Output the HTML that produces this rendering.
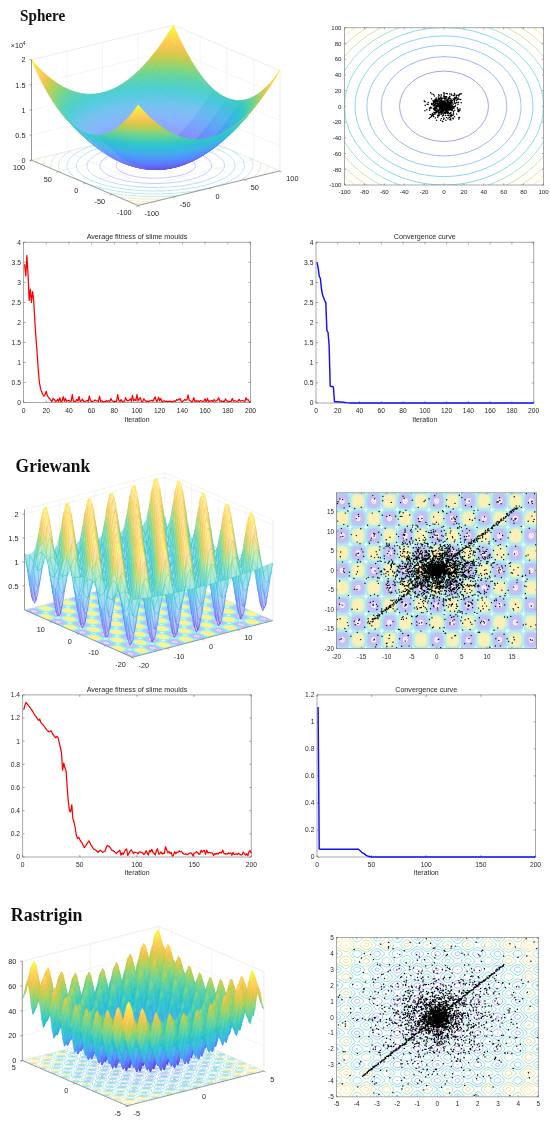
<!DOCTYPE html><html><head><meta charset="utf-8"><title>Benchmark functions</title><style>html,body{margin:0;padding:0;background:#fff}svg{display:block}</style></head><body>
<svg width="550" height="1123" viewBox="0 0 550 1123" font-family="Liberation Sans, Arial, sans-serif">
<rect width="550" height="1123" fill="#fff"/>
<text transform="translate(20 20.6) scale(1 1.14)" font-size="15.2" fill="#111" font-family="Liberation Serif, Times New Roman, serif" font-weight="bold">Sphere</text>
<text transform="translate(15.6 471.6) scale(1 1.055)" font-size="17.45" fill="#111" font-family="Liberation Serif, Times New Roman, serif" font-weight="bold">Griewank</text>
<text transform="translate(10.8 921.4) scale(1 1.035)" font-size="17.9" fill="#111" font-family="Liberation Serif, Times New Roman, serif" font-weight="bold">Rastrigin</text>
<path d="M23.5 242.3H250.5V402.5H23.5zM23.5 402.5v-2M23.5 242.3v2M46.2 402.5v-2M46.2 242.3v2M68.9 402.5v-2M68.9 242.3v2M91.6 402.5v-2M91.6 242.3v2M114.3 402.5v-2M114.3 242.3v2M137 402.5v-2M137 242.3v2M159.7 402.5v-2M159.7 242.3v2M182.4 402.5v-2M182.4 242.3v2M205.1 402.5v-2M205.1 242.3v2M227.8 402.5v-2M227.8 242.3v2M250.5 402.5v-2M250.5 242.3v2M23.5 402.5h2M250.5 402.5h-2M23.5 382.5h2M250.5 382.5h-2M23.5 362.4h2M250.5 362.4h-2M23.5 342.4h2M250.5 342.4h-2M23.5 322.4h2M250.5 322.4h-2M23.5 302.4h2M250.5 302.4h-2M23.5 282.4h2M250.5 282.4h-2M23.5 262.3h2M250.5 262.3h-2M23.5 242.3h2M250.5 242.3h-2" fill="none" stroke="#606060" stroke-width=".55"/>
<text x="23.5" y="412.8" font-size="6.7" text-anchor="middle" fill="#262626">0</text>
<text x="46.2" y="412.8" font-size="6.7" text-anchor="middle" fill="#262626">20</text>
<text x="68.9" y="412.8" font-size="6.7" text-anchor="middle" fill="#262626">40</text>
<text x="91.6" y="412.8" font-size="6.7" text-anchor="middle" fill="#262626">60</text>
<text x="114.3" y="412.8" font-size="6.7" text-anchor="middle" fill="#262626">80</text>
<text x="137" y="412.8" font-size="6.7" text-anchor="middle" fill="#262626">100</text>
<text x="159.7" y="412.8" font-size="6.7" text-anchor="middle" fill="#262626">120</text>
<text x="182.4" y="412.8" font-size="6.7" text-anchor="middle" fill="#262626">140</text>
<text x="205.1" y="412.8" font-size="6.7" text-anchor="middle" fill="#262626">160</text>
<text x="227.8" y="412.8" font-size="6.7" text-anchor="middle" fill="#262626">180</text>
<text x="250.5" y="412.8" font-size="6.7" text-anchor="middle" fill="#262626">200</text>
<text x="20.9" y="404.9" font-size="6.7" text-anchor="end" fill="#262626">0</text>
<text x="20.9" y="384.9" font-size="6.7" text-anchor="end" fill="#262626">0.5</text>
<text x="20.9" y="364.9" font-size="6.7" text-anchor="end" fill="#262626">1</text>
<text x="20.9" y="344.8" font-size="6.7" text-anchor="end" fill="#262626">1.5</text>
<text x="20.9" y="324.8" font-size="6.7" text-anchor="end" fill="#262626">2</text>
<text x="20.9" y="304.8" font-size="6.7" text-anchor="end" fill="#262626">2.5</text>
<text x="20.9" y="284.8" font-size="6.7" text-anchor="end" fill="#262626">3</text>
<text x="20.9" y="264.7" font-size="6.7" text-anchor="end" fill="#262626">3.5</text>
<text x="20.9" y="244.7" font-size="6.7" text-anchor="end" fill="#262626">4</text>
<text x="137" y="238.8" font-size="7.15" text-anchor="middle" fill="#262626">Average fitness of slime moulds</text>
<text x="137" y="422.2" font-size="6.95" text-anchor="middle" fill="#262626">Iteration</text>
<path d="M24.6 264.3l1.2 11.6 1.1-20.4 1.1 18.8 1.2 26.1 1.1-11.2 1.1 13.2 1.2-10.8 1.1 8.8 1.1 20 1.2 18 1.1 14.4 1.2 17.7 1.1 12 1.1 5.6 1.2 4 1.1 2.4 1.1 1.6 1.2-1.6 1.1-3.2 1.1 4.4 1.2 1.6 1.1 1.2 1.1 1.6 1.2 1.6 1.1-3.2 1.1 .6 1.2 2.5 1.1-.4 1.2-1.9 1.1 2.2 1.1-3.7 1.2 3.9 1.1-.6 1.1-4.5 1.2 4.8 1.1-2.9 1.1 2.8 1.2-.8 1.1-.2 1.1 1 1.2-.1 1.1-6.7 1.1 6.6 1.2 .3 1.1 .3 1.1-2.4 1.2 1.9 1.1-4.7 1.1 5 1.2-.7 1.1-1.6 1.2 2.2 1.1 .1 1.1-.5 1.2-.6 1.1 1.3 1.1-5.6 1.2 4.6 1.1 .8 1.1 0 1.2-.5 1.1-1.1 1.1 1 1.2-.1 1.1 .7 1.1-5.4 1.2 5.5 1.1-1 1.2 1.1 1.1-.1 1.1 .1 1.2-1.2 1.1 1 1.1-.8 1.2 .8 1.1-3 1.1 2.2 1.2 .8 1.1 0 1.1-.1 1.2 0 1.1-6.9 1.1 6 1.2 1.1 1.1-2 1.1 2 1.2-.3 1.1-.2 1.1-3.4 1.2 2.6 1.1 .8 1.2-.9 1.1-1.4 1.1 2.5 1.2-6 1.1 5.7 1.1-1.5 1.2 1 1.1-6 1.1 6.3 1.2-1.7 1.1-1.4 1.1 3.9 1.2 .1 1.1-2.9 1.1 1.4 1.2 1.1 1.1-.2 1.2 .5 1.1-.7 1.1 0 1.2-.5 1.1 .7 1.1-2 1.2-2.2 1.1 4.3 1.1 .1 1.2-4 1.1 3.2 1.1-2 1.2 3.2 1.1-.5 1.1-.3 1.2 .4 1.1-.2 1.1 .6 1.2-.3 1.1-.2 1.1 .3 1.2 .2 1.1-.2 1.2-.8 1.1 .8 1.1-1.8 1.2 .5 1.1-1 1.1-.6 1.2 3.1 1.1-.3 1.1-.6 1.2-1.4 1.1 .8 1.1-.2 1.2-5.1 1.1 5.4 1.1 .5 1.2 .9 1.1-.2 1.2-3.8 1.1 4 1.1-1.1 1.2 .8 1.1-.5 1.1 .7 1.2-1 1.1 .4 1.1 .5 1.2-.5 1.1-2.1 1.1 2.6 1.2-3 1.1 3.2 1.1-.9 1.2 .4 1.1-.9 1.1 1.4 1.2-2.2 1.1 1.9 1.1-.4 1.2-1.2 1.1-2.1 1.2 3.6 1.1-.6 1.1 1 1.2-.6 1.1 .5 1.1-2.7 1.2 2.1 1.1 .1 1.1 .6 1.2-.4 1.1 .1 1.1-2.9 1.2 2.7 1.1-.5 1.1 .3 1.2 .5 1.1-.3 1.2-1.9 1.1 2 1.1-.6 1.2 0 1.1 .3 1.1 .6 1.2-3.9 1.1 2.3 1.1-.3 1.2 2 1.1-.2" fill="none" stroke="#f00" stroke-width="1.25" stroke-linejoin="round"/>
<path d="M316 242.3H533.7V403H316zM316 403v-2M316 242.3v2M337.8 403v-2M337.8 242.3v2M359.5 403v-2M359.5 242.3v2M381.3 403v-2M381.3 242.3v2M403.1 403v-2M403.1 242.3v2M424.9 403v-2M424.9 242.3v2M446.6 403v-2M446.6 242.3v2M468.4 403v-2M468.4 242.3v2M490.2 403v-2M490.2 242.3v2M511.9 403v-2M511.9 242.3v2M533.7 403v-2M533.7 242.3v2M316 403h2M533.7 403h-2M316 382.9h2M533.7 382.9h-2M316 362.8h2M533.7 362.8h-2M316 342.7h2M533.7 342.7h-2M316 322.6h2M533.7 322.6h-2M316 302.6h2M533.7 302.6h-2M316 282.5h2M533.7 282.5h-2M316 262.4h2M533.7 262.4h-2M316 242.3h2M533.7 242.3h-2" fill="none" stroke="#606060" stroke-width=".55"/>
<text x="316" y="413.3" font-size="6.7" text-anchor="middle" fill="#262626">0</text>
<text x="337.8" y="413.3" font-size="6.7" text-anchor="middle" fill="#262626">20</text>
<text x="359.5" y="413.3" font-size="6.7" text-anchor="middle" fill="#262626">40</text>
<text x="381.3" y="413.3" font-size="6.7" text-anchor="middle" fill="#262626">60</text>
<text x="403.1" y="413.3" font-size="6.7" text-anchor="middle" fill="#262626">80</text>
<text x="424.9" y="413.3" font-size="6.7" text-anchor="middle" fill="#262626">100</text>
<text x="446.6" y="413.3" font-size="6.7" text-anchor="middle" fill="#262626">120</text>
<text x="468.4" y="413.3" font-size="6.7" text-anchor="middle" fill="#262626">140</text>
<text x="490.2" y="413.3" font-size="6.7" text-anchor="middle" fill="#262626">160</text>
<text x="511.9" y="413.3" font-size="6.7" text-anchor="middle" fill="#262626">180</text>
<text x="533.7" y="413.3" font-size="6.7" text-anchor="middle" fill="#262626">200</text>
<text x="313.4" y="405.4" font-size="6.7" text-anchor="end" fill="#262626">0</text>
<text x="313.4" y="385.3" font-size="6.7" text-anchor="end" fill="#262626">0.5</text>
<text x="313.4" y="365.2" font-size="6.7" text-anchor="end" fill="#262626">1</text>
<text x="313.4" y="345.1" font-size="6.7" text-anchor="end" fill="#262626">1.5</text>
<text x="313.4" y="325.1" font-size="6.7" text-anchor="end" fill="#262626">2</text>
<text x="313.4" y="305" font-size="6.7" text-anchor="end" fill="#262626">2.5</text>
<text x="313.4" y="284.9" font-size="6.7" text-anchor="end" fill="#262626">3</text>
<text x="313.4" y="264.8" font-size="6.7" text-anchor="end" fill="#262626">3.5</text>
<text x="313.4" y="244.7" font-size="6.7" text-anchor="end" fill="#262626">4</text>
<text x="424.8" y="238.8" font-size="7.15" text-anchor="middle" fill="#262626">Convergence curve</text>
<text x="424.8" y="422.2" font-size="6.95" text-anchor="middle" fill="#262626">Iteration</text>
<path d="M317.1 262.4l1.1 6 1.1 8 1.1 2.1 1 10 1.1 6 1.1 3.2 1.1 2.9 1.1 2 1.1 28.1 1.1 1.6 1.1 12.4 1.1 41.4 1 .4 1.1 0 1.1 .4 1.1 14.9 3.3 0 5.4 .4 3.3 .4 4.3 .4 182.9 0" fill="none" stroke="#11f" stroke-width="1.45" stroke-linejoin="round"/>
<path d="M22.6 694.9H251.3V857H22.6zM22.6 857v-2M22.6 694.9v2M79.8 857v-2M79.8 694.9v2M137 857v-2M137 694.9v2M194.1 857v-2M194.1 694.9v2M251.3 857v-2M251.3 694.9v2M22.6 857h2M251.3 857h-2M22.6 833.8h2M251.3 833.8h-2M22.6 810.7h2M251.3 810.7h-2M22.6 787.5h2M251.3 787.5h-2M22.6 764.3h2M251.3 764.3h-2M22.6 741.2h2M251.3 741.2h-2M22.6 718h2M251.3 718h-2M22.6 694.9h2M251.3 694.9h-2" fill="none" stroke="#606060" stroke-width=".55"/>
<text x="22.6" y="866.7" font-size="6.7" text-anchor="middle" fill="#262626">0</text>
<text x="79.8" y="866.7" font-size="6.7" text-anchor="middle" fill="#262626">50</text>
<text x="137" y="866.7" font-size="6.7" text-anchor="middle" fill="#262626">100</text>
<text x="194.1" y="866.7" font-size="6.7" text-anchor="middle" fill="#262626">150</text>
<text x="251.3" y="866.7" font-size="6.7" text-anchor="middle" fill="#262626">200</text>
<text x="20" y="859.4" font-size="6.7" text-anchor="end" fill="#262626">0</text>
<text x="20" y="836.2" font-size="6.7" text-anchor="end" fill="#262626">0.2</text>
<text x="20" y="813.1" font-size="6.7" text-anchor="end" fill="#262626">0.4</text>
<text x="20" y="789.9" font-size="6.7" text-anchor="end" fill="#262626">0.6</text>
<text x="20" y="766.8" font-size="6.7" text-anchor="end" fill="#262626">0.8</text>
<text x="20" y="743.6" font-size="6.7" text-anchor="end" fill="#262626">1</text>
<text x="20" y="720.4" font-size="6.7" text-anchor="end" fill="#262626">1.2</text>
<text x="20" y="697.3" font-size="6.7" text-anchor="end" fill="#262626">1.4</text>
<text x="137" y="691.8" font-size="7.15" text-anchor="middle" fill="#262626">Average fitness of slime moulds</text>
<text x="137" y="875.2" font-size="6.95" text-anchor="middle" fill="#262626">Iteration</text>
<path d="M23.7 709.9l1.2-4.6 1.1-2.9 1.2 1.4 1.1 1.5 1.2 1.5 1.1 1.6 1.1 1.5 1.2 1.9 1.1 2 1.2 1.9 1.1 1.5 1.2 1.6 1.1 1.5 1.2-1.1 1.1 3.4 1.1 1.2 1.2 1.2 1.1 1.5 1.2 1.6 1.1 1.5 1.2 1.2 1.1 1.1 1.1-.6 1.2-.5 1.1 2.3 1.2 2.3 1.1 1.1 1.2 1.2 1.1-1.2 1.1 1.2 1.2 4.6 1.1 4.7 1.2 5.8 1.1 17.3 1.2-6.9 1.1 4.6 1.2 3.5 1.1 16.2 1.1 13.9 1.2 9.3 1.1 1.1 1.2-6.9 1.1 13.9 1.2 3.5 1.1 5.7 1.1 7 1.2 3.5 1.1-1.2 1.2 2.3 1.1 1.8 1.2 1.7 1.1 2.3 1.1 2.3 1.2-1.7 1.1-1.7 1.2-1.8 1.1-1.7 1.2 2.3 1.1 2.3 1.2 1.8 1.1 1.7 1.1 .6 1.2 .6 1.1 1.1 1.2 1.2 1.1-1.2 1.2-1.1 1.1 1.1 1.1 1.2 1.2-.6 1.1-.6 1.2-2.9 1.1-2.9 1.2 .6 1.1 .6 1.1 1.7 1.2 1.8 1.1 .5 1.2 .6 1.1 1.2 1.2 1.1 1.1-1.1 1.2-1.2 1.1-1.1 1.1 5 1.2-2.2 1.1 1.7 1.2-2.6 1.1-2.2 1.2-.8 1.1 6.4 1.1-2 1.2-2.1 1.1-1.5 1.2 2 1.1 1.9 1.2-1.7 1.1 .5 1.2 .4 1.1 .9 1.1-1.9 1.2 .2 1.1 .6 1.2 .2 1.1 1.8 1.2-1.3 1.1-2.7 1.1 2.2 1.2 2.1 1.1-4.5 1.2 1.3 1.1-2.5 1.2 3.3 1.1 .8 1.1 1.6 1.2-4.4 1.1-1.9 1.2 5.4 1.1-.3 1.2-2 1.1 2.3 1.2-.9 1.1 .2 1.1-6.8 1.2 3.5 1.1 2.7 1.2-1.3 1.1 2 1.2-1.1 1.1 3.8 1.1-1.1 1.2-3.4 1.1 2.1 1.2-1.7 1.1 .1 1.2-1.2 1.1 .8 1.1-.3 1.2 1.7 1.1 .9 1.2 0 1.1-.3 1.2 .9 1.1-.8 1.2-.7 1.1-.5 1.1 .9 1.2 2.3 1.1-2.7 1.2-.4 1.1-1.2 1.2 .8 1.1 1.7 1.1 .1 1.2-3.8 1.1 1.8 1.2-1.5 1.1-.4 1.2 4.1 1.1-4.3 1.1 2.6 1.2-.2 1.1 .1 1.2 .4 1.1 .1 1.2 2.3 1.1-1.8 1.2 .8 1.1-1.2 1.1 .8 1.2-1.4 1.1-.3 1.2 .7 1.1-2.9 1.2 3.2 1.1 .8 1.1-.4 1.2 .4 1.1-1.1 1.2 .5 1.1-.7 1.2 2.5 1.1-2.9 1.1 2.1 1.2 0 1.1-.7 1.2 .5 1.1-1 1.2 1.1 1.1 .6 1.2-.3 1.1-2.7 1.1 1.6 1.2 1.5 1.1-1.4 1.2 1.9 1.1-4 1.2-1 1.1 2.6" fill="none" stroke="#f00" stroke-width="1.25" stroke-linejoin="round"/>
<path d="M317 694.9H535.5V857H317zM317 857v-2M317 694.9v2M371.6 857v-2M371.6 694.9v2M426.2 857v-2M426.2 694.9v2M480.9 857v-2M480.9 694.9v2M535.5 857v-2M535.5 694.9v2M317 857h2M535.5 857h-2M317 830h2M535.5 830h-2M317 803h2M535.5 803h-2M317 775.9h2M535.5 775.9h-2M317 748.9h2M535.5 748.9h-2M317 721.9h2M535.5 721.9h-2M317 694.9h2M535.5 694.9h-2" fill="none" stroke="#606060" stroke-width=".55"/>
<text x="317" y="866.7" font-size="6.7" text-anchor="middle" fill="#262626">0</text>
<text x="371.6" y="866.7" font-size="6.7" text-anchor="middle" fill="#262626">50</text>
<text x="426.2" y="866.7" font-size="6.7" text-anchor="middle" fill="#262626">100</text>
<text x="480.9" y="866.7" font-size="6.7" text-anchor="middle" fill="#262626">150</text>
<text x="535.5" y="866.7" font-size="6.7" text-anchor="middle" fill="#262626">200</text>
<text x="314.4" y="859.4" font-size="6.7" text-anchor="end" fill="#262626">0</text>
<text x="314.4" y="832.4" font-size="6.7" text-anchor="end" fill="#262626">0.2</text>
<text x="314.4" y="805.4" font-size="6.7" text-anchor="end" fill="#262626">0.4</text>
<text x="314.4" y="778.3" font-size="6.7" text-anchor="end" fill="#262626">0.6</text>
<text x="314.4" y="751.3" font-size="6.7" text-anchor="end" fill="#262626">0.8</text>
<text x="314.4" y="724.3" font-size="6.7" text-anchor="end" fill="#262626">1</text>
<text x="314.4" y="697.3" font-size="6.7" text-anchor="end" fill="#262626">1.2</text>
<text x="426.2" y="691.8" font-size="7.15" text-anchor="middle" fill="#262626">Convergence curve</text>
<text x="426.2" y="875.2" font-size="6.95" text-anchor="middle" fill="#262626">Iteration</text>
<path d="M318.1 707l1.1 141.9 1.1 .3 38.2 0 1.1 1 2.2 2.1 2.2 1.3 2.2 1.8 2.1 .9 3.3 .7 163.9 0" fill="none" stroke="#11f" stroke-width="1.45" stroke-linejoin="round"/>
<defs>
<clipPath id="kS"><rect x="344.5" y="27.7" width="199" height="157.3"/></clipPath>
<g id="cS" clip-path="url(#kS)" fill="none" stroke-width=".95"><ellipse cx="444" cy="106.3" rx="44.5" ry="35.2" stroke="#9f9df3"/><ellipse cx="444" cy="106.3" rx="62.9" ry="49.7" stroke="#9db0fe"/><ellipse cx="444" cy="106.3" rx="77.1" ry="60.9" stroke="#92c3f9"/><ellipse cx="444" cy="106.3" rx="89" ry="70.3" stroke="#89d3ee"/><ellipse cx="444" cy="106.3" rx="99.5" ry="78.7" stroke="#84dddb"/><ellipse cx="444" cy="106.3" rx="109" ry="86.2" stroke="#a0e4c0"/><ellipse cx="444" cy="106.3" rx="117.7" ry="93.1" stroke="#cde39d"/><ellipse cx="444" cy="106.3" rx="125.9" ry="99.5" stroke="#f4db94"/><ellipse cx="444" cy="106.3" rx="133.5" ry="105.5" stroke="#fde992"/></g>
<g id="tG"><rect width="31.79" height="35.00" fill="#aeeaf0"/><path d="M4.5 .9l-1.6 .3-.9 .5-.7 .9-.3 1.2-.4 2.9 0 4 .3 2.6 .2 .9 .4 .8 .6 .7 .8 .4 1.3 .4 1.6 .1 2.6 .1 2.4-.1 1.5-.3 1.1-.4 .6-.6 .5-.8 .4-1.5 .2-1.7 0-3.2-.1-2.9-.3-1.7-.5-1.2-.5-.6-.6-.4-.8-.2-.9-.2-3.5-.2zM20.2 18.2l-1.6 .4-.9 .5-.6 .9-.4 1.1-.3 2.9 0 4 .3 2.6 .2 .9 .3 .9 .6 .6 .8 .5 1.3 .3 1.6 .2 2.6 0 2.4-.1 1.6-.3 1-.4 .7-.5 .5-.9 .3-1.4 .2-1.8 .1-3.2-.2-2.8-.2-1.8-.5-1.1-.5-.6-.6-.4-.8-.3-1-.2-3.5-.2z" fill="#b0dcf4"/><path d="M5.2 1.7l-1.3 .4-1 .6-.8 1.1-.4 1.1-.3 2.3-.1 2.6 .3 2.3 .5 1.5 .6 .9 .8 .5 1 .5 1.3 .3 1.8 .1 1.8-.1 1.6-.3 1.1-.4 .8-.5 .5-.7 .6-1.2 .3-1.4 .1-2 0-2.4-.3-1.7-.5-1.4-.5-.8-.5-.5-.8-.4-1-.4-1.4-.2-1.3 0-1.5 0zM21 19l-1.3 .4-1.1 .7-.7 1-.4 1.2-.4 2.3 0 2.6 .3 2.3 .5 1.4 .6 .9 .7 .6 1 .4 1.3 .3 1.9 .1 1.8 0 1.6-.3 1-.4 .8-.6 .6-.7 .5-1.1 .3-1.5 .2-2-.1-2.3-.2-1.7-.5-1.5-.5-.7-.6-.5-.7-.5-1.1-.3-1.3-.2-1.3-.1-1.6 .1z" fill="#b8c8f6"/><path d="M6.3 2.6l-1.1 .3-1.1 .6-.7 .7-.6 1-.4 1.5-.2 1.7 .2 2 .3 1.5 .4 .8 .6 .8 .8 .6 .7 .4 1.4 .3 1.3 .1 1.3-.1 1.3-.3 1-.6 .7-.6 .6-.9 .3-.8 .3-1.5 .1-1.7-.1-1.5-.4-1.4-.3-.9-.6-.7-.6-.5-.7-.4-1.1-.4-1-.1-1.4 0zM22 19.9l-1.1 .3-1 .6-.7 .7-.6 1.1-.5 1.4-.1 1.7 .1 2.1 .3 1.4 .4 .9 .6 .7 .8 .7 .8 .3 1.3 .3 1.3 .1 1.3-.1 1.3-.3 1.1-.5 .7-.7 .6-.8 .3-.9 .3-1.4 .1-1.8-.2-1.5-.3-1.4-.4-.8-.6-.8-.5-.4-.8-.5-1-.3-1.1-.2-1.3 0z" fill="#c6bef4"/><path d="M7.1 6.1l-.5 .2-.4 .4-.6 .8-.2 .9 .1 1.1 .2 .6 .3 .4 .8 .7 .8 .2 1.1-.1 .5-.3 .4-.3 .5-.9 .2-.8-.1-1.2-.2-.6-.3-.4-.8-.6-.8-.2zM22.8 23.4l-.5 .3-.4 .3-.5 .9-.2 .8 .1 1.2 .2 .6 .3 .4 .8 .6 .8 .2 1-.1 .5-.2 .4-.4 .6-.8 .2-.9-.1-1.1-.3-.6-.2-.5-.8-.6-.8-.2z" fill="#fff"/><path d="M22.2 1.2l3 0 1.3 .1 1.1 .3 .7 .3 .6 .4 .5 .6 .5 .9 .3 1.4 .3 2.3-.1 2.6-.2 2-.3 1.4-.5 1-.5 .6-1.1 .6-1.6 .4-1.8 .1-2.1 0-1.8-.2-1.2-.4-.9-.5-.6-.6-.4-.9-.5-2-.1-2.9 .1-2.9 .5-2 .6-1.2 .9-.7 1.3-.5zM6.5 18.5l2.9 0 1.4 .2 1 .2 .8 .4 .6 .4 .5 .5 .4 .9 .4 1.5 .2 2.3 0 2.6-.2 2-.3 1.3-.5 1-.6 .6-1 .6-1.6 .4-1.8 .2-2.1-.1-1.9-.2-1.2-.3-.9-.6-.5-.6-.5-.9-.4-2-.2-2.9 .2-2.9 .4-2 .7-1.1 .8-.7 1.4-.5z" fill="#d2f0cc"/><path d="M21.8 2.3l1-.1 1.3 0 1.4 .1 1 .3 .8 .4 .7 .5 .5 .5 .4 .9 .4 1.5 .2 1.7 0 1.7-.3 1.8-.4 1.1-.6 .9-.6 .6-1.1 .5-1.3 .4-1.3 .1-1.3-.1-1.3-.2-1.1-.4-.8-.5-.6-.7-.5-.9-.4-1.4-.2-2 .1-2.1 .4-1.7 .6-1.2 .6-.7 1.1-.6zM6 19.7l1.1-.2 1.3 0 1.3 .2 1.1 .2 .7 .4 .7 .5 .5 .6 .5 .9 .4 1.4 .2 1.7-.1 1.8-.2 1.7-.4 1.2-.6 .8-.7 .7-1 .5-1.4 .3-1.3 .1-1.3 0-1.3-.2-1-.4-.8-.5-.7-.8-.4-.8-.4-1.5-.2-2 .1-2 .4-1.7 .5-1.2 .7-.7 1-.7z" fill="#eef0c0"/><path d="M22.8 3.5l1.1-.1 1 .2 .8 .2 .8 .4 .8 .7 .4 .6 .3 .9 .3 .8 .1 1.2-.1 1.4-.3 1.2-.3 .9-.4 .5-.8 .7-.8 .4-1 .3-1.1 .1-1-.1-1.1-.3-.8-.4-.7-.7-.4-.5-.4-.9-.2-.9-.1-1.1 0-1.5 .3-1.1 .4-.9 .6-.8 .8-.6 .8-.4zM7.1 20.8l1 0 1.1 .1 .8 .2 .8 .5 .7 .7 .4 .5 .4 .9 .2 .9 .1 1.1 0 1.5-.3 1.1-.4 .9-.4 .6-.7 .7-.8 .4-1.1 .3-1 .1-1.1-.1-1-.3-.8-.4-.8-.7-.4-.6-.4-.9-.2-.8-.1-1.2 .1-1.4 .2-1.2 .4-.9 .7-.8 .7-.6 .8-.3z" fill="#fbf0b8"/><path d="M7.3 7.5l-.2 .1-.3 .5-.2 .6 .2 .6 .3 .4 .2 .2 .6 .1 .5-.1 .4-.4 .2-.2 .1-.6-.1-.6-.2-.3-.4-.3-.5-.2zM23.1 24.8l-.4 .4-.2 .2-.1 .6 .1 .6 .2 .3 .4 .3 .5 .2 .5-.2 .3-.1 .3-.5 .1-.6-.1-.6-.3-.4-.3-.2-.5-.1z" fill="none" stroke="#b8a8ee" stroke-width=".5"/></g>
<clipPath id="kG"><rect x="336.5" y="492.7" width="200" height="155.8"/></clipPath>
<path id="sG" d="M2.6 0L.7 .8 0 2.9 -.7 .8 -2.6 0 -.7 -.8 0 -2.9 .7 -.8z" fill="#fff"/>
<g id="cG" clip-path="url(#kG)"><use href="#tG" x="334.39" y="492.34"/><use href="#tG" x="334.39" y="527.03"/><use href="#tG" x="334.39" y="561.73"/><use href="#tG" x="334.39" y="596.43"/><use href="#tG" x="334.39" y="631.12"/><use href="#tG" x="365.89" y="492.34"/><use href="#tG" x="365.89" y="527.03"/><use href="#tG" x="365.89" y="561.73"/><use href="#tG" x="365.89" y="596.43"/><use href="#tG" x="365.89" y="631.12"/><use href="#tG" x="397.38" y="492.34"/><use href="#tG" x="397.38" y="527.03"/><use href="#tG" x="397.38" y="561.73"/><use href="#tG" x="397.38" y="596.43"/><use href="#tG" x="397.38" y="631.12"/><use href="#tG" x="428.88" y="492.34"/><use href="#tG" x="428.88" y="527.03"/><use href="#tG" x="428.88" y="561.73"/><use href="#tG" x="428.88" y="596.43"/><use href="#tG" x="428.88" y="631.12"/><use href="#tG" x="460.37" y="492.34"/><use href="#tG" x="460.37" y="527.03"/><use href="#tG" x="460.37" y="561.73"/><use href="#tG" x="460.37" y="596.43"/><use href="#tG" x="460.37" y="631.12"/><use href="#tG" x="491.87" y="492.34"/><use href="#tG" x="491.87" y="527.03"/><use href="#tG" x="491.87" y="561.73"/><use href="#tG" x="491.87" y="596.43"/><use href="#tG" x="491.87" y="631.12"/><use href="#tG" x="523.36" y="492.34"/><use href="#tG" x="523.36" y="527.03"/><use href="#tG" x="523.36" y="561.73"/><use href="#tG" x="523.36" y="596.43"/><use href="#tG" x="523.36" y="631.12"/><use href="#sG" x="350.1" y="492.3"/><use href="#sG" x="350.1" y="509.7"/><use href="#sG" x="350.1" y="527.0"/><use href="#sG" x="350.1" y="544.4"/><use href="#sG" x="350.1" y="561.7"/><use href="#sG" x="350.1" y="579.1"/><use href="#sG" x="350.1" y="596.4"/><use href="#sG" x="350.1" y="613.8"/><use href="#sG" x="350.1" y="631.1"/><use href="#sG" x="350.1" y="648.5"/><use href="#sG" x="365.9" y="492.3"/><use href="#sG" x="365.9" y="509.7"/><use href="#sG" x="365.9" y="527.0"/><use href="#sG" x="365.9" y="544.4"/><use href="#sG" x="365.9" y="561.7"/><use href="#sG" x="365.9" y="579.1"/><use href="#sG" x="365.9" y="596.4"/><use href="#sG" x="365.9" y="613.8"/><use href="#sG" x="365.9" y="631.1"/><use href="#sG" x="365.9" y="648.5"/><use href="#sG" x="381.6" y="492.3"/><use href="#sG" x="381.6" y="509.7"/><use href="#sG" x="381.6" y="527.0"/><use href="#sG" x="381.6" y="544.4"/><use href="#sG" x="381.6" y="561.7"/><use href="#sG" x="381.6" y="579.1"/><use href="#sG" x="381.6" y="596.4"/><use href="#sG" x="381.6" y="613.8"/><use href="#sG" x="381.6" y="631.1"/><use href="#sG" x="381.6" y="648.5"/><use href="#sG" x="397.4" y="492.3"/><use href="#sG" x="397.4" y="509.7"/><use href="#sG" x="397.4" y="527.0"/><use href="#sG" x="397.4" y="544.4"/><use href="#sG" x="397.4" y="561.7"/><use href="#sG" x="397.4" y="579.1"/><use href="#sG" x="397.4" y="596.4"/><use href="#sG" x="397.4" y="613.8"/><use href="#sG" x="397.4" y="631.1"/><use href="#sG" x="397.4" y="648.5"/><use href="#sG" x="413.1" y="492.3"/><use href="#sG" x="413.1" y="509.7"/><use href="#sG" x="413.1" y="527.0"/><use href="#sG" x="413.1" y="544.4"/><use href="#sG" x="413.1" y="561.7"/><use href="#sG" x="413.1" y="579.1"/><use href="#sG" x="413.1" y="596.4"/><use href="#sG" x="413.1" y="613.8"/><use href="#sG" x="413.1" y="631.1"/><use href="#sG" x="413.1" y="648.5"/><use href="#sG" x="428.9" y="492.3"/><use href="#sG" x="428.9" y="509.7"/><use href="#sG" x="428.9" y="527.0"/><use href="#sG" x="428.9" y="544.4"/><use href="#sG" x="428.9" y="561.7"/><use href="#sG" x="428.9" y="579.1"/><use href="#sG" x="428.9" y="596.4"/><use href="#sG" x="428.9" y="613.8"/><use href="#sG" x="428.9" y="631.1"/><use href="#sG" x="428.9" y="648.5"/><use href="#sG" x="444.6" y="492.3"/><use href="#sG" x="444.6" y="509.7"/><use href="#sG" x="444.6" y="527.0"/><use href="#sG" x="444.6" y="544.4"/><use href="#sG" x="444.6" y="561.7"/><use href="#sG" x="444.6" y="579.1"/><use href="#sG" x="444.6" y="596.4"/><use href="#sG" x="444.6" y="613.8"/><use href="#sG" x="444.6" y="631.1"/><use href="#sG" x="444.6" y="648.5"/><use href="#sG" x="460.4" y="492.3"/><use href="#sG" x="460.4" y="509.7"/><use href="#sG" x="460.4" y="527.0"/><use href="#sG" x="460.4" y="544.4"/><use href="#sG" x="460.4" y="561.7"/><use href="#sG" x="460.4" y="579.1"/><use href="#sG" x="460.4" y="596.4"/><use href="#sG" x="460.4" y="613.8"/><use href="#sG" x="460.4" y="631.1"/><use href="#sG" x="460.4" y="648.5"/><use href="#sG" x="476.1" y="492.3"/><use href="#sG" x="476.1" y="509.7"/><use href="#sG" x="476.1" y="527.0"/><use href="#sG" x="476.1" y="544.4"/><use href="#sG" x="476.1" y="561.7"/><use href="#sG" x="476.1" y="579.1"/><use href="#sG" x="476.1" y="596.4"/><use href="#sG" x="476.1" y="613.8"/><use href="#sG" x="476.1" y="631.1"/><use href="#sG" x="476.1" y="648.5"/><use href="#sG" x="491.9" y="492.3"/><use href="#sG" x="491.9" y="509.7"/><use href="#sG" x="491.9" y="527.0"/><use href="#sG" x="491.9" y="544.4"/><use href="#sG" x="491.9" y="561.7"/><use href="#sG" x="491.9" y="579.1"/><use href="#sG" x="491.9" y="596.4"/><use href="#sG" x="491.9" y="613.8"/><use href="#sG" x="491.9" y="631.1"/><use href="#sG" x="491.9" y="648.5"/><use href="#sG" x="507.6" y="492.3"/><use href="#sG" x="507.6" y="509.7"/><use href="#sG" x="507.6" y="527.0"/><use href="#sG" x="507.6" y="544.4"/><use href="#sG" x="507.6" y="561.7"/><use href="#sG" x="507.6" y="579.1"/><use href="#sG" x="507.6" y="596.4"/><use href="#sG" x="507.6" y="613.8"/><use href="#sG" x="507.6" y="631.1"/><use href="#sG" x="507.6" y="648.5"/><use href="#sG" x="523.4" y="492.3"/><use href="#sG" x="523.4" y="509.7"/><use href="#sG" x="523.4" y="527.0"/><use href="#sG" x="523.4" y="544.4"/><use href="#sG" x="523.4" y="561.7"/><use href="#sG" x="523.4" y="579.1"/><use href="#sG" x="523.4" y="596.4"/><use href="#sG" x="523.4" y="613.8"/><use href="#sG" x="523.4" y="631.1"/><use href="#sG" x="523.4" y="648.5"/></g>
<g id="qR" fill="none" stroke-width=".7"><path d="M15.3 0l.5 1.3 1 1.1 1.7 1 1.7 .3 1.7-.4 1.3-.8 1.1-1.2 .5-1.3M36.4 0l.3 1 .7 .9 1.3 .7 1.3 .3 1.4-.2 1.2-.6 .9-1 .3-1.1M58.8 0l.4 .8 1 .4 1-.3 .4-.4 .1-.5M0 4l1.7-.4 1.6-.9 1.3-1.4 .4-1.3M19.2 12.5l-1.4 .5-1.3 1.1-.8 1.3 .1 1.1 .8 1.3 1.6 1 1.7 .5 1.6-.3 1.4-.7 1-1 .5-1.1-.1-1.1-.7-1.1-1.4-1.1-1.3-.5zM39.4 13.3l-1.4 .6-.9 1-.3 1 .2 .8 1 1.1 1.1 .5 1.3 .2 1.5-.4 1-.8 .5-.8 .1-.8-.3-.8-.6-.8-.9-.6-1-.3zM60.2 15.6l-.2 .3 .2 .2 .4-.2zM0 19.5l1.7-.3 1.5-.9 1-1 .5-1.4-.4-1.3-1.2-1.3-1.4-.9-1.7-.3M19.2 29.1l-1.3 .6-.8 .8-.4 1.1 .3 1.1 1 1 1.4 .5 1.5 0 1.2-.5 .9-.8 .4-.8 0-.8-.4-.8-.8-.8-1-.5-1-.2zM39.4 30.2l-.7 .3-.6 .8 .1 .8 .3 .6 .8 .5 .7 .1 1.1-.1 .6-.4 .5-.9-.3-1.1-1.2-.7zM0 34.6l1.3-.2 1.4-.8 .8-.9 .2-1.1-.4-1.1-.9-1-1.1-.6-1.3-.2M19.9 47.4l0 .3 .3 .1 .2-.3-.2-.2zM0 48.7l1.1-.4 .4-.8-.5-.8-1-.3" stroke="#8487f4"/><path d="M10.9 0l.2 .5 .9 .8 4.8 3.8 2 1.3 1.4 .3 1.7-.6 3.5-2.6 2.2-2.2 .5-.8 .1-.5M32.7 0l.1 .5 .5 .8 2.4 2.1 2.3 1.6 2 .6 1.1-.1 1-.4 2.3-1.6 1.9-1.9 .5-.8 .2-.8M54.7 0l.4 1.3 1.4 1.4 2.1 1.2 1.6 .3 1.7-.3 1.7-1 1.5-1.6 .4-1.3M77.3 0l.2 .8 .7 .8 .9 .5 1.3 .3 1-.2 1-.6 .7-.8 .2-.8M0 7.4l1.3-.6 3.7-2.8 3.6-2.9 .8-1.1M19.2 9.5l-2 1.2-3.6 2.8-1.4 1.4-.4 1 .2 .6 .9 1 3.6 2.9 2.3 1.3 1.7 .2 2-.8 3.1-2.2 1.8-1.9 .3-.8 .1-.5-.3-.8-.9-1.1-3.7-3.2-2-1.2-.7-.1zM39.4 10.5l-2 1-2.5 1.8-1.4 1.6-.4 1 .3 .8 .6 .8 2.6 2.1 2.1 1.2 1 .2 1 0 2-.7 2.3-1.7 1.3-1.6 .3-1.3-.2-.8-.7-1.1-2.3-2-2.3-1.2zM59.6 11.9l-1.7 .6-1.8 1.3-.9 1.3-.2 1.1 .8 1.3 1.7 1.5 2.1 .7 1.6 0 1.7-.7 1.4-1.2 .8-1.3 0-1.1-.6-1.3-1.6-1.4-1.7-.8zM80.4 13.8l-1 .2-.8 .3-.5 .6-.4 .8 .1 .8 .6 .7 .7 .4 1 .3 1-.1 1-.5 .5-.6 .3-.8-.2-.8-.6-.7-.7-.4zM0 22.3l1.7-.5 2.7-1.8 3.3-2.7 .6-.8 .2-.6-.4-1-1.7-1.6-4.7-3.8-1-.7-.7-.2M19.2 26.3l-2 1-2.4 1.9-1.2 1.3-.4 1.4 .3 .8 .6 .8 2.4 1.9 2 1.1 2 .3 2-.7 2.4-1.6 1.5-1.8 .2-1.4-.3-.8-.8-1-2.6-2.3-2-1zM40 27.1l-1.6 .4-2.3 1.4-1.4 1.6-.4 1.4 .6 1.3 1.8 1.6 2 1 1.7 .3 1.7-.4 2-1.3 1.3-1.5 .3-1.3-.4-1.3-1.6-1.7-2-1.2zM58.9 28.7l-1.4 .8-1.2 1.3-.2 1.1 .4 1.1 1.4 1.2 1.7 .6 1.6-.1 1.7-.8 .8-.7 .5-1.1 0-.8-.5-1-.8-.9-1.3-.7-1.4-.3zM80.1 31.4l-.2 .2 .2 .4 .7-.1 0-.3-.4-.2zM0 37.1l2-.5 2.5-1.6 1.9-1.8 .5-.8 .2-.8-.3-.8-.5-.8-1.9-1.9-2.7-1.8-1.7-.5M19.2 43.5l-1.7 .8-1.7 1.4-.7 1.3-.1 1.1 .8 1.3 1.8 1.3 1.9 .7 1.7-.1 1.7-.8 1.4-1.1 .7-1.3 0-1.1-.8-1.4-1.7-1.4-1.6-.7zM39.4 44.3l-1.4 .6-1.3 1.1-.7 1.3 .2 1 1.1 1.3 1.4 .8 1.7 .3 1.3-.3 1.3-.8 .8-.7 .4-1.1-.2-1.1-.7-1-1.2-1-1.4-.4zM59.9 45.9l-.9 .3-.6 .5-.2 .6 0 .8 .4 .5 1 .5 1 .1 .6-.2 .7-.4 .4-.5-.1-1.1-1-.9zM0 51.6l1.7-.3 2-1.1 1.2-1.3 .5-1.4-.5-1.3-1.5-1.6-1.7-1.1-1.7-.4M19.9 61.3l-1.1 .3-.7 .5-.5 .8-.1 .8 .5 .8 .8 .6 1.1 .3 1-.1 1-.5 .5-.5 .2-.6 0-.8-.4-.6-.7-.6-.6-.3zM40 63.1l-.3 .4 .3 .2 .4 0 .2-.2-.1-.3zM0 65.7l1-.1 1.1-.6 .7-.7 .2-.8-.3-1.1-.7-.7-1-.6-1-.1" stroke="#77a5fe"/><path d="M73.3 0l.1 .5 .5 .8 2.2 1.9 2.3 1.4 2 .4 1.7-.4 2.2-1.4 1.5-1.6 .4-.8 .2-.8M96.9 0l.3 1.1 1.1 .9 1.3 .6 1.3 0M49.8 2.4l1.7-.1 2 .9 4.3 3.2 1 1 .2 .6-.6 1-2.8 2.4-2.8 1.9-1.7 .6-1.6-.2-2.4-1.5-2.5-2.4-.6-.8-.2-.8 .3-1.3 1.3-1.6 2.4-1.9zM29.8 3.5l1.8 .1 2 .9 2 1.6 .6 .8 .3 .8-.3 1.3-1.2 1.5-2 1.4-2 .8-1.7-.2-2-1-1.9-1.7-.5-.8-.2-.8 .3-1.3 1-1.3 1.9-1.5zM9.3 4l1.8 0 1.8 .8 1.6 1.3 .6 .8 .3 .8-.1 1.1-.9 1.3-1.6 1.2-1.7 .7-1.7 .1-1.7-.6-1.7-1.4-.7-.8-.3-.8 .1-1.3 1-1.4 1.6-1.2zM79.4 11.1l-2 .9-2.1 1.5-1.2 1.4-.3 .8 0 .5 .4 .8 .7 .8 2.5 1.8 2 .8 1.7 .1 2-.9 1.7-1.3 1.1-1.6 .1-1.3-.9-1.7-2-1.7-2-.9zM100.9 13.5l-1.3 .1-1.1 .5-.9 .8-.3 1 .5 1.1 .8 .7 1 .4 1.3 .1M29.3 19.1l1-.1 1 0 2.3 1.1 2.8 2.2 .6 .8 .3 .8-.5 1.3-1.5 1.6-2.3 1.7-2 .9-1.7-.2-2-1.1-2.3-2.1-.9-1.6 .1-1.3 1-1.3 2.1-1.7zM8.9 19.6l1.9-.1 2 .7 2.3 1.8 .6 .8 .3 .8-.1 1.4-1 1.3-2.1 1.6-1.7 .8-1.7 0-2-.9-2.2-1.8-.9-1.6 .2-1.3 1-1.3 1.6-1.3zM59.6 25.4l-2.1 1.2-4.1 3.1-1.8 1.6-.1 .6 1.6 1.6 3.8 2.6 2 1 1.7 .2 2-.6 2.3-1.7 1.8-1.8 .5-.8 .1-.8-.2-.8-.7-1.1-2.8-2.6-2.4-1.6-1-.2zM80.4 27.6l-1.7 .3-1.7 1-1.4 1.4-.6 1.3 .4 1.3 1.4 1.3 1.9 1.1 1.7 .3 1.7-.3 1.7-1.1 1.1-1.3 .3-1.3-.4-1.3-1.2-1.4-1.5-.9zM100.9 30.5l-.6 0-.7 .2-.5 .4-.2 .5 .1 .5 .5 .6 .8 .2 .6-.1M8.7 34.8l1.1-.3 1 .1 2.3 .9 3.3 2.5 .9 1 .3 .8 0 .6-.4 .8-1.5 1.5-3.2 2.7-2.1 1.1-1.3-.3-2.7-1.9-2.6-2.4-.9-1.5 0-.6 .3-.8 1.1-1.3 2.4-1.9zM39.7 40.7l-2 1.4-4 3.3-1.3 1.3-.4 .8 .2 .6 .6 .8 3.2 2.5 2.4 1.3 2 .4 2-.6 2.4-1.5 1.9-1.9 .5-.8 .1-.8-.2-.8-.4-.8-2.3-2.3-3.3-2.7-.7-.3zM59.2 43l-1.7 .8-2 1.6-1 1.3-.2 .8 0 .6 .5 .8 .7 .7 2 1.5 2.1 .7 1.6 0 2-.8 1.6-1.4 .8-1.3 .1-1.3-.3-.8-.8-1-2-1.6-1.7-.7zM79.8 44.9l-1.4 .5-1 .8-.5 1.1 .1 1 .7 .9 1.4 .8 1.3 .2 1.4-.3 .9-.5 .7-.8 .3-.8-.2-1.1-.7-.9-1-.7-1-.3zM0 54.3l1-.2 1.4-.6 6-4.3 1.7-.6 1.3 .4 5.4 3.6 2.4 1.2 1 .1 1-.1 2.7-1.5 3.9-3.2 .8-.8 .2-.8-.1-.5-.6-.8-5-4.8-.6-1 .1-.8 .6-1.1 1.7-1.6 2.4-1.7 1.6-.9 1.7-.4 1.7 .5 2.4 1.4 4.3 3.2 1 .5 1.4-.6 4-3.1 3.9-3.1 .5-.6 .2-.5-.6-.8-4-3.5-1.8-1.8-.6-1.3 .4-1.4 1.2-1.3 2.2-1.8 2-1.4 1.3-.5 1 0 1.4 .4 6.1 4 1.6 .6 1-.3 1.1-.5 3.9-3.1 1.9-2.2 .3-.8-.2-.8-1.5-1.8-4.6-4.3-.6-1 .2-.6 .7-.8 5.4-4.7 .8-1.1 .2-.8M19.2 58.4l-2 1-2 1.7-1 1.3-.2 1.3 .3 .8 .6 .8 2 1.6 1.9 .8 2.1 .1 1.9-.6 1.8-1.4 1.2-1.5 .2-1.4-.4-.8-.8-1-2.3-2-1.6-.8zM39.7 59.2l-1.7 .6-1.7 1.3-1.1 1.3-.2 1.3 .7 1.3 1.6 1.4 1.7 .7 1.7 .1 1.7-.5 1.6-1.1 .8-1.1 .3-1.3-.5-1.3-1.5-1.6-1.7-.9zM59.2 60.8l-1.3 .7-.8 .9-.3 1.1 .4 1 1 .9 1.4 .6 1.6-.1 1.3-.6 .8-.8 .3-.8-.1-.8-.3-.8-.9-.8-1.1-.5-1-.2zM0 68.1l2-.4 2-1.2 1.9-1.7 .5-1.3-.2-.8-.4-.8-1.8-1.9-2.3-1.7-1.7-.5M3.4 79.6l-.1-1-.8-1.1-1.2-.8-1.3-.3M23 79.6l0-1-.6-.8-.9-.7-1.3-.3-1.4 .2-1 .7-.6 .9-.1 1M41.6 79.6l.1-.5-.3-.6-.7-.4-.7-.1-.6 .2-.5 .4-.3 .5 .1 .5" stroke="#6bc1ed"/><path d="M92.2 0l.2 .5 .9 .8 3.9 2.9 2.1 .9 1.6 .2M70.3 3.5l1.7 0 2 .9 2.3 1.7 .7 .8 .3 .8 .1 .5-.4 .8-1.2 1.4-2.1 1.5-2 .8-1.7-.1-2-1-1.9-1.8-.7-1.6 .3-1.3 .9-1.3 1.7-1.4zM49.8 5l1-.1 1.4 .3 1.3 .7 .9 1 .3 .8-.1 1.1-.8 1-1 .7-1.7 .6-1.3-.1-1.7-.8-1-1.2-.2-1.3 .5-1.1 1.1-1zM29.4 6.4l1.6-.2 1.3 .7 .5 1.1-.4 1-.8 .6-1 .2-1-.1-.8-.4-.6-.8 0-.8 .4-.8zM9.4 7.4l.7-.2 .7 .2 .3 .3 0 .5-.6 .6-.7 0-.6-.6 0-.5zM100.9 10.7l-1.6 .2-2.4 1.2-2.9 2.2-.7 .8-.3 .8 .4 .8 .8 .8 2.7 2 2.4 1.1 1.6 .2M69.9 19.1l1.8-.1 2.3 .9 3.3 2.4 .7 .8 .3 .8-.3 1.1-1.6 1.5-2.7 2-2 .9-1.7-.1-2-1.1-2.1-1.9-.8-1.1-.3-.8 .2-1.3 1-1.4 2-1.7zM50.8 20.4l1.4 .3 1.6 .9 1.3 1.2 .4 1.1-.3 1.1-1.1 1.3-1.6 1-1.7 .4-1.7-.3-1.3-.8-1.1-1.1-.5-1.3 .4-1.4 .9-1 1.6-1zM29.1 21.8l1.2-.3 1 .1 1 .4 .7 .6 .4 .5 .3 .8-.2 .8-.5 .8-1.4 .8-1.3 .3-1.4-.4-1-.7-.6-1.1 .1-1 .5-.8zM9.4 22.3l1.5 0 1.2 .8 .4 1.1-.2 .5-.5 .6-1 .5-1 0-1-.3-.6-.5-.4-.8 .2-.8 .4-.6zM100.9 27.4l-1.6 .1-2.1 1-2 1.8-.6 1.3 0 .5 .4 .8 1.9 1.7 2 1 2 .2M50.1 35.6l1.7 .1 2.2 .9 2 1.6 .6 .8 .3 .8-.3 1.4-1.5 1.5-2.3 1.6-1.7 .6-1.6-.2-2-1.2-1.7-1.6-.8-1.5 .3-1.4 1.1-1.5 1.7-1.2zM29.3 36.6l1.7-.1 1.4 .4 1.6 1.1 1 1.3 .1 1.1-.5 1-1.3 1.3-1.3 .8-1.7 .3-1.4-.3-1.6-1.1-1.2-1.5-.1-1.3 .5-1.1 1.1-1.1zM8.9 37.2l1.2-.2 1.3 .2 1.4 .7 .8 .9 .4 .8 0 1-.5 1-1 .9-1.4 .6-1.7 0-1.5-.6-1.2-1.1-.5-1.3 .3-1.1 .9-1zM79.4 41.9l-2 1.1-3.1 2.4-1.3 1.3-.3 .6 0 .5 .5 .8 .8 .8 3.1 2.1 2 .9 2 .1 2-.7 2.1-1.6 1.2-1.6 .2-1.3-.2-.8-.7-1.1-2.6-2.4-2-1.1-.7-.1zM101 44.5l-1.4 .1-1.7 .8-1.1 1.1-.3 1 .3 1.1 1.1 1.1 1.4 .6 1.6 .1M29.4 51.2l1.9 0 2.3 1 2.7 2 .6 .8 .4 .8 0 .5-.3 .8-1.4 1.6-3 2.3-1 .5-1 .3-.7 0-1-.4-2.3-1.7-1.8-1.8-.8-1.6 .3-1.3 1.1-1.4 2.1-1.6zM8.8 51.8l2-.2 2 .7 1.3 .9 1.1 1 .6 .8 .3 .8-.3 1.3-1 1.3-2 1.7-2 .9-1.7-.1-1.7-.9-2.1-1.9-1-1.5 .1-1.4 1-1.3 1.7-1.3zM59.2 57.6l-2 1.3-2.9 2.4-1.2 1.4-.1 1 .4 .8 .8 .8 2.7 2 2 .9 2 .1 2-.7 2.2-1.5 1.3-1.6 .2-1.3-.2-.8-.6-1.1-2.9-2.7-2-1.2-.7 0zM80.4 59.7l-1.3 .3-1.6 .8-1.4 1.3-.4 1.1 .3 1.3 1.1 1.1 1.3 .8 1.7 .4 1.7-.2 1.4-.8 1-1 .5-1.3-.3-1.1-1-1.3-1.3-.9zM0 71.4l1.3-.6 6.1-4.2 1.3-.7 1.4-.3 1 .2 1.4 .5 5.7 3.7 1.7 .7 .6 0 1-.4 6.8-4.6 1-.5 1-.3 1 .2 1 .4 6.1 3.7 1.6 .4 1.4-.2 2-1 2.5-1.8 1.8-1.6 .8-1.3 0-.8-.5-.8-4.1-4.2-.9-1.6 .1-.8 .6-1.1 2.7-2.4 2.7-1.6 1.4-.3 1 .1 2.3 1 5.1 3.2 1.3 .4 1-.3 1.1-.5 3.3-2.5 3.1-2.6 .6-.8 .1-.6-.5-1-4.1-4-1.2-1.9-.1-.8 .4-1 2-2.2 3.1-2.1 1.3-.5 1-.1 2.1 .7 5.3 3.3 1.1 .4 1 0 1.6-.7 2.1-1.4 2.2-2 1.3-1.5 .3-1.1-.6-1.3-4.7-4.8-.5-.8-.2-.8 .3-.8 .7-.8 5.8-5.3 .5-.8 0-.5-.8-1.4-4.7-4.5-.7-1-.2-.8 .4-1.1 .8-1.1 5.3-4.7 .8-1.1M6.7 79.6l-.2-1.3-1.2-1.6-3.6-3.1-1-.7-.7-.2M26.3 79.6l-.1-1.3-1.4-1.8-2.6-2.2-1-.6-1-.3-1 .2-1 .6-2.9 2.3-1.5 1.8-.2 1.3M45.4 79.6l0-.7-.3-.8-1.2-1.6-2.2-1.5-1.7-.4-1.6 .5-2.3 1.6-1.3 1.6-.1 1.3M63.9 79.6l-.2-1.3-.7-1-1.4-.9-1.4-.3-1.3 .3-1.4 .9-1 1.2-.1 1.1" stroke="#5ed3d1"/><path d="M90.4 4l1.8 0 2 .8 2 1.6 .8 1.3-.2 1.1-1 1.3-1.9 1.3-1.7 .7-1.7 0-1.7-.7-1.6-1.3-.9-1.6 .1-1.3 .9-1.4 1.5-1.2zM69.9 6.4l1.4-.2 .8 .2 .8 .5 .5 1.1-.4 1-.7 .6-1 .3-1-.1-1-.6-.5-.7-.1-.8 .5-.8zM90 19.6l1.9-.1 2 .6 2.7 1.9 .8 .8 .4 .8-.1 1.1-1.1 1.3-2.4 1.8-2 .9-1.7 0-1.7-.7-2-1.7-1-1.6 0-1.3 .7-1.4 1.7-1.4zM70.9 21.5l1.4 .3 1 .5 .8 .8 .2 .8-.3 1.1-.6 .7-1.1 .6-1 .3-1.3-.2-1-.5-.7-.7-.4-1 .2-1.1 .7-.8 .9-.5zM69.8 36.6l1.5-.1 1.7 .4 1.7 1.1 1 1.3 .1 1.1-.5 1-1 1.1-1.6 .9-1.7 .4-1.7-.4-1.7-1.2-.9-1.3-.1-1.3 .5-1.1 1.2-1.1zM50.2 38.2l.9 0 .9 .3 .7 .5 .3 .6 .1 .5-.3 .8-1 .8-1 .2-1-.2-.7-.3-.6-.8-.1-.8 .4-.8 .7-.5zM100.9 41.3l-1 0-1 .5-6 4.2-1 .5-.7 .1-1.7-.8-3-2.5-1.5-1.9-.5-1.3 .2-.8 .4-.8 1.4-1.6 2.3-1.7 2.1-.7 1 0 1.3 .4 6.1 3.6 1 .3 .6-.1M69.9 51.2l1.1-.1 1 .1 2 .8 3.1 2.2 .8 .8 .4 .8-.2 1-1.5 1.6-3.2 2.5-2.1 .9-.6 0-1-.3-2.1-1.4-2.1-2.2-.7-1.6 .2-1.3 1-1.4 2-1.5zM50 52.6l1.8 0 1.7 .8 1.3 1 .7 1.4-.2 1-.9 1.3-1.6 1.2-1.3 .5-1.4 0-1.6-.7-1.5-1.2-.7-1.3 .1-1.4 .7-1 1.4-1.1zM29.7 53.6l1.3 0 1 .3 .8 .5 .7 .8 .2 .8-.2 .8-.6 .8-.9 .7-1.4 .3-1.3-.2-1-.5-.9-1.1-.1-1 .3-.8 .8-.8zM9 54.4l1.4-.2 1.4 .5 .7 1.1 0 .6-.4 .7-.7 .5-1 .3-1-.1-1-.5-.5-.7-.1-.8 .5-.8zM100.9 59.5l-1.6 .1-1.8 .9-1.7 1.6-.5 1.4 .6 1.3 1.6 1.3 1.8 .8 1.6 .1M29.6 67.7l2 .1 2 .9 2.2 1.7 .5 .8 .2 .8-.4 1.3-1.4 1.6-2.4 1.8-1.7 .5-1.7-.4-2-1.3-1.6-1.7-.7-1.6 .4-1.3 1.1-1.3 1.8-1.3zM9 68.2l1.8-.1 1.7 .5 1.7 1.2 .7 .8 .4 .8 0 1.3-.8 1.4-1.7 1.5-1.7 .8-1.7 0-1.7-.7-1.9-1.6-.8-1.6 0-1.1 .8-1.3 1.6-1.2zM100.9 78.8l-.6-.1-.4 .2-.2 .5 .2 .2M49.1 79.6l.1-.5-.4-.8-4.5-4.8-.5-1 0-.8 .9-1.6 2.1-1.8 2-1.2 2-.4 1.7 .3 2.3 1.3 3.2 2.3 .8 .8 .3 .6-.2 .5-.6 .8-5.4 4.8-.5 .8 0 .7M66.9 79.6l0-1-.8-1.3-4.4-4.6-.2-.7 .2-.6 1.6-1.6 4-3.1 2-1.3 1.4-.5 .6 0 1 .3 5.1 3 2.4 .9 1 0 1.3-.4 1.4-.7 1.6-1.1 2-2.1 .5-1.1-.1-.8-.3-.8-.8-1-3.5-3.8-.5-.7-.1-.6 .2-.8 .7-.8 3.6-3.1 3-2.3 1.1-.4 .6-.1 1.4 .6 5 3.1 1.7 .6 1.3 0M84.9 79.6l-.1-1.3-1-1.4-1.7-1.2-1.7-.5-1.7 .4-2 1.3-1.1 1.4-.2 1.3" stroke="#8fdda6"/><path d="M91 7.2l.5-.1 .7 .4 .3 .5-.3 .6-1 .3-.8-.4-.1-.8zM90.4 22.3l1.5-.1 1.3 .7 .6 1-.2 .8-.4 .5-1 .6-1 .1-1-.2-.7-.5-.5-.8 0-.8 .5-.8zM90 37.2l1.2-.2 1 .1 1.3 .5 1.1 .7 .7 1 .2 .8-.3 .8-.5 .8-1.5 1-1.7 .5-1.7-.3-1.4-1-.8-1.3 0-1.3 .9-1.2zM89.9 51.8l2-.2 2.2 .7 2.7 1.9 .7 .8 .4 .8-.2 1-1.1 1.3-2.4 1.9-2 1-1.7 0-1.7-.8-2-1.8-.7-1.1-.3-.7 0-1.4 .9-1.3 1.5-1.3zM70.2 53.6l1.1-.1 1 .3 1.2 .6 .6 .8 .2 .8-.1 .8-.6 .8-.9 .6-1.4 .4-1 0-1.3-.6-.8-.9-.3-1.1 .3-1 .8-.8zM70.2 67.7l1.8 0 2.4 1 2.1 1.7 .7 .8 .2 .8-.4 1.3-1.6 1.6-2.4 1.7-1.7 .6-1.6-.3-2.1-1.3-1.6-1.8-.6-1.6 .3-1.3 1-1.3 1.6-1.2zM50.4 69l1.4 .2 1.5 .6 1.1 1.1 .4 1.1-.3 1-.8 1.1-1.2 .8-1.4 .4-1.3-.1-1.3-.6-1.1-1.1-.5-1.3 .2-1 .8-1.1 1.2-.8zM29.5 70.4l1.5-.2 1.3 .7 .4 .5 .1 .8-.6 1.1-.9 .5-1 .2-1-.3-.7-.5-.5-.7 0-.8 .5-.8zM9.4 71.4l.7-.2 .7 .1 .5 .7-.2 .5-.7 .4-1-.2-.4-.5 .1-.4zM100.9 74.9l-1 0-1 .3-2 1.3-1.6 1.6-.3 .8 0 .7M87.9 79.6l0-.7-.5-1.1-3.4-4-.6-.8-.2-.8 .1-.8 .4-.8 2.5-2.4 3-2 1.3-.5 1-.1 2 .6 5.1 2.8 1.3 .4 1 0" stroke="#d7d671"/><path d="M90.1 54.4l1.4-.2 1.5 .5 .5 .5 .3 .6-.3 1-.6 .7-1 .4-1 0-1.1-.4-.6-.7-.3-.8 .3-.8zM90.1 68.2l1.8-.1 2 .6 2 1.4 .7 .8 .4 .8-.1 1-1 1.4-2 1.6-1.7 .7-1.3 .1-1.7-.6-1.9-1.6-.9-1.6-.1-1.3 .8-1.3 1.4-1.2zM70 70.4l1.7-.1 1.2 .6 .6 1.1-.1 .5-.4 .6-1 .7-1 .2-1-.2-.8-.5-.5-.8 0-.8 .5-.8z" stroke="#feda78"/><path d="M90.9 71.2l.6-.1 .7 .3 .3 .6-.3 .7-1 .3-1-.5 0-.8z" stroke="#fafa64"/></g>
<g id="cR"><use href="#qR" transform="translate(437.45 1017.15)"/><use href="#qR" transform="translate(437.45 1017.15) scale(-1 1)"/><use href="#qR" transform="translate(437.45 1017.15) scale(1 -1)"/><use href="#qR" transform="translate(437.45 1017.15) scale(-1 -1)"/></g>
</defs>
<use href="#cS"/>
<path d="M430.7 92.7h0m1.3 1.3h0m1.7 .5h0m5 .3h0m.4 .6h0m1.9-.3h0m.4-.2h0m2.1-1.9h0m.6 1.8h0m.3-1.7h0m1.8 .5h0m1.1 .2h0m2.4 .3h0m1.5 0h0m.5 .8h0m1.5 .5h0m.9 .1h0m.4-2h0m.1 1h0m1.7 .8h0m0 .6h0m1.6-.6h0m1.3-.6h0m.4-.5h0m.5-.3h0m1.2-.1h0m-29.8 5h0m2.9-2.8h0m.6 3.5h0m.9-.3h0m.2-1.2h0m.1 .9h0m.4 .7h0m1.6 0h0m0 0h0m.1-2.5h0m.1 1.5h0m.8 0h0m.4 .8h0m.5-.8h0m.1-1.4h0m.8 1.7h0m.2 .2h0m0-2.2h0m.1 1.7h0m.3 1h0m.1-.7h0m.1-.2h0m.8-.4h0m1-2.3h0m.1 2h0m.5-1.4h0m.4 2h0m.2 .9h0m0-3h0m.2 .9h0m.7-.7h0m.1 2.1h0m.8-2.1h0m.2 2.3h0m0-1.7h0m.5 1.9h0m.4 .7h0m.2-.7h0m.4-.3h0m.5-1.5h0m.4 .8h0m.4 .3h0m.2-1.7h0m.1-.6h0m.7 2.6h0m2.6 0h0m.5 .7h0m.8 0h0m.2-1.1h0m0-1h0m.2 .7h0m.1 1.6h0m.5-1.4h0m.7-1.1h0m.6 .7h0m.2 1.4h0m.8 0h0m.3-1.1h0m.7-2.2h0m.3 3.2h0m1.5 .3h0m-36.4 1.6h0m.8 .6h0m3.2 .8h0m3.3 1h0m1.1 .4h0m.4-3.4h0m.4 1.1h0m0 .2h0m0 1.1h0m.1-1.1h0m.1 1.5h0m.4-1.8h0m.2 1.2h0m.3-2.3h0m.4 2.7h0m.3-1.1h0m.1 1.6h0m.1-.9h0m.2-.6h0m0 .2h0m0-1.8h0m.1 .9h0m.3 2h0m.4-1.8h0m.4 .4h0m.3 1.5h0m0-2.9h0m.1-.2h0m.1 1.3h0m.2 .2h0m.8 1.8h0m0-.5h0m.2-2.1h0m.1 2.3h0m.1 .3h0m0-.3h0m.3-1.6h0m.2-.4h0m.2 2h0m.3-1.7h0m.2-.9h0m0 2.1h0m.3 .1h0m.2-.7h0m.1-1.6h0m.3 3.2h0m.2-2.3h0m.2 .8h0m0 .4h0m.1-2.6h0m0 1.3h0m.2 1.3h0m0 .4h0m.1-2.9h0m.1 1.4h0m.1 .3h0m0 1.8h0m.2-3h0m.3 1h0m.1 1.3h0m.1-1.9h0m.2 2.4h0m0 .1h0m.1-1.8h0m.2 1.1h0m.1 .2h0m0-.1h0m.1 .4h0m0-1.1h0m.1-.4h0m.3-.2h0m.1 1.9h0m0-1.3h0m.1-1.3h0m.1 .4h0m.1 1.6h0m.1 .7h0m.2-2.9h0m0 1.3h0m.3 1.3h0m.1-1.4h0m.2-.1h0m.4 .2h0m0 1.3h0m.4-.5h0m.1-1.4h0m.2-1h0m.2 3.2h0m.1 .1h0m.3-.5h0m.3-.6h0m.1-2.2h0m.4 2.7h0m.1-.3h0m.1 .4h0m.1-1.7h0m.1 1.7h0m.3-3.3h0m.1 1.1h0m.1 1h0m.1-.2h0m.1 1.8h0m0-.6h0m.2 .4h0m1 .3h0m0-1.4h0m.1-2.3h0m.2 1h0m.3 0h0m.1-.2h0m.1 1.1h0m.1-.8h0m.1 1.9h0m0-.5h0m0-1.1h0m.1-1.2h0m.2 2.8h0m.2-1.1h0m0-1.8h0m.1 3h0m0-2.4h0m.4 1.1h0m.1-2h0m.6 3.1h0m.2-2.4h0m1.5 2.3h0m.3-1.4h0m.1-1.2h0m.2 2.6h0m.8 .3h0m1.1-.9h0m.1-1.8h0m1.4 2.2h0m.4-.6h0m2.7 .6h0m-36 2.5h0m2-1.1h0m.9 .2h0m2.5 2.6h0m0-.1h0m.3 .8h0m.7-3.2h0m.1 3.4h0m1.5-2.1h0m.3-.9h0m.7 .2h0m.1 2.2h0m.3-1.7h0m.2 .5h0m.1-1.5h0m.3 3.1h0m.1-2h0m0-1.5h0m.5 2.5h0m.4 .2h0m.2-1.1h0m.2 1.1h0m.1-1.6h0m.1 .7h0m.1 .2h0m.7-2h0m.1 2.5h0m.1-1.8h0m.2-.3h0m0 .7h0m.3 .4h0m.2-.1h0m0-1.6h0m0 1.4h0m.5 .7h0m0 .4h0m.1-2.2h0m.1 .3h0m.1 2.9h0m.2-2.7h0m.1 1.2h0m.1 .3h0m0-.3h0m.1 .8h0m.1-2.2h0m.3 .7h0m0 1.3h0m0-.3h0m.1 1.4h0m0-.4h0m.1-1.2h0m0 1.3h0m.1-1.1h0m.2 .7h0m0-.7h0m.1 1.2h0m.1-1.5h0m.1-.7h0m0 1h0m0-.6h0m0 .8h0m.1-.5h0m0 .9h0m0-1.8h0m.1-.7h0m.1 1.1h0m0-.3h0m.1 0h0m0 .5h0m.1 .1h0m.3-1.3h0m.2 .2h0m0 2.3h0m0-3h0m0 3.7h0m.1-1.2h0m0 .3h0m0-1.3h0m0 .5h0m.1 1.8h0m0-.6h0m.1-2.8h0m0 2.7h0m.1-2.6h0m.1 3h0m0-.1h0m0-2.5h0m.1 .6h0m0 1.5h0m.1 .5h0m0 0h0m.1-1.4h0m.2-1.5h0m.1 1.5h0m.1 1.2h0m.1-1.1h0m.1 0h0m0 .6h0m.1-1.8h0m0 .1h0m0 .2h0m0 .2h0m.1-.5h0m.1 .5h0m0 1.2h0m.1 .9h0m.1-1.9h0m0 1.6h0m0 .5h0m0-3.3h0m.1 .5h0m.1-.8h0m0 2.4h0m.1-1h0m.1 .4h0m0-.7h0m0 1h0m0 1.5h0m.1-1.2h0m.2-2.2h0m0-.1h0m0-.1h0m0 1.7h0m0 .2h0m.2-1.4h0m0 .7h0m0 .8h0m.1 1.3h0m0-.1h0m0 .3h0m0-.5h0m0 .4h0m.1-.4h0m.1-1.6h0m.2-1.3h0m0 .9h0m.1 1.5h0m0 .6h0m.1-2.8h0m.1 2.7h0m0-.3h0m0-2.7h0m.1 2.8h0m.1-1.6h0m0 2.1h0m0-.5h0m0 .8h0m0-.6h0m.2-.4h0m0-1.5h0m0 .7h0m0 .2h0m.2 .8h0m.1-2.3h0m.1 .4h0m0-.9h0m0 .7h0m0 .2h0m.1-1.1h0m.1 .4h0m.1 1h0m0 .6h0m0-2h0m.1 .1h0m0 1h0m0 2.6h0m.1-.9h0m.1-2.3h0m.1 .8h0m.2 .6h0m.3-1.3h0m0 2.3h0m.1-1.9h0m.1 2.8h0m.1-2.5h0m0-1.3h0m.1 2h0m.1-1.2h0m0 3h0m.1-.1h0m0-1.5h0m0 .4h0m0-2.1h0m.3 .6h0m.3 .4h0m.1 2.3h0m0-.6h0m0-.4h0m.2-2.1h0m.1 1.7h0m.3-.4h0m.1 1.1h0m0 .7h0m0-3.8h0m0 .4h0m.1 2.6h0m.1-1.4h0m.1 .1h0m0-.3h0m.4 .2h0m.4 .9h0m.1 1.1h0m.3-2.9h0m0 2.1h0m0-1.6h0m.1 .1h0m0-.1h0m.3 0h0m.1 1.8h0m.1-1.5h0m.3 1.9h0m.2-1h0m.3-.1h0m.5-1.7h0m0 2.5h0m.3 .2h0m.5-.9h0m.3 .5h0m1-.4h0m.4-1.3h0m1.8 2.6h0m.6-3.2h0m-33 6.1h0m1.8-.9h0m2.7-1.8h0m.2 2.2h0m.3-1.4h0m3.6 0h0m.4 .8h0m.1-.5h0m.5 0h0m.2-1.1h0m.1 2.2h0m.1-.2h0m.2-.9h0m.5 0h0m.1 .5h0m.2 1.5h0m0-3.1h0m.3 2.2h0m.1-2.1h0m.4 .5h0m.4 3.1h0m0 .1h0m.1-.9h0m.6-1.7h0m.4 1.6h0m0-.4h0m.1 1.4h0m.2-.5h0m.4-.6h0m0 1.1h0m.3-2.6h0m.3 .3h0m.1 .9h0m.1-1.2h0m0 .8h0m.1-1.6h0m0 1.9h0m.1-.8h0m0-.6h0m.1-.9h0m.1 .7h0m0 0h0m.5 2.5h0m.3-3.2h0m0 2.7h0m0-2.2h0m.2 .5h0m0 .4h0m.1-.9h0m0-.3h0m0 .8h0m.1 2.4h0m.1 .2h0m0-1.8h0m.1-1.2h0m.3 .6h0m0-1.1h0m.1 1h0m.1-.3h0m0-.1h0m.2 2.1h0m.2-1.4h0m.1 2.5h0m0-2.4h0m.2 1.2h0m0-2.1h0m.1-.5h0m0 .1h0m.5 .5h0m.1 3.2h0m0-2.2h0m0-.1h0m.1 2.2h0m0-2.3h0m.1 .8h0m0 1.6h0m0-.8h0m.1-.4h0m.2 .4h0m.2-3.1h0m.2 1.2h0m.1 1.5h0m.2-.4h0m.1-.1h0m0-.7h0m.2 0h0m0 1h0m0-1h0m.1 .2h0m.1-.9h0m0-.1h0m.1 .8h0m.1 .9h0m0-.6h0m.3-1.4h0m0-.1h0m.1 2.4h0m0-.5h0m0 .9h0m.1-.8h0m0 .2h0m0-1.2h0m.1-.6h0m0-.3h0m0 2.6h0m0-1.2h0m.1 1.5h0m.1-.9h0m.2 .2h0m0-2.1h0m.2 1.5h0m.2 1.6h0m.4-.4h0m0-3.2h0m0 0h0m0 1.3h0m.4 1.9h0m.1 .4h0m.3-3.1h0m.1 1.1h0m0-.3h0m.1-.5h0m.1 1.5h0m0-1h0m.3-.5h0m.6 1.3h0m.1-1.8h0m.2 1.7h0m.3-1h0m.2 0h0m.1-.9h0m.2 .6h0m.3 1h0m.7 .1h0m.1-1.1h0m.1 .3h0m.5 1.6h0m.4-.5h0m.2 .1h0m0-1.8h0m.9-.4h0m.1 3.5h0m0 .3h0m.4-3.5h0m.8 2h0m3-1.4h0m.1 2h0m.3 .3h0m.2-1.7h0m.2 .9h0m.3 1.4h0m.1-.3h0m.6-1.2h0m.5-1.5h0m0 1.3h0m-29.8 4.3h0m1.5 1.2h0m.1-.5h0m.6-1.7h0m.5 1.3h0m0 .9h0m.4-1.2h0m.5-2.1h0m.2 1.9h0m.6-1.5h0m.5 1.2h0m.4-1.6h0m.6 .8h0m.2-.7h0m1.3 2.9h0m.8-3h0m0 .5h0m.5 1.6h0m0-.5h0m.4-1h0m.1 2.4h0m.2-2.8h0m.7-.3h0m.5 1.7h0m.6-1.5h0m0 1.8h0m.5-1.4h0m.3 .7h0m.4-1.5h0m.3 3.5h0m.7-.2h0m.2-1.6h0m.8-.9h0m.8 .4h0m.1-.9h0m.1 1.1h0m.1 2.2h0m.5-3.6h0m.1 .3h0m.1 .2h0m.7 .4h0m.2 .4h0m.2-1.3h0m0 1.2h0m.3 2.1h0m.4-2.6h0m0-.3h0m.2-.2h0m.3 3h0m.3-1.8h0m.3 .4h0m.6-.6h0m.3 .3h0m.2 1.9h0m.2 .5h0m.3-3.3h0m.4 1.8h0m.1-.1h0m.3 1.3h0m1-.4h0m.8-.5h0m0-1.5h0m3.2 .9h0m-27.5 4.5h0m1-1.4h0m.3 0h0m1.2-.8h0m2 .1h0m1.6 1.6h0m2.4-.9h0m.7-1.2h0m3 2.4h0m1.1-2.3h0m1.1 3.1h0m.3-.4h0m0-.8h0m2.7-.5h0m1.4 1.3h0m1-1.6h0m.7 0h0m.1 2.4h0m.9-.9h0m.4-1.9h0m1.7 1.7h0m.3-.5h0m.2 .7h0m1.3-1.9h0m4.2 .8h0m.1 1.3h0m.6-1.3h0m-23 2.6h0m4.1 0h0m1.8 1h0m.4 .3h0m3.1-1.3h0m5-.1h0" fill="none" stroke="#000" stroke-width="1.5" stroke-linecap="round"/>
<path d="M344.5 27.7H543.5V185H344.5zM344.5 185v-1.6M344.5 27.7v1.6M364.4 185v-1.6M364.4 27.7v1.6M384.3 185v-1.6M384.3 27.7v1.6M404.2 185v-1.6M404.2 27.7v1.6M424.1 185v-1.6M424.1 27.7v1.6M444 185v-1.6M444 27.7v1.6M463.9 185v-1.6M463.9 27.7v1.6M483.8 185v-1.6M483.8 27.7v1.6M503.7 185v-1.6M503.7 27.7v1.6M523.6 185v-1.6M523.6 27.7v1.6M543.5 185v-1.6M543.5 27.7v1.6M344.5 185h1.6M543.5 185h-1.6M344.5 169.3h1.6M543.5 169.3h-1.6M344.5 153.5h1.6M543.5 153.5h-1.6M344.5 137.8h1.6M543.5 137.8h-1.6M344.5 122.1h1.6M543.5 122.1h-1.6M344.5 106.3h1.6M543.5 106.3h-1.6M344.5 90.6h1.6M543.5 90.6h-1.6M344.5 74.9h1.6M543.5 74.9h-1.6M344.5 59.2h1.6M543.5 59.2h-1.6M344.5 43.4h1.6M543.5 43.4h-1.6M344.5 27.7h1.6M543.5 27.7h-1.6" fill="none" stroke="#606060" stroke-width=".55"/>
<text x="344.5" y="194.4" font-size="6.1" text-anchor="middle" fill="#262626">-100</text>
<text x="364.4" y="194.4" font-size="6.1" text-anchor="middle" fill="#262626">-80</text>
<text x="384.3" y="194.4" font-size="6.1" text-anchor="middle" fill="#262626">-60</text>
<text x="404.2" y="194.4" font-size="6.1" text-anchor="middle" fill="#262626">-40</text>
<text x="424.1" y="194.4" font-size="6.1" text-anchor="middle" fill="#262626">-20</text>
<text x="444" y="194.4" font-size="6.1" text-anchor="middle" fill="#262626">0</text>
<text x="463.9" y="194.4" font-size="6.1" text-anchor="middle" fill="#262626">20</text>
<text x="483.8" y="194.4" font-size="6.1" text-anchor="middle" fill="#262626">40</text>
<text x="503.7" y="194.4" font-size="6.1" text-anchor="middle" fill="#262626">60</text>
<text x="523.6" y="194.4" font-size="6.1" text-anchor="middle" fill="#262626">80</text>
<text x="543.5" y="194.4" font-size="6.1" text-anchor="middle" fill="#262626">100</text>
<text x="341.5" y="187.2" font-size="6.1" text-anchor="end" fill="#262626">-100</text>
<text x="341.5" y="171.5" font-size="6.1" text-anchor="end" fill="#262626">-80</text>
<text x="341.5" y="155.7" font-size="6.1" text-anchor="end" fill="#262626">-60</text>
<text x="341.5" y="140" font-size="6.1" text-anchor="end" fill="#262626">-40</text>
<text x="341.5" y="124.3" font-size="6.1" text-anchor="end" fill="#262626">-20</text>
<text x="341.5" y="108.5" font-size="6.1" text-anchor="end" fill="#262626">0</text>
<text x="341.5" y="92.8" font-size="6.1" text-anchor="end" fill="#262626">20</text>
<text x="341.5" y="77.1" font-size="6.1" text-anchor="end" fill="#262626">40</text>
<text x="341.5" y="61.4" font-size="6.1" text-anchor="end" fill="#262626">60</text>
<text x="341.5" y="45.6" font-size="6.1" text-anchor="end" fill="#262626">80</text>
<text x="341.5" y="29.9" font-size="6.1" text-anchor="end" fill="#262626">100</text>
<use href="#cG"/>
<path d="M372.8 495.6h0m61.9 .1h0m24.7-.4h0m66.9-1.7h0m8.2 .2h0m-194.6 5.1h0m2.8 .6h0m31.9-.8h0m8.3-2.3h0m20.1-.1h0m1.2 1.9h0m24.9 .6h0m17.6 1h0m15.1-2.3h0m3.3 2.3h0m34.5-2h0m14.7-1.1h0m-176.9 6.9h0m.6-1.9h0m11 2.1h0m33.7-3.1h0m8.6 1.7h0m9.3 .2h0m11.7-2.4h0m11.8 1.3h0m1.1-1.2h0m29.8 3.1h0m14.2-2.3h0m27.8 1h0m.4-.3h0m.9 .2h0m1.5-1.6h0m1.3 3.3h0m27.4-1h0m3.1-.9h0m.4-.5h0m.3 2.1h0m-188.2 4.5h0m5.4-1.7h0m11.7 1h0m57 .2h0m15.6-2.2h0m12.4 .8h0m2.6 .8h0m16.7-1.3h0m5.9 1.3h0m17.9-2.3h0m25.5 3.4h0m1.4-1.9h0m.6 1.9h0m2.6-1.8h0m1.9 1.3h0m-173.4 3.6h0m6.8-2.5h0m24.4 3h0m20.9 .2h0m5.9-1.5h0m36.7 .5h0m.7 1h0m7.2 .2h0m2.7-2.9h0m21 1.6h0m3.6-.5h0m32.5 1.4h0m.7-.1h0m.4 .2h0m.7-1.4h0m1-.2h0m.2-.8h0m.1 2.3h0m1.3-1.7h0m1.2-1h0m.6-.2h0m.2 .4h0m1.2-.9h0m16.7 3.8h0m-189.3 1.2h0m13.1 1.3h0m13.8-1.3h0m10.1 2.2h0m7.5 .2h0m9.7-2.6h0m3.7-.2h0m6.5 2.3h0m28.7-2.8h0m8.4 1.2h0m26.8 0h0m33.1 .2h0m.2 1h0m.2 .2h0m.2 .1h0m.2-1.3h0m.7 2.1h0m1.1-1h0m.7-2.2h0m.1 .4h0m1.7-.2h0m-155.5 5.9h0m2.4-2.2h0m28.1 0h0m8.9-.2h0m2.5 2.9h0m2.1-2.7h0m1.6 0h0m16.5 2.3h0m3.7-.3h0m11.5-1.5h0m10.3 1.7h0m7.9 .3h0m2-1.6h0m.6 1.5h0m1 .5h0m1.2-2.5h0m13 2.7h0m5.4-1.3h0m9.5-1.5h0m16.7 3.2h0m.1-1h0m2.2-1.1h0m.1 .1h0m.1 .6h0m.2-.1h0m1.3-.5h0m.3-1.2h0m.8-.2h0m5.2 2.4h0m3.4 .1h0m.2 .5h0m.9-1.1h0m16-2.3h0m2.1 3.3h0m-196.4 1.7h0m81.2 .5h0m1.1 0h0m5.9 .8h0m7.2 1.5h0m3.3-1.7h0m18.8-.8h0m1.5 1.9h0m2.3 .6h0m13.3-3.7h0m7.2-.2h0m3.7 1.5h0m12.9 1.8h0m.2 .3h0m.7-1.6h0m1.1-.5h0m.3 1.8h0m.7-.7h0m.2-.1h0m.4-.8h0m.9-1.6h0m.5 .8h0m.2-.6h0m1.6-.2h0m.4 0h0m2.3 1.3h0m8.1-.8h0m.3 2.6h0m14.2-1.9h0m5.1 .2h0m-189.5 2.9h0m4 1.7h0m19.8-.8h0m11.5 .2h0m19.8-.5h0m8.5 1.3h0m5.1 .8h0m.4-1.8h0m3.1-.2h0m1.3 .9h0m.6 1h0m9.1-2.6h0m2.8 1.3h0m5.1-1.5h0m3.6-.1h0m3.5 3.1h0m1.7-.7h0m10.3-2.4h0m3.7 3.5h0m1.3 .3h0m.8-1.5h0m1.6 1.1h0m3.9-2.3h0m11.7 2.3h0m14.7-.4h0m.6 .4h0m.5-1.5h0m.8-.7h0m.2 .2h0m.1 .4h0m.3-.1h0m.8-.6h0m1.8-.6h0m.3 .5h0m.4 0h0m.5-.2h0m23.3 1.6h0m-179.8 2.1h0m19.3 .1h0m24.4-.5h0m19.8 .9h0m.1 1.7h0m5.5-.1h0m.8-1.3h0m4.4-.5h0m1.9 2.5h0m2.5-2.1h0m5.9 2.2h0m4.9-.9h0m2.2-1h0m.4 1.9h0m1.9-.5h0m5.9 .2h0m2.9-.8h0m5.8-2.3h0m.7 2.9h0m6.8-2.8h0m4.8 2.9h0m4.4-2.3h0m2.9 1.8h0m15.7-.1h0m2.1-.4h0m.1-.4h0m.5 .8h0m.1-1.7h0m.3 .1h0m.7 1.8h0m1.9-2.3h0m.7-.2h0m.9 .5h0m36.6-.5h0m-187.9 4.9h0m9.9 1.5h0m5.1 1h0m17.3-2.1h0m1 .7h0m.2-.2h0m3.9-1.7h0m2.6 2.6h0m15.2-.7h0m6.5 .9h0m.5-.9h0m.9 1.2h0m.2-.8h0m0 .5h0m.3-2.9h0m6.9-.2h0m11.4 3.4h0m5.2-3h0m1.5 .3h0m1.7 .1h0m2-.7h0m.5 2h0m.9 1.1h0m1.8 .2h0m.5-.3h0m4.4 .5h0m4.1-.5h0m.1-1.7h0m4.3-.5h0m8.4 .6h0m1.5 1.8h0m6.9-2.1h0m1.8 2.7h0m9.9-.2h0m2.2-.4h0m1.1-1.5h0m0 1.2h0m.7-1.3h0m.8-.2h0m.2 1.1h0m1.3-2.3h0m.2 .9h0m.1 .7h0m.6-1.6h0m1.4-.2h0m3.6 .3h0m8.5 1.2h0m3.1 1.9h0m7.6-3.2h0m11.4-.3h0m-180.8 4.9h0m2-.5h0m28.7 1.7h0m2.6-2.1h0m12.1 3.7h0m3.8-2.5h0m8.6-.6h0m4.7 1.5h0m3.3 1.7h0m4.6-.8h0m.1-1.3h0m4.6 1.7h0m3.1-1.3h0m5.7-.7h0m1 1.9h0m4.6-1.9h0m2.4-.7h0m.1 .7h0m4.4 .5h0m.3 1.5h0m5.7-3.1h0m3.6 3.2h0m.6-1h0m4.9-1.9h0m.4 1.2h0m7.8 .9h0m3.9-1.9h0m1.4 2.7h0m.8-3h0m4.8 3.4h0m3.2-.5h0m1.6-1.2h0m.2 1.7h0m.9-.9h0m.2-2.1h0m.5 2h0m.2-2.8h0m.5 2.3h0m1.1-2.3h0m.3 2.1h0m2.5-.4h0m0-1.5h0m3.2 2.7h0m7.6 0h0m7.3 .3h0m7.5-1.4h0m-151 4.2h0m2.8 1.6h0m9.1-1.6h0m.4 1.5h0m1.4-3.5h0m7.2 2.1h0m8.6 1h0m2.4 .7h0m7.7-1.4h0m5.8-.1h0m.5 1.1h0m.5 .2h0m.3-2.8h0m1.4 2.1h0m2.1 .9h0m2.2-2.4h0m.1 1.1h0m3.1 .4h0m.1-2.1h0m3.4-.6h0m1.6 2.8h0m1.7-2.5h0m1.4 3.1h0m2.3-3.7h0m1.1 2.7h0m.5-2h0m1 2.7h0m1.4 0h0m.1 .1h0m4.8-1h0m3.4 .5h0m3.4-3h0m.2 1.3h0m1.9-.8h0m2.2 1.7h0m1.6-.8h0m9.4 .3h0m.7-1.7h0m5.7 2.3h0m3.7-.2h0m.3-2.1h0m4.3 2.5h0m.1 .7h0m1.3-.3h0m0 .7h0m.8 .2h0m.1-2.1h0m.5 1.7h0m0-.3h0m1.4-2.7h0m.1 1.4h0m.4 0h0m.7-1.1h0m.7 1.6h0m1.7-1.9h0m.6 1.2h0m4.6-.2h0m7 2.3h0m.1-2h0m6.2-.8h0m.6 0h0m-116.1 6h0m6.2-.3h0m.9-2h0m.3 1.2h0m1.2 .4h0m1-.9h0m.5 2.6h0m4.8-1.9h0m2.6-.5h0m2.3 1.5h0m2.6-2.4h0m1.8 1.9h0m3-1.9h0m1.2 2.2h0m2.3-2.8h0m2.9 3.9h0m.1-.3h0m1.8-3.2h0m.8 3.1h0m1.2-2.9h0m1.3 2.8h0m3-2.7h0m.6 1.4h0m.4-1.6h0m2.3 1.4h0m2.9-1.1h0m.2 1.7h0m.2-2.5h0m1.2 3.9h0m1.4-1.1h0m.5 .9h0m.7-.1h0m2.3-2.6h0m1.4-1h0m3.5 3.7h0m0 .1h0m1-3.4h0m.1 1.3h0m.5 .7h0m1.5 .6h0m1.3-1.5h0m.4 .1h0m.3 0h0m.6-.9h0m.3 1.8h0m1.6 1.2h0m.6-3.1h0m.6 2.2h0m.5-1.1h0m1.4-.9h0m.4 2.1h0m.3-.7h0m2 1.3h0m.3 0h0m4.8-2.6h0m.1-.3h0m3.9 0h0m1.1 3h0m2.5-2h0m.1 1.7h0m.6 0h0m.4-.1h0m.2-1h0m1.1 1h0m.8-3.2h0m.3 3.2h0m.3 .4h0m.1-1.9h0m.7 .1h0m3.1 .3h0m1-1.5h0m5.5 1.8h0m3.3 1.2h0m15.4-2.1h0m2.1-1.1h0m6.3 1.8h0m9 0h0m20.2-1.5h0m-174.3 4.4h0m1.4 2.8h0m13.3-.1h0m3.3-1.9h0m4.5-1.8h0m4.9 3.2h0m4-2.9h0m1.6 1.9h0m.3 .7h0m5.3-2.5h0m.3 3.3h0m2.8-.3h0m0-1.7h0m1.1-1.1h0m.4 3.1h0m2.9-.1h0m7.6 0h0m2.1-2.8h0m.1 1.7h0m.2-1.3h0m.2 2.4h0m.3-2.5h0m.4 2h0m0-1.4h0m.2-.7h0m1.4-1.1h0m.4 3.2h0m1.1-.5h0m2.4-2.3h0m1 2.2h0m.4 1h0m1.1-.3h0m.1-.3h0m2.1-.2h0m.6 .2h0m.2 .3h0m1.4-3.3h0m.7 2.7h0m.3 .5h0m.6-3.2h0m.4 3.5h0m.1-.4h0m.7 .4h0m1.4-.6h0m.6-.4h0m.4-.2h0m2.3 .8h0m.3-2.6h0m1.1 1.3h0m1.3 .4h0m.2-2.1h0m.8 .7h0m.1 1.5h0m.7 .1h0m2.1 .6h0m0-2.6h0m.1 .2h0m1.3-.3h0m.5 3.3h0m.5-.8h0m.2-.4h0m.2-1.3h0m.4-.7h0m.7 .3h0m0 2.4h0m.5 .2h0m.1-3.3h0m.5 1.5h0m.3 1.5h0m1.9 .6h0m1.4-2.2h0m0-.5h0m3.2 1.4h0m2-.2h0m.1-1.5h0m.5 2.5h0m.5 .8h0m.6-1.2h0m.6-.4h0m.1 .2h0m1.1 .1h0m0-.9h0m.2 .1h0m.7-.9h0m.5 2.7h0m.5-3.1h0m1-.5h0m4.6 3.2h0m.6-2.5h0m.4-.5h0m.7 2.4h0m1.9 .5h0m.6 0h0m3.1-2.4h0m1.1 0h0m.4 .7h0m1.1 .7h0m.1 1.6h0m3.3-.5h0m2.1 .1h0m1.3 .1h0m.5-2h0m6.5 1.1h0m7.2-1.8h0m-160 3.3h0m15.4 3h0m.9-1.6h0m1.6-.1h0m18.5 1.2h0m10.6-1h0m2.4 1.6h0m4.3-1.6h0m3.1 .6h0m3.1 1.1h0m1.9-2h0m4.7-.1h0m.8-1.1h0m.5 3.4h0m1.5-2.5h0m2.7 2.5h0m.2-2.5h0m.2 .8h0m.2-.4h0m1.2 2.3h0m0-.4h0m1.7-3.2h0m.5 1.8h0m1.4-1.7h0m.7 3h0m.6-1.8h0m.5 1.2h0m.1-.8h0m.4-.7h0m1.1 .8h0m.4 .7h0m.1 .4h0m.1 1h0m.3-3.1h0m.2-.7h0m2.2 3.4h0m.3-2.7h0m0 2.5h0m1.2 .6h0m.3-3.4h0m.2 2.1h0m.3 1.1h0m.8-2.5h0m.4 2.5h0m.2-1.9h0m.1 .9h0m.6 .3h0m.1-1h0m3-1.8h0m.3 1.8h0m0 0h0m.4-.2h0m.8 1.4h0m.6 .4h0m1.5 .2h0m.2-.6h0m.6 .7h0m.3-2.4h0m1.9 .2h0m.6 .8h0m0 0h0m.4-1.2h0m.1 2.6h0m.9-1.9h0m.2 1.1h0m.1 .4h0m1-.5h0m.1-1.5h0m.2 2.3h0m.1-.3h0m0-1.3h0m.2-1h0m1.2 .5h0m.3-.7h0m.1 1.6h0m.2-2.4h0m0 3.1h0m.1-3h0m.6 3.6h0m0-3.2h0m.1 1.7h0m.8-1.7h0m.5 1.5h0m.4 1.5h0m0-2.7h0m.5 1.3h0m.9-1.8h0m1 2.7h0m.7-2.1h0m.7 2.6h0m.1 .1h0m.4-1.5h0m.3-.7h0m.3 1.3h0m.2-.8h0m1.6 1.2h0m.8-1.3h0m.8 1.6h0m.5-.9h0m.1-1.1h0m.1 1.5h0m.5-.3h0m.3 .2h0m.3-1.8h0m.1 1.8h0m.5-1.2h0m.1-1.2h0m.1 1.5h0m.7-1.8h0m0 1.4h0m.1-.1h0m.3-1.4h0m0 1.5h0m.2-1.4h0m.4 1.7h0m.1 .9h0m2.4-2.4h0m2.8 .2h0m3.6 2.6h0m1.6-1.7h0m.3 .2h0m2.4 1.1h0m.4-1.8h0m.7-.8h0m.5 3.3h0m.8-3.3h0m5.8 2.3h0m1.6-1.2h0m.5-.1h0m1.4-1h0m.2 .9h0m4.3 1.9h0m.7 .8h0m.2-1.7h0m7.2 .5h0m6.5 .1h0m4.6-.6h0m6.3-.2h0m13.5 .9h0m-187.8 1.8h0m18 3h0m5.4-3.3h0m7.6-.2h0m3.3 1.4h0m3.7-.4h0m2.1 .6h0m3.8-1.8h0m.1 2.6h0m7.2 1.3h0m7.9-2.5h0m2.7-.9h0m1.9-.5h0m1 1.2h0m1.6 2.4h0m.1-1.2h0m.1 .9h0m.4-2.6h0m.1 1h0m.3 .8h0m.8 1h0m.1-1.3h0m.3-1.2h0m.6 .3h0m0 2h0m.3-2.3h0m.1 2.8h0m1.5-1.3h0m.5-.3h0m1.9 1.3h0m.1-3.3h0m.7 3.2h0m.4-.4h0m.7-1.1h0m.3-1.8h0m.4 3.3h0m.2-2.3h0m.1 .4h0m0 1.1h0m.1 .5h0m.3-1.9h0m.2 .3h0m.2 .5h0m.3 1.1h0m.2-3h0m.3 .9h0m.5 .5h0m.5 .7h0m.3 .2h0m2.3-.9h0m.2 1h0m.1 .3h0m.5 1h0m.4-2.5h0m.4 1.9h0m0-.3h0m.6 .1h0m.4-.1h0m.3-.3h0m0-2h0m.1 2.2h0m.7-.5h0m.3 .7h0m.5-3h0m.1 3h0m.8-.5h0m.3 .7h0m0-.9h0m1.1-.1h0m.2-.7h0m0 1.2h0m.3-1h0m0-.5h0m.1-.2h0m.3 .6h0m.6-1.6h0m.2 .2h0m.1 3h0m1.9-.7h0m.1 .5h0m.7 .5h0m.1-1.2h0m.1-1h0m.3 .3h0m.2-1.6h0m0 .4h0m.1 3.5h0m.9-3.7h0m.3 2.7h0m.1-2.1h0m0 1.7h0m.8-1h0m.8-.9h0m.4 1.9h0m.5 1.1h0m0-1.5h0m.1 .5h0m.2 .3h0m.6-2.3h0m.4 2.1h0m.1 .3h0m.4-.4h0m.1 1.1h0m.1-3.1h0m.4 1.4h0m.1-2h0m.3 2.2h0m.1-2.1h0m.7 1h0m.1-.1h0m.1 2.7h0m.5-2.4h0m.2-.3h0m0 1.9h0m.6-1.6h0m0 2.6h0m.2-1.4h0m.3-.7h0m1-.8h0m.4-.8h0m.5 2.4h0m1.5 0h0m0-2h0m.3 2.4h0m.4-.6h0m.3 1.4h0m.1-3.7h0m.8 3.8h0m.1-1h0m.1-.4h0m0-2.5h0m.1 .4h0m1 .9h0m.4 2.5h0m.3-.3h0m.9-.3h0m.1-3.2h0m.2 3.5h0m.1 .4h0m.2-2h0m.4 .8h0m.1-.2h0m.3-.9h0m.1-.9h0m.4-.5h0m1-.2h0m.2 .6h0m.2-.5h0m.4 2.4h0m.3-1.9h0m1.3 .8h0m.6 1.4h0m.3-.9h0m.1 .7h0m.2-.1h0m2.2-1.9h0m.4 .4h0m.6 .9h0m1.1 .4h0m.1-1.5h0m0 1.2h0m.4 1h0m.3-2.1h0m1.4-.6h0m4.2 1.4h0m1.3-.7h0m3.6 2.9h0m3.3-.7h0m1.7-1.8h0m.5 1.5h0m3.3-1.6h0m1 1.3h0m1.3-1.6h0m.2 2.2h0m.2-.4h0m.7-1.2h0m2 .7h0m.2-2.1h0m1.6 1.6h0m2-.4h0m3.7 2.4h0m6.3-2.6h0m2 2.4h0m22.5-3.6h0m-183.6 5.9h0m14.9 .3h0m2.9-.4h0m15.3 1.7h0m2.3-2.1h0m2.1-.5h0m1.3 .6h0m3.7 .7h0m3.1 1.3h0m.8-1.3h0m.4-1h0m3 2h0m.4-2.1h0m0 1.1h0m2.1 1.7h0m7.1-2.6h0m.6 2.1h0m.5-1.2h0m2.2 1.6h0m1.8-2.9h0m.8 2.3h0m.6-1.2h0m1.3-1.4h0m.2 .5h0m.3-.5h0m.3 .8h0m.1 2.3h0m.2-.7h0m.2 .5h0m.1-.3h0m1.5-.1h0m.6-2.9h0m.2 1.3h0m1.3 .7h0m.2 .6h0m2-1.8h0m.3 2.6h0m.4-1h0m.1 .6h0m.3 .4h0m.3-.3h0m1.3-1.7h0m.4-.7h0m.3 1.5h0m0-.2h0m.2-.7h0m0 0h0m0 .1h0m.5 0h0m.2-1.1h0m.2 1.4h0m.1 1h0m1-.3h0m0-2.1h0m.6 2.3h0m0-1.7h0m.8-1.1h0m.6 3.7h0m.6-3h0m.4-.7h0m.4 1.5h0m.3-1h0m.1 .9h0m.6 2.1h0m.5 0h0m.1-.9h0m1.1-.5h0m.3 .9h0m.1 .4h0m.2-.7h0m.8-1.3h0m.1 0h0m.3 2.2h0m.1-2.7h0m.5 1.2h0m0 1.6h0m.1-2.4h0m0 2h0m.5 .5h0m.2-1.7h0m.1 .2h0m0-2.2h0m.2 3.1h0m0-2.5h0m.1 3.1h0m.5-2.7h0m.1 1.3h0m.2-1.4h0m.2-.4h0m.4 0h0m.4 2.4h0m.3-2.7h0m.4 3.6h0m.3-2.8h0m.1 2.4h0m.1 0h0m.1-.2h0m.2-1.1h0m.2 .9h0m.1 .3h0m1-2.1h0m.2 .2h0m0-.2h0m.1 .2h0m.1 .5h0m0 .2h0m0 .4h0m.9-.1h0m0 1.3h0m.1-1.1h0m.6 1.2h0m0-2.4h0m.1 1.5h0m0-1.8h0m.1-.9h0m.3 2.5h0m.3 .1h0m.2-.3h0m1-1.6h0m.1 .4h0m0 .3h0m0 1.8h0m.2-3.2h0m.4 2.5h0m.3-1.1h0m.1 1.2h0m0 .5h0m.3-2h0m.5 .3h0m.3 1.3h0m.2 .9h0m.2-2.1h0m.1 .7h0m.3 .9h0m.2-.4h0m.4 .9h0m1.4-3.4h0m0 .1h0m.1-.3h0m0 2.8h0m.3-1.8h0m.1-.8h0m.1 2.5h0m.1-.3h0m.3-.4h0m0 .9h0m.3-.4h0m.2-1.8h0m.1 .6h0m.1 1.8h0m.1-2.9h0m.5 .9h0m.3-.5h0m.2 .8h0m0 .9h0m.2-.5h0m0-1.7h0m.6 2.2h0m.1-2.6h0m.9 2.5h0m.4-2.2h0m1 3h0m1.2-2.8h0m.1 .9h0m.2-.9h0m.4 3.1h0m.4-.4h0m.1-1.2h0m0 1.9h0m.6-.5h0m.2-1.9h0m.2 2.3h0m.1-1.8h0m.3-1.1h0m.5 2.1h0m0 0h0m.7-2.4h0m1 1h0m.3 2.2h0m.6-2.7h0m.5 .7h0m.6 .5h0m0 .2h0m.4 1.1h0m.2-.8h0m.8-2.8h0m0 2.3h0m1-.2h0m1.4-2.1h0m.7 3.7h0m.3-3.7h0m.5 3.7h0m0-3.3h0m.1 1h0m.7 2h0m.3-1h0m.8 .9h0m.4-.9h0m.4 0h0m.1-1.2h0m.1 2.1h0m.3 .4h0m1-1.3h0m1.5-.9h0m.4 1.9h0m.3-2h0m1 1.3h0m.2-1.3h0m0 2.4h0m.9-2.6h0m.4 1.5h0m.4 0h0m1.6-1.3h0m2.5 1.5h0m1.7 .6h0m.7-2.7h0m5.6 2.7h0m.3-1.7h0m.4 1.8h0m.1-1.8h0m.8-.1h0m4.7 1.5h0m.6-.4h0m1.1-.2h0m14.7 .8h0m1.4-.6h0m18.9-2.7h0m-171.6 6.3h0m13.3 1.5h0m19.5-2.6h0m.6 0h0m.1 1.2h0m0 1.1h0m.1-3.4h0m2.1 0h0m3.6 2.3h0m1.4 1.2h0m.1-1.1h0m.5-1.5h0m.4 .4h0m.9 .7h0m0-.1h0m1.8 .5h0m2-.3h0m.7-2.1h0m.2 3.7h0m.2-1.1h0m.1 .7h0m.6 .3h0m.2-1.3h0m.3-1.3h0m.8-.9h0m1.7-.3h0m.3 2.3h0m1.3-.9h0m.3 1.1h0m1.5-2.1h0m1.1 3.1h0m.6-.5h0m.2-1.3h0m.6 1h0m.6-1.3h0m.6-.8h0m.3 .7h0m1.4 .2h0m.3 0h0m.1-.5h0m0-.9h0m0 .5h0m.6 3.1h0m.8-1.3h0m.3 1.4h0m.3-.7h0m1.2-.1h0m.4-1.1h0m.1-1.4h0m.1 1.3h0m.1 1.9h0m.7-1.8h0m0-1.5h0m.4 2.3h0m.2-.3h0m.1-1h0m.2-.3h0m.1 .1h0m.4 2.1h0m.2-2.8h0m.1 3.4h0m.2 0h0m.3-1.9h0m.3-.7h0m.4-.7h0m.5 1.9h0m.1-.8h0m0-1.3h0m.2 .9h0m.3 2.2h0m.2-.7h0m.1-1h0m.1 .6h0m0 1.3h0m.5-.2h0m.3-1.7h0m.5-.3h0m.1-1.5h0m.1 0h0m.1 2.7h0m.3 .5h0m.1 .4h0m.1-2.4h0m.1-.9h0m0-.2h0m.1 3.1h0m.2-2.4h0m.1 3h0m.1-3.2h0m.1 1.9h0m0-.6h0m.3 1.7h0m0 .3h0m.1-1.1h0m.1 .3h0m.1-2.2h0m.1 .2h0m.1 .5h0m0-.4h0m.2 .7h0m.1-1.6h0m.1 2.9h0m.3-.6h0m.2-1.2h0m0-1.1h0m.2 .1h0m.1 2.6h0m0 .6h0m.1-.2h0m.1-.1h0m0 .5h0m0-3.3h0m.1 2.6h0m.1-2.3h0m.1 1.4h0m.1 .8h0m0 .7h0m.1-1.2h0m0-.9h0m0 .9h0m.1 1.1h0m.1-2.4h0m0 1.1h0m.1-1.4h0m.2 1.8h0m.1 .6h0m0-.8h0m0 1.3h0m.2-1.1h0m.1-1.6h0m.1-1h0m0 1.6h0m0 1.5h0m0-.6h0m.6-.6h0m0 1h0m.1 .2h0m0 .2h0m.2-1.6h0m0 1.2h0m0-2.8h0m0 .9h0m.1 2.3h0m0-1.6h0m0 2.1h0m0-3.4h0m.2-.1h0m.1 .3h0m0 2.6h0m0-2h0m.1 1.2h0m0-.4h0m0-2h0m.1-.1h0m.1 3.1h0m.1 .2h0m0-1h0m0-2.3h0m.1 3.9h0m0-3.2h0m.1 1h0m0-.1h0m.1 1.2h0m.3-.2h0m.1-2.2h0m0 3.5h0m.1-1.5h0m0-.9h0m.1 1.8h0m0-.1h0m.1-1.2h0m0 .7h0m0-.7h0m.2-.1h0m0 1.4h0m.2-2.5h0m0 2.8h0m0-2.8h0m.1 2.5h0m.1-2.6h0m.1 .7h0m0 1.1h0m.2-.3h0m0 .3h0m.3-1.6h0m0 2.2h0m0-2.5h0m.1 .9h0m.1 1.5h0m0 .7h0m.1-.2h0m0-1h0m0-.1h0m.1 1h0m.1-3.1h0m.3 2.6h0m.2 1h0m0-.4h0m0-.1h0m0-3.1h0m.1 2h0m.1 .3h0m0-1h0m0 .5h0m0 1.2h0m.1-.5h0m0 .9h0m0-2.7h0m0 .3h0m0-.5h0m.1 1.6h0m0 1.5h0m0-3.7h0m0 .7h0m.1 2.2h0m.3-.2h0m0 .3h0m0-2.8h0m.1 .4h0m.1 1.7h0m.1-1.1h0m0 1.3h0m.1 .2h0m.1-.4h0m.1 .4h0m0 .7h0m0-.7h0m.3 .5h0m0 .3h0m0-.8h0m0 .7h0m.4-3.1h0m.1 .3h0m.2 2.8h0m0-2h0m.2-.1h0m.2 2.3h0m0-1.8h0m0-.6h0m.2 1.7h0m.1-.2h0m.1 .1h0m.1-1.9h0m0 1.2h0m.1 1.3h0m0-2.1h0m0 .5h0m.1-.3h0m0 .1h0m0 .2h0m.1-1.3h0m0 2.4h0m.1-2.8h0m.3 .4h0m.1 .3h0m0 .1h0m.1 1.9h0m0 .9h0m.1-1.8h0m0 .7h0m.1-2.1h0m0 1.2h0m.2 .9h0m.3 .8h0m.1-2.8h0m.1 1.7h0m.1 .4h0m.2-.7h0m.3-.9h0m0 .6h0m.2 1.3h0m.1-1.5h0m.3-.8h0m0-.3h0m0-.2h0m.2 1.8h0m.2 .1h0m0 .2h0m.1-1.8h0m.1 .4h0m0-.3h0m.2 2.5h0m0-.7h0m0-1.9h0m.1 1.5h0m.2-.1h0m.1-2h0m.1 2.5h0m0 .6h0m.4 .1h0m.1-2.3h0m.1 1.3h0m0-.1h0m.2-.4h0m.1 1h0m0-1.1h0m.1-.6h0m0 1.7h0m0-1.2h0m.5 .6h0m.9 .4h0m.3-.4h0m.4-.2h0m.1-1.8h0m.1 1.8h0m.2-1.9h0m.4 .8h0m.2 1.6h0m.5-.5h0m.4 1.2h0m.4-1.8h0m.3-.4h0m.2 2.5h0m.4 .2h0m.1-3.6h0m0 3.4h0m.4-1h0m.1 1.1h0m.4-2.3h0m.3 2.3h0m0-2.6h0m.8 1.5h0m.2 .3h0m0-1.8h0m.2 .7h0m.6-.5h0m.3 .5h0m.3-.6h0m.4-.1h0m.5 1.4h0m.1 1.1h0m.4-2.2h0m.1 1.5h0m1.1-1.5h0m.6-.6h0m.3 1.9h0m.1-2.3h0m.7 0h0m1.5 3.4h0m0-2.7h0m.4 0h0m.6 1.2h0m.2 1.4h0m.7-2.1h0m0 1.1h0m0-.8h0m1 1.2h0m.2-2.1h0m0-.6h0m.1 .1h0m.2 3h0m1.4-1.7h0m2.3 1.4h0m1.3-1.9h0m.4 2.2h0m.1-2h0m2 .3h0m.3-1.1h0m.1 .2h0m.6-.5h0m.6 1.2h0m.3 .1h0m1.9-.1h0m2.3 .3h0m.7-.9h0m1.9 .9h0m9.5-.3h0m.1-1.4h0m1.6 3.2h0m4.2-2.7h0m4.6 1.4h0m3.7-.3h0m4.9 .5h0m7.8 1.4h0m-174.5 3.4h0m.3-2.2h0m13.5 3h0m17.7-.9h0m3.3-2.6h0m1.8 3.6h0m1-1.2h0m.4 1h0m2.4-2.7h0m.9 .7h0m2.1 1.9h0m1.2 .2h0m2.3-2.5h0m2.2 2.6h0m.1-.6h0m4.2 .1h0m.2-1.5h0m.5 .6h0m1.1 1.1h0m.4-3.5h0m.8 3.8h0m1.1-2.9h0m.2 0h0m1.4-.4h0m1.1 0h0m1.7 2.3h0m1.4 .4h0m.2-1.8h0m.1 1h0m.6-1.4h0m.3 2.7h0m.7-2.2h0m.4-1.4h0m.4 3.4h0m.3-3.4h0m.8 3.2h0m.4 0h0m.7-.6h0m.5-2.2h0m.4 2.2h0m1.2 .5h0m.2-.4h0m.6-1h0m.3-1.4h0m.1 2.9h0m1-2.8h0m.2 .3h0m.1 1.9h0m.4-.4h0m.7-1.5h0m0 2.1h0m0-2.1h0m.2 2.3h0m.2-.7h0m.3 1.1h0m.2-1.7h0m.3-1.5h0m0 .6h0m.4 1.1h0m0 1h0m2.2 .4h0m.4-3.2h0m.2 .5h0m.1 3.1h0m.6-2.1h0m.4 .1h0m.4-1.4h0m.2 2.1h0m.1 .2h0m.3-.7h0m0-1.4h0m.5 3h0m.4-3.3h0m.1 1.6h0m0-1.6h0m.3 .7h0m0 0h0m.1-.6h0m0 2.6h0m.4 .6h0m0-2.7h0m.2 2.7h0m.2-1.2h0m.2 .5h0m0 .7h0m.2-.9h0m.1 .5h0m.6-1.9h0m.1 2.4h0m.1-3.3h0m.1 2.2h0m.5-.5h0m0-.9h0m.3 1h0m.2-.2h0m0 .2h0m.1 .2h0m.1-1.7h0m.1-.8h0m.2 .1h0m.1 3.4h0m.1-2.8h0m0 2.5h0m0 .1h0m.1-2h0m0 1.2h0m.1 1.2h0m.2-1.1h0m.1 .1h0m.1 .8h0m0-3.4h0m0 2.3h0m0-2.1h0m.2 .4h0m0 1.2h0m.2-.1h0m.1-.5h0m0 2.4h0m0-3.5h0m.1 .7h0m0 1h0m.1-.5h0m0-1h0m0 .3h0m.1 1.5h0m.1-1.2h0m.1 2.8h0m0-3.2h0m0 1.2h0m0 1.3h0m0-.1h0m0-1.5h0m.1 .5h0m0-1.7h0m.6 1.3h0m.1 .2h0m0 .2h0m.2 1.7h0m0-.7h0m0-.2h0m.1 .1h0m0 0h0m0 0h0m.1-.5h0m0 .7h0m.1 .4h0m0 0h0m0-3.4h0m.1 2.2h0m0-1.1h0m0-.2h0m0 1.1h0m.1 1.5h0m0-2.3h0m0 2.5h0m.1-1.7h0m0-.7h0m0 1.9h0m.1-1.8h0m0-.3h0m.1-.1h0m.1 1.2h0m0 .6h0m0-2.4h0m0-.3h0m.1 .7h0m0-.8h0m0 2.8h0m0 .1h0m0-1.2h0m0 1.2h0m0 .2h0m.1-1.7h0m0 .4h0m.1 0h0m0 1.1h0m.1 .8h0m0-1.5h0m.1-.6h0m0-1.4h0m.1 .8h0m0 2h0m.1-2.5h0m0 2.8h0m0-.1h0m.1-2.4h0m.1-.7h0m0-.2h0m0 3.1h0m0-1.5h0m0-1.1h0m.1 3.2h0m.1 .1h0m0-3.8h0m0 .1h0m.1 .7h0m0-.1h0m0 1.1h0m0 2.1h0m0-2.6h0m.1 1.1h0m.1-1.9h0m0 1.3h0m0 .1h0m0-.5h0m.1 .9h0m0-.7h0m0-.7h0m.1 .6h0m0-1.4h0m0 2.8h0m.1-.4h0m0-.3h0m.1-.8h0m0 .9h0m0-1.5h0m0 1.8h0m0-2.6h0m.1 3.5h0m0-1.1h0m0 1.3h0m0-.2h0m0-1.4h0m.1-1h0m0 2h0m0 .2h0m.1-.2h0m0 .2h0m0-.3h0m0-.1h0m0-1.4h0m0 2.2h0m.3 .2h0m.1-2.4h0m0 1h0m0 1h0m.1 .1h0m0-3.1h0m.1 2.9h0m0-1.9h0m.1 2.1h0m0-3.2h0m0 1h0m0 2.5h0m.1-.9h0m0-1.2h0m0 1.3h0m0 .7h0m.1-1.2h0m.1-2h0m0 1.3h0m.1 1.4h0m0 .2h0m0-3.1h0m0-.3h0m.1 1h0m0 2.1h0m.1-.2h0m0-1.1h0m0-.7h0m0-.8h0m.1 1.2h0m0 .5h0m0 0h0m0-.5h0m0-1.1h0m0 2h0m.1-2.1h0m0 2.3h0m0 .9h0m.1-.8h0m0-2.7h0m0 3h0m.1-2.2h0m0-.8h0m.1 .3h0m0-.4h0m0 3.8h0m.1-1.8h0m0 1.8h0m0-1h0m0-2.2h0m0 1.6h0m0-.3h0m0 .2h0m.1-1.6h0m0 .2h0m0 .9h0m0 1.1h0m0 .6h0m0-2.3h0m0 2.3h0m.1 .3h0m.1-2.7h0m0 .4h0m0 .9h0m0-1.9h0m.1 3.1h0m0-2.1h0m0 .9h0m.1-.5h0m0 .1h0m0 .5h0m0-2.1h0m0 0h0m0 .4h0m0 2.4h0m0-.9h0m.1 1.3h0m0 .3h0m.1 0h0m0-1.8h0m0 1.3h0m0-1.1h0m.1-.3h0m0-.3h0m0-.6h0m0 2.6h0m.1 .1h0m0-.5h0m0-1.7h0m0 .5h0m0 1.8h0m0-.8h0m.1 .7h0m0-2.6h0m0 .5h0m0-.5h0m.1-.8h0m0 1.4h0m0 .2h0m0 .7h0m0-.7h0m0 0h0m.1 2h0m0-1.4h0m.1 1h0m0-.1h0m0-1.7h0m.1 1.8h0m0-2.5h0m.1-.3h0m0 2.7h0m.1-.1h0m0-3.1h0m0 2.3h0m0-.4h0m.2-.1h0m0 1.5h0m0-1.3h0m0-.5h0m.1-1.5h0m.1 .2h0m0-.1h0m0 1.7h0m0 1.9h0m0-.2h0m.1-1h0m0-.3h0m0 .7h0m0-1.8h0m0-.4h0m.1 1h0m0-1.3h0m0 1.6h0m0 .2h0m.1-.3h0m0-1.5h0m0 2.2h0m.1-2.6h0m0 1.4h0m0 .2h0m.1 .1h0m0-1.1h0m.1 2.9h0m0 .1h0m0-1.3h0m.1-.5h0m0 1.9h0m0-2.8h0m.1 1.7h0m0-.6h0m0 .6h0m0-1h0m0 1.5h0m0-2.6h0m0 1.3h0m.1 .8h0m.1 0h0m0 .7h0m0-.1h0m0-2.6h0m0-.4h0m.1 1.6h0m0 .3h0m.1-1.8h0m0 2.1h0m0-.1h0m0-.1h0m0 .8h0m0-2h0m0 .2h0m.1 1.1h0m0-1.5h0m0 1.5h0m0-1.2h0m0-1.2h0m0 3.3h0m.1-3h0m0 2.9h0m0-3h0m0 3.5h0m.1-2.2h0m0 1h0m.1 .3h0m0 1h0m0-1.8h0m0-.8h0m0 2.4h0m0-3.5h0m.1 1.3h0m0 1.9h0m0-1.4h0m0-.6h0m0 1.3h0m0 .6h0m.1-1.5h0m0-1.2h0m0 2.3h0m0 0h0m0-1.2h0m0 1.6h0m.1-.6h0m0-1.8h0m0 2.1h0m0-1.6h0m0 .2h0m.1-.2h0m0 1.8h0m0-1.9h0m0 1.4h0m.1-1.9h0m0-.4h0m0 .9h0m0-1.1h0m.1 .9h0m0 2.5h0m0-2.5h0m0-.4h0m0-.6h0m0 .6h0m.1 2.8h0m.1-3.4h0m0 1h0m.1-.4h0m0 1.1h0m0 1.9h0m.1-3h0m0 1.9h0m0-.2h0m0-1.2h0m0 .8h0m.1 .5h0m.1 .8h0m0 .5h0m0-3.6h0m.1 1.5h0m0 .7h0m.2 1.4h0m.1-.5h0m0-2.1h0m.1 .5h0m.1 .4h0m.1-.9h0m0 .5h0m0-.2h0m0 2.3h0m.1-1.1h0m.1 .7h0m.1-.8h0m0-.4h0m0 1.4h0m.1-2.8h0m0 .4h0m.2 .3h0m0-.6h0m0 3.1h0m.1-2.1h0m.2 .7h0m0 .7h0m.1-.6h0m0-1.8h0m.1 1.6h0m.1-1.1h0m0 .5h0m.2 .9h0m.3-2.4h0m.1 3.1h0m0-2.9h0m0-.4h0m0 1.2h0m.2 .6h0m0-.8h0m.1-.5h0m0 2.9h0m.1 0h0m0-2.9h0m.1 3.3h0m0-.6h0m.1-.1h0m0-.6h0m.2 1.3h0m0-2.2h0m.2 1.5h0m.1-1.1h0m.3 .1h0m.5-1.9h0m.1 .6h0m0 .4h0m0 2.5h0m.2-1.2h0m0 1.3h0m.6-.6h0m.1-1.2h0m0 .8h0m0 .7h0m.1-1.1h0m.3-.6h0m.2 .7h0m0-1.4h0m.1 1.7h0m.1-.2h0m0-2h0m.1 2.4h0m0-1.3h0m.1 1.1h0m0-.9h0m.1 1h0m.7-2.6h0m0 .7h0m.7 2.3h0m.2-2.9h0m.2 2.7h0m0-2.3h0m.5 1.3h0m2.1-1.7h0m.7 3.2h0m.7-.9h0m.1-.6h0m.6-.5h0m.1-1.4h0m.2 2.6h0m.1 .8h0m.1-3.3h0m.2 1.7h0m.2-1.4h0m.4-.5h0m.1 2h0m.4-.5h0m.2 1.9h0m.5-2.1h0m0-.9h0m.6 .6h0m.3 1h0m.9-1.2h0m.9-.2h0m1.1 2.9h0m.5-3h0m.3 .9h0m.2 .3h0m.6-.6h0m2-.2h0m.1 1.8h0m0 .9h0m1.1-1h0m1.2-1.7h0m0 1.6h0m1.4-1h0m.1 2.1h0m0-1.7h0m.7 1.2h0m.2-2.8h0m0 3h0m.1-3.3h0m1.5 2.2h0m1-2.4h0m3.4 2.4h0m.8-2h0m.5 2.3h0m7.9-.5h0m1.5-.4h0m12.5 1.1h0m.3-.8h0m.4-2.1h0m1 1.7h0m2.3-1.7h0m1.5 3.7h0m9.8-1.8h0m15.7 1h0m-185.2 1.5h0m5 3.5h0m.2-3.6h0m6.9 1.8h0m20.4-.5h0m4.5 1h0m2.6-.7h0m2-.5h0m2.6 1.5h0m4.8 .8h0m1-2.5h0m.7-1.1h0m1.9 2.2h0m.5 1h0m1.6-2.7h0m3.7 1.4h0m.2-1.6h0m1.1 .8h0m2.1 .3h0m.9 2h0m1.2-1.9h0m0-.7h0m.5-.6h0m.9 2.4h0m1-2.5h0m.9 2.3h0m.4 .6h0m0-.6h0m.4-.6h0m.7-1.3h0m.5 3.2h0m.4-1.7h0m.5 .2h0m.6-1.3h0m.9 1.4h0m.3-1.9h0m.1 3.1h0m.3-2.8h0m.8 1h0m.4-1.3h0m.1 0h0m.4 1.3h0m.1-1.1h0m.8 2.7h0m.1-3.3h0m.3 0h0m.3 2.9h0m.2-2.9h0m1.2 .6h0m.1 1.8h0m1-.7h0m.1 1.5h0m0-2.2h0m.1 .2h0m.2 1.9h0m.7-1.7h0m.6-.9h0m0 2.8h0m.4-1.9h0m.1-1.3h0m.1 .9h0m.3 2.6h0m.1-2.8h0m.8 .5h0m.1-.6h0m.1-.2h0m.2 .1h0m.1 2.2h0m.2-2.2h0m.6 3.2h0m.5-3.5h0m0 1.2h0m0-.1h0m.1-.7h0m.1-.8h0m.1 .2h0m.2 2.3h0m.1-.8h0m0 .6h0m.2 .2h0m0-.7h0m.3-.7h0m.2 1.9h0m0-1.7h0m.4-1.3h0m.2 1.4h0m.1-.8h0m.4 1.6h0m.1 .2h0m.1-1.5h0m.1 2.6h0m.2-.7h0m.1-2h0m0 2.1h0m.1-.3h0m.1-2.1h0m0 2.7h0m0-.9h0m.1-.5h0m.3-.7h0m0 .3h0m0-.8h0m.1 .6h0m0-.6h0m.2 .6h0m0-.8h0m0 1.8h0m.1-1h0m.1 1h0m.1-1.9h0m.2 3.6h0m.1-.9h0m.1 .2h0m0-3.2h0m0 2.2h0m.1 .1h0m.1 .7h0m0-2.1h0m.1 .1h0m.1 .1h0m.1-.6h0m.1-.3h0m.1 2h0m0-2h0m0 2.5h0m0-.8h0m0 .7h0m.1-.1h0m.1-2h0m0-.4h0m0 .4h0m0 3.1h0m.1-2.3h0m0 1.8h0m0-.5h0m0-2.6h0m.2 .7h0m0-.3h0m0 1.6h0m0-1.3h0m.1-.7h0m.1 0h0m0 3.2h0m0-2.7h0m0 1.8h0m0 .1h0m0-1.6h0m.1 0h0m.2 .2h0m0 2.3h0m0-.7h0m.1-1.9h0m.1-.1h0m.1 .2h0m.1-.2h0m0 .9h0m0 1.1h0m.1-2.6h0m0 1.2h0m.1 0h0m0-.9h0m.1 .2h0m0 .7h0m0-.6h0m0 1.8h0m.1-1.2h0m0-.9h0m0 .2h0m.1-.4h0m0 3.1h0m.1-2.2h0m0-.2h0m0 .7h0m.1-.3h0m0 .4h0m0-.6h0m0 1.1h0m.1 0h0m0 1h0m0-1.2h0m.1-1.7h0m0 0h0m0 .7h0m0 0h0m0 2.7h0m.1-1.2h0m0-2h0m.2 1.5h0m0-1.8h0m.1 2.5h0m0 .7h0m0-2.9h0m.1 .2h0m0 .2h0m0 1.2h0m.1-1.8h0m.1 2.4h0m0 0h0m.1-1.9h0m0 2.8h0m.1-1.5h0m0 .3h0m0-.6h0m.1-1.6h0m0 .2h0m0 3.5h0m0-3.1h0m.1 .8h0m0 2h0m.1-2h0m.1-.7h0m0-.4h0m.1 1.3h0m.1-1.5h0m0 1.2h0m.1-.6h0m.1-.7h0m0 .2h0m0 .2h0m.1 2.7h0m0-3h0m.1-.1h0m.1 3.7h0m0-3.1h0m.1 3h0m0-2.8h0m0 .1h0m.1 .8h0m0-1.8h0m.1 .7h0m0-.5h0m0 .4h0m0 1.3h0m.1-.7h0m0 2h0m0-1.5h0m0 .1h0m.1-1.1h0m0-.1h0m.1 1h0m0-.6h0m.1 .5h0m0 1h0m.1-1.6h0m.1-.7h0m0 .4h0m.1 .8h0m.2 1.2h0m.1 .5h0m0 0h0m.1-1.3h0m0 .7h0m0-1.3h0m.1-.2h0m0-.6h0m0 3.3h0m.1-1.1h0m0-1.8h0m.1 .3h0m0-.3h0m0 1.6h0m0 .8h0m.1-1.7h0m0 2.1h0m.1-2.6h0m0-1h0m0 .2h0m0 1.5h0m.1 0h0m0-1.5h0m0 1.2h0m.1-1.1h0m0 1.4h0m.1-.7h0m.2-1h0m0 3.1h0m.1-.4h0m0-1h0m.1 .4h0m0-1.4h0m.1 .3h0m0 2.4h0m.1-3.2h0m0 .7h0m0 1.9h0m.2-2.5h0m.1 2.8h0m0 .8h0m.1-2.2h0m0-.5h0m0-1.1h0m.1 .5h0m0 .1h0m0 2.6h0m0-1.4h0m0 1.6h0m.1-2.4h0m.1-1h0m.1 0h0m0 .8h0m.1 1.5h0m0-.6h0m.1 .5h0m.2-.9h0m.2-.9h0m0 .5h0m.1 1h0m.1-1.6h0m0 .3h0m0-.5h0m.1 .6h0m0-.5h0m.2 .2h0m.1 .2h0m.1-.2h0m0-.1h0m.2-.4h0m.1 .1h0m0 0h0m.1 .8h0m.2 0h0m.1-.9h0m.1 .9h0m.2-.3h0m.1 .2h0m0-.8h0m.1 2.2h0m.1-1.1h0m.1 .1h0m0 1.8h0m0-1.7h0m.2-1.1h0m.1 2.2h0m0 .9h0m.1-2.3h0m.1 .5h0m.1-.3h0m.3 1.8h0m.1-.6h0m0-2h0m.1 2.6h0m.2-1h0m.1 1.2h0m.3-2.7h0m.3 1.5h0m.1-.6h0m.2-1.2h0m.2 1.7h0m.2-.7h0m.2-1.2h0m.7 1.8h0m.3-.2h0m.1 0h0m.4-1.1h0m.2 2.2h0m.1 .2h0m.1-2.3h0m0 1.6h0m.1-1h0m.5 2.3h0m0-1.1h0m.1-1.1h0m.1-1.3h0m0 .3h0m0 .9h0m.7-.1h0m.1 1.4h0m.3-1.9h0m.4 1.4h0m.1 0h0m.1 1.1h0m.1-2.5h0m.2 .6h0m.3 .3h0m0 2.2h0m0-1.1h0m.2 .7h0m.1-2.9h0m0-.4h0m.3 1.6h0m0-1.3h0m.4 .5h0m1.1-.7h0m0 .6h0m.1 2.7h0m.1-2.9h0m.2 .4h0m.6-.9h0m.1 1.3h0m.1-1.1h0m.3 1.8h0m.2-2h0m0 .8h0m.7-.8h0m.1 .1h0m0 1.4h0m.4 2.2h0m0-1.4h0m.3-.9h0m.4-1.2h0m.8 .4h0m.2 2.1h0m.1-2.4h0m1.1 .2h0m.6 2.3h0m.5-2.8h0m.1 .3h0m1.2 .2h0m0 2.8h0m.2-.2h0m.3-2.9h0m.2 2.9h0m.3-.9h0m.1-2.1h0m.3 1h0m.1-.7h0m.2 2h0m.3 1.5h0m.1-.7h0m.1-3.1h0m.4 2.5h0m.7 .9h0m.9 .3h0m2.2-3.3h0m.4-.2h0m.3 .8h0m1.4 2h0m1.9 .6h0m1-2.4h0m2.6-.8h0m0 1.8h0m.8-2.3h0m2.4 3.1h0m1.8-1.6h0m.8 2h0m3-1.2h0m1.7-.8h0m1.1 .4h0m3.1-1.9h0m8.6 .7h0m12.1 .1h0m1.3 .4h0m5.6 2h0m7.5 0h0m4.2-2.2h0m-175.8 5.5h0m12.3 .2h0m1.9-1.3h0m4.8-.5h0m4.6 .9h0m.2-.4h0m1.3 .8h0m6.7-2h0m2.4 2.5h0m7.1 .5h0m.3-2.9h0m.1 .7h0m.4-1h0m3.2 2.7h0m2.2-.8h0m.3 1.8h0m.1-.9h0m.2 .3h0m1.1-.7h0m.3 .7h0m1.4-.8h0m.7-.9h0m.4-1.2h0m1.7-.1h0m.2 .3h0m1.4 .3h0m.4 2.4h0m0-2.4h0m.7 2.5h0m.4-.5h0m.4 1h0m.8-3h0m.2 .1h0m1.6-.3h0m.1 .3h0m.6 2.8h0m.1-.9h0m1.3 .5h0m0-.4h0m.1-.1h0m.2 .5h0m.1-2.7h0m.2 .1h0m0 2h0m.1-.8h0m.1-1.2h0m0 2h0m.2-1.2h0m.3 .4h0m.3-1.3h0m.5 3.3h0m0-1.3h0m.4-1.8h0m.1 .3h0m.1 .5h0m.4 .7h0m.5-1h0m.2 .6h0m1.3-1.2h0m.1 2h0m1.7-1.5h0m.1 2.5h0m.4-2.5h0m0 .9h0m.6-1.5h0m.1-.2h0m0 1h0m.6-1.3h0m.4 3.6h0m.2-2.5h0m0 1.6h0m.3-.7h0m.1 1.7h0m.3-3.6h0m.1 2.1h0m.2-.4h0m.1-.3h0m.1 .3h0m.1 1.7h0m0-1.3h0m0-.2h0m.1 0h0m.1-1.4h0m.4 2.7h0m.2 .6h0m0-3.1h0m.3 .3h0m0 .3h0m.6 2h0m.1-1.4h0m.4-1.9h0m.2 1.1h0m.2 1.1h0m.1-1.9h0m0-.2h0m.2-.1h0m.1 3.5h0m.1-2.5h0m.1 .9h0m.2-1.2h0m.1 .4h0m.1-.4h0m0-.5h0m1.4 .7h0m.2 .9h0m.2-.8h0m.3 1h0m0 1.4h0m.1-.7h0m0-2h0m.1 1h0m.2 2h0m.1-2.2h0m.1 .4h0m0-1.1h0m.3-.1h0m.1-.3h0m.1 1.3h0m.6 1h0m.6-.4h0m.4-.5h0m.8-1.8h0m0 1.1h0m.1-1h0m.2 .9h0m.1 .7h0m.1 .1h0m.1 1.2h0m.2 .7h0m0-1.1h0m.3-2.4h0m.1 2.4h0m0-2.1h0m.2 1.2h0m.2 .8h0m0-2.1h0m.6 2.5h0m0 0h0m.2-.4h0m.1 .3h0m.3-1.2h0m.1-1h0m.6-.5h0m.1 1.3h0m.2-.8h0m.1-.1h0m.4 .9h0m.1 .4h0m.5-1.2h0m0-.3h0m.1-.4h0m.5 .2h0m0 2.4h0m.1-1.7h0m.6 2.6h0m.6-2h0m0-.5h0m.1 2.8h0m.4-3.6h0m0 2.1h0m.1-1.4h0m.2 2.2h0m.1-.9h0m.1-.5h0m.4 1h0m.1-.8h0m.2 .7h0m.1 .2h0m.1-.6h0m.1 1.5h0m.2-2h0m.1-.3h0m.2-.8h0m.3-.1h0m1.6 3.4h0m.2-.5h0m1-3.4h0m.3 3.7h0m.2-2.3h0m.3-1.2h0m.1 .2h0m.3 .7h0m.2 1.3h0m0 1.3h0m.8-2.6h0m0 1h0m.9 0h0m.2-2.1h0m.6 3.5h0m.5 0h0m.2-3.1h0m.3-.2h0m.1 3.1h0m.3 .6h0m.2-3.4h0m.6 2.1h0m.1-2.2h0m.3 2.1h0m0-.2h0m.4 .3h0m.4-1.5h0m1.2-.5h0m.1 .4h0m.8-.1h0m.2 1.2h0m.3-1.3h0m0 .4h0m.3-.7h0m1.3 2.9h0m.5-.8h0m.7 1h0m.3-3.3h0m1.7 .6h0m0 2.4h0m.2-.1h0m1.5-2h0m.6 .2h0m.4-.7h0m0 2.5h0m.4-1.7h0m.8-.8h0m1.1 .4h0m.8 1.6h0m.6-2.5h0m.4 1.4h0m1-.4h0m1.4 .6h0m.9 .5h0m1-2.2h0m.2 2.4h0m.4-2.5h0m4.2 1.4h0m1.9 2.5h0m1.1-1.3h0m3.7-.6h0m2.2 .7h0m1.8-2.4h0m.6 1.4h0m5.1-1.7h0m6.3 1.5h0m20.9-1h0m.4-.5h0m4.4 3.2h0m-187.5 1.8h0m25.4 2.2h0m12.2-2.1h0m1.2 2.3h0m8.9-.1h0m.6-2.3h0m.6 .7h0m5.3-.4h0m1.1 1.7h0m0-.5h0m2.2-.4h0m2 .5h0m1.6-.5h0m.1-.9h0m1.4 2.2h0m0-2.3h0m1.2 .6h0m1.2-.2h0m3.2 1.1h0m.4-1.9h0m.5 .4h0m.4 2.8h0m.8-.5h0m.1-3.1h0m.7-.2h0m.2 1.7h0m.1 .6h0m.3-.8h0m.2 .4h0m.3 1.2h0m.5-1.2h0m.2-.5h0m.5-.9h0m2.1 2.4h0m.3-2.3h0m.8 1.9h0m.3-.3h0m.1-.5h0m.5-.1h0m0-.6h0m.6 2.1h0m.1 .2h0m1.5 .4h0m.1-1.7h0m.2 1.2h0m0-.7h0m.1 1.2h0m.1-1.7h0m.4 1.6h0m.1-.7h0m.2-3h0m.2 2.8h0m.4-1.3h0m.5 1.9h0m1 .1h0m0-1h0m.1 1h0m0-3.1h0m.1 1.7h0m.5-1.8h0m.1 1.5h0m0-1.7h0m.1 .2h0m.3 0h0m.1-.1h0m.8 1.6h0m.3 1.4h0m.3-.2h0m.2-2.7h0m.1 2h0m.2-2.3h0m.4 .1h0m.1 .8h0m.9 .9h0m.4-1.5h0m.2 2.4h0m.1-1.3h0m.3-.6h0m0 1.1h0m1.1-.7h0m1.1 1h0m.2 .3h0m.4 .5h0m.6-.4h0m1.3 .8h0m.1-2.1h0m.7-1.2h0m.1 3.3h0m0-.9h0m.2-2.5h0m.3 .1h0m.6 1.8h0m0 1.7h0m.2-2.2h0m.1-.6h0m.5 3.1h0m0-.4h0m.1-1.4h0m0-1.8h0m.4 .7h0m.8 1.5h0m.5-.8h0m.1 2.1h0m.1-.8h0m.1-.2h0m.2-2.3h0m.4-.3h0m.1 .8h0m.1-1h0m.4 1h0m.1 2.2h0m.1-.8h0m.8-.1h0m0-.8h0m0 1.9h0m.4-2.5h0m.1 .4h0m.4 .4h0m.1 1.1h0m.2-1.9h0m.3 .6h0m.4 .7h0m.2-1.6h0m.7-.2h0m.1 2.1h0m.1-.3h0m.2-1.1h0m.1 .8h0m.2-.3h0m1.5 1.5h0m.4-.9h0m.4-1.1h0m.7-1.1h0m.5 2.1h0m0-.9h0m.3 1.8h0m.6-.1h0m.1-2h0m.3 2h0m.2-2.3h0m.2-.4h0m1.1 1.9h0m.2 .6h0m.2-1.6h0m.6 .1h0m0 2.1h0m.1-1.1h0m.8-1.3h0m0 2.5h0m.9-2.1h0m1 .9h0m.2 .2h0m.9-.8h0m.3-1.3h0m.2 1.6h0m.3-1.7h0m.2 1.5h0m.2-.9h0m.6 1.3h0m.2-1.7h0m0 .7h0m.8 1h0m1.1 1.8h0m1.1-3.9h0m0 3.3h0m.7-2.7h0m1.3 2.3h0m.2 .1h0m.4-1.4h0m.2-.2h0m.1 .6h0m0 .4h0m.3-1.2h0m7.6 0h0m.4-.6h0m2.1 .9h0m2.3-.5h0m.6 2.4h0m1.9-3.3h0m3.2 0h0m.3 .2h0m4.7 .8h0m4.7 .5h0m1.5-.3h0m2.4 2.2h0m.3 .3h0m2.6-.6h0m6.9-.1h0m12.6-.5h0m.2-2.6h0m8.7 1.4h0m-139.6 3.2h0m1.1 1h0m.1 2h0m.7-2h0m1.2-.5h0m.7 2.7h0m.5-.5h0m2.4-2.7h0m1.7 .9h0m.6-.5h0m5.2-.7h0m1.9 .4h0m1.1-.2h0m.1 .2h0m.9 1.7h0m.4-.8h0m1.4-.1h0m1 .5h0m1-.7h0m.3 1.7h0m.3-2h0m.2-.4h0m3.5 1.2h0m.2-1.3h0m0 3.4h0m.2-2.3h0m.7-.6h0m.6 1.9h0m0-1.2h0m.1-.4h0m.7 1.8h0m.1-1.2h0m.2-1.5h0m.1 1.8h0m.2 1.4h0m.8-.5h0m.3-1.7h0m.5-1.3h0m.1 2.2h0m.2-.7h0m0-.3h0m.1 1.6h0m.4-1.2h0m.1-.1h0m.7-.7h0m1.8 1h0m.2-1.2h0m.2 0h0m.1 2.6h0m.1-1.7h0m0-1.1h0m0 .7h0m.7 1.6h0m.7-2.7h0m.2 1.4h0m.4 .6h0m.3-.9h0m1-.2h0m.8 1.3h0m1 1h0m1.2-2.3h0m.1 1.7h0m.4-2.7h0m0 2.3h0m.3-1.5h0m.3 .5h0m.1 .1h0m.4 .4h0m.1-.6h0m0 1.4h0m0-.7h0m1.1-.6h0m.7 1.6h0m.5 .3h0m.3-.6h0m.3-2.2h0m0 1.1h0m.6 1h0m1.8-.8h0m1.4 1.4h0m.1 .8h0m0-1.9h0m.7 1.6h0m.2-3.5h0m.2 .8h0m.1 1.8h0m.3-.1h0m.1-2.5h0m.1 .4h0m.3 1.7h0m.6-2.2h0m.5 .1h0m0 3.8h0m.2-1.3h0m.2-1.6h0m.2 2.1h0m.1-2.4h0m.1 3.2h0m.1-2.5h0m0 2.3h0m0-2.5h0m.4 1.3h0m0-.2h0m.7 1h0m0-1.3h0m.1 0h0m.8 .6h0m.9-1.3h0m0 1.5h0m.4-2h0m.2 1.8h0m.5-.3h0m.6 .6h0m1.1 .6h0m.2-1.9h0m0-1.4h0m.1 2.9h0m.5-.2h0m.3-2.6h0m.2 2.2h0m0 .6h0m.5-.4h0m.2-.5h0m.1-.5h0m1.1-.8h0m.2-.7h0m.5 3.7h0m.4-2.7h0m0 .4h0m.2 1.6h0m.1-2h0m.3-.9h0m.3 2.7h0m.3-2.8h0m.7 .2h0m0-.1h0m1.7 .8h0m.5 2.3h0m2-3.1h0m0 .6h0m.1 2.5h0m.3-1.5h0m.7 .2h0m.4 .3h0m.1-1.8h0m.8 .8h0m.2 2.3h0m1-.2h0m.9-3.2h0m.6 1.1h0m.3-.8h0m.5 .7h0m.3 .6h0m.2 1.2h0m.7-.1h0m.4 .5h0m.5-3.1h0m1.9 1.1h0m1.5-1h0m.2 1h0m.3 .5h0m1 .5h0m.5-1.4h0m1.3 .1h0m1.1 .7h0m1.5-.7h0m.9 .3h0m.6 1.2h0m.6-2h0m1.9 1.3h0m.6 .7h0m.4-1.4h0m.5 .6h0m7.5-.8h0m2 .7h0m.7 1h0m5.9-1.5h0m18.5 1.8h0m11.1-1.1h0m1.5 .6h0m-171.7 2.6h0m2.5 .3h0m29.9-1.4h0m1.6 1.9h0m.6-1.9h0m.3 .3h0m6.2 2.5h0m3.3-1.2h0m4.2 1.3h0m.9 .6h0m1.2-2.9h0m.1 2.7h0m1.1-1.2h0m.2-.5h0m.9 0h0m.7 1.9h0m.5-1.3h0m.3 .3h0m.4 .3h0m.5-2.6h0m0 3.4h0m.1-.4h0m.7-2.3h0m.7-.7h0m0 .8h0m1.4 .2h0m.1 1.8h0m1.1-3.1h0m1.2 3.7h0m4.6-.1h0m.7-3.1h0m1.2 0h0m.1 1h0m.1-1.5h0m.4 1.6h0m1.3 .9h0m.9 .1h0m0 .6h0m.5-.6h0m2.3-1.4h0m.3 2.4h0m0-2.9h0m.7 .2h0m.4-.1h0m.3 .9h0m.1 .1h0m.2-.2h0m.2 .1h0m.9-.5h0m.7 .3h0m.1-.3h0m.2 2.5h0m.4-1.1h0m.3-2.5h0m.1 2.3h0m.8 .5h0m1.5 .8h0m0-.5h0m.8-3h0m.2 3h0m.2-2.7h0m1.3-.5h0m1.2 0h0m.3 3.7h0m.2-.1h0m.1 .2h0m.2-2.9h0m.5 .5h0m.8 1.6h0m.5-2.8h0m1.1 2.8h0m.6-2.7h0m.8-.2h0m1.4 2.4h0m1.3-1.9h0m0 2.2h0m.3 .7h0m2.4-.9h0m.2-2.1h0m.2 .1h0m.7 2.9h0m.5-2.2h0m.2-.2h0m.3 1.1h0m.9 1.1h0m.3-1.5h0m.7-1h0m.2 .9h0m.7-1.4h0m0 0h0m.2 3.5h0m.2-2.2h0m.2-.9h0m0 .5h0m.4 .1h0m1.4-1h0m.6 2.6h0m1-1.5h0m1-1h0m.5 0h0m1.8 3.2h0m1.6-2.3h0m2.2 2.1h0m.4-2h0m0 2.1h0m4.6-2.1h0m2.2 1.3h0m6.1 1.1h0m6.2-1.9h0m.4 1.9h0m3.1-2.4h0m6.4-.8h0m7.8 1.7h0m6.3 0h0m-159.7 5.3h0m22 0h0m4-1.4h0m3.3 1.5h0m11.4-3.6h0m1.5 1h0m.7-.8h0m.4 0h0m5.1 .8h0m2.8-1.1h0m.1 3.6h0m1.9-3.4h0m2 2.7h0m0 1h0m.4-1.5h0m0 .8h0m2.1-.3h0m.1 .1h0m.8-1.6h0m.4 .6h0m.2-2h0m.1 1.9h0m.2-1.5h0m.1 .8h0m.6-.1h0m1 1h0m1.2 1.3h0m3.4-2.8h0m1 1.1h0m.3-.6h0m2.3 2.1h0m.4-1h0m1.1 .9h0m2.2-1.3h0m.7 2h0m.1 .1h0m.6-3.2h0m.1-.3h0m.6 2h0m.8-1h0m1.6-1.4h0m1 .5h0m1.5 .5h0m1.8 2.9h0m.4-1.1h0m1.9 .2h0m1.3 .2h0m1.8-2.9h0m.2 1.3h0m2.2-1.1h0m1.3 .8h0m.1-.1h0m.1 .5h0m1.7 .4h0m2.8 .5h0m1.3-1.5h0m.2 1.2h0m2.1 1.5h0m1.8-.8h0m1.6-1.9h0m.9 1.7h0m2.5-1.5h0m1-.6h0m.2-.2h0m1.5 1.2h0m.9 1.4h0m2.2-2.2h0m1.2 1.8h0m1.1 .1h0m.2 .2h0m.6 .8h0m3.5-2.6h0m3.2-.7h0m2 3.1h0m.1 0h0m.9-.5h0m1.8-.4h0m3.1 1h0m1.3-3.4h0m1.3 1.1h0m3.8 .4h0m1.8-1.4h0m18.6 3.3h0m.5-2.3h0m20 .1h0m-186 4.4h0m59.1 0h0m.1 1.9h0m.7-.1h0m1.2-1.2h0m.1 1.2h0m0-.9h0m.5-.3h0m.5 .7h0m.2-3h0m0 .6h0m.1 2.4h0m1-2.6h0m.4-.4h0m1 .6h0m6.5 1.2h0m4-1.5h0m1.8 .3h0m1.1 .5h0m3 2.1h0m3.3-1.5h0m1.4 1.1h0m.3-2.7h0m.3 1.5h0m.1-.2h0m.2 .8h0m.7-2.3h0m2.2 2.3h0m.9-2h0m2.7 1.5h0m.6-.7h0m.1 .1h0m.6 1.4h0m.7-2.6h0m2.3 1.1h0m.4-.6h0m2 1.2h0m3.9 1.3h0m.3-.5h0m1.3 1.3h0m1-3.3h0m0 3.1h0m2.5-.7h0m.9 .2h0m1-.4h0m2.3-1.9h0m.5 1h0m2-.6h0m1.8-.1h0m2.3-.4h0m2 2.6h0m2.1-2.5h0m.7 2.8h0m0-1h0m1.8-1h0m2.4-.8h0m.3-.5h0m.3 .5h0m12.9 1.1h0m.4-.3h0m4.1-.8h0m9.8 2.3h0m4-2.7h0m3.5 2.4h0m22.4-.4h0m.1-.6h0m-155.8 4.5h0m2.9-1h0m17.7-1.1h0m1.4 .5h0m1.2 2.2h0m.4-3h0m0 3h0m1.3-1h0m.1-.4h0m.8-1h0m.1 2.6h0m.4-3.2h0m.1 2.6h0m.6-.8h0m.2 0h0m.9-1.2h0m.8 0h0m2.3 1.7h0m.9-.3h0m11.4-1.4h0m5.1 2.7h0m3.6-1.5h0m1 1.7h0m.2-3.1h0m1.6 .8h0m2.3 1.7h0m.6-1.8h0m.3 0h0m2.9 2.5h0m.1-.7h0m2.6-1.8h0m4 2.8h0m.3-.6h0m.7-3.1h0m4 1.3h0m.5-1.4h0m.1 2.8h0m2.6-2.1h0m3.8-.3h0m2.2 3.3h0m5.4-3.3h0m7.4 2.6h0m3.6-1.2h0m2.1 .4h0m.8 .8h0m.9-2.8h0m5.4-.3h0m4.6 .1h0m2.2 3h0m6.8-.5h0m3-1.9h0m1.8-.1h0m2.9 3.2h0m-159.6 .5h0m2.6 .8h0m30.9-.9h0m.1 1h0m3.2-.8h0m1.2 1.9h0m8.8 1.5h0m1.8-.7h0m.9 .2h0m.4-1h0m.3 .8h0m0-1.5h0m.9 .8h0m.1-1.2h0m0 2.2h0m1.4-2.9h0m.9 1.5h0m.9-1.5h0m10.7 1.6h0m.9-1.8h0m.1 1h0m.6-.6h0m3.9-.7h0m4.5 3.9h0m2-.9h0m3.3 .8h0m1.3-.3h0m2.3-1.3h0m1.6 1.5h0m8.3-2h0m.5 1h0m9-1.9h0m.8 1h0m2.7-.4h0m1.9 1.6h0m.8-2.4h0m2 1.4h0m.1-1.2h0m1.1-.4h0m4.1-.1h0m.1 1.8h0m1 .3h0m8.1-2.4h0m2.5 2.4h0m.1-1.4h0m.3 1.3h0m.7-.9h0m3.1-1.4h0m.2 3.6h0m9.9-1.5h0m4.1 0h0m8.9 .3h0m4.4 .3h0m4.6-1.8h0m11-.7h0m2.7 3.3h0m13.1-1.5h0m-179.3 3.3h0m5.2 0h0m11.5 2.2h0m8.2-2h0m4.3 2.3h0m.4-.8h0m.1-2h0m1.3 2.4h0m1.1-.5h0m.9-1.3h0m.6 .8h0m.4-1.4h0m.4 2.9h0m.1-3.5h0m.5 1.2h0m1-.9h0m.6-.2h0m4.5 .3h0m1.9 2.2h0m2.2-1.7h0m8.3 1.6h0m11.7-1.7h0m.2-.6h0m9.2 .7h0m.5 2.1h0m3.4-2.7h0m6.9-.7h0m.4 2.1h0m6.9 .2h0m5.6 .8h0m4.3 .1h0m1.6-2.8h0m2.8 2.1h0m1.3 1.2h0m1.6 0h0m6-2.4h0m10.7-1.2h0m2 2.6h0m0 .3h0m2.6-2.2h0m5.8 .9h0m24.1-.9h0m.6 1.3h0m-140 5.1h0m3.2 .4h0m1.1 0h0m.2-1.5h0m1.1 1h0m.6-.5h0m1.9-1.2h0m.2 .3h0m.2-1h0m.3 1h0m17.1-1.1h0m7.8 1.4h0m10.1 1.6h0m3.9-3h0m1.6 0h0m8 1.2h0m13.2 .8h0m6.1 .7h0m5.6-.5h0m1.8-2.6h0m2.4 .1h0m2.2 1h0m3.8 .3h0m8.5-1.2h0m2.4 1h0m-139.6 6h0m2.7-.7h0m19.2 .6h0m8.8-.5h0m4.1 .7h0m.6-.8h0m.8 .3h0m.9-.2h0m.6-.2h0m0-1.5h0m.4 1.5h0m1.3-.5h0m1-1.4h0m.2 2.1h0m0-1.4h0m1.5-1.4h0m22 3.4h0m.5-1.8h0m1.1-.8h0m.3 2.5h0m3.1-1h0m5.1-2h0m.5 .3h0m4 .2h0m1-.8h0m12.3 3.5h0m2.6-1.8h0m12.9 1.8h0m6.6-2.1h0m.4-.3h0m2-.4h0m.3 3.1h0m3.4-3.7h0m4 1h0m3.5 2.7h0m3.2-1h0m11.1-1h0m25.1-.8h0m2.9 .3h0m3.3-.9h0m-163.3 6.2h0m6.8-1.4h0m3.7 2.3h0m.9-3h0m9 2.2h0m.6-1.4h0m.9 1.9h0m.6 .6h0m.9-2.2h0m1.5 .3h0m1-.8h0m19.8 .5h0m18.5 2.2h0m5.2-1.9h0m2.5 1.2h0m2.5-.4h0m4.6 .9h0m23.7-.8h0m2.7-1.9h0m8.1-.1h0m1.8 2.5h0m7.8-1.1h0m4.6-1.4h0m5.4 1.9h0m1.2-1.5h0m2 .2h0m.7 1.5h0m4.3-2.9h0m28.4 2.2h0m-168.9 3.4h0m7-.8h0m9.5 2.5h0m7.1-1.6h0m14.9-.1h0m3.7-.5h0m26.5 .2h0m12.8-.4h0m2.7 2.8h0m1-.7h0m10.7 .8h0m5.8-3.7h0m3.9 0h0m18.1 .2h0m25.9 3.6h0m25.4-2.9h0m2.6-.8h0m5 2.4h0m5-1.7h0m-190.9 3.6h0m1.1 2.9h0m29.1-2.4h0m23.3 .4h0m1.4 .2h0m1.1 1.5h0m20 0h0m18.9-3.1h0m3.7 3.4h0m19.1-1.3h0m7.5-.6h0m23.9 .8h0m-136.7 2.1h0m11.6 .7h0m9 2.1h0m11.7 .1h0m13.1-1.8h0m5.3 1.9h0m.4 .1h0m36.6-2.2h0m.5-.1h0m9.3 2.5h0m.8-.2h0m15.5 .1h0m7.1-3.3h0m1.4-.1h0m12.6 1.8h0m11.9 .2h0m-164.2 5.4h0m1.3-.8h0m9.7-2.5h0m9.8 3.3h0m13.3 .3h0m.4-.8h0m7.6-2.7h0m7 2h0m10.6 .4h0m38.7 .8h0m.4-.4h0m13.2-1.3h0m17.1 .6h0m26.8 .3h0m11.4-.1h0m6.6-1.4h0m.5 2.4h0m16.1 0h0m-144 3.8h0m.6-.2h0m6-1h0m12.2-1.2h0m59.4 2.5h0m6.5 0h0m27.7-3.1h0m9.8 1h0m3.6 1.5h0m20-2.7h0m-156.6 6.6h0m.8-2.3h0m10.5 1.7h0m5.2-.2h0m4.6 1.5h0m5-1.3h0m7.4-.2h0m23.7-1.2h0m7.8 2.9h0m49.2-.5h0m5.5-1.3h0m5.1-.1h0" fill="none" stroke="#000" stroke-width="1.4" stroke-linecap="round"/>
<path d="M336.5 492.7H536.5V648.5H336.5zM336.5 648.5v-1.6M336.5 492.7v1.6M361.6 648.5v-1.6M361.6 492.7v1.6M386.6 648.5v-1.6M386.6 492.7v1.6M411.7 648.5v-1.6M411.7 492.7v1.6M436.8 648.5v-1.6M436.8 492.7v1.6M461.8 648.5v-1.6M461.8 492.7v1.6M486.9 648.5v-1.6M486.9 492.7v1.6M511.9 648.5v-1.6M511.9 492.7v1.6M336.5 648.5h1.6M536.5 648.5h-1.6M336.5 629h1.6M536.5 629h-1.6M336.5 609.5h1.6M536.5 609.5h-1.6M336.5 589.9h1.6M536.5 589.9h-1.6M336.5 570.4h1.6M536.5 570.4h-1.6M336.5 550.9h1.6M536.5 550.9h-1.6M336.5 531.4h1.6M536.5 531.4h-1.6M336.5 511.8h1.6M536.5 511.8h-1.6" fill="none" stroke="#606060" stroke-width=".55"/>
<text x="336.5" y="658.7" font-size="6.3" text-anchor="middle" fill="#262626">-20</text>
<text x="361.6" y="658.7" font-size="6.3" text-anchor="middle" fill="#262626">-15</text>
<text x="386.6" y="658.7" font-size="6.3" text-anchor="middle" fill="#262626">-10</text>
<text x="411.7" y="658.7" font-size="6.3" text-anchor="middle" fill="#262626">-5</text>
<text x="436.8" y="658.7" font-size="6.3" text-anchor="middle" fill="#262626">0</text>
<text x="461.8" y="658.7" font-size="6.3" text-anchor="middle" fill="#262626">5</text>
<text x="486.9" y="658.7" font-size="6.3" text-anchor="middle" fill="#262626">10</text>
<text x="511.9" y="658.7" font-size="6.3" text-anchor="middle" fill="#262626">15</text>
<text x="333.9" y="650.8" font-size="6.3" text-anchor="end" fill="#262626">-20</text>
<text x="333.9" y="631.2" font-size="6.3" text-anchor="end" fill="#262626">-15</text>
<text x="333.9" y="611.7" font-size="6.3" text-anchor="end" fill="#262626">-10</text>
<text x="333.9" y="592.2" font-size="6.3" text-anchor="end" fill="#262626">-5</text>
<text x="333.9" y="572.7" font-size="6.3" text-anchor="end" fill="#262626">0</text>
<text x="333.9" y="553.1" font-size="6.3" text-anchor="end" fill="#262626">5</text>
<text x="333.9" y="533.6" font-size="6.3" text-anchor="end" fill="#262626">10</text>
<text x="333.9" y="514.1" font-size="6.3" text-anchor="end" fill="#262626">15</text>
<use href="#cR"/>
<path d="M426.3 938.7h0m40.4-.6h0m59.5 .6h0m-137.5 3.7h0m21.5 .1h0m9.3 .4h0m11 .4h0m45.6-1h0m33.8 1.4h0m24.2-1.7h0m-153.3 2.2h0m7.7 2.5h0m46.3 1.2h0m16.6-1.6h0m3.8-.2h0m60.2 .8h0m-161.2 2.5h0m34.3-1.3h0m4.6 .7h0m11.2 2h0m29.1-2.5h0m10.8 2.2h0m.7 .8h0m6.2-3.2h0m30.6 3h0m1-.9h0m54-1.6h0m-172.4 4.8h0m6.2 1.2h0m29.3 0h0m16.8 0h0m11.5-1h0m7.6 1.5h0m10.6 .1h0m1.1-.7h0m14.5-1.3h0m2.6 1.6h0m3.7-.7h0m10.4 .6h0m25.1 1.2h0m23.2 0h0m-165.5 2.1h0m12.1 1.6h0m20.7-2h0m25.2-.7h0m5.1 2.8h0m10.3-1.9h0m45.1-1.8h0m38.1 1.3h0m-158.4 4.8h0m46.6 .6h0m11.2-2.4h0m17 2.5h0m47.2-1.4h0m49.3-.1h0m-153.4 2.9h0m2.4 1.1h0m9.5-.5h0m10.3 .5h0m9.8 1.5h0m16.2-.8h0m6.5-.7h0m13.3 .3h0m1.8 1.7h0m17.3-2.3h0m4.2-.3h0m30.3 2.6h0m.7 .5h0m.8-.8h0m1.3-.3h0m.8-.1h0m0-.5h0m.7-.3h0m0-.4h0m.4-.8h0m-115.6 7h0m1.9-1.3h0m6.7-.4h0m2.3-1.1h0m10.8 .6h0m3.7-1.3h0m5.2 3.1h0m3.4-.1h0m11.8 0h0m2.1-2.8h0m6.2 1.2h0m3.7 1h0m3.2-2h0m0-.1h0m.8 1h0m17.1 1.9h0m4.5-2.6h0m2.9 1.4h0m5 .3h0m4.9-1.7h0m11.2 2.4h0m.5-1h0m.1 1.1h0m.8-1.8h0m.7 .7h0m.4-1h0m1.3-.8h0m.1 .6h0m-136 3.7h0m18.2 1.9h0m1.4-.4h0m21.3-.7h0m6.4 2.1h0m7.3-1.5h0m3.2-.8h0m12.3-.9h0m3.6 .9h0m14.9-.3h0m12.6 2.1h0m7.4-2.8h0m17.1 3.5h0m1.4-.4h0m.8-.3h0m.1-.5h0m.4-.7h0m.4 .3h0m.7-.1h0m.9-1.1h0m.3 .4h0m0-.7h0m.5 0h0m1.6 2.8h0m-145.5 2.7h0m22 .9h0m2.4 .4h0m2.9-1.7h0m6.3 .9h0m16.3-1.1h0m.7-.9h0m5.2 .5h0m8.4 2.7h0m2.5-2.4h0m3.9 1h0m1.2-1.1h0m.4-.2h0m.1 2.8h0m5-3h0m5.2 2.1h0m1.6-.3h0m3.9 .6h0m4.4-.8h0m.2 .4h0m1.1-1.7h0m4.9 .6h0m.8-.6h0m10.9 2.2h0m8.9 .3h0m.8-3.3h0m1-.3h0m1.3 0h0m5.3 .6h0m.6 1h0m6 1.9h0m.8-.2h0m.1-.5h0m1.2-1.7h0m0 .6h0m.2 .3h0m1.1 .1h0m.9-1.2h0m.4-.4h0m.1-.6h0m3.1 1.1h0m1.9 1.6h0m26.7 1.2h0m-156.2 2.1h0m8.4 .3h0m23.8 1.3h0m6.6-2.2h0m2.1 .7h0m.2-1.9h0m11.9 .1h0m4.7 1.4h0m8.2 1.7h0m2.2-.2h0m.5 .7h0m1.2-2.4h0m1.4-.8h0m4.2 3.2h0m.1 0h0m11.8-1.2h0m6.2-1.9h0m.6 1.9h0m.7 .1h0m2.8-2.8h0m.6 .9h0m.4 2.7h0m2.2-.2h0m3.9-1.2h0m2.9 .5h0m1.7-1.1h0m4.4 .7h0m.6 .8h0m1.1-.5h0m.4-.2h0m.1-.3h0m1 .1h0m.7-.8h0m.6-1h0m.8 .6h0m.7-.4h0m10.8 .1h0m2.8 1.7h0m3.9 .8h0m.4-.7h0m20.1 .9h0m5.2-1.6h0m-175.4 2.8h0m28.8 2.1h0m1.9-2.5h0m.6 2.7h0m6.6-1h0m1.5 .8h0m6.1 .3h0m4.9-2.1h0m2.4-.5h0m.1 1.2h0m3.1 1.2h0m2.9 0h0m.1-.9h0m.3 1.4h0m.2 0h0m3.9-.4h0m3.6-.8h0m0 1.5h0m3.4-2.3h0m1.1-1.1h0m1.4 .5h0m.7-.1h0m2.2-.2h0m4.1 3.1h0m3.4 .2h0m1.2-1.2h0m5.6-1.8h0m.4 1.3h0m2.5-.4h0m.5 1.4h0m2.6-1.7h0m1.9 1.7h0m.6-.4h0m3.3-2.4h0m8.6-.2h0m2 .7h0m4.1 0h0m3.6 .1h0m1.1 2.7h0m.8-.5h0m.4-2.6h0m.4 3.2h0m.5-2.4h0m.1 1.1h0m.5 .1h0m.7-.8h0m.4 .5h0m.6-1h0m.3-1h0m1.2 .1h0m8.6 .1h0m.6 3.3h0m16.1-.1h0m4.1-3.5h0m7.1 2.7h0m2.5 .2h0m-155.1 2.6h0m.1-1.1h0m11 3.3h0m6.5-2.4h0m7 1.5h0m3.1 .1h0m13.9 .7h0m.3 .3h0m2-1.1h0m1-.5h0m1.9 1h0m2.1-.9h0m6.2-1.8h0m.2 1.4h0m1.7 1.7h0m2.1-.1h0m.2-1.9h0m3.4 1.8h0m4.7-2.6h0m3.2 2.6h0m1.5-3.3h0m1.1 .2h0m.2 0h0m.2 1.3h0m.9-.2h0m1.9-1h0m.6 1.9h0m1.9 .4h0m.2-.7h0m.5 .6h0m2.5-1.1h0m2.2 1.2h0m1.7 .6h0m1.1-.8h0m.7-.6h0m7.7 .9h0m3.7-.6h0m1 .7h0m3.3-.6h0m.4 0h0m1 1.4h0m.8 0h0m0-.9h0m1.2-.3h0m.5-.4h0m.1 .3h0m1.2-.7h0m.6-.1h0m.6-1.2h0m.1 0h0m6.4 3h0m.4-3h0m3.9 .4h0m.7-.4h0m1.4 2.3h0m.1-1.8h0m2.9-.8h0m5.2 3.5h0m2.1-2.9h0m-157.6 6.5h0m23.6-3.2h0m15.3 .6h0m7.6 1.3h0m11.3 1.7h0m6 0h0m1.3-.6h0m3.5-2h0m1.3 .2h0m2.2 2h0m1.5-2.5h0m1.8 3.1h0m4.6-1.8h0m.1-.9h0m1.4 2.7h0m.1-3.5h0m1.6 2.5h0m4.4-1.2h0m.3 .5h0m.5-.9h0m.6-.7h0m3-.2h0m.9 3.3h0m.1-2h0m.3-1.2h0m.2 1.1h0m3.2 1.3h0m2.2 .7h0m1.1-3.6h0m.8 1.2h0m1.1-.8h0m1.5 1.2h0m.7 .7h0m1.8 1.3h0m.2-3.2h0m1.4 1.2h0m.4 1.8h0m1.6-1.6h0m.9-.8h0m1.2 2.9h0m.2-1.9h0m3.4-.2h0m1.1 1.7h0m.6 .4h0m.3-.1h0m.3 0h0m2.2-3.8h0m.1 0h0m2.3 1.7h0m.5-1.3h0m1.3 .8h0m.5 2.6h0m.1-.2h0m1 .1h0m.2-.8h0m.3-2.3h0m.1 2.6h0m1.1-2.7h0m.1 1.4h0m.1 .1h0m.3 .2h0m.5-.8h0m.2-.9h0m1 .1h0m3.7 1.3h0m.8-1.7h0m2.3 3.1h0m1.4-.9h0m2.2 .7h0m4.9-.9h0m2.6-1.4h0m1.4 1.4h0m5.5-1.1h0m.2 .8h0m5.4-.1h0m12.9 1.2h0m1.6-2.5h0m13.6-.3h0m-189 5.1h0m3.6 2.5h0m8.3-2.3h0m19.1 1.7h0m1.4-2.8h0m2.4 1.9h0m1.7 .4h0m9.8-.4h0m9.2 1.3h0m4.3 .3h0m1.7-1.1h0m.2 .3h0m3 .8h0m.8-1.5h0m1.9 0h0m.2 1.5h0m.8-1.2h0m1.5-2.3h0m1.5 2.8h0m.1-1h0m.2-1h0m.7-1.1h0m7.5 1.7h0m.9 1.7h0m.9-.5h0m1-1.3h0m.1 1.5h0m.9-1.7h0m.4 .3h0m.3-1.4h0m1 3.4h0m1.4-1.1h0m.8 .4h0m.5-.5h0m.5 .6h0m.7 .2h0m2.6-2.9h0m0 3.1h0m.3-2.8h0m1.9-.4h0m.3 3.4h0m0-3.6h0m1.5 1.1h0m.1-.1h0m.3 .1h0m.3-1.3h0m.1 3.4h0m0-3.1h0m.1-.1h0m1.6 1.9h0m.8-.4h0m.9 1.6h0m.5 .3h0m.3-1.6h0m.6-.3h0m.3 1.2h0m.7-.3h0m.2 .9h0m.2-.5h0m0 .8h0m.7-3.2h0m.6 1.2h0m1.3-1.8h0m.4 2.7h0m.3-1.4h0m3.3 .8h0m.7 .1h0m.4-1.7h0m.3 2.6h0m1-.6h0m.1 .1h0m.5-1.8h0m.1 1.6h0m.9-.6h0m1.3 .2h0m0-1.6h0m.1 2.4h0m1.5 1h0m1.2-.6h0m1.2 .7h0m1.2-2.8h0m0 2.3h0m.3-.1h0m.1 0h0m.8-.6h0m.6 .9h0m.4-.5h0m.1-.2h0m.2-.4h0m.4 1.3h0m.3-1.1h0m.5-.5h0m.3-1.1h0m.6-.6h0m2.1 1.3h0m1.2 1.1h0m6.6 .1h0m.6-1.8h0m4.8 2.7h0m1.5-2.8h0m.2-.1h0m.6-.2h0m15.7 2h0m18.6-1.3h0m.9 2.2h0m7-.9h0m-149.1 4.8h0m23.7-3.4h0m.9-.2h0m4.1 3.7h0m.5-.1h0m.6-3.2h0m1.3 3h0m3-1.6h0m1.1-.8h0m4.3 .9h0m.9-1.7h0m.8 2h0m.4-.3h0m0-.8h0m2.2 2.7h0m.8-1.8h0m0-.5h0m.1-.3h0m0 1.3h0m.1 1h0m.2-2.8h0m1.3 2.6h0m.2-2.2h0m.6 1.3h0m.3 0h0m.5-.3h0m.1 .1h0m.5 0h0m1.2 1.1h0m1-2.4h0m.3 1.3h0m.3-.3h0m.1 0h0m1-1.6h0m.5-.2h0m0 3.6h0m.2-.4h0m2.5-.7h0m0 .1h0m1.1 .6h0m0-1.6h0m1.3 1.1h0m.5-1.7h0m.1 .2h0m.5-.5h0m.1 .2h0m.3 .6h0m.7 .3h0m.1-1.7h0m.4 1.8h0m.8 .8h0m.3-1.7h0m.5-1h0m1.1 1.3h0m1.5 1.2h0m.1 .1h0m.8 .2h0m.5-.7h0m0 .3h0m1.8 0h0m1.3-.8h0m.6 1.9h0m.5-1.6h0m.1-.6h0m1 2.3h0m.2-.4h0m.1-2.8h0m.4 2.2h0m0-.2h0m.1-.8h0m.1-.5h0m.4 1.3h0m.2-1.1h0m.1-.3h0m0 2h0m1.5-1.4h0m.9-1.7h0m.9 .3h0m2.3-.3h0m.8 2.6h0m.5-2.2h0m.1 3.5h0m.2-.5h0m.2 .1h0m.8-.4h0m.1 .3h0m.9-1h0m.4 .3h0m.2-.9h0m.3 .2h0m.4-.5h0m.8 1.3h0m.2-2.3h0m.3 0h0m0 .5h0m.6 .5h0m.2 1.7h0m.5-2.8h0m2.1 2.4h0m.5 .6h0m.8-.2h0m.7-2.7h0m.2 2h0m1.7-1.4h0m4.2 1.6h0m.9-1.5h0m.1-1h0m7.8 2.2h0m.3-1h0m5.8-.4h0m.1 2.8h0m9.9-2.8h0m2.4 2.3h0m22.2-1.9h0m-142.2 4h0m4.4 .1h0m2.9 1.7h0m6-1.1h0m4.1-1.9h0m2.3 .7h0m7.5 2.5h0m.4-1h0m1.3 .2h0m.8-1.6h0m1.3 1.8h0m.3-.6h0m.2 1.2h0m1.1-.9h0m.2 1.1h0m.6-2.2h0m.5-.1h0m1.3 1.6h0m2 0h0m.1 0h0m1.4-2.9h0m.1 2.9h0m.1 .9h0m.6-1.7h0m.7-1.1h0m1 1.7h0m1.5 .6h0m.7-.5h0m.1 .5h0m0-.1h0m.7-.5h0m1.5-2.5h0m1.1 1.2h0m.2-.2h0m.3 .8h0m.3-.1h0m.3-1.4h0m.3 3h0m.4-1.2h0m.6-1.3h0m.3 2.9h0m.5-3.1h0m.2 2.9h0m.5-3.3h0m.2 1.4h0m.8-.5h0m.1-.5h0m.4 1.9h0m0-2.4h0m1 .9h0m0 .6h0m.1 .7h0m.2 .8h0m.8-3.2h0m.3 2.9h0m.2-2.3h0m1-.3h0m1.2 2.5h0m.5 1h0m.1-.3h0m.1-3h0m.1 1h0m.3 .6h0m.3 1.2h0m.8-.8h0m.5 .7h0m.1-.5h0m.3 1.1h0m.1-.6h0m.3-2.5h0m0 0h0m.1 3h0m.2-3.5h0m.3 1.4h0m.1-.6h0m.3 .1h0m.4 1.8h0m0-3h0m.7 2.1h0m0-.9h0m.2-.8h0m.1 1.3h0m.1-.6h0m0-.4h0m.1 .6h0m.1 1.6h0m0-.4h0m.4-1.5h0m.5 1.8h0m.4-2.4h0m.7 .2h0m.3 1.4h0m0-1.5h0m.4 2.8h0m.4-.5h0m.5-.4h0m.1-.1h0m0 1.3h0m0-1.5h0m1.4 1.2h0m0-1.7h0m.6 .2h0m.2-1.6h0m.5 1.2h0m.3 1.3h0m.1-1.9h0m.8-.1h0m.1 3h0m0-.3h0m.5-2.5h0m.9 2.8h0m.3-1.5h0m1.1-1h0m.1 1.6h0m.1-.3h0m.4-.1h0m.1-.7h0m.4 .5h0m.2-1.9h0m.1-.1h0m.2 .9h0m.1-.2h0m.1 1.4h0m1.9-2.2h0m.6 .4h0m.3 .5h0m.1 2h0m0-1.8h0m.5 .4h0m.4 2.2h0m2-.3h0m1.2-2.5h0m.3-.2h0m1.9 .2h0m1.6 1.2h0m.2-1.5h0m.8-.7h0m.5 2.5h0m.9-2.2h0m.8 .2h0m3.6 .1h0m.9 .7h0m.3 .6h0m1.3 1.8h0m1.3-3.7h0m.8 3h0m1.6-2.4h0m.1 3.2h0m2.3-3.4h0m3.2 2.5h0m2.9-.1h0m3.7-1h0m2.6 .2h0m7.3-1.7h0m31.3 2.3h0m-179.6 1.9h0m9.8-.1h0m21.8 .3h0m2.9 2.8h0m4.1-3.3h0m3.6 .5h0m2.1 1.3h0m3 .6h0m.4 .9h0m5.9-2.2h0m.4 1h0m3.1-.8h0m1 2h0m2.7 0h0m.2-.6h0m1.5-2.5h0m.5 2h0m.9-2h0m0 1.9h0m.5-.9h0m.2 .8h0m.2-.4h0m.8 .7h0m.9 1.2h0m1.6-.6h0m.5-.5h0m1.9-.9h0m.7-1.2h0m.1 1.5h0m.9-1h0m1-.2h0m1 2.7h0m.8-2.3h0m1.1 1.9h0m0 0h0m0-2.4h0m.2 2.5h0m.8 .2h0m1.3 0h0m.4 .1h0m.4-2.8h0m.2 .9h0m.3 1.4h0m0-.9h0m.9 0h0m.1-.2h0m0-.9h0m0 2.2h0m.2 .5h0m.5-.8h0m0-1.2h0m.2-1.5h0m.1 2.2h0m.1 1h0m.1 .2h0m.1-1.9h0m0-.4h0m.1 1.3h0m0-.6h0m.3 1.3h0m0 .3h0m.1-.5h0m.3 .6h0m0-2.1h0m.1 .1h0m.3 1.3h0m.1-2.8h0m0 2.9h0m.5 .8h0m0-.2h0m.2-.7h0m0 .3h0m.1-.9h0m.1 0h0m0 .2h0m.1 1h0m.3-2h0m.1 2.3h0m.1-2.5h0m0-.5h0m.1 2.9h0m0-2.5h0m.1-.9h0m0 1.5h0m.1 .6h0m.2 .7h0m.2-.1h0m.1 0h0m.1 .1h0m.1 .4h0m.1 .3h0m.2-.6h0m.2-.7h0m.1 .5h0m0 .2h0m.1-1.1h0m.3-.3h0m.2-.8h0m.1-.4h0m.2 2.8h0m.1-.6h0m0 1h0m.3-1.5h0m0-1.5h0m.1 2.2h0m.1-.2h0m0-.7h0m.4 .8h0m0 .1h0m.1-.4h0m.1 .4h0m.1-.5h0m.1 .6h0m.1-2.9h0m.2 3h0m.1-1.6h0m.1-.7h0m.2 1.9h0m.3 0h0m.3-1.7h0m.4 .8h0m.1-.3h0m.2-.7h0m.2 1.3h0m.2 1.6h0m.5-.5h0m.1-.2h0m.3-2.2h0m.1-.9h0m.1 1.2h0m.5 .6h0m.3-1.1h0m.1 .9h0m.2 2.1h0m.1-1.7h0m0 1.5h0m.3-2.3h0m.1 2.5h0m0-1.1h0m.4-1.3h0m.1 .8h0m.1 .8h0m.2-.1h0m.2-2.6h0m.1 2h0m0-.2h0m.1-.4h0m0 2.1h0m.2-2.6h0m.2 2.3h0m.2 .4h0m.1-1.4h0m.3-.6h0m0 1.8h0m0-.9h0m0-.9h0m.8-.4h0m.1 .5h0m.4-.7h0m.5-.2h0m0-.6h0m1.2 1h0m0-1.4h0m.2 3.6h0m.1-3.7h0m.2 1.9h0m.3-1.7h0m.3 3.1h0m.2-2.7h0m.6 0h0m1 1.3h0m.1 .5h0m.4-1.9h0m2 3.1h0m.1-.8h0m2-.5h0m1 .2h0m.5 0h0m11-.6h0m1.2 1.2h0m2.6-1.1h0m.3 .8h0m2.6-.4h0m.2-.3h0m31.7-.1h0m1.2 .9h0m.5-2.2h0m5.5 2.7h0m2.1-2.1h0m-166.7 3.5h0m29.6 1.1h0m2.9 .2h0m10.4-1.3h0m1.2 2.8h0m0 .2h0m.7-2.8h0m1.3-.8h0m.2 1.3h0m1.7 .7h0m3.2-1.9h0m1.1 1.7h0m.3 .8h0m.6 0h0m1.3-.3h0m.2-1.7h0m.4 .5h0m1.7-.4h0m.1 2.8h0m.3-1.4h0m1.1-.8h0m.3 1.9h0m.1 0h0m1.2-1.3h0m2.1-.2h0m.5-1.8h0m.8 1h0m.4 0h0m.1 .7h0m2.9-1.8h0m2.1 3.6h0m1 .1h0m.4-2.1h0m.8 .3h0m.2-1.1h0m1.2 1.7h0m.8 1.2h0m.9 .1h0m.3-1h0m.3-1.4h0m.3-1.2h0m.3 2.4h0m0-.9h0m.3-.7h0m.1 1.7h0m.6 .9h0m.7-1.9h0m.1-.2h0m0 .4h0m.4-.5h0m.4 .5h0m.1-1.2h0m.2 1.2h0m0 1.5h0m0-2.5h0m.4 .8h0m0-.5h0m.1 2.6h0m0-2.1h0m.1 .5h0m.4-.5h0m.4 0h0m.4-.9h0m.3 1.6h0m.1-1.9h0m.6 1.2h0m.1-1.2h0m0 .8h0m.4-1.3h0m0 1.3h0m.2 2.3h0m.2 .1h0m.1-3h0m.1 1.9h0m0-.3h0m0-2.3h0m.1 3.9h0m.2-.4h0m0-3.1h0m.1 3.5h0m0-2.5h0m.2 2.3h0m0-2.5h0m.1 1.6h0m0-2h0m0 2.1h0m.5-1.9h0m.1 2.6h0m0-.4h0m.1-.9h0m0-1.9h0m.1 .6h0m.2 2.5h0m.1 .4h0m.1-1h0m0 1h0m0-3.5h0m0 1.3h0m.1 .4h0m0-.3h0m.1-1.4h0m0 1.8h0m.2 1.6h0m0-1.7h0m.1 .8h0m.1-.6h0m.1 .8h0m.1-3h0m.1 1.8h0m0 1h0m.1 1h0m.1-1.5h0m.1 .6h0m0 .6h0m.1-3.1h0m0 1.7h0m.1-.2h0m.1-1h0m.1 1h0m.2 .2h0m0 .3h0m.1 .3h0m.1-.7h0m0 1.7h0m.1-3h0m.1 3.1h0m0-1.9h0m.1 1.9h0m.1-3.1h0m.1 1.4h0m0 1.7h0m.1-1.9h0m.1-.9h0m.1 1.3h0m0 1h0m0-3.1h0m.1 .9h0m.1 1.3h0m.1-1.3h0m0 1.7h0m0-1h0m.3 1.9h0m0-.4h0m0-3.4h0m0 1.9h0m.1 1.2h0m.1 .5h0m.1 .1h0m0-3.6h0m.1 3.3h0m0-3h0m.1 .2h0m.1 1h0m.1 1.5h0m0-.8h0m.1 .7h0m.1-.4h0m0-1.3h0m0-.7h0m.1 .7h0m0 1.1h0m0 1.1h0m0-.8h0m.1 .9h0m0-1.1h0m0-1.2h0m0 .6h0m.1-1.7h0m0 1.9h0m.2 .4h0m0 .1h0m.1 .5h0m.1-.2h0m0 .3h0m0 0h0m0 .4h0m0-2.3h0m.1-.9h0m.2 3.3h0m.2-.6h0m.1-1.4h0m0 1.3h0m.1 .2h0m.1-2.2h0m.1 2h0m.1-1.6h0m0 .7h0m.1 1.2h0m.1 0h0m0-.1h0m.3-1.4h0m.1-1.8h0m0 3.9h0m0-.3h0m.1-.7h0m0-.8h0m.1-.2h0m0-1.4h0m.1 2.8h0m.1-1.1h0m.1 .9h0m.1 .4h0m.1-3.3h0m0 1.5h0m.2 .8h0m.1 1h0m0-2.7h0m.3 1.1h0m0-1.2h0m.1 2.5h0m0 .1h0m.2-.3h0m0-1.8h0m.6-.9h0m.1 1.1h0m0-.3h0m.3 .6h0m0 1.6h0m.1-3h0m.4 0h0m0 1.4h0m.1 .1h0m0 .6h0m.1-1.8h0m0 1.7h0m.3-1.4h0m.1 .3h0m0-.7h0m0-.2h0m.3 2.9h0m.1 .2h0m.2-1.9h0m.1 .9h0m.1-1.8h0m.1 2.8h0m0-3.4h0m.1 3.7h0m.2-.4h0m0-2.1h0m.1 2.5h0m.4-1.7h0m.1 1h0m.1 .9h0m.2-.6h0m.2-2.8h0m.4 3h0m.4-2.8h0m.1 .2h0m0-.2h0m.1 3.2h0m.3-.1h0m.1-1.2h0m.5-1.3h0m.4 2.4h0m0-2.5h0m.5 2h0m.2-2h0m1.5 1.9h0m1.3 .6h0m.3-2h0m.6 1.9h0m.1-.9h0m.2-1.5h0m.2-.2h0m0 1.7h0m.1 .1h0m.1-.6h0m.7 1.5h0m.5 0h0m.6-3.7h0m.4 2.4h0m.1-.4h0m1.3 1.9h0m0-2.6h0m.5-.4h0m.6 1.3h0m.9-1.6h0m.1 2.3h0m1.4 .9h0m0-2h0m.1 .4h0m.7 1.1h0m.3-1.3h0m.7-.9h0m.7 .3h0m.8 2.3h0m.2-2.4h0m2.2 1.9h0m.1-2.2h0m.6 1.7h0m.2 1.2h0m2.7-1.5h0m5.5-1.6h0m1 2.5h0m1.1-2.5h0m2.3 .6h0m1.2 .7h0m2.9 1.3h0m.2-2.8h0m3.6-.3h0m.8 2.6h0m3.8-1h0m10.8 .5h0m4.7-1.9h0m-155.9 5.9h0m4.7 1h0m4.6-1.2h0m2.7 1.4h0m4.8-.7h0m2.2 .3h0m2.1-1.7h0m.7 1h0m.2-1h0m5.2 2.3h0m6.3-.4h0m3-.8h0m.2 1.3h0m9.8-2.7h0m.7-.3h0m2.2 1.6h0m1.1-.6h0m1 .1h0m1.1-.6h0m1-1.3h0m.8-.1h0m0 .3h0m1.5 1.5h0m.6-1.2h0m1.1 2.2h0m.7-1.3h0m0 2h0m.7-3.1h0m1.2 3.2h0m.1-2.4h0m1.6-1.1h0m1.1 2.1h0m2.8-1.8h0m.8 2.3h0m.2 0h0m.7 .6h0m1.3-1.8h0m.5-1.2h0m.1 3.1h0m.3-.1h0m.1-2.2h0m.3 .7h0m.2-1h0m.2 .9h0m.2-.6h0m.2 1.7h0m.4-1.6h0m.2-.8h0m.1 1h0m.1 2.4h0m0-1.4h0m.5-1h0m.1 1.8h0m0-1h0m.3-1.9h0m.1 1.8h0m.1-1.3h0m0-.7h0m.3 0h0m.3 .5h0m.1 .6h0m.1 2.4h0m.2-2.2h0m.1-1.1h0m.4-.3h0m.6 2.9h0m.2-.5h0m0 .3h0m.3-.4h0m.1-1.6h0m0 3.1h0m.1-.7h0m0-1.9h0m.1-1h0m0 2.6h0m.3-.4h0m.1 .8h0m.1-1.6h0m.3 2.2h0m0-3.8h0m0 3.4h0m.1-.2h0m.4-.8h0m.1-1h0m0-1.2h0m.1 1.1h0m0 1.7h0m.1-1.6h0m0 .7h0m0-2h0m.5 3.4h0m0-1.9h0m0 .8h0m.1 1.1h0m0 .1h0m0-1.3h0m.2 .9h0m.1-.4h0m.1 .8h0m.1-.4h0m.1-1.9h0m.1 2.5h0m.3-2.8h0m0 .2h0m.1-.6h0m.2 1.2h0m0-.6h0m.4-.4h0m0-.5h0m.1-.2h0m0 1.9h0m.2-.8h0m0 2.5h0m.1-.6h0m.2-2.2h0m.1 1.3h0m0 .1h0m.1-.6h0m.1 .3h0m0 1.4h0m.1 .3h0m0-.7h0m.2-2.3h0m0 2.7h0m.1-1.7h0m.1-1.4h0m.1 .4h0m.1 .9h0m0 1.1h0m.1-2.7h0m0 3.4h0m.1-2.9h0m.1 3.4h0m0-1.8h0m0 1.2h0m.1-.6h0m0-1.6h0m.1 1.2h0m0 1h0m.1-2.5h0m0 0h0m0 2.4h0m0 .4h0m.1-.9h0m0-.3h0m0 .1h0m.1-1.5h0m.1-.6h0m0 2.6h0m.1-1h0m0 1.4h0m.1-1.1h0m.2-2h0m0 2.1h0m.1-.3h0m0 1.2h0m0-2.4h0m0 1.4h0m0 .9h0m.1-.7h0m0-1.6h0m0 2.8h0m.1-2.2h0m0 .2h0m.1 .5h0m0-.7h0m0-1h0m.1 .9h0m0 2.3h0m0-2.3h0m.1 0h0m0 .6h0m.1 .4h0m0 .6h0m.1-1.9h0m0 2.5h0m0-2.5h0m0-.3h0m.1 1.7h0m.1-.1h0m0-1.9h0m0 3.3h0m.1-3h0m0 1.5h0m0-1.9h0m0 3.5h0m.1-1.4h0m0-.4h0m.1-.1h0m0 1.9h0m0-2h0m0 1.2h0m.1-1.2h0m0-.5h0m0 .3h0m.1-.8h0m.1 .7h0m.1 .4h0m0-1.1h0m0 2.4h0m0-2.2h0m.1 1h0m0 1.2h0m.1-2.9h0m0 2.4h0m.1 1h0m0-1.6h0m0 1h0m0-2.4h0m.1-.1h0m.1-.2h0m.1 3.1h0m0-3.1h0m.1 2.2h0m0-.9h0m0-.2h0m0-1.1h0m.2 3h0m.1-.6h0m0-1.3h0m0-.6h0m.1 .8h0m0-.1h0m0 .5h0m.2 .3h0m0-2.5h0m0 2.2h0m.1-.7h0m0-.3h0m0 2.6h0m0-3h0m.1 2.2h0m0-1.3h0m0 .4h0m0-1.6h0m0-.5h0m.1 3.4h0m.1-1.8h0m.2 .6h0m0-1.6h0m.1 2.7h0m0-1.8h0m0 1.9h0m.1 0h0m.1-3.1h0m0 1.8h0m.1-.8h0m0 1h0m0-1.2h0m.1 1h0m0-2h0m0 3.5h0m.1-.1h0m.3-.8h0m0-2.4h0m.1 3.4h0m.2-2.9h0m.3 .9h0m0 2.1h0m0-3.4h0m.1-.4h0m.1 1.5h0m0-.3h0m0-.8h0m.1 2.2h0m0-2.2h0m0 2.1h0m0-2h0m0 2.5h0m0-1h0m0 1.5h0m.1-.5h0m0-1.1h0m.1-1.8h0m.1 .1h0m0 1.6h0m.3 1.1h0m0-.5h0m0-.2h0m.1 1.1h0m0-.7h0m0-1.8h0m0-.4h0m0-.4h0m.1 2.5h0m.1 1.4h0m.1-.8h0m0-.2h0m.1-2.1h0m0 1.6h0m0 .7h0m0 .1h0m.2-.7h0m0-.8h0m.1 1h0m0-.5h0m0 1.4h0m0-.2h0m.1-2.2h0m.1-.2h0m0 .5h0m.4 .8h0m0-1.2h0m0-.1h0m0-.3h0m.1 3.1h0m0-2.6h0m.2-.4h0m.2 .8h0m0 1.6h0m.1 .5h0m.1-.9h0m0-2.5h0m.2 1.7h0m.1-1.7h0m.2 3.1h0m.1-2.8h0m0 1.1h0m.3-1.5h0m.1 1.4h0m.1 2.1h0m.1-1.7h0m0 .5h0m0-1.4h0m.1-.3h0m.2 1.6h0m.1-.1h0m.1-1.8h0m.3 3.2h0m0-3.5h0m.4 2.9h0m0-2.5h0m.2 2.5h0m0-2.3h0m.2-.8h0m0 1.8h0m.1-1.5h0m.3 .4h0m.2 2.4h0m.1 .4h0m0-3.1h0m.4 1.2h0m.1-1.2h0m.2 1.3h0m.1 1.2h0m0-1.6h0m.1-.1h0m.2-1.2h0m.3 1.1h0m1.5 2.8h0m.1-2.8h0m.6 1.4h0m.4-2.5h0m.4 2.2h0m.1-.7h0m.7 1.6h0m0-1.7h0m.7 .3h0m.1-.4h0m0-1.3h0m.3 .7h0m0 .4h0m2.1 2.7h0m0-2.1h0m.7-1.2h0m.7 1.9h0m.5 .2h0m.1-2.5h0m.6 .8h0m.8-.1h0m1 1.8h0m.9 .7h0m.9-2.9h0m.2 2.3h0m.8-1.7h0m.3 .8h0m3.2 .2h0m2.1-1.3h0m.1-.1h0m.3 2.3h0m5.7-.9h0m2.3 1.2h0m2.1-1h0m2.4 .2h0m.2-.7h0m.9-1.2h0m0 .1h0m.7-.4h0m4 .2h0m3.5 1.2h0m.5-.1h0m.3-1.3h0m4.4 2.8h0m5.6-1.1h0m3.3-.4h0m6.6 1.9h0m-168.6 3.5h0m2.6 1h0m.1-2.3h0m11.4-1.2h0m11.9-.4h0m4 .7h0m4.9 1.6h0m2.6-1h0m6 1.3h0m4.9-2.3h0m1.1 2h0m.8 1.3h0m1.7-.7h0m.1-.5h0m.3 .4h0m1 .6h0m.7 .4h0m3.3-3.4h0m2.1 1.9h0m3.5-2h0m1.2 3.4h0m.9-3.5h0m.5 1.9h0m.9 .8h0m.6-2.7h0m1.2 2.6h0m2-2.3h0m1.4 1.8h0m.9 1.4h0m.2-2.1h0m1.9 .5h0m.8-.5h0m.1-.8h0m.1 2.1h0m1-.3h0m.4-1.5h0m.1 .2h0m.3-.5h0m.7 1.1h0m.1-1.6h0m.6 1.2h0m.4-1.4h0m.1 1.1h0m.8 .7h0m.2 1.8h0m.5 .1h0m.1-1.4h0m.1-.3h0m0-2h0m.5 1.4h0m.1 1.5h0m.5 .8h0m0-.4h0m.2-2.4h0m.8 0h0m.3 1.5h0m.7-1.4h0m0 2.8h0m.4-1.2h0m0-.8h0m.2 1.9h0m0-.2h0m.1-.6h0m0-1.7h0m.3 2.2h0m.3-2.6h0m.3 2.8h0m0-.7h0m.3-2.8h0m.1 1.9h0m.1 1.1h0m.2 .7h0m0-.9h0m.5 .3h0m.2-3.3h0m.1 1.8h0m.1-1h0m.1 1.6h0m.1 1.1h0m.2-3.3h0m.1 0h0m0 3.2h0m.1 .4h0m.2-3.3h0m0 2.2h0m.5-.8h0m.2 .7h0m.1-2.2h0m.1 1.5h0m.2-1.5h0m0 0h0m0 .7h0m.1-.5h0m.3 1.5h0m0 1.8h0m.1-2.8h0m0-.7h0m0 3.4h0m0-2h0m.1-.7h0m0 .4h0m.2-1.5h0m.2 .5h0m.2 1.4h0m.1-1.6h0m0 2.8h0m.5-.7h0m0-2.4h0m0 2.7h0m.1-2.5h0m0 2.6h0m0-2.6h0m.1 .1h0m0 0h0m.1 .9h0m0 2.3h0m.3-.4h0m.1-2.9h0m0 1.1h0m0-1.1h0m.2 1h0m0 1.4h0m0-1.8h0m.1 1.3h0m0-1.9h0m.1 .1h0m0 1.6h0m.1 0h0m.1-1.6h0m.1 2.7h0m.1-3h0m.1 1.2h0m0-1.2h0m0 1.4h0m0-.1h0m.1-.2h0m.2 .7h0m0-1.8h0m0 3.4h0m0 0h0m0-2.8h0m.1 .1h0m0 0h0m0 2.8h0m.3-1.6h0m.1 .7h0m.1-.8h0m0 .8h0m0 .2h0m.1-2h0m0 1.8h0m.1-2.6h0m0 1.8h0m.1-.8h0m0 .2h0m.1 .4h0m0 .1h0m.2 .9h0m0-1.2h0m0 .5h0m.3-.9h0m0 .8h0m.1-1.5h0m.2-.1h0m0 .4h0m.2 2.8h0m0-2.7h0m.1 2.1h0m.1-.5h0m.1-1.9h0m0 .8h0m.1 2.7h0m.1-2.3h0m0 .6h0m.1-.8h0m0-1.1h0m0 2.2h0m.1-2.1h0m0 .1h0m.1 3.1h0m.1-3.2h0m0-.4h0m0 1h0m0 2.3h0m0 .4h0m.2-3.1h0m.1 3.1h0m.1-1.7h0m.1-.9h0m0 2.7h0m0-1.9h0m0-.6h0m0-.7h0m.2 .9h0m0 .7h0m0 1.4h0m0-.8h0m.1-2.8h0m0 1.6h0m0-.2h0m.1 1.7h0m0-1.4h0m0 1.6h0m0-3.2h0m.1 2h0m.1-.4h0m0-.1h0m.2-.6h0m0 0h0m.4-.2h0m0 .8h0m.1 .4h0m.1-.7h0m.1 1.6h0m0 .2h0m.1 .1h0m.1-.4h0m.1-.4h0m.2-.2h0m.1-.1h0m.2 1.7h0m0-3.4h0m.1 .8h0m.1 1h0m.5-1.6h0m.3 .9h0m.1 1.2h0m.1-2.4h0m0 2.7h0m.1-1.4h0m0-.2h0m.1-1.2h0m.1 .7h0m.1-.5h0m0-.3h0m0 2.3h0m.1-1.2h0m0 1.8h0m0-2.9h0m0-.1h0m.2 .5h0m.2-.4h0m.4 .5h0m.1 3.3h0m.1-2.8h0m.2-.1h0m0 0h0m.4-.3h0m0-.7h0m.2 1.1h0m0 2.3h0m.1-3.2h0m0 3.5h0m.3-.3h0m0-2.9h0m.2 1.3h0m.2-1.8h0m.4 1.3h0m.2 2.2h0m0-3.4h0m.3 2.3h0m.2-1.9h0m.3 .8h0m.2-1.3h0m0 3.1h0m.5-1.4h0m.4 1.2h0m.1-2.4h0m.1 .6h0m0 1.1h0m.1 1.3h0m.8-.5h0m.1 .3h0m.1-.1h0m.5-1.3h0m1-1.9h0m0 .4h0m0 3.3h0m.2-1.4h0m1.2-.4h0m1-1.9h0m1.4 3h0m.2 .2h0m.1-.4h0m.5-1.5h0m0 .3h0m.2 1h0m.6 .9h0m.3 .3h0m1.4-.5h0m.3-2h0m1.1 1.3h0m2.2-2.5h0m.1 1.6h0m.2-1.2h0m.1 1.7h0m6.6 .2h0m1.6-1.8h0m3.2 2.9h0m5.4-.7h0m0 1.1h0m7.4-1.9h0m.2 .9h0m5.5-1.7h0m1.2-.6h0m5.3-.1h0m3.6 2.6h0m9-.6h0m5.7 1.2h0m-178.4 1.2h0m6.9 1.4h0m25.6 1.5h0m4.8-2.5h0m7.6 2.6h0m4-2.2h0m1.8-1.4h0m9.5 1.5h0m0-.2h0m1.7 .1h0m.7-.8h0m.7 .7h0m3.2-1.1h0m.7-.1h0m.3 3.1h0m1.7-3.1h0m1.2 1.3h0m2.3 .9h0m.2-.8h0m.6 1.7h0m1.4-.3h0m1.6-1.7h0m.5-1.3h0m.8 1.9h0m1.3-1.9h0m.3 2.4h0m.3-.3h0m.1-2.3h0m.7 1.7h0m.1-.9h0m.1-.1h0m.4-.7h0m.3 .6h0m.6 2.3h0m1.4-.6h0m0-.2h0m.4-1.6h0m.7 3.4h0m.6-.5h0m0-.3h0m.5 0h0m1.3-1.9h0m.2 1.8h0m.1-.6h0m.3-1.5h0m.1 1.2h0m.5-.8h0m.1-.5h0m.1-.4h0m.4 .8h0m.2 1.3h0m0 0h0m0-1h0m.1 .1h0m.2-1.2h0m1 2.3h0m0-2h0m1.6-.6h0m.1 .4h0m.1 2.3h0m.4-.5h0m.1-1.9h0m.6 2.2h0m0-1.7h0m.5-.9h0m.1 2.3h0m.4-.2h0m.3-1.3h0m.1 1.2h0m.2-1.1h0m0 2.3h0m.5-.1h0m.1-2.2h0m.1 1h0m.1-1h0m.2 .7h0m0 1.7h0m.1-1.7h0m0 1.7h0m.4-.5h0m.8-.5h0m0-1.2h0m.3 .3h0m.4 2.3h0m.2-1.9h0m.1-1.8h0m0 1.7h0m.2-1.3h0m.1 .9h0m0 2.4h0m.2-2.8h0m0 2.2h0m.1-.7h0m0-2.4h0m.3 1.1h0m.2 2.3h0m0-3.4h0m.5 2.8h0m0 .6h0m.1 .3h0m0-2.1h0m.4 .9h0m.2-1.1h0m.2-.1h0m.1 1.2h0m.2-1.8h0m.1 2.8h0m0-2.5h0m.2 1.6h0m.4-.7h0m0-1.5h0m.1 1.2h0m.3 .2h0m.1-.6h0m.2 1.1h0m.2-.3h0m.4 .6h0m.1-2.5h0m.1 2.6h0m.1-1.6h0m.2-.7h0m0 .7h0m.4 .2h0m0 2.1h0m0-3.1h0m.2 3.4h0m.1-1.7h0m.1 .5h0m.5-1h0m0-.7h0m.6 1.5h0m.1 .7h0m.5-.5h0m0-1.6h0m0 2.4h0m.1-1.1h0m.6 1.6h0m.3-1.2h0m.1-.4h0m.1 1h0m.4-2.5h0m.5-.2h0m.1 3.2h0m0-1h0m.5 .4h0m.2-.4h0m.2 1h0m.2-1.1h0m1.3-.5h0m.3 1.3h0m1.6-.7h0m.7-1.9h0m.6 .7h0m.2 .3h0m0-.4h0m.6 .6h0m.3 1.4h0m.1-1.6h0m.2 .6h0m.5-2h0m.1-.1h0m.2 .2h0m1.5-.4h0m.1 .2h0m.3 2.4h0m.9-1.4h0m.2 1h0m.2 1.2h0m1.4-3h0m.9 .4h0m.2 2.7h0m.5-.3h0m3.2-2.6h0m0-.6h0m3.3 1h0m.7 .7h0m.4-.5h0m1.1-1.1h0m1.8 3.2h0m.3-2.7h0m.5 2.6h0m1.2-.8h0m.6 1h0m.1-1.3h0m.7-.2h0m1.4-1.6h0m.4 1h0m2.9 1.6h0m2.7-1.4h0m2.1-.8h0m.8 3h0m7.2-1.4h0m8.2 .5h0m13.1-2.6h0m4.1 3.3h0m-144.4 2.1h0m0 .7h0m4-1.9h0m1.7 .9h0m13.2 1.1h0m2.4 1.3h0m5.5-.3h0m3.6-.4h0m3.1-2h0m.5 .4h0m1.9 .5h0m1.6 .1h0m.9-1.8h0m.7 2.3h0m.1 .6h0m1-2.3h0m.1 .5h0m1.9 .2h0m.2 .6h0m.6-1.3h0m.3 2.2h0m.8-2.9h0m2.5 3.1h0m.1-2h0m.2 2h0m.3-2.9h0m0 1.9h0m.3-.9h0m.9 .2h0m.1 .4h0m.4-2h0m.3 3.5h0m.4-2.5h0m.2-.6h0m.3 2.6h0m.7-3h0m.9 .9h0m.1-.7h0m0 .3h0m.6 2.1h0m.3 0h0m.3-2.5h0m.3 1.2h0m.7 1.1h0m.2-.7h0m.9-1.5h0m.1 2.6h0m.2-2.7h0m.2 1.4h0m.7-1.1h0m.2 2.2h0m.1-2.2h0m.5 3.2h0m.6-.2h0m.3-1.2h0m.4-1.4h0m.8 1.5h0m.6 .7h0m.8-1.5h0m.1-.7h0m.3-.7h0m.3 1.4h0m.5 2.3h0m1.6-2.1h0m.1 1.6h0m1.2-.9h0m.3-1.5h0m0 2.3h0m.3 .7h0m.8-2h0m1.3 1.5h0m.8 .5h0m.3-1.9h0m.6 1.8h0m.1 .1h0m1.5-1.6h0m.2-2.2h0m.5 .2h0m.4 1.4h0m.8 .2h0m.1-1.8h0m.1 .2h0m1.3 1.2h0m1.5-.1h0m0 .9h0m.7 .6h0m.1 .8h0m.4-3.1h0m.4-.4h0m.1 .9h0m1.2-.1h0m.5 2.3h0m.4-.6h0m2-2.3h0m1 3.3h0m1.8-1.2h0m.4-1h0m.5-1h0m.1 .2h0m0 .6h0m.9 1.6h0m2-1.2h0m.6-1.4h0m1.7 3h0m.8-.3h0m2.9-.3h0m.8-.8h0m.6-1.9h0m2.9 0h0m9.2 3.9h0m6.8-2.7h0m4 2.2h0m17.2-1.6h0m-135.2 2.7h0m5.6 1.7h0m12.1 1.6h0m9-3.8h0m2.5 2.1h0m1 1.8h0m1.8-1.4h0m1.7 0h0m.2 0h0m.1 .2h0m1.3-2.1h0m3.1 2.1h0m.2-1.5h0m.4 .9h0m1.1 .5h0m.5-.7h0m.1 2h0m.3-.2h0m.1-.9h0m0 .9h0m.7-1.1h0m.7-.3h0m.2-.8h0m.4 .1h0m.2-.2h0m1.6-.2h0m0-.4h0m.2-.8h0m1.1 .3h0m.4 .3h0m1.8 .5h0m1.9 1.1h0m2.7-1.9h0m.6 1.2h0m1.8-1.4h0m.2 1.9h0m0-1.3h0m1 .4h0m.6-1.1h0m2.2 0h0m.6 1.7h0m0 1.8h0m.7-.1h0m.9-1.5h0m0 .9h0m.1-.3h0m.7 .3h0m.4-.1h0m.3-.1h0m.2-.9h0m.7-1.4h0m.2 2h0m.6 1.2h0m.4-2h0m.1 .8h0m.1 .4h0m.2-.3h0m.5 1h0m.8-1h0m0-2.2h0m.2 .8h0m.3 1.5h0m.2-1.4h0m.8 .7h0m.7 2.1h0m.3-2.1h0m.2-1h0m.8-.2h0m2 3.2h0m1.7-1.8h0m.2 .9h0m0 .8h0m.3-2.3h0m.4 2.2h0m3.1-1.4h0m.4 .3h0m.2 .5h0m.2-2.8h0m2.7 .4h0m8.1 3h0m6.9-2.2h0m.7 1.7h0m.2-2.8h0m1.9 .4h0m.2-.6h0m5 2.8h0m7 1h0m7.2-.5h0m9.6 0h0m1.6-.2h0m-143.7 1.4h0m9.4 0h0m14-.2h0m3.7 2.1h0m3.8 1.1h0m13.3-1.8h0m1.8 .5h0m0 1.5h0m.3-.4h0m.5 .1h0m1.8-.4h0m1.3-.6h0m0 .8h0m1.1-1.3h0m.4 .7h0m.5-1.2h0m.5 .3h0m.1-1.4h0m.7 .6h0m.4 2.9h0m.8-1.8h0m.4 1.6h0m.3-1.8h0m2.5-1.6h0m3.1 2.4h0m0-1.1h0m1.7 .9h0m3.5-1.7h0m1.3 .3h0m.3 .2h0m.4 .4h0m.4 .6h0m2.1 .2h0m1.4 1.3h0m.6-1.2h0m1.9 .9h0m.7-1.2h0m1.4-2.1h0m.6 1.4h0m1.6 1.9h0m.1-1.2h0m.1-2h0m0 .2h0m.1 1.3h0m2.5 .8h0m0 .4h0m.3-2.5h0m0 1.4h0m.1 .9h0m.5-1.5h0m1 1.7h0m1.4-1h0m.3-.8h0m.5 1h0m1.5-2.1h0m.8 1.8h0m.2-.9h0m.9 .2h0m.4 1.8h0m2.5-.9h0m1.8-1.2h0m.9-.8h0m.4 .6h0m.4 3h0m.9-2.2h0m0-1.2h0m.5 .4h0m1.4 2.7h0m.2-2.7h0m2.7 .6h0m.9 2.3h0m3.5-2.3h0m2-1.2h0m2.6 3.1h0m4.4-3.1h0m.5 1.8h0m1-1.3h0m11.3-.3h0m23.1 1h0m5.5 .8h0m1.3-.6h0m20.9-.1h0m-151.6 4.9h0m7.8 .4h0m11.1 .9h0m.6 0h0m.4-.9h0m.7-.3h0m0-1.4h0m.1 1h0m1.4-1.5h0m.5 0h0m.5-.2h0m2.1-.2h0m1.4 2.3h0m.5 .6h0m1.3-3h0m1.8 3.6h0m.9-2.3h0m.3 1.7h0m1.4 .2h0m.4 .4h0m0-1h0m.2 1.3h0m4.6-2.7h0m.2-1h0m1.9 3.7h0m.2-.7h0m.4-3.1h0m.6 1.4h0m7.2 .9h0m.1-1.1h0m.1-1.2h0m1.1 2.2h0m1.3-1.3h0m.3 2.6h0m.7-.5h0m.9-.8h0m.9-.5h0m0 1.8h0m1-2.5h0m1.1 1h0m.1 .1h0m.9 1.4h0m1.5-2.6h0m.4 1.7h0m1.4-1.4h0m2.3 .9h0m.1 0h0m1 1.5h0m5.8-.7h0m2.7-2.7h0m5.5 .5h0m1.4 2.1h0m1-2.6h0m3.4 2.4h0m.3-1.2h0m1.8-1.2h0m2.4 .8h0m.4 .6h0m4.5 1.7h0m3.4-.1h0m7.6-1.8h0m3.7 2.2h0m4.7-3.2h0m.8 .3h0m7.2 2.6h0m-134.1 1.5h0m3.5 2.2h0m8.1-2.2h0m0 .8h0m4.3-.5h0m.2 1.5h0m.6-.5h0m2 .1h0m.8-.1h0m2.1 .4h0m1.6-2.4h0m3.6 3h0m.6 .5h0m.1-1.6h0m.6-.3h0m.4 1.1h0m1.2-1.5h0m.8-1.4h0m.1 1.6h0m.3-1.3h0m.9 .3h0m.4 .1h0m1.6-.3h0m7.5 3.3h0m1.2-1.2h0m.1-2.3h0m4.2 1.9h0m6-.8h0m1.4 .9h0m3.7 1.6h0m1.2-1.3h0m1.8-1.1h0m3.7-.5h0m.9-.2h0m.6 .7h0m1.8-.4h0m1.6-.7h0m1.5-.2h0m.2 3.1h0m1.7-.5h0m9.8-1.7h0m3.3-.9h0m.8 1.6h0m.3-.5h0m0 .7h0m3.2-.6h0m8.7-.5h0m1.3 2h0m1.8-2.5h0m3.2 .7h0m1.9 1.3h0m3.4-.6h0m9.9-1.6h0m3.8 3h0m.4-.6h0m1.5-1.9h0m2 1.5h0m16.5 .1h0m3.5-2h0m-177.2 7.5h0m1.9 .1h0m24.6-.1h0m3.6-2.4h0m2.2-.1h0m4.9 1.2h0m6.9-2.1h0m5.7 3.6h0m.6-.9h0m.7 .1h0m1-1h0m.6 .7h0m.6-1.7h0m.1-.1h0m.3 .7h0m1.2-1h0m.4-.2h0m5.9-.1h0m14 2.6h0m4.2-.7h0m2.4-.9h0m1.1-.2h0m2.8-.8h0m1.2 1.8h0m.9-2.2h0m1.2 .1h0m1.1 3.2h0m3.7-.4h0m.5-1.7h0m6.5-.5h0m.2 2h0m7-1.4h0m1.2 2.3h0m.8-.3h0m.5-1.7h0m8.1-.8h0m2.4 1.5h0m4.6 1.4h0m1.2-2.6h0m.5-.5h0m.3 1.1h0m4 1.1h0m5-1.1h0m7.8 1.6h0m7.4-.4h0m2.3-1.8h0m23.1 1.7h0m-162.9 2.8h0m21.5-1h0m.9-.2h0m.4 2.6h0m8.5 .6h0m1.1-.7h0m.4-.6h0m.6 1.3h0m.1-2.1h0m.2 .3h0m.1-1.8h0m.3 1.6h0m.8-.6h0m.3-.6h0m11 1.6h0m5.7-1.2h0m1.3 .7h0m7.4-1.5h0m1 2.4h0m6-.4h0m2.4-1h0m2.5-.6h0m3.9 .2h0m.3 .4h0m.5-.4h0m4.8-.3h0m8-.3h0m1.2 1.2h0m1.8 1.3h0m8-.3h0m.1-.7h0m2.3-.5h0m2.9-.7h0m1.5 .8h0m4.2 .3h0m14.4 1.5h0m.8-2.7h0m20.3 .5h0m.1 .6h0m2.7-.3h0m4.2 .5h0m-127.8 6.3h0m.6-.4h0m.2-1.5h0m.5-.3h0m.3 .8h0m.9-1.8h0m1.1-.4h0m.6-.2h0m.2 .5h0m5.3 1.5h0m22-1.5h0m2.5 .7h0m.7-1.1h0m1.6 .9h0m2.9-.7h0m14.5-.3h0m16.6 1.2h0m2.9 1.6h0m.4 .2h0m6.2-1.3h0m12.8 2.1h0m1.3-1.4h0m6.8-1.4h0m9.7 2.2h0m.7-1h0m.3-.9h0m-156.7 6.2h0m5.1-3.5h0m15.4 3.9h0m1.2-2.2h0m17.5 1.9h0m0-.7h0m.1 .9h0m2.1-1.4h0m0-.5h0m.1 .9h0m.8-1.3h0m.6-1.1h0m.1 .6h0m1.2-1h0m.7 0h0m.1 1.9h0m16.9 2h0m.2-3.8h0m1.1 3.7h0m4.9-2.3h0m.7 2.3h0m3.7-3.7h0m1.4 3.4h0m1.9-1.9h0m3.3 2h0m3.6-2h0m10.6-1h0m11.2 3.2h0m8.3-2.6h0m4.5-.1h0m.7 .3h0m3.2-1.4h0m.1 1.4h0m8.3 1.3h0m9.4-.4h0m21.3-2.1h0m1.8 1.9h0m-128.1 4.5h0m.3 1h0m.3-.7h0m.1 .5h0m1.1-.7h0m0-.6h0m1.1-.4h0m.4-.2h0m.9-.7h0m1-.4h0m23.7 2.8h0m17.1-.3h0m7.7-1.8h0m24.6 1.4h0m10.3 1.1h0m-93.5 3.9h0m.4-.1h0m.2-.9h0m1.3 0h0m0-.7h0m1.1-.8h0m.7 .7h0m0-1h0m.1 0h0m.9-.7h0m7.8 2.2h0m6.2 .8h0m29.4-2.7h0m2.9 3.5h0m4-2.5h0m3.7 .8h0m.6-.6h0m6.5 2h0m1.4-2.2h0m1.1 .3h0m27.4 .6h0m6.2 0h0m43.2-1.7h0m-163.1 7.1h0m13.3-.3h0m.6-.1h0m.7-.1h0m.4-1.1h0m.5 .1h0m.3-.3h0m1-1.4h0m.4-.1h0m.1 .8h0m46.7 1.7h0m7.2-2.4h0m7.1 2.4h0m3.8-.6h0m5.2-.2h0m7.4 1.3h0m7.7-1.5h0m25.1 1.2h0m11.4 .6h0m39.5-2.9h0m-165.8 3.5h0m11.5 .6h0m15.6 .9h0m14.4 .1h0m21.6-1h0m26.5 .6h0m11.6-.6h0m12.7 1.9h0m6.8-2.3h0m7.1 1.6h0m38.9-.3h0m-187.2 6.1h0m30.3-2.3h0m3.7 1.6h0m25.2-2.5h0m6.7 3.3h0m9.7-.4h0m2-3.3h0m1.7 1.5h0m25.4-.6h0m-89.1 5.8h0m16.9-2.9h0m28.2 2.1h0m23.7-.6h0m15 1.8h0m3.7-3.3h0m19.3 1.4h0m28.5 1.7h0m-91.1 1.9h0m21.8 .9h0m-50 3h0m5 1.7h0m14.1-2h0m56.7 .4h0m24.6 2.4h0m1.7-.6h0m34 1h0" fill="none" stroke="#000" stroke-width="1.45" stroke-linecap="round"/>
<path d="M336.5 937.5H538.4V1096.8H336.5zM336.5 1096.8v-1.6M336.5 937.5v1.6M356.7 1096.8v-1.6M356.7 937.5v1.6M376.9 1096.8v-1.6M376.9 937.5v1.6M397.1 1096.8v-1.6M397.1 937.5v1.6M417.3 1096.8v-1.6M417.3 937.5v1.6M437.4 1096.8v-1.6M437.4 937.5v1.6M457.6 1096.8v-1.6M457.6 937.5v1.6M477.8 1096.8v-1.6M477.8 937.5v1.6M498 1096.8v-1.6M498 937.5v1.6M518.2 1096.8v-1.6M518.2 937.5v1.6M538.4 1096.8v-1.6M538.4 937.5v1.6M336.5 1096.8h1.6M538.4 1096.8h-1.6M336.5 1080.9h1.6M538.4 1080.9h-1.6M336.5 1064.9h1.6M538.4 1064.9h-1.6M336.5 1049h1.6M538.4 1049h-1.6M336.5 1033.1h1.6M538.4 1033.1h-1.6M336.5 1017.1h1.6M538.4 1017.1h-1.6M336.5 1001.2h1.6M538.4 1001.2h-1.6M336.5 985.3h1.6M538.4 985.3h-1.6M336.5 969.4h1.6M538.4 969.4h-1.6M336.5 953.4h1.6M538.4 953.4h-1.6M336.5 937.5h1.6M538.4 937.5h-1.6" fill="none" stroke="#606060" stroke-width=".55"/>
<text x="336.5" y="1106.4" font-size="6.4" text-anchor="middle" fill="#262626">-5</text>
<text x="356.7" y="1106.4" font-size="6.4" text-anchor="middle" fill="#262626">-4</text>
<text x="376.9" y="1106.4" font-size="6.4" text-anchor="middle" fill="#262626">-3</text>
<text x="397.1" y="1106.4" font-size="6.4" text-anchor="middle" fill="#262626">-2</text>
<text x="417.3" y="1106.4" font-size="6.4" text-anchor="middle" fill="#262626">-1</text>
<text x="437.4" y="1106.4" font-size="6.4" text-anchor="middle" fill="#262626">0</text>
<text x="457.6" y="1106.4" font-size="6.4" text-anchor="middle" fill="#262626">1</text>
<text x="477.8" y="1106.4" font-size="6.4" text-anchor="middle" fill="#262626">2</text>
<text x="498" y="1106.4" font-size="6.4" text-anchor="middle" fill="#262626">3</text>
<text x="518.2" y="1106.4" font-size="6.4" text-anchor="middle" fill="#262626">4</text>
<text x="538.4" y="1106.4" font-size="6.4" text-anchor="middle" fill="#262626">5</text>
<text x="333.7" y="1099.1" font-size="6.4" text-anchor="end" fill="#262626">-5</text>
<text x="333.7" y="1083.2" font-size="6.4" text-anchor="end" fill="#262626">-4</text>
<text x="333.7" y="1067.2" font-size="6.4" text-anchor="end" fill="#262626">-3</text>
<text x="333.7" y="1051.3" font-size="6.4" text-anchor="end" fill="#262626">-2</text>
<text x="333.7" y="1035.4" font-size="6.4" text-anchor="end" fill="#262626">-1</text>
<text x="333.7" y="1019.5" font-size="6.4" text-anchor="end" fill="#262626">0</text>
<text x="333.7" y="1003.5" font-size="6.4" text-anchor="end" fill="#262626">1</text>
<text x="333.7" y="987.6" font-size="6.4" text-anchor="end" fill="#262626">2</text>
<text x="333.7" y="971.7" font-size="6.4" text-anchor="end" fill="#262626">3</text>
<text x="333.7" y="955.7" font-size="6.4" text-anchor="end" fill="#262626">4</text>
<text x="333.7" y="939.8" font-size="6.4" text-anchor="end" fill="#262626">5</text>
<defs>
<linearGradient id="gS0" gradientUnits="userSpaceOnUse" x1="138.10" y1="205.50" x2="114.99" y2="110.73"><stop offset="0%" stop-color="#5945b5"/><stop offset="6.2%" stop-color="#5f53db"/><stop offset="12.5%" stop-color="#6165f2"/><stop offset="18.8%" stop-color="#5f78fd"/><stop offset="25%" stop-color="#508dfd"/><stop offset="31.2%" stop-color="#499ff2"/><stop offset="37.5%" stop-color="#40b0e7"/><stop offset="43.8%" stop-color="#2ebed9"/><stop offset="50%" stop-color="#33c7c3"/><stop offset="56.2%" stop-color="#50cfaa"/><stop offset="62.5%" stop-color="#73d389"/><stop offset="68.8%" stop-color="#a3d164"/><stop offset="75%" stop-color="#d0ca47"/><stop offset="81.2%" stop-color="#f3c453"/><stop offset="87.5%" stop-color="#fed150"/><stop offset="93.8%" stop-color="#f6e745"/><stop offset="100%" stop-color="#fafb35"/></linearGradient>
<linearGradient id="gS1" gradientUnits="userSpaceOnUse" x1="138.10" y1="205.50" x2="114.99" y2="110.73"><stop offset="0%" stop-color="#6a58bc"/><stop offset="6.2%" stop-color="#7065de"/><stop offset="12.5%" stop-color="#7275f3"/><stop offset="18.8%" stop-color="#7086fd"/><stop offset="25%" stop-color="#6299fd"/><stop offset="31.2%" stop-color="#5ba9f3"/><stop offset="37.5%" stop-color="#50b7e9"/><stop offset="43.8%" stop-color="#3cc2db"/><stop offset="50%" stop-color="#3ccac5"/><stop offset="56.2%" stop-color="#54d0ac"/><stop offset="62.5%" stop-color="#74d48a"/><stop offset="68.8%" stop-color="#a3d164"/><stop offset="75%" stop-color="#d0ca47"/><stop offset="81.2%" stop-color="#f3c453"/><stop offset="87.5%" stop-color="#fed150"/><stop offset="93.8%" stop-color="#f6e745"/><stop offset="100%" stop-color="#fafb35"/></linearGradient>
<linearGradient id="gS2" gradientUnits="userSpaceOnUse" x1="138.10" y1="205.50" x2="114.99" y2="110.73"><stop offset="0%" stop-color="#7c6cc4"/><stop offset="6.2%" stop-color="#8077e2"/><stop offset="12.5%" stop-color="#8285f4"/><stop offset="18.8%" stop-color="#8194fd"/><stop offset="25%" stop-color="#75a5fd"/><stop offset="31.2%" stop-color="#6db2f5"/><stop offset="37.5%" stop-color="#61bdeb"/><stop offset="43.8%" stop-color="#49c6de"/><stop offset="50%" stop-color="#45ccc8"/><stop offset="56.2%" stop-color="#58d1ae"/><stop offset="62.5%" stop-color="#75d48b"/><stop offset="68.8%" stop-color="#a3d164"/><stop offset="75%" stop-color="#d0ca47"/><stop offset="81.2%" stop-color="#f3c453"/><stop offset="87.5%" stop-color="#fed150"/><stop offset="93.8%" stop-color="#f6e745"/><stop offset="100%" stop-color="#fafb35"/></linearGradient>
<linearGradient id="gS3" gradientUnits="userSpaceOnUse" x1="138.10" y1="205.50" x2="114.99" y2="110.73"><stop offset="0%" stop-color="#8d7fcc"/><stop offset="6.2%" stop-color="#9189e6"/><stop offset="12.5%" stop-color="#9395f6"/><stop offset="18.8%" stop-color="#91a2fd"/><stop offset="25%" stop-color="#87b1fe"/><stop offset="31.2%" stop-color="#7fbcf6"/><stop offset="37.5%" stop-color="#71c4ed"/><stop offset="43.8%" stop-color="#57cbe0"/><stop offset="50%" stop-color="#4ecfcb"/><stop offset="56.2%" stop-color="#5dd2b0"/><stop offset="62.5%" stop-color="#76d58c"/><stop offset="68.8%" stop-color="#a3d164"/><stop offset="75%" stop-color="#d0ca47"/><stop offset="81.2%" stop-color="#f3c453"/><stop offset="87.5%" stop-color="#fed150"/><stop offset="93.8%" stop-color="#f6e745"/><stop offset="100%" stop-color="#fafb35"/></linearGradient>
</defs>
<path d="M31.5 160.2L31.5 59.8M138.1 205.5L31.5 160.2M67 151.5L67 51.1M173.6 196.8L67 151.5M102.5 142.9L102.5 42.5M209.1 188.2L102.5 142.9M137.9 134.2L137.9 33.8M244.5 179.6L137.9 134.2M173.4 125.6L173.4 25.2M280 170.9L173.4 125.6M280 170.9L280 70.5M138.1 205.5L280 170.9M253.3 159.6L253.3 59.2M111.4 194.2L253.3 159.6M226.7 148.2L226.7 47.8M84.8 182.8L226.7 148.2M200.1 136.9L200.1 36.5M58.2 171.5L200.1 136.9M173.4 125.6L173.4 25.2M31.5 160.2L173.4 125.6M31.5 160.2L173.4 125.6M173.4 125.6L280 170.9M31.5 135.1L173.4 100.5M173.4 100.5L280 145.8M31.5 110L173.4 75.4M173.4 75.4L280 120.7M31.5 84.9L173.4 50.3M173.4 50.3L280 95.6M31.5 59.8L173.4 25.2M173.4 25.2L280 70.5M31.5 59.8L173.4 25.2M173.4 25.2L280 70.5M173.4 125.6L173.4 25.2M280 170.9L280 70.5M31.5 160.2L173.4 125.6M173.4 125.6L280 170.9" fill="none" stroke="#ececec" stroke-width=".6"/>
<use href="#cS" transform="matrix(0.7131 -0.1739 0.6777 0.2880 -232.92 212.12)" opacity=".75"/>
<g fill="url(#gS0)" stroke="url(#gS0)" stroke-width="0.9" stroke-linejoin="round">
<path transform="translate(-105.3 -44.7)" fill="url(#gS3)" stroke="url(#gS3)" d="M139.4 110.6l3.6 4 3.5 3.8 3.6 3.5 3.5 3.3 3.6 3 3.5 2.8 3.6 2.5 3.5 2.3 3.6 2 3.5 1.8 3.6 1.5 3.5 1.2 3.6 1.1 3.5 .7 3.5 .5 3.6 .3 3.5 0 3.6-.2 3.5-.5 3.6-.7 3.5-1 3.6-1.3 3.5-1.5 3.6-1.7 3.5-2 3.6-2.2 3.5-2.5 3.6-2.8 3.5-3 3.6-3.2 3.5-3.5 3.6-3.8 3.5-4 3.5-4.2 3.6-4.6 3.5-4.7 3.6-5 3.5-5.3 3.6-5.5 3.5-5.7-2.6-6.1-3.6 5.8-3.5 5.5-3.6 5.3-3.5 5-3.6 4.7-3.5 4.5-3.6 4.3-3.5 4-3.6 3.7-3.5 3.5-3.6 3.3-3.5 3-3.5 2.7-3.6 2.5-3.5 2.3-3.6 2-3.5 1.7-3.6 1.5-3.5 1.2-3.6 1-3.5 .8-3.6 .5-3.5 .2-3.6 0-3.5-.3-3.6-.5-3.5-.8-3.6-1-3.5-1.2-3.6-1.6-3.5-1.7-3.6-2.1-3.5-2.2-3.5-2.6-3.6-2.7-3.5-3.1-3.6-3.2-3.5-3.6-3.6-3.7-3.5-4.1z"/>
<path transform="translate(-102.6 -43.6)" fill="url(#gS3)" stroke="url(#gS3)" d="M139.4 115.2l3.6 4 3.5 3.8 3.6 3.5 3.5 3.3 3.6 3 3.5 2.8 3.6 2.5 3.5 2.3 3.6 2 3.5 1.8 3.6 1.5 3.5 1.3 3.6 1 3.5 .8 3.5 .5 3.6 .3 3.5 0 3.6-.3 3.5-.5 3.6-.7 3.5-1 3.6-1.2 3.5-1.5 3.6-1.8 3.5-2 3.6-2.2 3.5-2.5 3.6-2.7 3.5-3 3.6-3.3 3.5-3.5 3.6-3.7 3.5-4.1 3.5-4.2 3.6-4.5 3.5-4.8 3.6-5 3.5-5.2 3.6-5.5 3.5-5.8-2.6-5.8-3.6 5.8-3.5 5.5-3.6 5.3-3.5 5-3.6 4.7-3.5 4.5-3.6 4.3-3.5 4-3.6 3.7-3.5 3.5-3.6 3.3-3.5 3-3.5 2.7-3.6 2.5-3.5 2.3-3.6 2-3.5 1.7-3.6 1.5-3.5 1.2-3.6 1-3.5 .8-3.6 .5-3.5 .2-3.6 0-3.5-.3-3.6-.5-3.5-.8-3.6-1-3.5-1.3-3.6-1.5-3.5-1.7-3.6-2.1-3.5-2.2-3.5-2.6-3.6-2.7-3.5-3.1-3.6-3.2-3.5-3.6-3.6-3.7-3.5-4.1z"/>
<path transform="translate(-99.9 -42.5)" fill="url(#gS3)" stroke="url(#gS3)" d="M139.4 119.6l3.6 4 3.5 3.8 3.6 3.5 3.5 3.3 3.6 3 3.5 2.8 3.6 2.5 3.5 2.3 3.6 2 3.5 1.8 3.6 1.5 3.5 1.3 3.6 1 3.5 .8 3.5 .5 3.6 .2 3.5 .1 3.6-.3 3.5-.5 3.6-.7 3.5-1 3.6-1.2 3.5-1.5 3.6-1.8 3.5-2 3.6-2.2 3.5-2.5 3.6-2.8 3.5-3 3.6-3.2 3.5-3.5 3.6-3.8 3.5-4 3.5-4.2 3.6-4.5 3.5-4.8 3.6-5 3.5-5.2 3.6-5.5 3.5-5.8-2.6-5.5-3.6 5.7-3.5 5.5-3.6 5.3-3.5 5-3.6 4.8-3.5 4.5-3.6 4.2-3.5 4-3.6 3.8-3.5 3.5-3.6 3.2-3.5 3-3.5 2.8-3.6 2.5-3.5 2.2-3.6 2-3.5 1.7-3.6 1.5-3.5 1.3-3.6 1-3.5 .7-3.6 .5-3.5 .2-3.6 0-3.5-.2-3.6-.6-3.5-.7-3.6-1-3.5-1.3-3.6-1.5-3.5-1.8-3.6-2-3.5-2.3-3.5-2.5-3.6-2.8-3.5-3-3.6-3.3-3.5-3.5-3.6-3.8-3.5-4z"/>
<path transform="translate(-97.3 -41.3)" fill="url(#gS3)" stroke="url(#gS3)" d="M139.4 123.7l3.6 4.1 3.5 3.7 3.6 3.6 3.5 3.3 3.6 3 3.5 2.8 3.6 2.5 3.5 2.2 3.6 2.1 3.5 1.7 3.6 1.6 3.5 1.2 3.6 1 3.5 .8 3.5 .5 3.6 .3 3.5 0 3.6-.2 3.5-.5 3.6-.8 3.5-1 3.6-1.2 3.5-1.5 3.6-1.7 3.5-2 3.6-2.3 3.5-2.5 3.6-2.7 3.5-3 3.6-3.3 3.5-3.5 3.6-3.7 3.5-4 3.5-4.3 3.6-4.5 3.5-4.7 3.6-5 3.5-5.3 3.6-5.5 3.5-5.8-2.6-5.2-3.6 5.7-3.5 5.5-3.6 5.3-3.5 5-3.6 4.8-3.5 4.5-3.6 4.2-3.5 4-3.6 3.8-3.5 3.5-3.6 3.2-3.5 3-3.6 2.8-3.5 2.5-3.5 2.2-3.6 2-3.5 1.7-3.6 1.5-3.5 1.3-3.6 1-3.5 .7-3.6 .5-3.5 .2-3.6 0-3.5-.2-3.6-.6-3.5-.7-3.6-1-3.5-1.3-3.6-1.5-3.5-1.8-3.6-2-3.5-2.3-3.5-2.5-3.6-2.8-3.5-3-3.6-3.3-3.5-3.5-3.6-3.8-3.5-4z"/>
<path transform="translate(-94.6 -40.2)" fill="url(#gS3)" stroke="url(#gS3)" d="M139.4 127.6l3.6 4.1 3.5 3.7 3.6 3.6 3.5 3.2 3.6 3.1 3.5 2.7 3.6 2.6 3.5 2.2 3.6 2.1 3.5 1.7 3.6 1.5 3.5 1.3 3.6 1 3.5 .8 3.5 .5 3.6 .3 3.5 0 3.6-.2 3.5-.5 3.6-.8 3.5-1 3.6-1.2 3.5-1.5 3.6-1.7 3.5-2 3.6-2.3 3.5-2.5 3.6-2.7 3.5-3 3.6-3.3 3.5-3.5 3.6-3.7 3.5-4 3.5-4.3 3.6-4.5 3.5-4.7 3.6-5 3.5-5.3 3.6-5.5 3.5-5.8-2.6-5-3.6 5.8-3.5 5.5-3.6 5.2-3.5 5-3.6 4.8-3.5 4.5-3.6 4.3-3.5 4-3.6 3.7-3.5 3.5-3.6 3.3-3.5 3-3.5 2.7-3.6 2.5-3.5 2.2-3.6 2-3.5 1.8-3.6 1.5-3.5 1.2-3.6 1-3.5 .7-3.6 .5-3.5 .3-3.6 0-3.5-.3-3.6-.5-3.5-.8-3.6-1-3.5-1.3-3.6-1.5-3.5-1.8-3.6-2-3.5-2.3-3.5-2.5-3.6-2.8-3.5-3-3.6-3.3-3.5-3.5-3.6-3.8-3.5-4z"/>
<path transform="translate(-91.9 -39.1)" fill="url(#gS3)" stroke="url(#gS3)" d="M139.4 131.3l3.6 4 3.5 3.8 3.6 3.5 3.5 3.3 3.6 3 3.5 2.8 3.6 2.5 3.5 2.3 3.6 2 3.5 1.8 3.6 1.5 3.5 1.3 3.6 1 3.5 .7 3.5 .6 3.6 .2 3.5 0 3.6-.2 3.5-.5 3.6-.7 3.5-1 3.6-1.3 3.5-1.5 3.6-1.7 3.5-2 3.6-2.2 3.5-2.5 3.6-2.8 3.5-3 3.6-3.2 3.5-3.5 3.6-3.8 3.5-4 3.5-4.2 3.6-4.5 3.5-4.8 3.6-5 3.5-5.3 3.6-5.5 3.5-5.7-2.6-4.8-3.6 5.8-3.5 5.5-3.6 5.2-3.5 5-3.6 4.8-3.5 4.5-3.6 4.2-3.5 4-3.6 3.8-3.5 3.5-3.6 3.2-3.5 3-3.5 2.8-3.6 2.5-3.5 2.2-3.6 2-3.5 1.8-3.6 1.5-3.5 1.2-3.6 1-3.5 .7-3.6 .5-3.5 .3-3.6-.1-3.5-.2-3.6-.5-3.5-.8-3.6-1-3.5-1.3-3.6-1.5-3.5-1.8-3.6-2-3.5-2.3-3.5-2.5-3.6-2.8-3.5-3-3.6-3.3-3.5-3.5-3.6-3.8-3.5-4z"/>
<path transform="translate(-89.3 -37.9)" fill="url(#gS3)" stroke="url(#gS3)" d="M139.4 134.7l3.6 4 3.5 3.8 3.6 3.5 3.5 3.3 3.6 3 3.5 2.8 3.6 2.5 3.5 2.3 3.6 2 3.5 1.8 3.6 1.5 3.5 1.2 3.6 1.1 3.5 .7 3.5 .5 3.6 .3 3.5 0 3.6-.2 3.5-.5 3.6-.7 3.5-1 3.6-1.3 3.5-1.5 3.6-1.7 3.5-2 3.6-2.3 3.5-2.4 3.6-2.8 3.5-3 3.6-3.2 3.5-3.5 3.6-3.8 3.5-4 3.5-4.3 3.6-4.5 3.5-4.7 3.6-5 3.5-5.3 3.6-5.5 3.5-5.7-2.6-4.6-3.6 5.8-3.5 5.5-3.6 5.3-3.5 5-3.6 4.7-3.5 4.5-3.6 4.3-3.5 4-3.6 3.7-3.5 3.5-3.6 3.3-3.5 3-3.5 2.7-3.6 2.5-3.5 2.3-3.6 2-3.5 1.7-3.6 1.5-3.5 1.2-3.6 1-3.5 .8-3.6 .5-3.5 .2-3.6 0-3.5-.3-3.6-.5-3.5-.8-3.6-1-3.5-1.2-3.6-1.6-3.5-1.7-3.6-2.1-3.5-2.2-3.5-2.6-3.6-2.7-3.5-3.1-3.6-3.2-3.5-3.6-3.6-3.7-3.5-4.1z"/>
<path transform="translate(-86.6 -36.8)" fill="url(#gS3)" stroke="url(#gS3)" d="M139.4 137.8l3.6 4 3.5 3.8 3.6 3.5 3.5 3.3 3.6 3 3.5 2.8 3.6 2.5 3.5 2.3 3.6 2 3.5 1.8 3.6 1.5 3.5 1.3 3.6 1 3.5 .8 3.5 .5 3.6 .2 3.5 .1 3.6-.3 3.5-.5 3.6-.7 3.5-1 3.6-1.2 3.5-1.5 3.6-1.8 3.5-2 3.6-2.2 3.5-2.5 3.6-2.8 3.5-3 3.6-3.2 3.5-3.5 3.6-3.8 3.5-4 3.5-4.2 3.6-4.5 3.5-4.8 3.6-5 3.5-5.2 3.6-5.5 3.5-5.8-2.6-4.3-3.6 5.8-3.5 5.5-3.6 5.2-3.5 5.1-3.6 4.7-3.5 4.5-3.6 4.3-3.5 4-3.6 3.7-3.5 3.5-3.6 3.3-3.5 3-3.5 2.7-3.6 2.5-3.5 2.3-3.6 2-3.5 1.7-3.6 1.5-3.5 1.2-3.6 1-3.5 .8-3.6 .5-3.5 .2-3.6 0-3.5-.3-3.6-.5-3.5-.8-3.6-1-3.5-1.3-3.6-1.5-3.5-1.7-3.6-2.1-3.5-2.2-3.5-2.6-3.6-2.7-3.5-3.1-3.6-3.2-3.5-3.6-3.6-3.7-3.5-4.1z"/>
<path transform="translate(-83.9 -35.7)" fill="url(#gS3)" stroke="url(#gS3)" d="M139.4 140.7l3.6 4 3.5 3.8 3.6 3.5 3.5 3.3 3.6 3 3.5 2.8 3.6 2.5 3.5 2.3 3.6 2 3.5 1.8 3.6 1.5 3.5 1.3 3.6 1 3.5 .8 3.5 .5 3.6 .2 3.5 0 3.6-.2 3.5-.5 3.6-.7 3.5-1 3.6-1.3 3.5-1.4 3.6-1.8 3.5-2 3.6-2.2 3.5-2.5 3.6-2.8 3.5-3 3.6-3.2 3.5-3.5 3.6-3.8 3.5-4 3.5-4.2 3.6-4.5 3.5-4.8 3.6-5 3.5-5.3 3.6-5.5 3.5-5.7-2.6-4-3.6 5.7-3.5 5.5-3.6 5.3-3.5 5-3.6 4.7-3.5 4.6-3.6 4.2-3.5 4-3.6 3.8-3.5 3.5-3.6 3.2-3.5 3-3.5 2.8-3.6 2.5-3.5 2.2-3.6 2-3.5 1.7-3.6 1.5-3.5 1.3-3.6 1-3.5 .7-3.6 .5-3.5 .2-3.6 0-3.5-.3-3.6-.5-3.5-.7-3.6-1.1-3.5-1.2-3.6-1.5-3.5-1.8-3.6-2-3.5-2.3-3.5-2.5-3.6-2.8-3.5-3-3.6-3.3-3.5-3.5-3.6-3.8-3.5-4z"/>
<path transform="translate(-81.3 -34.5)" fill="url(#gS3)" stroke="url(#gS3)" d="M139.4 143.3l3.6 4 3.5 3.8 3.6 3.6 3.5 3.2 3.6 3.1 3.5 2.7 3.6 2.6 3.5 2.2 3.6 2 3.5 1.8 3.6 1.5 3.5 1.3 3.6 1 3.5 .8 3.5 .5 3.6 .3 3.5 0 3.6-.3 3.5-.4 3.6-.8 3.5-1 3.6-1.2 3.5-1.5 3.6-1.8 3.5-1.9 3.6-2.3 3.5-2.5 3.6-2.7 3.5-3 3.6-3.3 3.5-3.5 3.6-3.7 3.5-4 3.5-4.3 3.6-4.5 3.5-4.8 3.6-5 3.5-5.2 3.6-5.5 3.5-5.8-2.6-3.8-3.6 5.8-3.5 5.5-3.6 5.3-3.5 5-3.6 4.7-3.5 4.5-3.6 4.3-3.5 4-3.6 3.7-3.5 3.5-3.6 3.3-3.5 3-3.6 2.7-3.5 2.5-3.5 2.3-3.6 2-3.5 1.7-3.6 1.5-3.5 1.3-3.6 .9-3.5 .8-3.6 .5-3.5 .2-3.6 0-3.5-.3-3.6-.5-3.5-.7-3.6-1.1-3.5-1.2-3.6-1.6-3.5-1.7-3.6-2-3.5-2.3-3.5-2.5-3.6-2.8-3.5-3-3.6-3.3-3.5-3.5-3.6-3.8-3.5-4.1z"/>
<path transform="translate(-78.6 -33.4)" fill="url(#gS3)" stroke="url(#gS3)" d="M139.4 145.7l3.6 4 3.5 3.8 3.6 3.5 3.5 3.3 3.6 3 3.5 2.8 3.6 2.5 3.5 2.3 3.6 2 3.5 1.8 3.6 1.5 3.5 1.3 3.6 1 3.5 .8 3.5 .5 3.6 .3 3.5 0 3.6-.3 3.5-.5 3.6-.7 3.5-1 3.6-1.2 3.5-1.5 3.6-1.8 3.5-2 3.6-2.2 3.5-2.5 3.6-2.8 3.5-2.9 3.6-3.3 3.5-3.5 3.6-3.8 3.5-4 3.5-4.2 3.6-4.5 3.5-4.8 3.6-5 3.5-5.2 3.6-5.5 3.5-5.8-2.6-3.5-3.6 5.7-3.5 5.6-3.6 5.2-3.5 5-3.6 4.8-3.5 4.5-3.6 4.2-3.5 4-3.6 3.8-3.5 3.5-3.6 3.2-3.5 3-3.5 2.8-3.6 2.5-3.5 2.2-3.6 2-3.5 1.8-3.6 1.5-3.5 1.2-3.6 1-3.5 .7-3.6 .5-3.5 .2-3.6 0-3.5-.2-3.6-.5-3.5-.8-3.6-1-3.5-1.3-3.6-1.5-3.5-1.8-3.6-2-3.5-2.3-3.5-2.5-3.6-2.8-3.5-3-3.6-3.3-3.5-3.5-3.6-3.8-3.5-4z"/>
<path transform="translate(-76 -32.3)" fill="url(#gS3)" stroke="url(#gS3)" d="M139.4 147.8l3.6 4.1 3.5 3.7 3.6 3.6 3.5 3.2 3.6 3.1 3.5 2.7 3.6 2.6 3.5 2.2 3.6 2.1 3.5 1.7 3.6 1.6 3.5 1.2 3.6 1 3.5 .8 3.5 .5 3.6 .3 3.5 0 3.6-.2 3.5-.5 3.6-.8 3.5-1 3.6-1.2 3.5-1.5 3.6-1.7 3.5-2 3.6-2.3 3.5-2.5 3.6-2.7 3.5-3 3.6-3.3 3.5-3.5 3.6-3.7 3.5-4 3.5-4.3 3.6-4.5 3.5-4.7 3.6-5 3.5-5.3 3.6-5.5 3.5-5.8-2.6-3.2-3.6 5.7-3.5 5.5-3.6 5.3-3.5 5-3.6 4.8-3.5 4.5-3.6 4.2-3.5 4-3.6 3.8-3.5 3.5-3.6 3.2-3.5 3-3.5 2.8-3.6 2.5-3.5 2.2-3.6 2-3.5 1.7-3.6 1.5-3.5 1.3-3.6 1-3.5 .7-3.6 .5-3.5 .2-3.6 0-3.5-.2-3.6-.6-3.5-.7-3.6-1-3.5-1.3-3.6-1.5-3.5-1.8-3.6-2-3.5-2.3-3.5-2.5-3.6-2.8-3.5-3-3.6-3.3-3.5-3.5-3.6-3.8-3.5-4z"/>
<path transform="translate(-73.3 -31.1)" fill="url(#gS3)" stroke="url(#gS3)" d="M139.4 149.7l3.6 4 3.5 3.8 3.6 3.6 3.5 3.2 3.6 3.1 3.5 2.7 3.6 2.6 3.5 2.2 3.6 2 3.5 1.8 3.6 1.5 3.5 1.3 3.6 1 3.5 .8 3.5 .5 3.6 .3 3.5 0 3.6-.3 3.5-.4 3.6-.8 3.5-1 3.6-1.2 3.5-1.5 3.6-1.8 3.5-1.9 3.6-2.3 3.5-2.5 3.6-2.7 3.5-3 3.6-3.3 3.5-3.5 3.6-3.7 3.5-4 3.5-4.3 3.6-4.5 3.5-4.8 3.6-5 3.5-5.2 3.6-5.5 3.5-5.8-2.6-3-3.6 5.8-3.5 5.5-3.6 5.2-3.5 5-3.6 4.8-3.5 4.5-3.6 4.2-3.5 4-3.6 3.8-3.5 3.5-3.6 3.3-3.5 2.9-3.5 2.8-3.6 2.5-3.5 2.2-3.6 2-3.5 1.8-3.6 1.5-3.5 1.2-3.6 1-3.5 .7-3.6 .5-3.5 .3-3.6 0-3.5-.3-3.6-.5-3.5-.8-3.6-1-3.5-1.3-3.6-1.5-3.5-1.8-3.6-2-3.5-2.3-3.5-2.5-3.6-2.8-3.5-3-3.6-3.3-3.5-3.5-3.6-3.8-3.5-4z"/>
<path transform="translate(-70.6 -30)" fill="url(#gS3)" stroke="url(#gS3)" d="M139.4 151.3l3.6 4.1 3.5 3.8 3.6 3.5 3.5 3.3 3.6 3 3.5 2.8 3.6 2.5 3.5 2.3 3.6 2 3.5 1.7 3.6 1.6 3.5 1.2 3.6 1.1 3.5 .7 3.5 .5 3.6 .3 3.5 0 3.6-.2 3.5-.5 3.6-.8 3.5-.9 3.6-1.3 3.5-1.5 3.6-1.7 3.5-2 3.6-2.3 3.5-2.5 3.6-2.7 3.5-3 3.6-3.3 3.5-3.5 3.6-3.7 3.5-4 3.5-4.3 3.6-4.5 3.5-4.7 3.6-5 3.5-5.3 3.6-5.5 3.5-5.8-2.6-2.7-3.6 5.7-3.5 5.6-3.6 5.2-3.5 5-3.6 4.8-3.5 4.5-3.6 4.2-3.5 4-3.6 3.8-3.5 3.5-3.6 3.2-3.5 3-3.5 2.8-3.6 2.5-3.5 2.2-3.6 2-3.5 1.8-3.6 1.5-3.5 1.2-3.6 1-3.5 .7-3.6 .5-3.5 .2-3.6 0-3.5-.2-3.6-.5-3.5-.8-3.6-1-3.5-1.3-3.6-1.5-3.5-1.8-3.6-2-3.5-2.3-3.5-2.5-3.6-2.8-3.5-3-3.6-3.3-3.5-3.5-3.6-3.8-3.5-4z"/>
<path transform="translate(-68 -28.9)" fill="url(#gS3)" stroke="url(#gS3)" d="M139.4 152.7l3.6 4.1 3.5 3.7 3.6 3.6 3.5 3.2 3.6 3.1 3.5 2.7 3.6 2.6 3.5 2.2 3.6 2.1 3.5 1.7 3.6 1.5 3.5 1.3 3.6 1 3.5 .8 3.5 .5 3.6 .3 3.5 0 3.6-.2 3.5-.5 3.6-.8 3.5-1 3.6-1.2 3.5-1.5 3.6-1.7 3.5-2 3.6-2.3 3.5-2.5 3.6-2.7 3.5-3 3.6-3.3 3.5-3.5 3.6-3.7 3.5-4 3.5-4.3 3.6-4.5 3.5-4.7 3.6-5 3.5-5.3 3.6-5.5 3.5-5.8-2.6-2.5-3.6 5.8-3.5 5.5-3.6 5.2-3.5 5-3.6 4.8-3.5 4.5-3.6 4.3-3.5 4-3.6 3.7-3.5 3.5-3.6 3.3-3.5 3-3.5 2.7-3.6 2.5-3.5 2.3-3.6 1.9-3.5 1.8-3.6 1.5-3.5 1.2-3.6 1-3.5 .8-3.6 .4-3.5 .3-3.6 0-3.5-.3-3.6-.5-3.5-.8-3.6-1-3.5-1.3-3.6-1.5-3.5-1.8-3.6-2-3.5-2.2-3.5-2.6-3.6-2.7-3.5-3.1-3.6-3.2-3.5-3.6-3.6-3.8-3.5-4z"/>
<path transform="translate(-65.3 -27.7)" fill="url(#gS2)" stroke="url(#gS2)" d="M139.4 153.9l3.6 4 3.5 3.8 3.6 3.5 3.5 3.3 3.6 3 3.5 2.8 3.6 2.5 3.5 2.3 3.6 2 3.5 1.8 3.6 1.5 3.5 1.2 3.6 1.1 3.5 .7 3.5 .5 3.6 .3 3.5 0 3.6-.2 3.5-.5 3.6-.7 3.5-1 3.6-1.3 3.5-1.5 3.6-1.7 3.5-2 3.6-2.2 3.5-2.5 3.6-2.8 3.5-3 3.6-3.2 3.5-3.5 3.6-3.8 3.5-4 3.5-4.2 3.6-4.6 3.5-4.7 3.6-5 3.5-5.3 3.6-5.5 3.5-5.7-2.6-2.3-3.6 5.8-3.5 5.5-3.6 5.2-3.5 5-3.6 4.8-3.5 4.5-3.6 4.2-3.5 4-3.6 3.8-3.5 3.5-3.6 3.2-3.5 3-3.5 2.8-3.6 2.5-3.5 2.2-3.6 2-3.5 1.8-3.6 1.5-3.5 1.2-3.6 1-3.5 .7-3.6 .5-3.5 .3-3.6-.1-3.5-.2-3.6-.5-3.5-.8-3.6-1-3.5-1.3-3.6-1.5-3.5-1.8-3.6-2-3.5-2.3-3.5-2.5-3.6-2.8-3.5-3-3.6-3.3-3.5-3.5-3.6-3.8-3.5-4z"/>
<path transform="translate(-62.6 -26.6)" fill="url(#gS2)" stroke="url(#gS2)" d="M139.4 154.7l3.6 4.1 3.5 3.7 3.6 3.6 3.5 3.2 3.6 3.1 3.5 2.7 3.6 2.6 3.5 2.2 3.6 2.1 3.5 1.7 3.6 1.6 3.5 1.2 3.6 1 3.5 .8 3.5 .5 3.6 .3 3.5 0 3.6-.2 3.5-.5 3.6-.8 3.5-1 3.6-1.2 3.5-1.5 3.6-1.7 3.5-2 3.6-2.3 3.5-2.5 3.6-2.7 3.5-3 3.6-3.3 3.5-3.5 3.6-3.7 3.5-4 3.5-4.3 3.6-4.5 3.5-4.7 3.6-5 3.5-5.3 3.6-5.5 3.5-5.8-2.6-2-3.6 5.8-3.5 5.5-3.6 5.3-3.5 5-3.6 4.7-3.5 4.5-3.6 4.3-3.5 4-3.6 3.7-3.5 3.5-3.6 3.3-3.5 3-3.5 2.7-3.6 2.5-3.5 2.3-3.6 2-3.5 1.7-3.6 1.5-3.5 1.2-3.6 1-3.5 .8-3.6 .5-3.5 .2-3.6 0-3.5-.3-3.6-.5-3.5-.8-3.6-1-3.5-1.3-3.6-1.5-3.5-1.7-3.6-2.1-3.5-2.2-3.5-2.6-3.6-2.7-3.5-3.1-3.6-3.2-3.5-3.6-3.6-3.7-3.5-4.1z"/>
<path transform="translate(-60 -25.5)" fill="url(#gS2)" stroke="url(#gS2)" d="M139.4 155.4l3.6 4 3.5 3.8 3.6 3.5 3.5 3.3 3.6 3 3.5 2.8 3.6 2.5 3.5 2.3 3.6 2 3.5 1.8 3.6 1.5 3.5 1.3 3.6 1 3.5 .7 3.5 .6 3.6 .2 3.5 0 3.6-.2 3.5-.5 3.6-.7 3.5-1 3.6-1.3 3.5-1.5 3.6-1.7 3.5-2 3.6-2.2 3.5-2.5 3.6-2.8 3.5-3 3.6-3.2 3.5-3.5 3.6-3.8 3.5-4 3.5-4.2 3.6-4.5 3.5-4.8 3.6-5 3.5-5.3 3.6-5.5 3.5-5.7-2.6-1.8-3.6 5.8-3.5 5.5-3.6 5.2-3.5 5-3.6 4.8-3.5 4.5-3.6 4.2-3.5 4.1-3.6 3.7-3.5 3.5-3.6 3.3-3.5 3-3.5 2.7-3.6 2.5-3.5 2.2-3.6 2-3.5 1.8-3.6 1.5-3.5 1.2-3.6 1-3.5 .7-3.6 .5-3.5 .3-3.6 0-3.5-.3-3.6-.5-3.5-.8-3.6-1-3.5-1.3-3.6-1.5-3.5-1.8-3.6-2-3.5-2.3-3.5-2.5-3.6-2.8-3.5-3-3.6-3.3-3.5-3.5-3.6-3.8-3.5-4z"/>
<path transform="translate(-57.3 -24.3)" fill="url(#gS2)" stroke="url(#gS2)" d="M139.4 155.7l3.6 4.1 3.5 3.7 3.6 3.6 3.5 3.3 3.6 3 3.5 2.8 3.6 2.5 3.5 2.2 3.6 2.1 3.5 1.7 3.6 1.6 3.5 1.2 3.5 1 3.6 .8 3.5 .5 3.6 .3 3.5 0 3.6-.2 3.5-.5 3.6-.8 3.5-.9 3.6-1.3 3.5-1.5 3.6-1.7 3.5-2 3.6-2.3 3.5-2.5 3.6-2.7 3.5-3 3.6-3.3 3.5-3.5 3.6-3.7 3.5-4 3.5-4.3 3.6-4.5 3.5-4.7 3.6-5 3.5-5.3 3.6-5.5 3.5-5.8-2.6-1.5-3.6 5.8-3.5 5.5-3.6 5.3-3.5 5-3.6 4.7-3.5 4.5-3.6 4.3-3.5 4-3.6 3.7-3.5 3.5-3.6 3.3-3.5 3-3.5 2.7-3.6 2.5-3.5 2.3-3.6 2-3.5 1.7-3.6 1.5-3.5 1.2-3.6 1-3.5 .8-3.6 .5-3.5 .2-3.6 0-3.5-.3-3.6-.5-3.5-.8-3.6-1-3.5-1.2-3.6-1.6-3.5-1.7-3.6-2.1-3.5-2.2-3.5-2.6-3.6-2.7-3.5-3.1-3.6-3.2-3.5-3.6-3.6-3.7-3.5-4.1z"/>
<path transform="translate(-54.6 -23.2)" fill="url(#gS2)" stroke="url(#gS2)" d="M139.4 155.9l3.6 4 3.5 3.8 3.6 3.5 3.5 3.3 3.6 3 3.5 2.8 3.6 2.5 3.5 2.3 3.6 2 3.5 1.8 3.6 1.5 3.5 1.3 3.6 1 3.5 .7 3.5 .6 3.6 .2 3.5 0 3.6-.2 3.5-.5 3.6-.7 3.5-1 3.6-1.3 3.5-1.5 3.6-1.7 3.5-2 3.6-2.2 3.5-2.5 3.6-2.8 3.5-3 3.6-3.2 3.5-3.5 3.6-3.8 3.5-4 3.5-4.2 3.6-4.5 3.5-4.8 3.6-5 3.5-5.3 3.6-5.5 3.5-5.7-2.6-1.3-3.6 5.8-3.5 5.5-3.6 5.2-3.5 5-3.6 4.8-3.5 4.5-3.6 4.3-3.5 4-3.6 3.7-3.5 3.5-3.6 3.3-3.5 3-3.5 2.7-3.6 2.5-3.5 2.2-3.6 2-3.5 1.8-3.6 1.5-3.5 1.2-3.6 1-3.5 .7-3.6 .5-3.5 .3-3.6 0-3.5-.3-3.6-.5-3.5-.8-3.6-1-3.5-1.3-3.6-1.5-3.5-1.8-3.6-2-3.5-2.3-3.5-2.5-3.6-2.8-3.5-3-3.6-3.3-3.5-3.5-3.6-3.8-3.5-4z"/>
<path transform="translate(-52 -22.1)" fill="url(#gS1)" stroke="url(#gS1)" d="M139.4 155.7l3.6 4.1 3.5 3.7 3.6 3.6 3.5 3.3 3.6 3 3.5 2.8 3.6 2.5 3.5 2.2 3.6 2.1 3.5 1.7 3.6 1.6 3.5 1.2 3.6 1 3.5 .8 3.5 .5 3.6 .3 3.5 0 3.6-.2 3.5-.5 3.6-.8 3.5-.9 3.6-1.3 3.5-1.5 3.6-1.7 3.5-2 3.6-2.3 3.5-2.5 3.6-2.7 3.5-3 3.6-3.3 3.5-3.5 3.6-3.7 3.5-4 3.5-4.3 3.6-4.5 3.5-4.7 3.6-5 3.5-5.3 3.6-5.5 3.5-5.8-2.6-1-3.6 5.8-3.5 5.5-3.6 5.3-3.5 5-3.6 4.7-3.5 4.5-3.6 4.3-3.5 4-3.6 3.7-3.5 3.5-3.6 3.3-3.5 3-3.5 2.7-3.6 2.5-3.5 2.3-3.6 2-3.5 1.7-3.6 1.5-3.5 1.2-3.6 1-3.5 .8-3.6 .5-3.5 .2-3.6 0-3.5-.3-3.6-.5-3.5-.8-3.6-1-3.5-1.2-3.6-1.6-3.5-1.7-3.6-2.1-3.5-2.2-3.5-2.6-3.6-2.7-3.5-3.1-3.6-3.2-3.5-3.6-3.6-3.7-3.5-4.1z"/>
<path transform="translate(-49.3 -21)" fill="url(#gS1)" stroke="url(#gS1)" d="M139.4 155.4l3.6 4 3.5 3.8 3.6 3.5 3.5 3.3 3.6 3 3.5 2.8 3.6 2.5 3.5 2.3 3.6 2 3.5 1.8 3.6 1.5 3.5 1.3 3.6 1 3.5 .7 3.5 .6 3.6 .2 3.5 0 3.6-.2 3.5-.5 3.6-.7 3.5-1 3.6-1.3 3.5-1.5 3.6-1.7 3.5-2 3.6-2.2 3.5-2.5 3.6-2.8 3.5-3 3.6-3.2 3.5-3.5 3.6-3.8 3.5-4 3.5-4.2 3.6-4.5 3.5-4.8 3.6-5 3.5-5.3 3.6-5.5 3.5-5.7-2.6-.8-3.6 5.8-3.5 5.5-3.6 5.2-3.5 5-3.6 4.8-3.5 4.5-3.6 4.3-3.5 4-3.6 3.7-3.5 3.5-3.6 3.3-3.5 3-3.5 2.7-3.6 2.5-3.5 2.2-3.6 2-3.5 1.8-3.6 1.5-3.5 1.2-3.6 1-3.5 .7-3.6 .5-3.5 .3-3.6 0-3.5-.3-3.6-.5-3.5-.8-3.6-1-3.5-1.3-3.6-1.5-3.5-1.8-3.6-2-3.5-2.3-3.5-2.5-3.6-2.8-3.5-3-3.6-3.3-3.5-3.5-3.6-3.8-3.5-4z"/>
<path transform="translate(-46.6 -19.8)" fill="url(#gS1)" stroke="url(#gS1)" d="M139.4 154.7l3.6 4.1 3.5 3.7 3.6 3.6 3.5 3.2 3.6 3.1 3.5 2.7 3.6 2.6 3.5 2.2 3.6 2.1 3.5 1.7 3.6 1.6 3.5 1.2 3.5 1 3.6 .8 3.5 .5 3.6 .3 3.5 0 3.6-.2 3.5-.5 3.6-.8 3.5-1 3.6-1.2 3.5-1.5 3.6-1.7 3.5-2 3.6-2.3 3.5-2.5 3.6-2.7 3.5-3 3.6-3.3 3.5-3.5 3.6-3.7 3.5-4 3.5-4.3 3.6-4.5 3.5-4.7 3.6-5 3.5-5.3 3.6-5.5 3.5-5.8-2.6-.5-3.6 5.8-3.5 5.5-3.6 5.3-3.5 5-3.6 4.7-3.5 4.5-3.6 4.3-3.5 4-3.6 3.7-3.5 3.5-3.6 3.3-3.5 3-3.5 2.7-3.6 2.5-3.5 2.3-3.6 2-3.5 1.7-3.6 1.5-3.5 1.2-3.6 1-3.5 .8-3.6 .5-3.5 .2-3.6 0-3.5-.3-3.6-.5-3.5-.8-3.6-1-3.5-1.2-3.6-1.6-3.5-1.7-3.6-2.1-3.5-2.2-3.5-2.6-3.6-2.7-3.5-3.1-3.6-3.2-3.5-3.6-3.6-3.7-3.5-4.1z"/>
<path transform="translate(-44 -18.7)" fill="url(#gS1)" stroke="url(#gS1)" d="M139.4 153.9l3.6 4 3.5 3.8 3.6 3.5 3.5 3.3 3.6 3 3.5 2.8 3.6 2.5 3.5 2.3 3.6 2 3.5 1.8 3.6 1.5 3.5 1.2 3.5 1.1 3.6 .7 3.5 .5 3.6 .3 3.5 0 3.6-.2 3.5-.5 3.6-.7 3.5-1 3.6-1.3 3.5-1.5 3.6-1.7 3.5-2 3.6-2.2 3.5-2.5 3.6-2.8 3.5-3 3.6-3.2 3.5-3.5 3.6-3.8 3.5-4 3.5-4.2 3.6-4.6 3.5-4.7 3.6-5 3.5-5.3 3.6-5.5 3.5-5.7-2.6-.3-3.6 5.8-3.5 5.5-3.6 5.2-3.5 5-3.6 4.8-3.5 4.5-3.6 4.2-3.5 4.1-3.6 3.7-3.5 3.5-3.6 3.3-3.5 3-3.5 2.7-3.6 2.5-3.5 2.2-3.6 2-3.5 1.8-3.6 1.5-3.5 1.2-3.6 1-3.5 .7-3.6 .5-3.5 .3-3.6 0-3.5-.3-3.6-.5-3.5-.8-3.6-1-3.5-1.3-3.6-1.5-3.5-1.8-3.6-2-3.5-2.3-3.5-2.5-3.6-2.8-3.5-3-3.6-3.3-3.5-3.5-3.6-3.8-3.5-4z"/>
<path transform="translate(-41.3 -17.6)" fill="url(#gS1)" stroke="url(#gS1)" d="M139.4 152.7l3.6 4.1 3.5 3.7 3.6 3.6 3.5 3.2 3.6 3.1 3.5 2.7 3.6 2.6 3.5 2.2 3.6 2.1 3.5 1.7 3.6 1.5 3.5 1.3 3.6 1 3.5 .8 3.5 .5 3.6 .3 3.5 0 3.6-.2 3.5-.5 3.6-.8 3.5-1 3.6-1.2 3.5-1.5 3.6-1.7 3.5-2 3.6-2.3 3.5-2.5 3.6-2.7 3.5-3 3.6-3.3 3.5-3.5 3.6-3.7 3.5-4 3.5-4.3 3.6-4.5 3.5-4.7 3.6-5 3.5-5.3 3.6-5.5 3.5-5.8-2.6 0-3.6 5.8-3.5 5.5-3.6 5.3-3.5 5-3.6 4.7-3.5 4.5-3.6 4.3-3.5 4-3.6 3.7-3.5 3.5-3.6 3.3-3.5 3-3.5 2.7-3.6 2.5-3.5 2.3-3.6 2-3.5 1.7-3.6 1.5-3.5 1.2-3.6 1-3.5 .8-3.6 .5-3.5 .2-3.6 0-3.5-.3-3.6-.5-3.5-.8-3.6-1-3.5-1.3-3.6-1.5-3.5-1.7-3.6-2.1-3.5-2.2-3.5-2.6-3.6-2.7-3.5-3.1-3.6-3.2-3.5-3.6-3.6-3.7-3.5-4.1z"/>
<path transform="translate(-38.6 -16.4)" fill="url(#gS0)" stroke="url(#gS0)" d="M139.4 151.3l3.6 4.1 3.5 3.8 3.6 3.5 3.5 3.3 3.6 3 3.5 2.8 3.6 2.5 3.5 2.3 3.6 2 3.5 1.7 3.6 1.6 3.5 1.2 3.6 1.1 3.5 .7 3.5 .5 3.6 .3 3.5 0 3.6-.2 3.5-.5 3.6-.8 3.5-.9 3.6-1.3 3.5-1.5 3.6-1.7 3.5-2 3.6-2.3 3.5-2.5 3.6-2.7 3.5-3 3.6-3.3 3.5-3.5 3.6-3.7 3.5-4 3.5-4.3 3.6-4.5 3.5-4.7 3.6-5 3.5-5.3 3.6-5.5 3.5-5.8-2.6 .3-3.6 5.8-3.5 5.5-3.6 5.2-3.5 5-3.6 4.8-3.5 4.5-3.6 4.2-3.5 4-3.6 3.8-3.5 3.5-3.6 3.2-3.5 3-3.5 2.8-3.6 2.5-3.5 2.2-3.6 2-3.5 1.8-3.6 1.5-3.5 1.2-3.6 1-3.5 .7-3.6 .5-3.5 .3-3.6-.1-3.5-.2-3.6-.5-3.5-.8-3.6-1-3.5-1.3-3.6-1.5-3.5-1.8-3.6-2-3.5-2.3-3.5-2.5-3.6-2.8-3.5-3-3.6-3.3-3.5-3.5-3.6-3.8-3.5-4z"/>
<path transform="translate(-36 -15.3)" fill="url(#gS0)" stroke="url(#gS0)" d="M139.4 149.7l3.6 4 3.5 3.8 3.6 3.6 3.5 3.2 3.6 3.1 3.5 2.7 3.6 2.6 3.5 2.2 3.6 2 3.5 1.8 3.6 1.5 3.5 1.3 3.5 1 3.6 .8 3.5 .5 3.6 .3 3.5 0 3.6-.3 3.5-.4 3.6-.8 3.5-1 3.6-1.2 3.5-1.5 3.6-1.8 3.5-1.9 3.6-2.3 3.5-2.5 3.6-2.7 3.5-3 3.6-3.3 3.5-3.5 3.6-3.7 3.5-4 3.5-4.3 3.6-4.5 3.5-4.8 3.6-5 3.5-5.2 3.6-5.5 3.5-5.8-2.6 .5-3.6 5.8-3.5 5.5-3.6 5.2-3.5 5-3.6 4.8-3.5 4.5-3.6 4.3-3.5 4-3.6 3.7-3.5 3.5-3.6 3.3-3.5 3-3.5 2.7-3.6 2.5-3.5 2.3-3.6 1.9-3.5 1.8-3.6 1.5-3.5 1.2-3.6 1-3.5 .8-3.6 .4-3.5 .3-3.6 0-3.5-.3-3.6-.5-3.5-.8-3.6-1-3.5-1.3-3.6-1.5-3.5-1.8-3.6-2-3.5-2.2-3.5-2.6-3.6-2.7-3.5-3.1-3.6-3.2-3.5-3.6-3.6-3.8-3.5-4z"/>
<path transform="translate(-33.3 -14.2)" fill="url(#gS0)" stroke="url(#gS0)" d="M139.4 147.8l3.6 4.1 3.5 3.7 3.6 3.6 3.5 3.2 3.6 3.1 3.5 2.7 3.6 2.6 3.5 2.2 3.6 2.1 3.5 1.7 3.6 1.6 3.5 1.2 3.6 1 3.5 .8 3.5 .5 3.6 .3 3.5 0 3.6-.2 3.5-.5 3.6-.8 3.5-1 3.6-1.2 3.5-1.5 3.6-1.7 3.5-2 3.6-2.3 3.5-2.5 3.6-2.7 3.5-3 3.6-3.3 3.5-3.5 3.6-3.7 3.5-4 3.5-4.3 3.6-4.5 3.5-4.7 3.6-5 3.5-5.3 3.6-5.5 3.5-5.8-2.6 .8-3.6 5.7-3.5 5.6-3.6 5.2-3.5 5-3.6 4.8-3.5 4.5-3.6 4.2-3.5 4-3.6 3.8-3.5 3.5-3.6 3.2-3.5 3-3.5 2.8-3.6 2.5-3.5 2.2-3.6 2-3.5 1.8-3.6 1.5-3.5 1.2-3.6 1-3.5 .7-3.6 .5-3.5 .2-3.6 0-3.5-.2-3.6-.5-3.5-.8-3.6-1-3.5-1.3-3.6-1.5-3.5-1.8-3.6-2-3.5-2.3-3.5-2.5-3.6-2.8-3.5-3-3.6-3.3-3.5-3.5-3.6-3.8-3.5-4z"/>
<path transform="translate(-30.6 -13)" fill="url(#gS0)" stroke="url(#gS0)" d="M139.4 145.7l3.6 4 3.5 3.8 3.6 3.5 3.5 3.3 3.6 3 3.5 2.8 3.6 2.5 3.5 2.3 3.6 2 3.5 1.8 3.6 1.5 3.5 1.3 3.6 1 3.5 .8 3.5 .5 3.6 .3 3.5 0 3.6-.3 3.5-.5 3.6-.7 3.5-1 3.6-1.2 3.5-1.5 3.6-1.8 3.5-2 3.6-2.2 3.5-2.5 3.6-2.8 3.5-2.9 3.6-3.3 3.5-3.5 3.6-3.8 3.5-4 3.5-4.2 3.6-4.5 3.5-4.8 3.6-5 3.5-5.2 3.6-5.5 3.5-5.8-2.6 1-3.6 5.8-3.5 5.5-3.6 5.2-3.5 5-3.6 4.8-3.5 4.5-3.6 4.2-3.5 4-3.6 3.8-3.5 3.5-3.6 3.3-3.5 2.9-3.5 2.8-3.6 2.5-3.5 2.2-3.6 2-3.5 1.8-3.6 1.5-3.5 1.2-3.6 1-3.5 .7-3.6 .5-3.5 .3-3.6 0-3.5-.3-3.6-.5-3.5-.8-3.6-1-3.5-1.3-3.6-1.5-3.5-1.8-3.6-2-3.5-2.3-3.5-2.5-3.6-2.8-3.5-3-3.6-3.3-3.5-3.5-3.6-3.8-3.5-4z"/>
<path transform="translate(-28 -11.9)" fill="url(#gS0)" stroke="url(#gS0)" d="M139.4 143.3l3.6 4 3.5 3.8 3.6 3.6 3.5 3.2 3.6 3.1 3.5 2.7 3.6 2.6 3.5 2.2 3.6 2 3.5 1.8 3.6 1.5 3.5 1.3 3.5 1 3.6 .8 3.5 .5 3.6 .3 3.5 0 3.6-.3 3.5-.4 3.6-.8 3.5-1 3.6-1.2 3.5-1.5 3.6-1.8 3.5-1.9 3.6-2.3 3.5-2.5 3.6-2.7 3.5-3 3.6-3.3 3.5-3.5 3.6-3.7 3.5-4 3.5-4.3 3.6-4.5 3.5-4.8 3.6-5 3.5-5.2 3.6-5.5 3.5-5.8-2.6 1.3-3.6 5.7-3.5 5.5-3.6 5.3-3.5 5-3.6 4.8-3.5 4.5-3.6 4.2-3.5 4-3.6 3.8-3.5 3.5-3.6 3.2-3.5 3-3.5 2.8-3.6 2.5-3.5 2.2-3.6 2-3.5 1.7-3.6 1.5-3.5 1.3-3.6 1-3.5 .7-3.6 .5-3.5 .2-3.6 0-3.5-.2-3.6-.6-3.5-.7-3.6-1-3.5-1.3-3.6-1.5-3.5-1.8-3.6-2-3.5-2.3-3.5-2.5-3.6-2.8-3.5-3-3.6-3.3-3.5-3.5-3.6-3.8-3.5-4z"/>
<path transform="translate(-25.3 -10.8)" fill="url(#gS0)" stroke="url(#gS0)" d="M139.4 140.7l3.6 4 3.5 3.8 3.6 3.5 3.5 3.3 3.6 3 3.5 2.8 3.6 2.5 3.5 2.3 3.6 2 3.5 1.8 3.6 1.5 3.5 1.3 3.6 1 3.5 .8 3.5 .5 3.6 .2 3.5 0 3.6-.2 3.5-.5 3.6-.7 3.5-1 3.6-1.3 3.5-1.4 3.6-1.8 3.5-2 3.6-2.2 3.5-2.5 3.6-2.8 3.5-3 3.6-3.2 3.5-3.5 3.6-3.8 3.5-4 3.5-4.2 3.6-4.5 3.5-4.8 3.6-5 3.5-5.3 3.6-5.5 3.5-5.7-2.6 1.5-3.6 5.7-3.5 5.6-3.6 5.2-3.5 5-3.6 4.8-3.5 4.5-3.6 4.2-3.5 4-3.6 3.8-3.5 3.5-3.6 3.2-3.5 3-3.5 2.8-3.6 2.5-3.5 2.2-3.6 2-3.5 1.8-3.6 1.5-3.5 1.2-3.6 1-3.5 .7-3.6 .5-3.5 .2-3.6 0-3.5-.2-3.6-.5-3.5-.8-3.6-1-3.5-1.3-3.6-1.5-3.5-1.8-3.6-2-3.5-2.3-3.5-2.5-3.6-2.8-3.5-3-3.6-3.3-3.5-3.5-3.6-3.8-3.5-4z"/>
<path transform="translate(-22.7 -9.6)" fill="url(#gS0)" stroke="url(#gS0)" d="M139.4 137.8l3.6 4 3.5 3.8 3.6 3.5 3.5 3.3 3.6 3 3.5 2.8 3.6 2.5 3.5 2.3 3.6 2 3.5 1.8 3.6 1.5 3.5 1.3 3.6 1 3.5 .8 3.5 .5 3.6 .2 3.5 .1 3.6-.3 3.5-.5 3.6-.7 3.5-1 3.6-1.2 3.5-1.5 3.6-1.8 3.5-2 3.6-2.2 3.5-2.5 3.6-2.8 3.5-3 3.6-3.2 3.5-3.5 3.6-3.8 3.5-4 3.5-4.2 3.6-4.5 3.5-4.8 3.6-5 3.5-5.2 3.6-5.5 3.5-5.8-2.6 1.7-3.6 5.8-3.5 5.5-3.6 5.3-3.5 5-3.6 4.7-3.5 4.5-3.6 4.3-3.5 4-3.6 3.7-3.5 3.5-3.6 3.3-3.5 3-3.5 2.7-3.6 2.5-3.5 2.3-3.6 2-3.5 1.7-3.6 1.5-3.5 1.3-3.6 .9-3.5 .8-3.6 .5-3.5 .2-3.6 0-3.5-.3-3.6-.5-3.5-.7-3.6-1.1-3.5-1.2-3.6-1.6-3.5-1.7-3.6-2-3.5-2.3-3.5-2.5-3.6-2.8-3.5-3-3.6-3.3-3.5-3.5-3.6-3.8-3.5-4.1z"/>
<path transform="translate(-20 -8.5)" fill="url(#gS0)" stroke="url(#gS0)" d="M139.4 134.7l3.6 4 3.5 3.8 3.6 3.5 3.5 3.3 3.6 3 3.5 2.8 3.6 2.5 3.5 2.3 3.6 2 3.5 1.8 3.6 1.5 3.5 1.2 3.6 1.1 3.5 .7 3.5 .5 3.6 .3 3.5 0 3.6-.2 3.5-.5 3.6-.7 3.5-1 3.6-1.3 3.5-1.5 3.6-1.7 3.5-2 3.6-2.3 3.5-2.4 3.6-2.8 3.5-3 3.6-3.2 3.5-3.5 3.6-3.8 3.5-4 3.5-4.3 3.6-4.5 3.5-4.7 3.6-5 3.5-5.3 3.6-5.5 3.5-5.7-2.6 2-3.6 5.7-3.5 5.5-3.6 5.3-3.5 5-3.6 4.7-3.5 4.6-3.6 4.2-3.5 4-3.6 3.8-3.5 3.5-3.6 3.2-3.5 3-3.5 2.8-3.6 2.5-3.5 2.2-3.6 2-3.5 1.7-3.6 1.5-3.5 1.3-3.6 1-3.5 .7-3.6 .5-3.5 .2-3.6 0-3.5-.3-3.6-.5-3.5-.7-3.6-1.1-3.5-1.2-3.6-1.5-3.5-1.8-3.6-2-3.5-2.3-3.5-2.5-3.6-2.8-3.5-3-3.6-3.3-3.5-3.5-3.6-3.8-3.5-4z"/>
<path transform="translate(-17.3 -7.4)" fill="url(#gS0)" stroke="url(#gS0)" d="M139.4 131.3l3.6 4 3.5 3.8 3.6 3.5 3.5 3.3 3.6 3 3.5 2.8 3.6 2.5 3.5 2.3 3.6 2 3.5 1.8 3.6 1.5 3.5 1.3 3.5 1 3.6 .7 3.5 .6 3.6 .2 3.5 0 3.6-.2 3.5-.5 3.6-.7 3.5-1 3.6-1.3 3.5-1.5 3.6-1.7 3.5-2 3.6-2.2 3.5-2.5 3.6-2.8 3.5-3 3.6-3.2 3.5-3.5 3.6-3.8 3.5-4 3.5-4.2 3.6-4.5 3.5-4.8 3.6-5 3.5-5.3 3.6-5.5 3.5-5.7-2.6 2.2-3.6 5.8-3.5 5.5-3.6 5.2-3.5 5.1-3.6 4.7-3.5 4.5-3.6 4.3-3.5 4-3.6 3.7-3.5 3.5-3.6 3.3-3.5 3-3.5 2.7-3.6 2.5-3.5 2.3-3.6 2-3.5 1.7-3.6 1.5-3.5 1.2-3.6 1-3.5 .8-3.6 .5-3.5 .2-3.6 0-3.5-.3-3.6-.5-3.5-.8-3.6-1-3.5-1.3-3.6-1.5-3.5-1.7-3.6-2.1-3.5-2.2-3.5-2.6-3.6-2.7-3.5-3.1-3.6-3.2-3.5-3.6-3.6-3.7-3.5-4.1z"/>
<path transform="translate(-14.7 -6.2)" fill="url(#gS0)" stroke="url(#gS0)" d="M139.4 127.6l3.6 4.1 3.5 3.7 3.6 3.6 3.5 3.2 3.6 3.1 3.5 2.7 3.6 2.6 3.5 2.2 3.6 2.1 3.5 1.7 3.6 1.5 3.5 1.3 3.6 1 3.5 .8 3.5 .5 3.6 .3 3.5 0 3.6-.2 3.5-.5 3.6-.8 3.5-1 3.6-1.2 3.5-1.5 3.6-1.7 3.5-2 3.6-2.3 3.5-2.5 3.6-2.7 3.5-3 3.6-3.3 3.5-3.5 3.6-3.7 3.5-4 3.5-4.3 3.6-4.5 3.5-4.7 3.6-5 3.5-5.3 3.6-5.5 3.5-5.8-2.6 2.5-3.6 5.8-3.5 5.5-3.6 5.3-3.5 5-3.6 4.7-3.5 4.5-3.6 4.3-3.5 4-3.6 3.7-3.5 3.5-3.6 3.3-3.5 3-3.5 2.7-3.6 2.5-3.5 2.3-3.6 2-3.5 1.7-3.6 1.5-3.5 1.2-3.6 1-3.5 .8-3.6 .5-3.5 .2-3.6 0-3.5-.3-3.6-.5-3.5-.8-3.6-1-3.5-1.2-3.6-1.6-3.5-1.7-3.6-2.1-3.5-2.2-3.5-2.6-3.6-2.7-3.5-3.1-3.6-3.2-3.5-3.6-3.6-3.7-3.5-4.1z"/>
<path transform="translate(-12 -5.1)" fill="url(#gS0)" stroke="url(#gS0)" d="M139.4 123.7l3.6 4.1 3.5 3.7 3.6 3.6 3.5 3.3 3.6 3 3.5 2.8 3.6 2.5 3.5 2.2 3.6 2.1 3.5 1.7 3.6 1.6 3.5 1.2 3.6 1 3.5 .8 3.5 .5 3.6 .3 3.5 0 3.6-.2 3.5-.5 3.6-.8 3.5-1 3.6-1.2 3.5-1.5 3.6-1.7 3.5-2 3.6-2.3 3.5-2.5 3.6-2.7 3.5-3 3.6-3.3 3.5-3.5 3.6-3.7 3.5-4 3.5-4.3 3.6-4.5 3.5-4.7 3.6-5 3.5-5.3 3.6-5.5 3.5-5.8-2.6 2.8-3.6 5.8-3.5 5.5-3.6 5.2-3.5 5-3.6 4.8-3.5 4.5-3.6 4.2-3.5 4-3.6 3.8-3.5 3.5-3.6 3.2-3.5 3-3.5 2.8-3.6 2.5-3.5 2.2-3.6 2-3.5 1.8-3.6 1.5-3.5 1.2-3.6 1-3.5 .7-3.6 .5-3.5 .3-3.6-.1-3.5-.2-3.6-.5-3.5-.8-3.6-1-3.5-1.3-3.6-1.5-3.5-1.8-3.6-2-3.5-2.3-3.5-2.5-3.6-2.8-3.5-3-3.6-3.3-3.5-3.5-3.6-3.8-3.5-4z"/>
<path transform="translate(-9.3 -4)" fill="url(#gS0)" stroke="url(#gS0)" d="M139.4 119.6l3.6 4 3.5 3.8 3.6 3.5 3.5 3.3 3.6 3 3.5 2.8 3.6 2.5 3.5 2.3 3.6 2 3.5 1.8 3.6 1.5 3.5 1.3 3.5 1 3.6 .8 3.5 .5 3.6 .2 3.5 .1 3.6-.3 3.5-.5 3.6-.7 3.5-1 3.6-1.2 3.5-1.5 3.6-1.8 3.5-2 3.6-2.2 3.5-2.5 3.6-2.8 3.5-3 3.6-3.2 3.5-3.5 3.6-3.8 3.5-4 3.5-4.2 3.6-4.5 3.5-4.8 3.6-5 3.5-5.2 3.6-5.5 3.5-5.8-2.6 3-3.6 5.8-3.5 5.5-3.6 5.2-3.5 5-3.6 4.8-3.5 4.5-3.6 4.3-3.5 4-3.6 3.7-3.5 3.5-3.6 3.3-3.5 3-3.5 2.7-3.6 2.5-3.5 2.2-3.6 2-3.5 1.8-3.6 1.5-3.5 1.2-3.6 1-3.5 .7-3.6 .5-3.5 .3-3.6 0-3.5-.3-3.6-.5-3.5-.8-3.6-1-3.5-1.3-3.6-1.5-3.5-1.8-3.6-2-3.5-2.3-3.5-2.5-3.6-2.8-3.5-3-3.6-3.3-3.5-3.5-3.6-3.8-3.5-4z"/>
<path transform="translate(-6.7 -2.8)" fill="url(#gS0)" stroke="url(#gS0)" d="M139.4 115.2l3.6 4 3.5 3.8 3.6 3.5 3.5 3.3 3.6 3 3.5 2.8 3.6 2.5 3.5 2.3 3.6 2 3.5 1.8 3.6 1.5 3.5 1.3 3.5 1 3.6 .8 3.5 .5 3.6 .3 3.5 0 3.6-.3 3.5-.5 3.6-.7 3.5-1 3.6-1.2 3.5-1.5 3.6-1.8 3.5-2 3.6-2.2 3.5-2.5 3.6-2.7 3.5-3 3.6-3.3 3.5-3.5 3.6-3.7 3.5-4.1 3.5-4.2 3.6-4.5 3.5-4.8 3.6-5 3.5-5.2 3.6-5.5 3.5-5.8-2.6 3.3-3.6 5.7-3.5 5.5-3.6 5.3-3.5 5-3.6 4.8-3.5 4.5-3.6 4.2-3.5 4-3.6 3.8-3.5 3.5-3.6 3.2-3.5 3-3.5 2.8-3.6 2.5-3.5 2.2-3.6 2-3.5 1.7-3.6 1.5-3.5 1.3-3.6 1-3.5 .7-3.6 .5-3.5 .2-3.6 0-3.5-.2-3.6-.6-3.5-.7-3.6-1-3.5-1.3-3.6-1.5-3.5-1.8-3.6-2-3.5-2.3-3.5-2.5-3.6-2.8-3.5-3-3.6-3.3-3.5-3.5-3.6-3.8-3.5-4z"/>
<path transform="translate(-4 -1.7)" fill="url(#gS0)" stroke="url(#gS0)" d="M139.4 110.6l3.6 4 3.5 3.8 3.6 3.5 3.5 3.3 3.6 3 3.5 2.8 3.6 2.5 3.5 2.3 3.6 2 3.5 1.8 3.6 1.5 3.5 1.2 3.6 1.1 3.5 .7 3.5 .5 3.6 .3 3.5 0 3.6-.2 3.5-.5 3.6-.7 3.5-1 3.6-1.3 3.5-1.5 3.6-1.7 3.5-2 3.6-2.2 3.5-2.5 3.6-2.8 3.5-3 3.6-3.2 3.5-3.5 3.6-3.8 3.5-4 3.5-4.2 3.6-4.6 3.5-4.7 3.6-5 3.5-5.3 3.6-5.5 3.5-5.7-2.6 3.5-3.6 5.7-3.5 5.5-3.6 5.3-3.5 5-3.6 4.8-3.5 4.5-3.6 4.2-3.5 4-3.6 3.8-3.5 3.5-3.6 3.2-3.5 3-3.5 2.8-3.6 2.5-3.5 2.2-3.6 2-3.5 1.7-3.6 1.5-3.5 1.3-3.6 1-3.5 .7-3.6 .5-3.5 .2-3.6 0-3.5-.2-3.6-.6-3.5-.7-3.6-1-3.5-1.3-3.6-1.5-3.5-1.8-3.6-2-3.5-2.3-3.5-2.5-3.6-2.8-3.5-3-3.6-3.3-3.5-3.5-3.6-3.8-3.5-4z"/>
<path transform="translate(-1.3 -.6)" fill="url(#gS0)" stroke="url(#gS0)" d="M139.4 105.7l3.6 4 3.5 3.8 3.6 3.5 3.5 3.3 3.6 3 3.5 2.8 3.6 2.5 3.5 2.3 3.6 2 3.5 1.8 3.6 1.5 3.5 1.3 3.6 1 3.5 .7 3.5 .6 3.6 .2 3.5 0 3.6-.2 3.5-.5 3.6-.7 3.5-1 3.6-1.3 3.5-1.5 3.6-1.7 3.5-2 3.6-2.2 3.5-2.5 3.6-2.8 3.5-3 3.6-3.2 3.5-3.5 3.6-3.8 3.5-4 3.5-4.2 3.6-4.5 3.5-4.8 3.6-5 3.5-5.3 3.6-5.5 3.5-5.7-2.6 3.7-3.6 5.8-3.5 5.5-3.6 5.3-3.5 5-3.6 4.7-3.5 4.5-3.6 4.3-3.5 4-3.6 3.7-3.5 3.5-3.6 3.3-3.5 3-3.5 2.7-3.6 2.5-3.5 2.3-3.6 2-3.5 1.7-3.6 1.5-3.5 1.2-3.6 1-3.5 .8-3.6 .5-3.5 .2-3.6 0-3.5-.3-3.6-.5-3.5-.8-3.6-1-3.5-1.3-3.6-1.5-3.5-1.7-3.6-2.1-3.5-2.2-3.5-2.6-3.6-2.7-3.5-3.1-3.6-3.2-3.5-3.6-3.6-3.7-3.5-4.1z"/>
</g>
<path d="M31.5 160.2L31.5 59.8M31.5 160.2L138.1 205.5M138.1 205.5L280 170.9M31.5 160.2h-2M31.5 135.1h-2M31.5 110h-2M31.5 84.9h-2M31.5 59.8h-2M138.1 205.5l-1.6 1.2M111.4 194.2l-1.6 1.2M84.8 182.8l-1.6 1.2M58.2 171.5l-1.6 1.2M31.5 160.2l-1.6 1.2M138.1 205.5l1.4 1.4M173.6 196.8l1.4 1.4M209.1 188.2l1.4 1.4M244.5 179.6l1.4 1.4M280 170.9l1.4 1.4" fill="none" stroke="#606060" stroke-width=".6"/>
<text x="25.5" y="162.8" font-size="7.3" text-anchor="end" fill="#262626">0</text>
<text x="25.5" y="137.7" font-size="7.3" text-anchor="end" fill="#262626">0.5</text>
<text x="25.5" y="112.6" font-size="7.3" text-anchor="end" fill="#262626">1</text>
<text x="25.5" y="87.5" font-size="7.3" text-anchor="end" fill="#262626">1.5</text>
<text x="25.5" y="62.4" font-size="7.3" text-anchor="end" fill="#262626">2</text>
<text x="131.7" y="215.4" font-size="7.3" text-anchor="end" fill="#262626">-100</text>
<text x="105" y="204.1" font-size="7.3" text-anchor="end" fill="#262626">-50</text>
<text x="78.4" y="192.8" font-size="7.3" text-anchor="end" fill="#262626">0</text>
<text x="51.8" y="181.5" font-size="7.3" text-anchor="end" fill="#262626">50</text>
<text x="25.1" y="170.1" font-size="7.3" text-anchor="end" fill="#262626">100</text>
<text x="144.4" y="216" font-size="7.3" text-anchor="start" fill="#262626">-100</text>
<text x="179.9" y="207.4" font-size="7.3" text-anchor="start" fill="#262626">-50</text>
<text x="215.4" y="198.7" font-size="7.3" text-anchor="start" fill="#262626">0</text>
<text x="250.8" y="190.1" font-size="7.3" text-anchor="start" fill="#262626">50</text>
<text x="286.3" y="181.4" font-size="7.3" text-anchor="start" fill="#262626">100</text>
<text x="10.8" y="47.9" font-size="7.1" fill="#262626">×10<tspan dy="-3" font-size="5.2">4</tspan></text>
<defs>
<linearGradient id="gG" gradientUnits="userSpaceOnUse" x1="132.30" y1="657.30" x2="107.70" y2="563.13"><stop offset="0%" stop-color="#b6adde"/><stop offset="6.2%" stop-color="#b8b3ee"/><stop offset="12.5%" stop-color="#b9baf8"/><stop offset="18.8%" stop-color="#b9c2fe"/><stop offset="25%" stop-color="#b3cbff"/><stop offset="31.2%" stop-color="#afd3fb"/><stop offset="37.5%" stop-color="#acdaf6"/><stop offset="43.8%" stop-color="#a7e0f1"/><stop offset="50%" stop-color="#9fe5e8"/><stop offset="56.2%" stop-color="#aee8de"/><stop offset="62.5%" stop-color="#b9ebd2"/><stop offset="68.8%" stop-color="#cbecc3"/><stop offset="75%" stop-color="#e0eab3"/><stop offset="81.2%" stop-color="#f1e6ad"/><stop offset="87.5%" stop-color="#fee6b5"/><stop offset="93.8%" stop-color="#feeeb0"/><stop offset="100%" stop-color="#fbf7ac"/></linearGradient>
<linearGradient id="gGs" gradientUnits="userSpaceOnUse" x1="132.30" y1="657.30" x2="107.70" y2="563.13"><stop offset="0%" stop-color="#513cb1"/><stop offset="6.2%" stop-color="#574ad7"/><stop offset="12.5%" stop-color="#5a5cef"/><stop offset="18.8%" stop-color="#586ffc"/><stop offset="25%" stop-color="#4c83fe"/><stop offset="31.2%" stop-color="#4297f5"/><stop offset="37.5%" stop-color="#3aa8e9"/><stop offset="43.8%" stop-color="#2db7dd"/><stop offset="50%" stop-color="#1cc1c9"/><stop offset="56.2%" stop-color="#40c9b1"/><stop offset="62.5%" stop-color="#58d094"/><stop offset="68.8%" stop-color="#84d170"/><stop offset="75%" stop-color="#b5cc4c"/><stop offset="81.2%" stop-color="#dec43e"/><stop offset="87.5%" stop-color="#fcc350"/><stop offset="93.8%" stop-color="#fcd644"/><stop offset="100%" stop-color="#f6ec3a"/></linearGradient>
</defs>
<path d="M24.5 609.9L24.5 509.3M132.3 657.3L24.5 609.9M59.7 600.7L59.7 500.1M167.5 648.1L59.7 600.7M94.9 591.5L94.9 490.9M202.7 638.9L94.9 591.5M130.1 582.3L130.1 481.7M237.9 629.7L130.1 582.3M272.8 620.6L272.8 520M132.3 657.3L272.8 620.6M245.8 608.7L245.8 508.1M105.3 645.4L245.8 608.7M218.8 596.8L218.8 496.2M78.3 633.5L218.8 596.8M191.7 585L191.7 484.4M51.2 621.7L191.7 585M24.5 609.9L165 573.2M165 573.2L272.8 620.6M24.5 585.9L165 549.2M165 549.2L272.8 596.6M24.5 562L165 525.3M165 525.3L272.8 572.7M24.5 538L165 501.3M165 501.3L272.8 548.7M24.5 514.1L165 477.4M165 477.4L272.8 524.8M24.5 509.3L165 472.6M165 472.6L272.8 520M165 573.2L165 472.6M272.8 620.6L272.8 520M24.5 609.9L165 573.2M165 573.2L272.8 620.6" fill="none" stroke="#ececec" stroke-width=".6"/>
<filter id="fs" x="0" y="0" width="1" height="1"><feColorMatrix type="saturate" values="1.55"/></filter>
<g filter="url(#fs)"><use href="#cG" transform="matrix(0.7025 -0.1835 0.6919 0.3042 -552.80 521.75)"/></g>
<g fill="url(#gG)" stroke="url(#gGs)" stroke-width="0.4" stroke-linejoin="round">
<g transform="translate(-107 -47.1)"><path d="M133.1 609.3l1.3 6.4 1.3 4.3 1.3 1.6 1.3-1.3 1.3-4.1 1.3-6.3 3.9-23.3 1.3-5.8 1.3-3.4 1.3-.5 1.3 2.3 1.3 4.9 3.9 21.9 1.3 6.3 1.3 4.3 1.3 1.6 1.3-1.4 1.3-4.1 1.3-6.3 3.9-23.5 1.3-5.9 1.3-3.4 1.3-.7 1.3 2.3 1.3 4.8 3.9 21.8 1.3 6.3 1.3 4.2 1.3 1.5 1.3-1.3 1.3-4.2 1.3-6.4 3.9-23.7 1.3-5.9 1.3-3.5 1.3-.7 1.3 2.2 1.3 4.7 3.9 21.6 1.3 6.2 1.3 4.2 1.3 1.5 1.3-1.4 1.3-4.2 1.3-6.4 3.9-23.8 1.3-6 1.3-3.7 1.3-.7 1.3 2.1 1.3 4.7 3.9 21.4 1.3 6.2 1.3 4.1 1.3 1.5 1.3-1.5 1.3-4.2 1.3-6.5 3.9-24 1.3-6 1.3-3.7 1.3-.9 1.3 2.1 1.3 4.6 3.9 21.2 1.3 6.1 1.4 4.2 1.3 1.4 1.3-1.5 1.3-4.2 1.3-6.6 3.9-24.1 1.3-6.2 1.3-3.7 1.3-1 1.3 2 1.3 4.5 3.9 21.1 1.3 6.1 1.3 4.1 1.3 1.4 1.3-1.6 1.3-4.3 1.3-6.5-1.6-10.2-1.3 1.4-1.3 1.1-1.3 .6-1.3 .3-1.3-.2-1.3-.5-3.9-1.8-1.3-.2-1.3 .1-1.3 .6-1.3 .9-1.3 1.3-5.2 6.1-1.3 1-1.3 .6-1.3 .2-1.3-.3-5.2-2.5-1.3-.3-1.3 .1-1.3 .5-1.3 .9-1.3 1.2-5.2 5.9-1.3 .9-1.3 .6-1.3 .1-1.3-.3-5.2-2.7-1.3-.4-1.3 .1-1.3 .4-1.3 .8-1.3 1.2-5.2 5.6-1.3 .9-1.3 .5-1.3 .1-1.3-.3-5.2-3-1.3-.4-1.3 0-1.3 .3-1.3 .8-1.3 1.1-5.2 5.4-1.3 .9-1.3 .4-1.3 0-1.3-.4-5.2-3.1-1.3-.5-1.3-.1-1.3 .3-1.3 .7-1.3 1.1-5.2 5.2-1.4 .8-1.3 .4-1.3-.1-1.3-.4-5.2-3.4-1.3-.5-1.3-.2-1.3 .3-1.3 .6-1.3 1-3.9 3.9-1.3 1.1-1.3 .7-1.3 .4-1.3-.1-1.3-.5-1.3-.8z"/><path fill="none" d="M131.5 600.8l4.2 19.2 1-18.2 4.2 8.1 1-12.5 4.2-16.6 1 13.4 4.2-10.1 1 12.6 4.2 15.6 1-13.5 4.2 13.9 1.1-17.6 4.1-12.2 1.1 7.7 4.1-15.4 1.1 16.4 4.1 10.2 1.1-7.4 4.1 18.1 1.1-20.6 4.1-6.1 1.1 .8 4.1-18.5 1.1 17.8 4.1 3.3 1.1-.3 4.1 19.6 1.1-20.8 4.1 .9 1.1-6.5 4.1-19.1 1.1 16.6 4.1-4 1.1 6.5 4.1 18.7 1.1-18.5 4.1 7.8 1.1-13.1 4.1-16.9 1.1 12.8 4.1-10.7 1.1 12.2 4.1 15.1 1.1-13.8 4.2 13.7 1-18.2 4.2-12.5 1 7.1 4.2-16 1 16.1 4.2 9.5 1-7.6 4.2 17.6 1-21"/></g>
<g transform="translate(-105.5 -46.4)"><path d="M133.1 615.7l1.3 10.9 1.3 7.4 1.3 2.9 1.3-2.1 1.3-6.8 1.3-10.6 3.9-39.1 1.3-9.7 1.3-5.6 1.3-.8 1.3 4.1 1.3 8.5 3.9 37.6 1.3 10.8 1.3 7.4 1.3 2.9 1.3-2.2 1.3-6.8 1.3-10.6 3.9-39.3 1.3-9.7 1.3-5.7 1.3-.9 1.3 4 1.3 8.4 3.9 37.4 1.3 10.8 1.3 7.4 1.3 2.8 1.3-2.1 1.3-6.9 1.3-10.6 3.9-39.5 1.3-9.8 1.3-5.8 1.3-1 1.3 4 1.3 8.2 3.9 37.3 1.3 10.8 1.3 7.3 1.3 2.8 1.3-2.2 1.3-6.8 1.3-10.7 3.9-39.6 1.3-9.9 1.3-5.9 1.3-1.1 1.3 3.9 1.3 8.2 3.9 37 1.3 10.8 1.3 7.3 1.3 2.7 1.3-2.1 1.3-6.9 1.3-10.7 3.9-39.8 1.3-10 1.3-6 1.3-1.1 1.3 3.7 1.3 8.1 3.9 36.9 1.3 10.7 1.4 7.3 1.3 2.8 1.3-2.2 1.3-6.9 1.3-10.8 3.9-39.9 1.3-10.1 1.3-6.1 1.3-1.2 1.3 3.6 1.3 8.1 3.9 36.6 1.3 10.7 1.3 7.3 1.3 2.7 1.3-2.2 1.3-6.9 1.3-10.8-1.6-8.4-1.3 6.6-1.3 4.3-1.3 1.5-1.3-1.4-1.3-4.1-1.3-6.1-3.9-21.1-1.3-4.5-1.3-2-1.3 1-1.3 3.7-1.3 6.2-3.9 24.1-1.3 6.6-1.3 4.2-1.3 1.5-1.3-1.4-1.3-4.1-1.3-6.2-3.9-21.2-1.3-4.6-1.3-2.1-1.3 .9-1.3 3.7-1.3 6.1-3.9 24-1.3 6.4-1.3 4.3-1.3 1.4-1.3-1.5-1.3-4.1-1.3-6.2-3.9-21.4-1.3-4.7-1.3-2.1-1.3 .8-1.3 3.6-1.3 6-3.9 23.8-1.3 6.5-1.3 4.1-1.3 1.4-1.3-1.5-1.3-4.1-1.3-6.3-3.9-21.6-1.3-4.7-1.3-2.2-1.3 .7-1.3 3.5-1.3 6-3.9 23.6-1.3 6.4-1.3 4.2-1.3 1.3-1.3-1.5-1.3-4.2-1.3-6.3-3.9-21.8-1.3-4.8-1.3-2.2-1.3 .6-1.3 3.4-1.3 5.9-3.9 23.5-1.3 6.4-1.4 4.1-1.3 1.3-1.3-1.6-1.3-4.2-1.3-6.4-3.9-21.9-1.3-4.9-1.3-2.3-1.3 .5-1.3 3.4-1.3 5.8-3.9 23.3-1.3 6.3-1.3 4.1-1.3 1.3-1.3-1.6-1.3-4.3-1.3-6.4z"/><path fill="none" d="M133.1 615.7l1 3.6 4.2 15.5 1-25.6 4.2-18.4 1-10.7 4.2-17.9 1 21.2 4.2 16.1 1 12.2 4.2 21.8 1.1-21.4 4.1-11.2 1.1-18.7 4.1-23 1.1 15.3 4.1 7.7 1.1 18.9 4.1 25.2 1.1-14.5 4.1-2.3 1.1-24.3 4.1-25 1.1 7.2 4.1-1.8 1.1 22.9 4.1 25.2 1.1-5.9 4.1 7 1.1-26.9 4.1-23.4 1.1-2.1 4.1-10.9 1.1 23.4 4.1 21.8 1.1 3.4 4.1 15.3 1.1-25.9 4.1-18.7 1.1-11.4 4.1-18.5 1.1 20.6 4.1 15.4 1.1 12 4.2 21.5 1-21.7 4.2-11.4 1-19.3 4.2-23.6 1 14.7 4.2 7 1 18.6 4.2 24.8 1-14.7 4.2-2.5"/></g>
<g transform="translate(-104 -45.7)"><path d="M133.1 619.7l1.3 13.7 1.3 9.2 1.3 3.7 1.3-2.6 1.3-8.4 1.3-13.2 3.9-48.7 1.3-12.1 1.3-6.9 1.3-1 1.3 5.2 1.3 10.6 3.9 47.1 1.3 13.7 1.3 9.2 1.3 3.6 1.3-2.5 1.3-8.5 1.3-13.2 3.9-48.9 1.3-12.1 1.3-7.1 1.3-1 1.3 5.1 1.3 10.5 3.9 46.9 1.3 13.7 1.3 9.2 1.3 3.6 1.3-2.6 1.3-8.5 1.3-13.2 3.9-49.1 1.3-12.2 1.3-7.1 1.3-1.2 1.3 5 1.3 10.4 3.9 46.8 1.3 13.6 1.3 9.2 1.3 3.6 1.3-2.6 1.3-8.5 1.3-13.2 3.9-49.3 1.3-12.3 1.3-7.3 1.3-1.2 1.3 4.9 1.3 10.3 3.9 46.6 1.3 13.6 1.3 9.2 1.3 3.5 1.3-2.6 1.3-8.5 1.3-13.2 3.9-49.5 1.3-12.4 1.3-7.3 1.3-1.3 1.3 4.8 1.3 10.2 3.9 46.4 1.3 13.5 1.4 9.2 1.3 3.5 1.3-2.6 1.3-8.5 1.3-13.3 3.9-49.6 1.3-12.5 1.3-7.4 1.3-1.4 1.3 4.7 1.3 10.1 3.9 46.2 1.3 13.5 1.3 9.2 1.3 3.5 1.3-2.6 1.3-8.6 1.3-13.3-1.6-5.5-1.3 10.8-1.3 6.9-1.3 2.2-1.3-2.7-1.3-7.2-1.3-10.7-3.9-36.7-1.3-8-1.3-3.7-1.3 1.2-1.3 6.1-1.3 10.1-3.9 39.9-1.3 10.8-1.3 6.9-1.3 2.2-1.3-2.8-1.3-7.2-1.3-10.8-3.9-36.8-1.3-8.1-1.3-3.8-1.3 1.2-1.3 5.9-1.3 10-3.9 39.8-1.3 10.7-1.3 6.9-1.3 2.2-1.3-2.8-1.3-7.3-1.3-10.8-3.9-37-1.3-8.2-1.3-3.8-1.3 1-1.3 5.9-1.3 9.9-3.9 39.6-1.3 10.7-1.3 6.9-1.3 2.1-1.3-2.8-1.3-7.3-1.3-10.8-3.9-37.2-1.3-8.3-1.3-3.9-1.3 .9-1.3 5.8-1.3 9.9-3.9 39.4-1.3 10.7-1.3 6.8-1.3 2.1-1.3-2.8-1.3-7.3-1.3-10.9-3.9-37.4-1.3-8.3-1.3-4.1-1.3 .9-1.3 5.7-1.3 9.8-3.9 39.3-1.3 10.6-1.4 6.8-1.3 2.1-1.3-2.9-1.3-7.3-1.3-10.9-3.9-37.6-1.3-8.4-1.3-4.1-1.3 .7-1.3 5.6-1.3 9.7-3.9 39.1-1.3 10.6-1.3 6.8-1.3 2.1-1.3-2.9-1.3-7.4-1.3-10.9z"/><path fill="none" d="M131.5 615l4.2 27.6 1-8.5 4.2-12 1-32 4.2-28.8 1 .3 4.2 7.6 1 29.6 4.2 31.2 1 2.8 4.2-1 1.1-31.6 4.1-30.5 1.1-11.2 4.1-3.9 1.1 26.9 4.1 30.5 1.1 13.6 4.1 10.3 1.1-27.1 4.1-27.9 1.1-21.4 4.1-14.9 1.1 20.4 4.1 25.7 1.1 22.3 4.1 20.2 1.1-19.1 4.1-21.5 1.1-28.8 4.1-23.8 1.1 10.8 4.1 17.5 1.1 27.7 4.1 27.4 1.1-8.7 4.1-12.1 1.1-32.5 4.1-29.4 1.1-.5 4.1 6.9 1.1 29.1 4.1 30.8 1.1 2.7 4.2-1.1 1-31.9 4.2-31 1-12 4.2-4.6 1 26.3 4.2 30 1 13.4 4.2 10.2 1-27.4"/></g>
<g transform="translate(-102.4 -45)"><path d="M133.1 620.7l1.3 14.2 1.3 9.6 1.3 3.8 1.3-2.7 1.3-8.7 1.3-13.7 3.9-50.6 1.3-12.5 1.3-7.3 1.3-.9 1.3 5.4 1.3 11 3.9 49 1.3 14.2 1.3 9.6 1.3 3.8 1.3-2.7 1.3-8.7 1.3-13.7 3.9-50.9 1.3-12.6 1.3-7.3 1.3-1 1.3 5.3 1.3 10.9 3.9 48.8 1.3 14.2 1.3 9.6 1.3 3.7 1.3-2.6 1.3-8.8 1.3-13.8 3.9-50.9 1.3-12.7 1.3-7.5 1.3-1.1 1.3 5.2 1.3 10.8 3.9 48.7 1.3 14.1 1.3 9.6 1.3 3.7 1.3-2.7 1.3-8.8 1.3-13.7 3.9-51.2 1.3-12.8 1.3-7.5 1.3-1.2 1.3 5.1 1.3 10.7 3.9 48.5 1.3 14.1 1.3 9.6 1.3 3.7 1.3-2.7 1.3-8.8 1.3-13.8 3.9-51.3 1.3-12.9 1.3-7.6 1.3-1.4 1.3 5 1.3 10.7 3.9 48.2 1.3 14.1 1.4 9.6 1.3 3.7 1.3-2.7 1.3-8.8 1.3-13.9 3.9-51.4 1.3-13 1.3-7.7 1.3-1.5 1.3 4.9 1.3 10.6 3.9 48.1 1.3 14 1.3 9.6 1.3 3.7 1.3-2.8 1.3-8.8 1.3-13.8-1.6-1.9-1.3 13.4-1.3 8.5-1.3 2.6-1.3-3.5-1.3-9.2-1.3-13.5-3.9-46.2-1.3-10.1-1.3-4.7-1.3 1.4-1.3 7.4-1.3 12.5-3.9 49.6-1.3 13.3-1.3 8.5-1.3 2.7-1.3-3.6-1.3-9.2-1.3-13.5-3.9-46.4-1.3-10.2-1.3-4.8-1.3 1.3-1.3 7.3-1.3 12.5-3.9 49.4-1.3 13.3-1.3 8.4-1.3 2.7-1.3-3.6-1.3-9.2-1.3-13.6-3.9-46.6-1.3-10.3-1.3-4.9-1.3 1.3-1.3 7.2-1.3 12.3-3.9 49.3-1.3 13.2-1.3 8.5-1.3 2.6-1.3-3.6-1.3-9.2-1.3-13.6-3.9-46.8-1.3-10.4-1.3-4.9-1.3 1.1-1.3 7.1-1.3 12.3-3.9 49-1.3 13.3-1.3 8.4-1.3 2.6-1.3-3.6-1.3-9.2-1.3-13.6-3.9-47-1.3-10.5-1.3-5.1-1.3 1.1-1.3 7-1.3 12.1-3.9 49-1.3 13.1-1.4 8.5-1.3 2.6-1.3-3.6-1.3-9.3-1.3-13.6-3.9-47.2-1.3-10.6-1.3-5.2-1.3 1-1.3 6.9-1.3 12.1-3.9 48.7-1.3 13.2-1.3 8.4-1.3 2.6-1.3-3.6-1.3-9.3-1.3-13.7z"/><path fill="none" d="M133.1 620.7l1 21.3 4.2 3.6 1-24.2 4.2-32.6 1-28.2 4.2-8.7 1 16.6 4.2 32 1 28.8 4.2 15.6 1.1-13.8 4.1-28.2 1.1-33.9 4.1-20 1.1 4.9 4.1 25.3 1.1 32.2 4.1 25.4 1.1-1.6 4.1-19.9 1.1-35.1 4.1-28.5 1.1-7.7 4.1 15.1 1.1 30.9 4.1 31.9 1.1 10.6 4.1-8.8 1.1-31.8 4.1-33.1 1.1-19.4 4.1 3 1.1 25.2 4.1 34 1.1 21.1 4.1 3.6 1.1-24.4 4.1-33.1 1.1-28.8 4.1-9.5 1.1 15.9 4.1 31.4 1.1 28.5 4.2 15.5 1-13.9 4.2-28.5 1-34.4 4.2-20.7 1 4.1 4.2 24.6 1 31.7 4.2 25.3 1-1.7 4.2-20"/></g>
<g transform="translate(-100.9 -44.4)"><path d="M133.1 618.5l1.3 12.5 1.3 8.4 1.3 3.3 1.3-2.3 1.3-7.7 1.3-12.1 3.9-44.5 1.3-11 1.3-6.3 1.3-.9 1.3 4.7 1.3 9.6 3.9 43 1.3 12.4 1.3 8.4 1.3 3.3 1.3-2.4 1.3-7.7 1.3-12 3.9-44.7 1.3-11.1 1.3-6.5 1.3-.9 1.3 4.6 1.3 9.5 3.9 42.8 1.3 12.4 1.3 8.4 1.3 3.3 1.3-2.4 1.3-7.8 1.3-12.1 3.9-44.8 1.3-11.2 1.3-6.5 1.3-1.1 1.3 4.5 1.3 9.5 3.9 42.6 1.3 12.3 1.3 8.4 1.3 3.3 1.3-2.4 1.3-7.8 1.3-12.1 3.9-45.1 1.3-11.2 1.3-6.7 1.3-1.1 1.3 4.4 1.3 9.4 3.9 42.4 1.3 12.3 1.3 8.4 1.3 3.2 1.3-2.4 1.3-7.8 1.3-12.1 3.9-45.2 1.3-11.4 1.3-6.7 1.3-1.3 1.3 4.4 1.3 9.3 3.9 42.2 1.3 12.3 1.4 8.3 1.3 3.2 1.3-2.4 1.3-7.8 1.3-12.2 3.9-45.4 1.3-11.4 1.3-6.8 1.3-1.4 1.3 4.3 1.3 9.2 3.9 42 1.3 12.3 1.3 8.3 1.3 3.2 1.3-2.5 1.3-7.8 1.3-12.2-1.6 2-1.3 13.8-1.3 8.9-1.3 2.7-1.3-3.7-1.3-9.6-1.3-14-3.9-48.1-1.3-10.6-1.3-4.9-1.3 1.5-1.3 7.7-1.3 13-3.9 51.5-1.3 13.8-1.3 8.8-1.3 2.7-1.3-3.7-1.3-9.6-1.3-14-3.9-48.3-1.3-10.7-1.3-5-1.3 1.4-1.3 7.6-1.3 12.9-3.9 51.3-1.3 13.8-1.3 8.8-1.3 2.7-1.3-3.7-1.3-9.6-1.3-14.1-3.9-48.5-1.3-10.7-1.3-5.1-1.3 1.3-1.3 7.5-1.3 12.8-3.9 51.1-1.3 13.8-1.3 8.8-1.3 2.7-1.3-3.8-1.3-9.6-1.3-14.1-3.9-48.7-1.3-10.8-1.3-5.2-1.3 1.2-1.3 7.4-1.3 12.7-3.9 51-1.3 13.7-1.3 8.8-1.3 2.7-1.3-3.8-1.3-9.6-1.3-14.2-3.9-48.8-1.3-10.9-1.3-5.3-1.3 1-1.3 7.4-1.3 12.6-3.9 50.8-1.3 13.7-1.4 8.7-1.3 2.7-1.3-3.7-1.3-9.7-1.3-14.2-3.9-49-1.3-11-1.3-5.4-1.3 1-1.3 7.2-1.3 12.5-3.9 50.6-1.3 13.7-1.3 8.8-1.3 2.6-1.3-3.7-1.3-9.7-1.3-14.2z"/><path fill="none" d="M131.5 620l4.2 19.4 1 5.6 4.2-24.4 1-32.5 4.2-23 1-13.9 4.2 21 1 27.6 4.2 27.8 1 16.6 4.2-15 1.1-27 4.1-29.7 1.1-24.2 4.1 10.3 1.1 19.9 4.1 32.4 1.1 25.2 4.1-3.5 1.1-17.9 4.1-32.5 1.1-31.2 4.1-1.9 1.1 9.3 4.1 32.6 1.1 30.2 4.1 8.5 1.1-6.6 4.1-30.6 1.1-34.3 4.1-13.8 1.1-2.7 4.1 28.4 1.1 30.8 4.1 19.3 1.1 5.4 4.1-24.5 1.1-32.9 4.1-23.7 1.1-14.7 4.1 20.4 1.1 26.9 4.1 27.6 1.1 16.4 4.2-15.1 1-27.2 4.2-30.4 1-24.8 4.2 9.5 1 19.2 4.2 32 1 25 4.2-3.7 1-18"/></g>
<g transform="translate(-99.3 -43.7)"><path d="M133.1 613.6l1.3 8.7 1.3 5.9 1.3 2.2 1.3-1.7 1.3-5.4 1.3-8.5 3.9-31.3 1.3-7.8 1.3-4.5 1.3-.7 1.3 3.3 1.3 6.6 3.9 29.9 1.3 8.7 1.3 5.8 1.3 2.2 1.3-1.7 1.3-5.5 1.3-8.5 3.9-31.5 1.3-7.9 1.3-4.6 1.3-.7 1.3 3.2 1.3 6.6 3.9 29.7 1.3 8.6 1.3 5.8 1.3 2.2 1.3-1.8 1.3-5.5 1.3-8.5 3.9-31.7 1.3-8 1.3-4.6 1.3-.9 1.3 3.1 1.3 6.5 3.9 29.6 1.3 8.5 1.3 5.8 1.3 2.2 1.3-1.8 1.3-5.6 1.3-8.5 3.9-31.9 1.3-8 1.3-4.8 1.3-.9 1.3 3 1.3 6.5 3.9 29.3 1.3 8.5 1.3 5.8 1.3 2.1 1.3-1.8 1.3-5.6 1.3-8.6 3.9-32 1.3-8.1 1.3-4.8 1.3-1 1.3 2.9 1.3 6.4 3.9 29.1 1.3 8.5 1.4 5.7 1.3 2.1 1.3-1.8 1.3-5.6 1.3-8.7 3.9-32.2 1.3-8.1 1.3-4.9 1.3-1.1 1.3 2.8 1.3 6.3 3.9 29 1.3 8.4 1.3 5.7 1.3 2.1 1.3-1.9 1.3-5.6 1.3-8.7-1.6 5.3-1.3 12.2-1.3 7.8-1.3 2.5-1.3-3.2-1.3-8.3-1.3-12.3-3.9-42-1.3-9.2-1.3-4.3-1.3 1.4-1.3 6.8-1.3 11.5-3.9 45.3-1.3 12.2-1.3 7.8-1.3 2.4-1.3-3.2-1.3-8.3-1.3-12.3-3.9-42.2-1.3-9.3-1.3-4.4-1.3 1.3-1.3 6.7-1.3 11.4-3.9 45.2-1.3 12.1-1.3 7.8-1.3 2.4-1.3-3.2-1.3-8.4-1.3-12.3-3.9-42.4-1.3-9.4-1.3-4.4-1.3 1.2-1.3 6.6-1.3 11.3-3.9 45-1.3 12.1-1.3 7.8-1.3 2.4-1.3-3.3-1.3-8.3-1.3-12.4-3.9-42.6-1.3-9.5-1.3-4.5-1.3 1.1-1.3 6.5-1.3 11.2-3.9 44.9-1.3 12-1.3 7.8-1.3 2.4-1.3-3.3-1.3-8.4-1.3-12.4-3.9-42.7-1.3-9.6-1.3-4.6-1.3 .9-1.3 6.5-1.3 11.1-3.9 44.7-1.3 12-1.4 7.8-1.3 2.3-1.3-3.2-1.3-8.5-1.3-12.4-3.9-42.9-1.3-9.7-1.3-4.7-1.3 .9-1.3 6.3-1.3 11.1-3.9 44.5-1.3 12-1.3 7.7-1.3 2.3-1.3-3.2-1.3-8.5-1.3-12.5z"/><path fill="none" d="M133.1 613.6l1 25.2 4.2-10.1 1-8.7 4.2-26.5 1-29.1 4.2 6.1 1 1.1 4.2 28.5 1 26.8 4.2 .1 1.1 1.5 4.1-27.6 1.1-29.1 4.1-4.5 1.1-9.4 4.1 27.6 1.1 24.7 4.1 10.3 1.1 11.4 4.1-25 1.1-25.3 4.1-14.4 1.1-18.8 4.1 22.9 1.1 19.1 4.1 19 1.1 19.6 4.1-19 1.1-18.2 4.1-22.2 1.1-25.8 4.1 15.1 1.1 10.5 4.1 25.3 1.1 24.8 4.1-10.2 1.1-8.9 4.1-27 1.1-29.6 4.1 5.4 1.1 .3 4.1 28.1 1.1 26.4 4.2-.1 1 1.4 4.2-28.1 1-29.4 4.2-5.2 1-10.2 4.2 27.1 1 24.1 4.2 10.1 1 11.2 4.2-25.3"/></g>
<g transform="translate(-97.8 -43)"><path d="M133.1 606.8l1.3 3.5 1.3 2.3 1.3 .9 1.3-.8 1.3-2.4 1.3-3.6 3.9-13.2 1.3-3.4 1.3-1.9 1.3-.4 1.3 1.2 1.3 2.6 3.9 12 1.3 3.4 1.3 2.3 1.3 .7 1.3-.8 1.3-2.4 1.3-3.6 3.9-13.4 1.3-3.4 1.3-2.1 1.3-.4 1.3 1.1 1.3 2.6 3.9 11.7 1.3 3.4 1.3 2.3 1.3 .7 1.3-.9 1.3-2.4 1.3-3.7 3.9-13.6 1.3-3.5 1.3-2.1 1.3-.5 1.3 1.1 1.3 2.5 3.9 11.6 1.3 3.3 1.3 2.2 1.3 .7 1.3-.9 1.3-2.5 1.3-3.8 3.9-13.7 1.3-3.5 1.3-2.2 1.3-.6 1.3 1 1.3 2.5 3.9 11.4 1.3 3.3 1.3 2.1 1.3 .7 1.3-1 1.3-2.6 1.3-3.7 3.9-14 1.3-3.5 1.3-2.3 1.3-.6 1.3 .9 1.3 2.4 3.9 11.2 1.3 3.3 1.4 2.1 1.3 .6 1.3-1.1 1.3-2.5 1.3-3.9 3.9-14.1 1.3-3.6 1.3-2.3 1.3-.7 1.3 .9 1.3 2.3 3.9 11 1.3 3.2 1.3 2.1 1.3 .5 1.3-1 1.3-2.7 1.3-3.8-1.6 7.6-1.3 8.7-1.3 5.7-1.3 1.8-1.3-2.1-1.3-5.6-1.3-8.5-3.9-29-1.3-6.3-1.3-2.8-1.3 1.1-1.3 4.9-1.3 8.2-3.9 32.1-1.3 8.7-1.3 5.6-1.3 1.9-1.3-2.1-1.3-5.8-1.3-8.4-3.9-29.2-1.3-6.4-1.3-2.9-1.3 1-1.3 4.8-1.3 8.1-3.9 32-1.3 8.7-1.3 5.5-1.3 1.8-1.3-2.1-1.3-5.7-1.3-8.6-3.9-29.3-1.3-6.5-1.3-3-1.3 1-1.3 4.7-1.3 8-3.9 31.9-1.3 8.6-1.3 5.5-1.3 1.8-1.3-2.2-1.3-5.7-1.3-8.6-3.9-29.5-1.3-6.6-1.3-3-1.3 .8-1.3 4.7-1.3 7.9-3.9 31.7-1.3 8.5-1.3 5.5-1.3 1.8-1.3-2.2-1.3-5.8-1.3-8.6-3.9-29.7-1.3-6.6-1.3-3.2-1.3 .8-1.3 4.6-1.3 7.8-3.9 31.5-1.3 8.5-1.4 5.5-1.3 1.8-1.3-2.3-1.3-5.8-1.3-8.6-3.9-29.9-1.3-6.7-1.3-3.3-1.3 .7-1.3 4.5-1.3 7.8-3.9 31.3-1.3 8.5-1.3 5.5-1.3 1.7-1.3-2.3-1.3-5.9-1.3-8.6z"/><path fill="none" d="M131.5 613l4.2-.4 1 15.5 4.2-21.4 1-13.9 4.2-2.7 1-20.3 4.2 21.8 1 7.8 4.2 7.6 1 19.4 4.2-19.6 1.1-6.6 4.1-10.4 1.1-23.1 4.1 18.3 1.1-.2 4.1 14.5 1.1 20.5 4.1-15 1.1 1.4 4.1-16.7 1.1-22.9 4.1 12.4 1.1-8.3 4.1 19.5 1.1 18.6 4.1-8.4 1.1 9 4.1-20.7 1.1-19.8 4.1 4.9 1.1-15.6 4.1 21.9 1.1 13.9 4.1-.5 1.1 15.1 4.1-21.7 1.1-14.2 4.1-3.3 1.1-20.9 4.1 21.3 1.1 7.1 4.1 7.4 1.1 19 4.2-19.9 1-6.9 4.2-11.1 1-23.5 4.2 17.8 1-.9 4.2 14.2 1 20 4.2-15.2 1 1.1"/></g>
<g transform="translate(-96.3 -42.3)"><path d="M133.1 599.2l1.3-2.3 1.3-1.6 1.3-.8 1.3 .2 1.3 1.1 1.3 1.9 3.9 6.9 1.3 1.6 1.3 .8 1.3 0 1.3-1.1 1.3-1.9 5.2-10.4 1.3-1.6 1.3-.9 1.3 .2 1.3 1 1.3 1.8 3.9 6.7 1.3 1.6 1.3 .8 1.3-.1 1.3-1.1 1.3-2 5.2-10.6 1.3-1.7 1.3-.9 1.3 .1 1.3 .9 1.3 1.7 3.9 6.6 1.3 1.5 1.3 .8 1.3-.2 1.3-1.1 1.3-2 5.2-10.9 1.3-1.8 1.3-.9 1.3 0 1.3 .9 1.3 1.7 3.9 6.3 1.3 1.5 1.3 .7 1.3-.2 1.3-1.2 1.3-2 5.2-11.1 1.3-1.9 1.3-1 1.3 0 1.3 .8 1.3 1.6 3.9 6.3 1.3 1.4 1.3 .6 1.3-.2 1.3-1.3 1.3-2 5.2-11.3 1.4-2 1.3-1 1.3-.2 1.3 .8 1.3 1.6 3.9 6 1.3 1.4 1.3 .6 1.3-.3 1.3-1.3 1.3-2.1 3.9-8.9 1.3-2.6 1.3-2 1.3-1.2 1.3-.2 1.3 .8 1.3 1.4-1.6 8.7-1.3 3.9-1.3 2.6-1.3 1.1-1.3-.6-1.3-2-1.3-3.2-3.9-11.1-1.3-2.3-1.3-.9-1.3 .7-1.3 2.3-1.3 3.7-3.9 14-1.3 3.9-1.3 2.6-1.3 1-1.3-.6-1.3-2.1-1.3-3.2-3.9-11.3-1.3-2.4-1.3-.9-1.3 .7-1.3 2.2-1.3 3.6-3.9 13.9-1.3 3.8-1.3 2.5-1.3 1-1.3-.7-1.3-2.1-1.3-3.3-3.9-11.4-1.3-2.4-1.3-1.1-1.3 .6-1.3 2.2-1.3 3.5-3.9 13.8-1.3 3.7-1.3 2.5-1.3 .9-1.3-.7-1.3-2.2-1.3-3.3-3.9-11.6-1.3-2.5-1.3-1.1-1.3 .6-1.3 2.1-1.3 3.4-3.9 13.6-1.3 3.7-1.3 2.4-1.3 .9-1.3-.7-1.3-2.2-1.3-3.4-3.9-11.8-1.3-2.6-1.3-1.1-1.3 .5-1.3 2-1.3 3.4-3.9 13.4-1.3 3.6-1.4 2.4-1.3 .9-1.3-.8-1.3-2.3-1.3-3.4-3.9-11.9-1.3-2.7-1.3-1.2-1.3 .4-1.3 2-1.3 3.3-3.9 13.2-1.3 3.6-1.3 2.4-1.3 .8-1.3-.8-1.3-2.4-1.3-3.4z"/><path fill="none" d="M133.1 599.2l1 12.8 4.2-17.3 1 11.3 4.2-3.6 1-12.9 4.2 17.5 1-16 4.2 7.8 1 7.5 4.2-15.2 1.1 15 4.1-9.8 1.1-7.2 4.1 14.1 1.1-18.9 4.1 13.2 1.1 1.2 4.1-11 1.1 16.4 4.1-14.6 1.1-.7 4.1 8.8 1.1-19.3 4.1 16.8 1.1-5.6 4.1-5.3 1.1 15.5 4.1-17.3 1.1 5.6 4.1 2.4 1.1-17.3 4.1 18.1 1.1-11.7 4.1 1.2 1.1 12.1 4.1-17.6 1.1 11 4.1-4.3 1.1-13.2 4.1 17 1.1-16.6 4.1 7.5 1.1 7 4.2-15.5 1 14.6 4.2-10.4 1-7.5 4.2 13.5 1-19.3 4.2 12.8 1 .6 4.2-11.3 1 16 4.2-15.2"/></g>
<g transform="translate(-94.7 -41.6)"><path d="M133.1 592.1l1.3-7.8 1.3-5.3 1.3-2.3 1.3 1.2 1.3 4.3 1.3 7 3.9 25.8 1.3 6.3 1.3 3.5 1.3 .2 1.3-3.2 1.3-6.1 3.9-26.8 1.3-7.8 1.3-5.4 1.3-2.4 1.3 1.1 1.3 4.3 1.3 6.8 3.9 25.7 1.3 6.3 1.3 3.4 1.3 .2 1.3-3.2 1.3-6.1 3.9-27 1.3-7.9 1.3-5.5 1.3-2.4 1.3 1 1.3 4.2 1.3 6.8 3.9 25.5 1.3 6.2 1.3 3.4 1.3 .2 1.3-3.3 1.3-6.2 5.2-35 1.3-5.6 1.3-2.5 1.3 .9 1.3 4.1 1.3 6.7 3.9 25.4 1.3 6.2 1.3 3.4 1.3 .1 1.3-3.3 1.3-6.2 5.2-35.3 1.3-5.7 1.3-2.5 1.3 .8 1.3 4 1.3 6.7 3.9 25.1 1.3 6.2 1.3 3.4 1.3 0 1.3-3.3 1.3-6.2 5.2-35.6 1.4-5.7 1.3-2.6 1.3 .7 1.3 4 1.3 6.6 3.9 25 1.3 6.1 1.3 3.3 1.3 .1 1.3-3.4 1.3-6.3 3.9-27.6 1.3-8.1 1.3-5.8 1.3-2.8 1.3 .7 1.3 3.9 1.3 6.5-1.6 8.1-1.3-1.5-1.3-.7-1.3 .2-1.3 1.1-1.3 2-1.3 2.6-3.9 8.9-1.3 2.1-1.3 1.3-1.3 .3-1.3-.6-1.3-1.4-3.9-6-1.3-1.5-1.3-.8-1.3 .1-1.3 1-1.3 2-5.2 11.3-1.3 2.1-1.3 1.2-1.3 .3-1.3-.7-1.3-1.4-3.9-6.2-1.3-1.6-1.3-.9-1.3 .1-1.3 1-1.3 1.8-5.2 11.1-1.3 2-1.3 1.2-1.3 .3-1.3-.7-1.3-1.5-3.9-6.4-1.3-1.7-1.3-.9-1.3 0-1.3 1-1.3 1.8-5.2 10.8-1.3 2-1.3 1.1-1.3 .2-1.3-.7-1.3-1.6-3.9-6.5-1.3-1.8-1.3-.9-1.3-.1-1.3 .9-1.3 1.7-5.2 10.7-1.3 1.9-1.3 1.1-1.3 .1-1.3-.8-1.3-1.6-3.9-6.7-1.3-1.8-1.4-1-1.3-.1-1.3 .8-1.3 1.7-5.2 10.4-1.3 1.8-1.3 1.1-1.3 .1-1.3-.9-1.3-1.6-3.9-6.9-1.3-1.8-1.3-1.1-1.3-.2-1.3 .7-1.3 1.6-1.3 2.4z"/><path fill="none" d="M131.5 598.6l4.2-19.6 1 15.1 4.2-4.9 1 12.5 4.2 19.6 1-15 4.2 9.4 1-17.6 4.2-17 1 9.4 4.2-11.8 1.1 16.9 4.1 15.6 1.1-8.7 4.1 15.4 1.1-21.1 4.1-12 1.1 2.2 4.1-17 1.1 18.9 4.1 9.4 1.1-1.3 4.1 19.3 1.1-21.9 4.1-5.4 1.1-5.4 4.1-19.9 1.1 18 4.1 2.1 1.1 6 4.1 20.6 1.1-19.9 4.1 2.1 1.1-12.6 4.1-20 1.1 14.5 4.1-5.5 1.1 12.2 4.1 19.1 1.1-15.3 4.1 9.2 1.1-18.2 4.1-17.4 1.1 8.8 4.2-12.4 1 16.6 4.2 15 1-9 4.2 15.1 1-21.6 4.2-12.3 1 1.6 4.2-17.6 1 18.5"/></g>
<g transform="translate(-93.2 -41)"><path d="M133.1 586.6l1.3-12 1.3-8.2 1.3-3.4 1.3 1.8 1.3 6.9 1.3 10.9 3.9 40.5 1.3 10 1.3 5.5 1.3 .4 1.3-4.8 1.3-9.4 3.9-41.4 1.3-12 1.3-8.3 1.3-3.5 1.3 1.7 1.3 6.8 1.3 10.8 3.9 40.4 1.3 9.9 1.3 5.5 1.3 .5 1.3-4.9 1.3-9.4 3.9-41.6 1.3-12.1 1.3-8.4 1.3-3.6 1.3 1.7 1.3 6.7 1.3 10.7 3.9 40.2 1.3 9.9 1.3 5.5 1.3 .4 1.3-4.8 1.3-9.5 3.9-41.7 1.3-12.2 1.3-8.5 1.3-3.7 1.3 1.6 1.3 6.6 1.3 10.7 3.9 40 1.3 9.9 1.3 5.5 1.3 .3 1.3-4.8 1.3-9.5 5.2-54.2 1.3-8.5 1.3-3.8 1.3 1.5 1.3 6.5 1.3 10.6 3.9 39.9 1.3 9.8 1.3 5.5 1.3 .3 1.3-4.9 1.3-9.5 5.2-54.4 1.4-8.6 1.3-3.9 1.3 1.4 1.3 6.4 1.3 10.5 3.9 39.7 1.3 9.8 1.3 5.5 1.3 .3 1.3-4.9 1.3-9.5 3.9-42.2 1.3-12.4 1.3-8.8 1.3-3.9 1.3 1.3 1.3 6.3 1.3 10.4-1.6 6.1-1.3-6.5-1.3-3.9-1.3-.6-1.3 2.7-1.3 5.8-1.3 8.2-3.9 27.6-1.3 6.3-1.3 3.3-1.3-.1-1.3-3.3-1.3-6.1-3.9-25-1.3-6.6-1.3-4-1.3-.7-1.3 2.6-1.3 5.8-5.2 35.5-1.3 6.3-1.3 3.3-1.3-.1-1.3-3.4-1.3-6.1-3.9-25.2-1.3-6.7-1.3-4-1.3-.8-1.3 2.5-1.3 5.7-5.2 35.3-1.3 6.2-1.3 3.3-1.3-.1-1.3-3.4-1.3-6.2-3.9-25.3-1.3-6.8-1.3-4.1-1.3-.9-1.3 2.5-1.3 5.6-5.2 35.1-1.3 6.2-1.3 3.2-1.3-.2-1.3-3.4-1.3-6.2-3.9-25.5-1.3-6.8-1.3-4.2-1.3-1-1.3 2.4-1.3 5.5-1.3 7.9-3.9 27-1.3 6.1-1.3 3.2-1.3-.1-1.3-3.5-1.3-6.3-3.9-25.7-1.3-6.8-1.4-4.3-1.3-1-1.3 2.3-1.3 5.4-1.3 7.8-3.9 26.8-1.3 6.2-1.3 3.1-1.3-.2-1.3-3.5-1.3-6.3-3.9-25.8-1.3-7-1.3-4.3-1.3-1.1-1.3 2.2-1.3 5.4-1.3 7.7z"/><path fill="none" d="M133.1 586.6l1-8.3 4.2-13.5 1 23.7 4.2 21.7 1 10.4 4.2 18.4 1-24 4.2-17.4 1-17.2 4.2-20.8 1.1 18.4 4.1 14.3 1.1 18.2 4.1 24.2 1.1-17.5 4.1-9.1 1.1-24 4.1-25.3 1.1 10.5 4.1 5 1.1 23.3 4.1 26.8 1.1-8.8 4.1 .4 1.1-27.7 4.1-26.2 1.1 .9 4.1-4.9 1.1 25 4.1 25.7 1.1 .9 4.1 10 1.1-27.8 4.1-23.6 1.1-9 4.1-14.1 1.1 23.1 4.1 21.1 1.1 10.2 4.1 18.2 1.1-24.3 4.1-17.7 1.1-17.8 4.2-21.5 1 17.8 4.2 13.6 1 18 4.2 23.9 1-17.7 4.2-9.4 1-24.5 4.2-25.9 1 9.8 4.2 4.3"/></g>
<g transform="translate(-91.6 -40.3)"><path d="M133.1 583.6l1.3-14.3 1.3-9.8 1.3-4.1 1.3 2.3 1.3 8.3 1.3 13 3.9 48.7 1.3 11.9 1.3 6.7 1.3 .6 1.3-5.7 1.3-11.3 3.9-49.4 1.3-14.4 1.3-9.9 1.3-4.2 1.3 2.2 1.3 8.2 1.3 13 3.9 48.5 1.3 11.9 1.3 6.7 1.3 .5 1.3-5.7 1.3-11.3 3.9-49.6 1.3-14.5 1.3-10 1.3-4.2 1.3 2.1 1.3 8 1.3 12.9 3.9 48.4 1.3 11.9 1.3 6.6 1.3 .6 1.3-5.8 1.3-11.2 3.9-49.8 1.3-14.6 1.3-10.1 1.3-4.3 1.3 2 1.3 7.9 1.3 12.9 3.9 48.1 1.3 11.9 1.3 6.7 1.3 .5 1.3-5.8 1.3-11.3 3.9-49.9 1.3-14.6 1.3-10.2 1.3-4.4 1.3 1.8 1.3 7.9 1.3 12.8 3.9 48 1.3 11.8 1.3 6.6 1.3 .6 1.3-5.8 1.3-11.3 5.2-64.8 1.4-10.3 1.3-4.5 1.3 1.7 1.3 7.8 1.3 12.7 3.9 47.8 1.3 11.9 1.3 6.6 1.3 .5 1.3-5.8 1.3-11.3 3.9-50.2 1.3-14.8 1.3-10.4 1.3-4.6 1.3 1.6 1.3 7.7 1.3 12.6-1.6 3-1.3-10.5-1.3-6.3-1.3-1.3-1.3 4-1.3 8.7-1.3 12.4-3.9 42.2-1.3 9.5-1.3 5-1.3-.4-1.3-5.4-1.3-9.8-3.9-39.8-1.3-10.5-1.3-6.4-1.3-1.4-1.3 3.9-1.3 8.7-5.2 54.3-1.3 9.5-1.3 4.9-1.3-.3-1.3-5.5-1.3-9.8-3.9-39.9-1.3-10.6-1.3-6.5-1.3-1.5-1.3 3.8-1.3 8.6-5.2 54.1-1.3 9.5-1.3 4.9-1.3-.4-1.3-5.5-1.3-9.9-3.9-40-1.3-10.7-1.3-6.6-1.3-1.6-1.3 3.7-1.3 8.5-1.3 12.2-3.9 41.7-1.3 9.5-1.3 4.8-1.3-.4-1.3-5.5-1.3-9.8-3.9-40.3-1.3-10.7-1.3-6.7-1.3-1.7-1.3 3.6-1.3 8.4-1.3 12.2-3.9 41.5-1.3 9.5-1.3 4.8-1.3-.4-1.3-5.6-1.3-9.9-3.9-40.3-1.3-10.9-1.4-6.7-1.3-1.8-1.3 3.5-1.3 8.3-1.3 12.1-3.9 41.4-1.3 9.4-1.3 4.8-1.3-.5-1.3-5.5-1.3-10-3.9-40.5-1.3-10.9-1.3-6.8-1.3-1.9-1.3 3.4-1.3 8.2-1.3 12z"/><path fill="none" d="M131.5 585.9l4.2-26.4 1 4.7 4.2 14.8 1 30.5 4.2 30.1 1-1.2 4.2-8.5 1-33 4.2-30.8 1-7.2 4.2 3.5 1.1 29.2 4.1 32.3 1.1 10.2 4.1 3.2 1.1-29.9 4.1-31 1.1-18.3 4.1-8.3 1.1 23.8 4.1 30 1.1 20.1 4.1 14.5 1.1-22.9 4.1-26.8 1.1-27.1 4.1-19 1.1 15 4.1 23.7 1.1 27 4.1 23.8 1.1-12.9 4.1-19 1.1-32.4 4.1-27 1.1 3.9 4.1 14.2 1.1 30 4.1 29.8 1.1-1.4 4.1-8.5 1.1-33.4 4.1-31.4 1.1-8 4.2 2.7 1 28.8 4.2 31.7 1 10.1 4.2 3.1 1-30.2 4.2-31.3 1-19 4.2-9.2 1 23.3"/></g>
<g transform="translate(-90.1 -39.6)"><path d="M133.1 583.7l1.3-14.4 1.3-9.8 1.3-4.1 1.3 2.3 1.3 8.3 1.3 13.1 3.9 48.9 1.3 12 1.3 6.7 1.3 .6 1.3-5.8 1.3-11.2 3.9-49.7 1.3-14.5 1.3-9.9 1.3-4.2 1.3 2.2 1.3 8.2 1.3 13 3.9 48.8 1.3 11.9 1.3 6.8 1.3 .5 1.3-5.8 1.3-11.3 3.9-49.8 1.3-14.5 1.3-10.1 1.3-4.3 1.3 2.1 1.3 8.1 1.3 13 3.9 48.6 1.3 11.9 1.3 6.7 1.3 .6 1.3-5.8 1.3-11.3 3.9-50 1.3-14.6 1.3-10.2 1.3-4.3 1.3 1.9 1.3 8 1.3 12.9 3.9 48.4 1.3 12 1.3 6.7 1.3 .5 1.3-5.8 1.3-11.3 3.9-50.2 1.3-14.7 1.3-10.2 1.3-4.5 1.3 1.9 1.3 7.9 1.3 12.8 3.9 48.3 1.3 11.9 1.3 6.6 1.3 .6 1.3-5.8 1.3-11.4 5.2-65.1 1.4-10.3 1.3-4.6 1.3 1.8 1.3 7.8 1.3 12.8 3.9 48 1.3 11.9 1.3 6.7 1.3 .5 1.3-5.8 1.3-11.4 3.9-50.4 1.3-14.9 1.3-10.4 1.3-4.7 1.3 1.7 1.3 7.7 1.3 12.7-1.6-.8-1.3-12.6-1.3-7.7-1.3-1.6-1.3 4.6-1.3 10.4-1.3 14.8-3.9 50.2-1.3 11.3-1.3 5.8-1.3-.5-1.3-6.6-1.3-11.8-3.9-47.9-1.3-12.7-1.3-7.7-1.3-1.8-1.3 4.5-1.3 10.3-5.2 64.8-1.3 11.3-1.3 5.8-1.3-.5-1.3-6.7-1.3-11.8-3.9-48-1.3-12.8-1.3-7.8-1.3-1.9-1.3 4.4-1.3 10.2-1.3 14.7-3.9 49.9-1.3 11.2-1.3 5.8-1.3-.5-1.3-6.7-1.3-11.8-3.9-48.2-1.3-12.8-1.3-8-1.3-2-1.3 4.4-1.3 10.1-1.3 14.5-3.9 49.8-1.3 11.2-1.3 5.8-1.3-.5-1.3-6.7-1.3-11.9-3.9-48.3-1.3-13-1.3-8-1.3-2.1-1.3 4.2-1.3 10.1-1.3 14.4-3.9 49.6-1.3 11.3-1.3 5.7-1.3-.5-1.3-6.7-1.3-11.9-3.9-48.5-1.3-13-1.4-8.2-1.3-2.1-1.3 4.1-1.3 9.9-1.3 14.4-3.9 49.5-1.3 11.2-1.3 5.7-1.3-.5-1.3-6.7-1.3-12-3.9-48.6-1.3-13.1-1.3-8.3-1.3-2.2-1.3 4-1.3 9.8-1.3 14.3z"/><path fill="none" d="M133.1 583.7l1-24.9 4.2-1.1 1 20.7 4.2 34 1 26.6 4.2 8.3 1-18 4.2-31.7 1-32.2 4.2-13.4 1.1 9.7 4.1 29.9 1.1 31.6 4.1 19.7 1.1-6.3 4.1-25.6 1.1-35.3 4.1-23.8 1.1-2.8 4.1 21.7 1.1 32.1 4.1 28.4 1.1 6.2 4.1-16 1.1-33.7 4.1-30.9 1.1-15.2 4.1 10.6 1.1 28.1 4.1 33.2 1.1 17.6 4.1-4.2 1.1-27.7 4.1-33.8 1.1-25.6 4.1-1.9 1.1 20 4.1 33.5 1.1 26.3 4.1 8.3 1.1-18.2 4.1-32 1.1-32.8 4.2-14.2 1 8.9 4.2 29.3 1 31.3 4.2 19.5 1-6.4 4.2-25.8 1-35.7 4.2-24.5 1-3.7 4.2 21.1"/></g>
<g transform="translate(-88.5 -38.9)"><path d="M133.1 586.9l1.3-12.2 1.3-8.4 1.3-3.4 1.3 1.9 1.3 7 1.3 11 3.9 41.2 1.3 10.1 1.3 5.7 1.3 .4 1.3-4.9 1.3-9.5 3.9-42.1 1.3-12.2 1.3-8.5 1.3-3.5 1.3 1.8 1.3 6.9 1.3 11 3.9 41 1.3 10.1 1.3 5.6 1.3 .4 1.3-4.9 1.3-9.6 3.9-42.2 1.3-12.3 1.3-8.5 1.3-3.7 1.3 1.7 1.3 6.8 1.3 11 3.9 40.8 1.3 10.1 1.3 5.6 1.3 .4 1.3-4.9 1.3-9.6 3.9-42.4 1.3-12.4 1.3-8.6 1.3-3.8 1.3 1.7 1.3 6.7 1.3 10.8 3.9 40.7 1.3 10 1.3 5.6 1.3 .4 1.3-4.9 1.3-9.7 5.2-55 1.3-8.7 1.3-3.8 1.3 1.5 1.3 6.6 1.3 10.8 3.9 40.6 1.3 9.9 1.3 5.6 1.3 .4 1.3-5 1.3-9.6 5.2-55.3 1.4-8.8 1.3-3.9 1.3 1.5 1.3 6.5 1.3 10.7 3.9 40.3 1.3 10 1.3 5.6 1.3 .3 1.3-5 1.3-9.7 3.9-42.8 1.3-12.6 1.3-8.9 1.3-4 1.3 1.3 1.3 6.5 1.3 10.6-1.6-4.5-1.3-12.7-1.3-7.7-1.3-1.7-1.3 4.7-1.3 10.4-1.3 14.9-3.9 50.4-1.3 11.4-1.3 5.8-1.3-.5-1.3-6.7-1.3-11.8-3.9-48.1-1.3-12.7-1.3-7.9-1.3-1.7-1.3 4.5-1.3 10.4-5.2 65-1.3 11.4-1.3 5.8-1.3-.5-1.3-6.7-1.3-11.9-3.9-48.3-1.3-12.8-1.3-7.9-1.3-1.9-1.3 4.5-1.3 10.2-1.3 14.7-3.9 50.2-1.3 11.3-1.3 5.8-1.3-.5-1.3-6.7-1.3-11.9-3.9-48.4-1.3-12.9-1.3-8-1.3-2-1.3 4.3-1.3 10.2-1.3 14.6-3.9 50-1.3 11.3-1.3 5.8-1.3-.5-1.3-6.8-1.3-11.9-3.9-48.6-1.3-12.9-1.3-8.1-1.3-2.1-1.3 4.2-1.3 10.1-1.3 14.5-3.9 49.9-1.3 11.3-1.3 5.7-1.3-.5-1.3-6.7-1.3-12-3.9-48.7-1.3-13.1-1.4-8.2-1.3-2.2-1.3 4.2-1.3 9.9-1.3 14.5-3.9 49.7-1.3 11.3-1.3 5.7-1.3-.5-1.3-6.8-1.3-12-3.9-48.9-1.3-13.1-1.3-8.3-1.3-2.3-1.3 4.1-1.3 9.8-1.3 14.4z"/><path fill="none" d="M131.5 583l4.2-16.7 1-9.3 4.2 25.8 1 28.9 4.2 22.4 1 12.5 4.2-20.8 1-28.9 4.2-25.4 1-20.2 4.2 16.9 1.1 22.7 4.1 29.3 1.1 22 4.1-10.8 1.1-21.1 4.1-30.7 1.1-28.4 4.1 5.6 1.1 13.3 4.1 32.3 1.1 28.2 4.1 .9 1.1-10.7 4.1-31.7 1.1-32.9 4.1-6.4 1.1 1.9 4.1 30.8 1.1 30.5 4.1 12.3 1.1 1 4.1-28.3 1.1-33.2 4.1-17.4 1.1-10.1 4.1 25.2 1.1 28.3 4.1 22.2 1.1 12.4 4.1-21 1.1-29.2 4.1-26.1 1.1-20.8 4.2 16.1 1 22.1 4.2 28.9 1 21.8 4.2-10.9 1-21.3 4.2-31.2 1-29 4.2 4.8 1 12.6"/></g>
<g transform="translate(-87 -38.3)"><path d="M133.1 592.6l1.3-8 1.3-5.6 1.3-2.3 1.3 1.2 1.3 4.5 1.3 7.2 3.9 26.8 1.3 6.6 1.3 3.6 1.3 .2 1.3-3.2 1.3-6.4 3.9-27.8 1.3-8.1 1.3-5.6 1.3-2.4 1.3 1.1 1.3 4.5 1.3 7.1 3.9 26.6 1.3 6.5 1.3 3.7 1.3 .1 1.3-3.3 1.3-6.3 3.9-28 1.3-8.2 1.3-5.7 1.3-2.4 1.3 1 1.3 4.3 1.3 7.1 3.9 26.5 1.3 6.5 1.3 3.5 1.3 .2 1.3-3.3 1.3-6.4 5.2-36.4 1.3-5.8 1.3-2.5 1.3 .9 1.3 4.3 1.3 7 3.9 26.3 1.3 6.4 1.3 3.6 1.3 .1 1.3-3.4 1.3-6.4 5.2-36.6 1.3-5.8 1.3-2.7 1.3 .9 1.3 4.2 1.3 6.9 3.9 26.2 1.3 6.4 1.3 3.5 1.3 .1 1.3-3.4 1.3-6.5 5.2-36.8 1.4-5.9 1.3-2.7 1.3 .7 1.3 4.2 1.3 6.8 3.9 26 1.3 6.4 1.3 3.4 1.3 .1 1.3-3.4 1.3-6.5 3.9-28.6 1.3-8.5 1.3-6 1.3-2.8 1.3 .7 1.3 4.1 1.3 6.7-1.6-7.6-1.3-10.6-1.3-6.4-1.3-1.4-1.3 4-1.3 8.9-1.3 12.6-3.9 42.9-1.3 9.6-1.3 5-1.3-.3-1.3-5.6-1.3-9.9-3.9-40.4-1.3-10.7-1.3-6.5-1.3-1.5-1.3 4-1.3 8.8-5.2 55.2-1.3 9.6-1.3 5-1.3-.4-1.3-5.5-1.3-10-3.9-40.6-1.3-10.7-1.3-6.6-1.3-1.6-1.3 3.9-1.3 8.7-5.2 55-1.3 9.6-1.3 4.9-1.3-.4-1.3-5.6-1.3-10-3.9-40.7-1.3-10.8-1.3-6.7-1.3-1.6-1.3 3.7-1.3 8.6-1.3 12.4-3.9 42.4-1.3 9.6-1.3 4.9-1.3-.4-1.3-5.6-1.3-10-3.9-40.9-1.3-10.9-1.3-6.8-1.3-1.7-1.3 3.6-1.3 8.5-1.3 12.4-3.9 42.2-1.3 9.5-1.3 4.9-1.3-.4-1.3-5.6-1.3-10.1-3.9-41-1.3-11-1.4-6.9-1.3-1.8-1.3 3.5-1.3 8.5-1.3 12.2-3.9 42.1-1.3 9.6-1.3 4.8-1.3-.4-1.3-5.7-1.3-10-3.9-41.2-1.3-11.1-1.3-7-1.3-1.9-1.3 3.5-1.3 8.3-1.3 12.2z"/><path fill="none" d="M133.1 592.6l1-26.9 4.2 12.2 1 4.3 4.2 25.7 1 25.5 4.2-6.6 1-1.7 4.2-26.1 1-28.2 4.2 2.5 1.1-5.8 4.1 27.3 1.1 24.7 4.1 3.3 1.1 7.9 4.1-26.1 1.1-25.6 4.1-7.6 1.1-15.2 4.1 25.2 1.1 20.3 4.1 12.7 1.1 16.4 4.1-22.4 1.1-19.9 4.1-16.5 1.1-22.8 4.1 19.7 1.1 12.9 4.1 20.4 1.1 22.4 4.1-15.7 1.1-11.5 4.1-23.2 1.1-27.4 4.1 11.5 1.1 3.5 4.1 25.4 1.1 25.2 4.1-6.8 1.1-1.9 4.1-26.7 1.1-28.5 4.2 1.8 1-6.6 4.2 26.9 1 24.2 4.2 3 1 7.8 4.2-26.4 1-26.1 4.2-8.2 1-15.9 4.2 24.6"/></g>
<g transform="translate(-85.5 -37.6)"><path d="M133.1 600.1l1.3-2.7 1.3-1.8 1.3-.9 1.3 .3 1.3 1.3 1.3 2.1 3.9 8 1.3 2 1.3 1 1.3-.1 1.3-1.2 1.3-2.1 5.2-11.9 1.3-1.9 1.3-.9 1.3 .2 1.3 1.2 1.3 2.1 3.9 7.9 1.3 1.9 1.3 .9 1.3-.1 1.3-1.2 1.3-2.2 5.2-12.1 1.3-2 1.3-.9 1.3 .1 1.3 1.2 1.3 2 3.9 7.7 1.3 1.8 1.3 .9 1.3-.1 1.3-1.3 1.3-2.2 5.2-12.4 1.3-2 1.3-1 1.3 0 1.3 1.1 1.3 2 3.9 7.5 1.3 1.8 1.3 .9 1.3-.2 1.3-1.3 1.3-2.3 5.2-12.6 1.3-2.1 1.3-1.1 1.3 0 1.3 1.1 1.3 1.9 3.9 7.3 1.3 1.8 1.3 .8 1.3-.3 1.3-1.3 1.3-2.4 5.2-12.7 1.4-2.2 1.3-1.2 1.3 0 1.3 1 1.3 1.8 3.9 7.2 1.3 1.7 1.3 .8 1.3-.4 1.3-1.4 1.3-2.3 3.9-10 1.3-3 1.3-2.3 1.3-1.2 1.3-.1 1.3 .9 1.3 1.8-1.6-9.7-1.3-6.8-1.3-4.1-1.3-.7-1.3 2.9-1.3 5.9-1.3 8.5-3.9 28.6-1.3 6.5-1.3 3.4-1.3 0-1.3-3.5-1.3-6.4-3.9-26-1.3-6.8-1.3-4.1-1.3-.8-1.3 2.7-1.3 5.9-5.2 36.8-1.3 6.5-1.3 3.4-1.3-.1-1.3-3.5-1.3-6.4-3.9-26.2-1.3-6.9-1.3-4.2-1.3-.8-1.3 2.6-1.3 5.8-5.2 36.6-1.3 6.5-1.3 3.3-1.3-.1-1.3-3.5-1.3-6.5-3.9-26.3-1.3-7-1.3-4.3-1.3-.9-1.3 2.6-1.3 5.7-5.2 36.4-1.3 6.4-1.3 3.3-1.3-.1-1.3-3.6-1.3-6.5-3.9-26.5-1.3-7-1.3-4.4-1.3-1-1.3 2.5-1.3 5.7-1.3 8.1-3.9 28-1.3 6.4-1.3 3.3-1.3-.2-1.3-3.6-1.3-6.5-3.9-26.7-1.3-7.1-1.4-4.5-1.3-1.1-1.3 2.4-1.3 5.7-1.3 8.1-3.9 27.8-1.3 6.3-1.3 3.3-1.3-.3-1.3-3.6-1.3-6.5-3.9-26.9-1.3-7.2-1.3-4.5-1.3-1.2-1.3 2.4-1.3 5.5-1.3 8z"/><path fill="none" d="M131.5 591.9l4.2 3.7 1-18.4 4.2 21.2 1 8.8 4.2 1.2 1 17.8 4.2-20.2 1-7.7 4.2-4.2 1-21.5 4.2 20.1 1.1 1.4 4.1 8.6 1.1 19.4 4.1-17.9 1.1-.2 4.1-11.3 1.1-21.9 4.1 16.3 1.1-6.4 4.1 14.8 1.1 18.2 4.1-13.1 1.1 7.1 4.1-16.9 1.1-19.5 4.1 10.4 1.1-13.5 4.1 19.1 1.1 14.2 4.1-6.5 1.1 13.3 4.1-20.1 1.1-14.6 4.1 2.9 1.1-18.9 4.1 20.8 1.1 8.1 4.1 1 1.1 17.4 4.1-20.6 1.1-7.9 4.1-4.8 1.1-22 4.2 19.6 1 .7 4.2 8.3 1 19 4.2-18.3 1-.4 4.2-11.9 1-22.3 4.2 15.7 1-7"/></g>
<g transform="translate(-83.9 -36.9)"><path d="M133.1 608l1.3 3.2 1.3 2.1 1.3 .7 1.3-.7 1.3-2.2 1.3-3.3 3.9-12.1 1.3-3 1.3-1.8 1.3-.4 1.3 1.1 1.3 2.4 3.9 10.8 1.3 3.1 1.3 2 1.3 .7 1.3-.8 1.3-2.2 1.3-3.3 3.9-12.3 1.3-3.1 1.3-1.9 1.3-.4 1.3 1 1.3 2.3 3.9 10.7 1.3 3 1.3 2 1.3 .7 1.3-.9 1.3-2.2 1.3-3.4 3.9-12.5 1.3-3.1 1.3-2 1.3-.5 1.3 1 1.3 2.2 3.9 10.5 1.3 3 1.3 2 1.3 .6 1.3-.9 1.3-2.3 1.3-3.5 3.9-12.6 1.3-3.2 1.3-2 1.3-.6 1.3 .9 1.3 2.2 3.9 10.3 1.3 3 1.3 1.9 1.3 .5 1.3-.9 1.3-2.3 1.3-3.5 3.9-12.8 1.3-3.3 1.3-2.1 1.3-.6 1.3 .8 1.3 2.1 3.9 10.2 1.3 2.9 1.4 1.8 1.3 .5 1.3-.9 1.3-2.4 1.3-3.6 3.9-12.9 1.3-3.4 1.3-2.1 1.3-.7 1.3 .7 1.3 2.1 3.9 10 1.3 2.8 1.3 1.8 1.3 .5 1.3-1 1.3-2.5 1.3-3.5-1.6-10.4-1.3-1.8-1.3-.9-1.3 .1-1.3 1.3-1.3 2.2-1.3 3-3.9 10-1.3 2.4-1.3 1.4-1.3 .3-1.3-.8-1.3-1.7-3.9-7.2-1.3-1.8-1.3-1-1.3 .1-1.3 1.1-1.3 2.2-5.2 12.8-1.3 2.3-1.3 1.3-1.3 .3-1.3-.8-1.3-1.7-3.9-7.4-1.3-1.9-1.3-1.1-1.3 0-1.3 1.1-1.3 2.2-5.2 12.5-1.3 2.3-1.3 1.3-1.3 .2-1.3-.9-1.3-1.7-3.9-7.6-1.3-1.9-1.3-1.1-1.3-.1-1.3 1-1.3 2.1-5.2 12.3-1.3 2.2-1.3 1.3-1.3 .1-1.3-.9-1.3-1.8-3.9-7.7-1.3-2-1.3-1.2-1.3-.1-1.3 1-1.3 1.9-5.2 12.1-1.3 2.2-1.3 1.2-1.3 .1-1.3-.9-1.3-1.9-3.9-7.9-1.3-2-1.4-1.3-1.3-.2-1.3 .9-1.3 2-5.2 11.8-1.3 2.2-1.3 1.1-1.3 .1-1.3-1-1.3-1.9-3.9-8.1-1.3-2.1-1.3-1.3-1.3-.3-1.3 .9-1.3 1.8-1.3 2.7z"/><path fill="none" d="M133.1 608l1-13.1 4.2 18.4 1-15.6 4.2 1.9 1 8.1 4.2-17.2 1 14.8 4.2-4.2 1-7.6 4.2 17.1 1.1-18.5 4.1 8.1 1.1 1.8 4.1-15 1.1 16.5 4.1-10.3 1.1-1.2 4.1 13.6 1.1-19.2 4.1 13.4 1.1-4.9 4.1-10.7 1.1 15.7 4.1-15 1.1 5.2 4.1 8.3 1.1-17.4 4.1 16.8 1.1-11.2 4.1-4.9 1.1 12.6 4.1-17.5 1.1 10.7 4.1 1.8 1.1-13.5 4.1 18 1.1-16.1 4.1 1.6 1.1 7.5 4.1-17.6 1.1 14.5 4.1-4.9 1.1-7.9 4.2 16.6 1-19 4.2 7.9 1 1.1 4.2-15.3 1 16.1 4.2-11 1-1.4 4.2 13 1-19.6 4.2 13.1"/></g>
<g transform="translate(-82.4 -36.2)"><path d="M133.1 615.3l1.3 8.4 1.3 5.7 1.3 2.2 1.3-1.7 1.3-5.3 1.3-8.2 3.9-30.4 1.3-7.6 1.3-4.4 1.3-.6 1.3 3.1 1.3 6.5 3.9 29 1.3 8.3 1.3 5.7 1.3 2.1 1.3-1.6 1.3-5.4 1.3-8.2 3.9-30.6 1.3-7.6 1.3-4.5 1.3-.7 1.3 3 1.3 6.4 3.9 28.8 1.3 8.4 1.3 5.6 1.3 2.1 1.3-1.7 1.3-5.4 1.3-8.3 3.9-30.7 1.3-7.7 1.3-4.6 1.3-.8 1.3 3 1.3 6.3 3.9 28.6 1.3 8.3 1.3 5.6 1.3 2.1 1.3-1.7 1.3-5.4 1.3-8.4 3.9-30.9 1.3-7.8 1.3-4.6 1.3-.9 1.3 2.9 1.3 6.2 3.9 28.5 1.3 8.2 1.3 5.6 1.3 2 1.3-1.7 1.3-5.4 1.3-8.4 3.9-31.1 1.3-7.9 1.3-4.7 1.3-.9 1.3 2.8 1.3 6.1 3.9 28.3 1.3 8.2 1.4 5.5 1.3 2.1 1.3-1.8 1.3-5.5 1.3-8.4 3.9-31.3 1.3-7.9 1.3-4.8 1.3-1 1.3 2.7 1.3 6.1 3.9 28.1 1.3 8.1 1.3 5.5 1.3 2 1.3-1.8 1.3-5.5 1.3-8.4-1.6-9.5-1.3 3.6-1.3 2.4-1.3 1-1.3-.4-1.3-1.9-1.3-2.8-3.9-10-1.3-2-1.3-.8-1.3 .7-1.3 2.2-1.3 3.3-3.9 13-1.3 3.5-1.3 2.4-1.3 1-1.3-.6-1.3-1.8-1.3-2.9-3.9-10.2-1.3-2.1-1.3-.8-1.3 .6-1.3 2.1-1.3 3.3-3.9 12.8-1.3 3.5-1.3 2.3-1.3 .9-1.3-.5-1.3-1.9-1.3-3-3.9-10.3-1.3-2.2-1.3-.9-1.3 .6-1.3 2-1.3 3.3-3.9 12.6-1.3 3.4-1.3 2.3-1.3 .9-1.3-.6-1.3-2-1.3-3-3.9-10.4-1.3-2.3-1.3-1-1.3 .5-1.3 2-1.3 3.2-3.9 12.4-1.3 3.4-1.3 2.2-1.3 .9-1.3-.7-1.3-2-1.3-3-3.9-10.7-1.3-2.3-1.3-1-1.3 .4-1.3 1.9-1.3 3.1-3.9 12.3-1.3 3.3-1.4 2.2-1.3 .8-1.3-.7-1.3-2-1.3-3.1-3.9-10.8-1.3-2.4-1.3-1.1-1.3 .4-1.3 1.8-1.3 3-3.9 12.1-1.3 3.3-1.3 2.2-1.3 .7-1.3-.7-1.3-2.1-1.3-3.1z"/><path fill="none" d="M131.5 607.4l4.2 22 1-16.8 4.2 3.8 1-17.5 4.2-20.5 1 11.4 4.2-6.8 1 17.4 4.2 19.9 1-10.4 4.2 11.2 1.1-21.6 4.1-17.2 1.1 4 4.1-13.8 1.1 20 4.1 15.2 1.1-2.8 4.1 17.2 1.1-23 4.1-11.6 1.1-4 4.1-18.9 1.1 19.7 4.1 8.4 1.1 5 4.1 20.8 1.1-21.4 4.1-4.3 1.1-11.7 4.1-21.4 1.1 16.4 4.1 .6 1.1 11.9 4.1 21.6 1.1-17.1 4.1 3.6 1.1-18.1 4.1-20.9 1.1 10.8 4.1-7.5 1.1 17.1 4.1 19.4 1.1-10.6 4.2 10.9 1-22.1 4.2-17.6 1 3.4 4.2-14.4 1 19.5 4.2 14.7 1-3 4.2 16.8 1-23.4"/></g>
<g transform="translate(-80.9 -35.5)"><path d="M133.1 620.7l1.3 12.3 1.3 8.3 1.3 3.2 1.3-2.3 1.3-7.6 1.3-11.9 3.9-43.9 1.3-10.9 1.3-6.2 1.3-.9 1.3 4.6 1.3 9.6 3.9 42.3 1.3 12.3 1.3 8.3 1.3 3.2 1.3-2.3 1.3-7.6 1.3-11.9 3.9-44.1 1.3-11 1.3-6.4 1.3-.9 1.3 4.5 1.3 9.5 3.9 42.1 1.3 12.3 1.3 8.3 1.3 3.2 1.3-2.4 1.3-7.6 1.3-12 3.9-44.2 1.3-11.1 1.3-6.4 1.3-1.1 1.3 4.5 1.3 9.3 3.9 42 1.3 12.2 1.3 8.3 1.3 3.2 1.3-2.4 1.3-7.7 1.3-11.9 3.9-44.5 1.3-11.1 1.3-6.6 1.3-1.1 1.3 4.4 1.3 9.2 3.9 41.8 1.3 12.2 1.3 8.3 1.3 3.1 1.3-2.4 1.3-7.7 1.3-11.9 3.9-44.7 1.3-11.2 1.3-6.6 1.3-1.3 1.3 4.3 1.3 9.2 3.9 41.6 1.3 12.2 1.4 8.2 1.3 3.1 1.3-2.4 1.3-7.7 1.3-12 3.9-44.8 1.3-11.3 1.3-6.7 1.3-1.4 1.3 4.2 1.3 9.1 3.9 41.5 1.3 12.1 1.3 8.2 1.3 3.1 1.3-2.4 1.3-7.8 1.3-12-1.6-7.2-1.3 8.4-1.3 5.5-1.3 1.8-1.3-2-1.3-5.4-1.3-8.2-3.9-28.1-1.3-6.1-1.3-2.7-1.3 1-1.3 4.8-1.3 8-3.9 31.2-1.3 8.4-1.3 5.5-1.3 1.8-1.3-2-1.3-5.6-1.3-8.2-3.9-28.2-1.3-6.2-1.3-2.8-1.3 1-1.3 4.7-1.3 7.8-3.9 31.1-1.3 8.4-1.3 5.4-1.3 1.8-1.3-2.1-1.3-5.5-1.3-8.3-3.9-28.4-1.3-6.3-1.3-2.9-1.3 .9-1.3 4.7-1.3 7.7-3.9 30.9-1.3 8.4-1.3 5.4-1.3 1.7-1.3-2.1-1.3-5.6-1.3-8.3-3.9-28.6-1.3-6.3-1.3-3-1.3 .9-1.3 4.5-1.3 7.7-3.9 30.7-1.3 8.4-1.3 5.3-1.3 1.7-1.3-2.1-1.3-5.6-1.3-8.4-3.9-28.7-1.3-6.4-1.3-3.1-1.3 .7-1.3 4.5-1.3 7.6-3.9 30.6-1.3 8.3-1.4 5.3-1.3 1.7-1.3-2.2-1.3-5.6-1.3-8.4-3.9-29-1.3-6.4-1.3-3.2-1.3 .7-1.3 4.4-1.3 7.5-3.9 30.4-1.3 8.2-1.3 5.3-1.3 1.7-1.3-2.2-1.3-5.7-1.3-8.4z"/><path fill="none" d="M133.1 620.7l1 8 4.2 13.5 1-26.5 4.2-22.9 1-15 4.2-17 1 21.5 4.2 20.5 1 16.9 4.2 21.4 1.1-20.6 4.1-15.9 1.1-23 4.1-23.8 1.1 14.1 4.1 11.9 1.1 23.2 4.1 26.6 1.1-12.2 4.1-6.6 1.1-28 4.1-27.3 1.1 4.4 4.1 1.9 1.1 26.2 4.1 28 1.1-2.2 4.1 3.6 1.1-29.3 4.1-27.1 1.1-6 4.1-8.4 1.1 25.4 4.1 25.6 1.1 7.9 4.1 13.3 1.1-26.8 4.1-23.1 1.1-15.8 4.1-17.7 1.1 21 4.1 19.8 1.1 16.6 4.2 21.2 1-20.9 4.2-16 1-23.6 4.2-24.4 1 13.3 4.2 11.3 1 22.9 4.2 26.2 1-12.4 4.2-6.7"/></g>
<g transform="translate(-79.3 -34.9)"><path d="M133.1 623.3l1.3 14.2 1.3 9.7 1.3 3.7 1.3-2.6 1.3-8.8 1.3-13.6 3.9-50.5 1.3-12.5 1.3-7.2 1.3-1 1.3 5.4 1.3 11 3.9 48.9 1.3 14.1 1.3 9.7 1.3 3.7 1.3-2.7 1.3-8.7 1.3-13.7 3.9-50.6 1.3-12.6 1.3-7.3 1.3-1.1 1.3 5.3 1.3 10.9 3.9 48.7 1.3 14.1 1.3 9.6 1.3 3.7 1.3-2.6 1.3-8.8 1.3-13.7 3.9-50.8 1.3-12.7 1.3-7.4 1.3-1.2 1.3 5.2 1.3 10.8 3.9 48.5 1.3 14.1 1.3 9.6 1.3 3.7 1.3-2.6 1.3-8.8 1.3-13.7 3.9-51.1 1.3-12.7 1.3-7.5 1.3-1.3 1.3 5.1 1.3 10.7 3.9 48.4 1.3 14 1.3 9.6 1.3 3.7 1.3-2.7 1.3-8.8 1.3-13.7 3.9-51.2 1.3-12.9 1.3-7.6 1.3-1.3 1.3 5 1.3 10.6 3.9 48.1 1.3 14.1 1.4 9.5 1.3 3.7 1.3-2.7 1.3-8.8 1.3-13.8 3.9-51.3 1.3-13 1.3-7.7 1.3-1.4 1.3 4.9 1.3 10.5 3.9 47.9 1.3 14 1.3 9.6 1.3 3.7 1.3-2.8 1.3-8.8 1.3-13.8-1.6-3.9-1.3 12.1-1.3 7.7-1.3 2.4-1.3-3.1-1.3-8.2-1.3-12.1-3.9-41.5-1.3-9.1-1.3-4.1-1.3 1.3-1.3 6.7-1.3 11.3-3.9 44.8-1.3 12-1.3 7.7-1.3 2.5-1.3-3.2-1.3-8.2-1.3-12.2-3.9-41.6-1.3-9.2-1.3-4.2-1.3 1.2-1.3 6.7-1.3 11.2-3.9 44.6-1.3 12-1.3 7.7-1.3 2.3-1.3-3.1-1.3-8.3-1.3-12.1-3.9-41.9-1.3-9.2-1.3-4.4-1.3 1.2-1.3 6.5-1.3 11.1-3.9 44.5-1.3 12-1.3 7.6-1.3 2.4-1.3-3.2-1.3-8.3-1.3-12.2-3.9-42-1.3-9.3-1.3-4.5-1.3 1.1-1.3 6.4-1.3 11.1-3.9 44.3-1.3 11.9-1.3 7.6-1.3 2.4-1.3-3.2-1.3-8.3-1.3-12.2-3.9-42.2-1.3-9.4-1.3-4.6-1.3 1-1.3 6.3-1.3 11-3.9 44.1-1.3 11.9-1.4 7.6-1.3 2.4-1.3-3.3-1.3-8.3-1.3-12.3-3.9-42.3-1.3-9.5-1.3-4.7-1.3 .9-1.3 6.3-1.3 10.8-3.9 44-1.3 11.8-1.3 7.6-1.3 2.4-1.3-3.3-1.3-8.3-1.3-12.3z"/><path fill="none" d="M131.5 620l4.2 27.2 1-5.7 4.2-15.6 1-33.7 4.2-29.3 1-2.8 4.2 11 1 31 4.2 32 1 6.4 4.2-4.4 1.1-32.1 4.1-32.2 1.1-14.6 4.1-1.1 1.1 27 4.1 32.6 1.1 17.2 4.1 7.6 1.1-26.3 4.1-30.7 1.1-24.7 4.1-12.9 1.1 19.2 4.1 28.7 1.1 25.5 4.1 18.5 1.1-17 4.1-25 1.1-31.5 4.1-22.9 1.1 8.5 4.1 20.8 1.1 30.3 4.1 26.9 1.1-5.7 4.1-15.8 1.1-34.2 4.1-29.9 1.1-3.5 4.1 10.2 1.1 30.5 4.1 31.7 1.1 6.2 4.2-4.5 1-32.5 4.2-32.6 1-15.4 4.2-1.8 1 26.4 4.2 32 1 17.1 4.2 7.4 1-26.5"/></g>
<g transform="translate(-77.8 -34.2)"><path d="M133.1 622.9l1.3 13.8 1.3 9.3 1.3 3.7 1.3-2.6 1.3-8.5 1.3-13.3 3.9-49 1.3-12.2 1.3-6.9 1.3-1 1.3 5.2 1.3 10.7 3.9 47.5 1.3 13.7 1.3 9.3 1.3 3.7 1.3-2.6 1.3-8.5 1.3-13.3 3.9-49.3 1.3-12.2 1.3-7.1 1.3-1 1.3 5.1 1.3 10.6 3.9 47.3 1.3 13.7 1.3 9.3 1.3 3.6 1.3-2.6 1.3-8.5 1.3-13.3 3.9-49.4 1.3-12.4 1.3-7.1 1.3-1.2 1.3 5 1.3 10.5 3.9 47.1 1.3 13.7 1.3 9.3 1.3 3.6 1.3-2.6 1.3-8.6 1.3-13.3 3.9-49.6 1.3-12.4 1.3-7.3 1.3-1.2 1.3 4.9 1.3 10.4 3.9 46.9 1.3 13.7 1.3 9.3 1.3 3.5 1.3-2.6 1.3-8.5 1.3-13.4 3.9-49.7 1.3-12.5 1.3-7.4 1.3-1.3 1.3 4.8 1.3 10.3 3.9 46.7 1.3 13.6 1.4 9.3 1.3 3.6 1.3-2.7 1.3-8.6 1.3-13.3 3.9-50 1.3-12.5 1.3-7.5 1.3-1.5 1.3 4.8 1.3 10.2 3.9 46.5 1.3 13.6 1.3 9.2 1.3 3.6 1.3-2.6 1.3-8.6 1.3-13.4-1.6-.2-1.3 13.8-1.3 8.9-1.3 2.7-1.3-3.7-1.3-9.5-1.3-14-3.9-48-1.3-10.5-1.3-4.9-1.3 1.5-1.3 7.6-1.3 13-3.9 51.3-1.3 13.8-1.3 8.8-1.3 2.7-1.3-3.7-1.3-9.5-1.3-14.1-3.9-48.1-1.3-10.6-1.3-5-1.3 1.4-1.3 7.6-1.3 12.8-3.9 51.2-1.3 13.7-1.3 8.8-1.3 2.7-1.3-3.7-1.3-9.6-1.3-14-3.9-48.4-1.3-10.7-1.3-5-1.3 1.2-1.3 7.5-1.3 12.8-3.9 51-1.3 13.7-1.3 8.8-1.3 2.7-1.3-3.8-1.3-9.5-1.3-14.1-3.9-48.6-1.3-10.7-1.3-5.2-1.3 1.1-1.3 7.4-1.3 12.7-3.9 50.8-1.3 13.7-1.3 8.8-1.3 2.7-1.3-3.8-1.3-9.6-1.3-14.1-3.9-48.7-1.3-10.9-1.3-5.3-1.3 1.1-1.3 7.3-1.3 12.6-3.9 50.6-1.3 13.7-1.4 8.8-1.3 2.6-1.3-3.7-1.3-9.6-1.3-14.2-3.9-48.9-1.3-10.9-1.3-5.4-1.3 .9-1.3 7.2-1.3 12.5-3.9 50.5-1.3 13.7-1.3 8.7-1.3 2.6-1.3-3.7-1.3-9.6-1.3-14.2z"/><path fill="none" d="M133.1 622.9l1 23.6 4.2 .6 1-21.9 4.2-33.2 1-29.8 4.2-6 1 14.2 4.2 32.9 1 30.2 4.2 12.8 1.1-10.9 4.1-29.8 1.1-34.5 4.1-17.8 1.1 2.1 4.1 27.1 1.1 32.5 4.1 23.3 1.1 1.5 4.1-22.3 1.1-34.7 4.1-27.1 1.1-10.4 4.1 17.6 1.1 30.2 4.1 30.6 1.1 13.5 4.1-11.8 1.1-30.3 4.1-32.6 1.1-21.8 4.1 5.8 1.1 23.6 4.1 33.7 1.1 23.4 4.1 .5 1.1-22 4.1-33.7 1.1-30.3 4.1-6.8 1.1 13.4 4.1 32.3 1.1 29.9 4.2 12.7 1-11 4.2-30.1 1-35 4.2-18.5 1 1.3 4.2 26.4 1 32.1 4.2 23 1 1.5 4.2-22.5"/></g>
<g transform="translate(-76.2 -33.5)"><path d="M133.1 619.4l1.3 11.2 1.3 7.5 1.3 2.9 1.3-2.1 1.3-6.9 1.3-10.8 3.9-39.8 1.3-9.9 1.3-5.7 1.3-.8 1.3 4.2 1.3 8.6 3.9 38.3 1.3 11.1 1.3 7.5 1.3 2.9 1.3-2.1 1.3-7 1.3-10.8 3.9-40 1.3-9.9 1.3-5.8 1.3-.9 1.3 4.1 1.3 8.5 3.9 38.1 1.3 11.1 1.3 7.5 1.3 2.9 1.3-2.2 1.3-7 1.3-10.8 3.9-40.2 1.3-10 1.3-5.9 1.3-1 1.3 4 1.3 8.4 3.9 38 1.3 11 1.3 7.5 1.3 2.9 1.3-2.2 1.3-7 1.3-10.9 3.9-40.3 1.3-10.2 1.3-5.9 1.3-1.1 1.3 3.9 1.3 8.4 3.9 37.8 1.3 10.9 1.3 7.5 1.3 2.8 1.3-2.2 1.3-7 1.3-10.9 3.9-40.5 1.3-10.2 1.3-6.1 1.3-1.2 1.3 3.9 1.3 8.2 3.9 37.6 1.3 11 1.4 7.4 1.3 2.8 1.3-2.2 1.3-7 1.3-11 3.9-40.7 1.3-10.2 1.3-6.2 1.3-1.3 1.3 3.8 1.3 8.2 3.9 37.4 1.3 10.9 1.3 7.4 1.3 2.8 1.3-2.3 1.3-7 1.3-11-1.6 3.6-1.3 13.4-1.3 8.6-1.3 2.6-1.3-3.5-1.3-9.3-1.3-13.6-3.9-46.5-1.3-10.2-1.3-4.7-1.3 1.4-1.3 7.5-1.3 12.6-3.9 49.9-1.3 13.4-1.3 8.5-1.3 2.7-1.3-3.6-1.3-9.3-1.3-13.6-3.9-46.7-1.3-10.3-1.3-4.8-1.3 1.3-1.3 7.4-1.3 12.5-3.9 49.7-1.3 13.4-1.3 8.5-1.3 2.7-1.3-3.6-1.3-9.3-1.3-13.6-3.9-47-1.3-10.3-1.3-5-1.3 1.3-1.3 7.3-1.3 12.4-3.9 49.5-1.3 13.4-1.3 8.5-1.3 2.6-1.3-3.6-1.3-9.3-1.3-13.7-3.9-47.1-1.3-10.4-1.3-5.1-1.3 1.2-1.3 7.2-1.3 12.3-3.9 49.4-1.3 13.3-1.3 8.5-1.3 2.6-1.3-3.6-1.3-9.3-1.3-13.7-3.9-47.3-1.3-10.6-1.3-5.1-1.3 1-1.3 7.1-1.3 12.3-3.9 49.2-1.3 13.3-1.4 8.5-1.3 2.6-1.3-3.7-1.3-9.3-1.3-13.7-3.9-47.5-1.3-10.6-1.3-5.3-1.3 1-1.3 7-1.3 12.1-3.9 49.1-1.3 13.2-1.3 8.5-1.3 2.6-1.3-3.6-1.3-9.4-1.3-13.8z"/><path fill="none" d="M131.5 622.2l4.2 15.9 1 8.3 4.2-25.2 1-29.9 4.2-19.8 1-16 4.2 22.3 1 24.8 4.2 24.6 1 18.4 4.2-17.1 1.1-23.6 4.1-27.2 1.1-25.1 4.1 12.6 1.1 16.6 4.1 30 1.1 25.8 4.1-6.5 1.1-14.3 4.1-30.8 1.1-30.9 4.1 1.1 1.1 6 4.1 31.4 1.1 29.4 4.1 5 1.1-3.2 4.1-30.2 1.1-32.7 4.1-10.4 1.1-5.6 4.1 28.3 1.1 29 4.1 15.7 1.1 8.1 4.1-25.4 1.1-30.3 4.1-20.4 1.1-16.7 4.1 21.5 1.1 24.2 4.1 24.4 1.1 18.2 4.2-17.2 1-23.9 4.2-27.8 1-25.7 4.2 11.8 1 15.9 4.2 29.7 1 25.5 4.2-6.7 1-14.4"/></g>
<g transform="translate(-74.7 -32.8)"><path d="M133.1 613.5l1.3 6.7 1.3 4.5 1.3 1.7 1.3-1.4 1.3-4.2 1.3-6.6 3.9-24.3 1.3-6.1 1.3-3.5 1.3-.6 1.3 2.5 1.3 5.1 3.9 22.9 1.3 6.7 1.3 4.4 1.3 1.7 1.3-1.4 1.3-4.3 1.3-6.6 3.9-24.5 1.3-6.2 1.3-3.6 1.3-.6 1.3 2.4 1.3 5 3.9 22.8 1.3 6.6 1.3 4.4 1.3 1.6 1.3-1.4 1.3-4.3 1.3-6.7 3.9-24.7 1.3-6.2 1.3-3.7 1.3-.7 1.3 2.3 1.3 5 3.9 22.6 1.3 6.6 1.3 4.3 1.3 1.6 1.3-1.4 1.3-4.4 1.3-6.7 3.9-24.9 1.3-6.2 1.3-3.8 1.3-.8 1.3 2.3 1.3 4.9 3.9 22.4 1.3 6.5 1.3 4.3 1.3 1.6 1.3-1.5 1.3-4.4 1.3-6.8 3.9-25 1.3-6.3 1.3-3.9 1.3-.8 1.3 2.1 1.3 4.9 3.9 22.2 1.3 6.5 1.4 4.3 1.3 1.5 1.3-1.5 1.3-4.5 1.3-6.8 3.9-25.2 1.3-6.4 1.3-3.9 1.3-.9 1.3 2.1 1.3 4.7 3.9 22.1 1.3 6.4 1.3 4.3 1.3 1.5 1.3-1.6 1.3-4.5 1.3-6.8-1.6 6.5-1.3 11-1.3 7.1-1.3 2.2-1.3-2.8-1.3-7.4-1.3-10.9-3.9-37.4-1.3-8.2-1.3-3.7-1.3 1.2-1.3 6.2-1.3 10.3-3.9 40.7-1.3 10.9-1.3 7-1.3 2.2-1.3-2.8-1.3-7.4-1.3-10.9-3.9-37.6-1.3-8.3-1.3-3.8-1.3 1.1-1.3 6.1-1.3 10.2-3.9 40.5-1.3 10.9-1.3 7-1.3 2.2-1.3-2.8-1.3-7.4-1.3-11-3.9-37.8-1.3-8.4-1.3-3.9-1.3 1.1-1.3 6-1.3 10.1-3.9 40.3-1.3 10.9-1.3 7-1.3 2.2-1.3-2.9-1.3-7.4-1.3-11.1-3.9-37.9-1.3-8.5-1.3-4-1.3 1-1.3 5.9-1.3 10-3.9 40.2-1.3 10.9-1.3 6.9-1.3 2.2-1.3-2.9-1.3-7.5-1.3-11-3.9-38.2-1.3-8.5-1.3-4.1-1.3 .9-1.3 5.8-1.3 9.9-3.9 40.1-1.3 10.8-1.4 6.9-1.3 2.1-1.3-2.9-1.3-7.5-1.3-11.1-3.9-38.3-1.3-8.6-1.3-4.2-1.3 .8-1.3 5.7-1.3 9.9-3.9 39.8-1.3 10.8-1.3 6.9-1.3 2.2-1.3-3-1.3-7.5-1.3-11.1z"/><path fill="none" d="M133.1 613.5l1 23.9 4.2-12.4 1-4.5 4.2-22.9 1-26.8 4.2 8.9 1-2.6 4.2 25.3 1 24.1 4.2-3.5 1.1 4.9 4.1-25.3 1.1-25.6 4.1-.6 1.1-11.9 4.1 25.7 1.1 21 4.1 5.8 1.1 13.4 4.1-24.2 1.1-20.9 4.1-10 1.1-19.8 4.1 22.7 1.1 14.7 4.1 14.5 1.1 19.9 4.1-19.8 1.1-13.6 4.1-18 1.1-25.1 4.1 16.6 1.1 6.2 4.1 21.1 1.1 23.5 4.1-12.6 1.1-4.7 4.1-23.4 1.1-27.3 4.1 8.2 1.1-3.3 4.1 24.8 1.1 23.7 4.2-3.7 1 4.7 4.2-25.8 1-25.8 4.2-1.4 1-12.6 4.2 25.2 1 20.4 4.2 5.7 1 13.2 4.2-24.6"/></g>
<g transform="translate(-73.2 -32.2)"><path d="M133.1 606.1l1.3 1.1 1.3 .8 1.3 .1 1.3-.4 1.3-.9 1.3-1.4 3.9-5 1.3-1.3 1.3-.8 1.3-.3 1.3 .3 1.3 .8 5.2 4.8 1.3 .7 1.3 .1 1.3-.4 1.3-1 1.3-1.5 3.9-5.2 1.3-1.3 1.3-.9 1.3-.3 1.3 .2 1.3 .8 5.2 4.6 1.3 .6 1.3 .1 1.3-.5 1.3-1.1 1.3-1.5 3.9-5.3 1.3-1.4 1.3-1 1.3-.4 1.3 .2 1.3 .7 5.2 4.4 1.3 .6 1.3 0 1.3-.6 1.3-1.1 1.3-1.5 3.9-5.5 1.3-1.5 1.3-1 1.3-.5 1.3 .1 1.3 .7 5.2 4.2 1.3 .5 1.3-.1 1.3-.6 1.3-1.1 1.3-1.6 3.9-5.7 1.3-1.5 1.3-1.1 1.3-.5 1.3 0 1.3 .6 5.2 4 1.4 .4 1.3-.1 1.3-.6 1.3-1.2 1.3-1.7 3.9-5.8 1.3-1.6 1.3-1.1 1.3-.6 1.3 0 1.3 .5 3.9 2.9 1.3 .8 1.3 .4 1.3-.1 1.3-.7 1.3-1.2 1.3-1.7-1.6 8.3-1.3 6.9-1.3 4.4-1.3 1.6-1.3-1.5-1.3-4.3-1.3-6.4-3.9-22.1-1.3-4.7-1.3-2.1-1.3 1-1.3 3.9-1.3 6.4-3.9 25.2-1.3 6.8-1.3 4.4-1.3 1.5-1.3-1.5-1.3-4.3-1.3-6.5-3.9-22.2-1.3-4.9-1.3-2.1-1.3 .9-1.3 3.8-1.3 6.3-3.9 25.1-1.3 6.7-1.3 4.4-1.3 1.5-1.3-1.5-1.3-4.4-1.3-6.5-3.9-22.4-1.3-4.9-1.3-2.3-1.3 .8-1.3 3.8-1.3 6.3-3.9 24.8-1.3 6.7-1.3 4.4-1.3 1.5-1.3-1.6-1.3-4.4-1.3-6.6-3.9-22.6-1.3-4.9-1.3-2.3-1.3 .7-1.3 3.7-1.3 6.1-3.9 24.7-1.3 6.7-1.3 4.3-1.3 1.5-1.3-1.7-1.3-4.4-1.3-6.6-3.9-22.8-1.3-5-1.3-2.4-1.3 .7-1.3 3.6-1.3 6.1-3.9 24.5-1.3 6.6-1.4 4.3-1.3 1.4-1.3-1.7-1.3-4.4-1.3-6.6-3.9-23-1.3-5.1-1.3-2.5-1.3 .6-1.3 3.5-1.3 6.1-3.9 24.3-1.3 6.6-1.3 4.3-1.3 1.3-1.3-1.7-1.3-4.5-1.3-6.6z"/><path fill="none" d="M131.5 612.9l4.2-4.9 1 16.4 4.2-19 1-8.4 4.2 2.1 1-20.1 4.2 20.1 1 2.6 4.2 2.2 1 18.4 4.2-19 1.1-1.4 4.1-5.3 1.1-20.8 4.1 18.5 1.1-4.8 4.1 9.2 1.1 17.6 4.1-16.4 1.1 5.6 4.1-11.8 1.1-19 4.1 14.5 1.1-11.7 4.1 14.8 1.1 14.4 4.1-11.6 1.1 11.7 4.1-16.7 1.1-14.8 4.1 8.6 1.1-17.2 4.1 18.4 1.1 8.9 4.1-5.1 1.1 16 4.1-19.4 1.1-8.7 4.1 1.5 1.1-20.6 4.1 19.6 1.1 2 4.1 2 1.1 17.9 4.2-19.4 1-1.7 4.2-5.8 1-21.3 4.2 18 1-5.4 4.2 8.8 1 17.2 4.2-16.8 1 5.4"/></g>
<g transform="translate(-71.6 -31.5)"><path d="M133.1 598.4l1.3-4.6 1.3-3.2 1.3-1.4 1.3 .6 1.3 2.5 1.3 4 3.9 15 1.3 3.6 1.3 2 1.3 0 1.3-1.9 1.3-3.7 5.2-20.8 1.3-3.3 1.3-1.4 1.3 .5 1.3 2.4 1.3 4 3.9 14.8 1.3 3.6 1.3 2 1.3-.1 1.3-1.9 1.3-3.8 5.2-21 1.3-3.3 1.3-1.6 1.3 .5 1.3 2.3 1.3 3.9 3.9 14.7 1.3 3.5 1.3 1.9 1.3 0 1.3-2 1.3-3.8 5.2-21.2 1.3-3.5 1.3-1.6 1.3 .4 1.3 2.3 1.3 3.8 3.9 14.5 1.3 3.5 1.3 1.9 1.3-.1 1.3-2.1 1.3-3.8 5.2-21.4 1.3-3.5 1.3-1.7 1.3 .3 1.3 2.2 1.3 3.8 3.9 14.3 1.3 3.5 1.3 1.8 1.3-.1 1.3-2.1 1.3-3.9 5.2-21.7 1.4-3.5 1.3-1.8 1.3 .3 1.3 2.1 1.3 3.7 3.9 14.2 1.3 3.4 1.3 1.8 1.3-.2 1.3-2.2 1.3-3.9 3.9-16.9 1.3-5 1.3-3.6 1.3-1.8 1.3 .2 1.3 2 1.3 3.7-1.6 8.7-1.3 1.7-1.3 1.2-1.3 .7-1.3 .2-1.3-.4-1.3-.8-3.9-3-1.3-.5-1.3 0-1.3 .6-1.3 1.1-1.3 1.6-3.9 5.9-1.3 1.6-1.3 1.2-1.3 .7-1.3 0-1.3-.4-5.2-4-1.3-.5-1.3-.1-1.3 .5-1.3 1.1-1.3 1.5-3.9 5.7-1.3 1.6-1.3 1.2-1.3 .6-1.3 0-1.3-.5-5.2-4.2-1.3-.6-1.3-.1-1.3 .4-1.3 1-1.3 1.5-3.9 5.5-1.3 1.6-1.3 1-1.3 .6-1.3 0-1.3-.6-5.2-4.4-1.3-.7-1.3-.1-1.3 .3-1.3 1-1.3 1.4-3.9 5.4-1.3 1.5-1.3 1-1.3 .5-1.3-.1-1.3-.6-5.2-4.6-1.3-.8-1.3-.2-1.3 .3-1.3 .9-1.3 1.4-3.9 5.2-1.3 1.4-1.4 1-1.3 .5-1.3-.2-1.3-.6-5.2-4.9-1.3-.8-1.3-.3-1.3 .3-1.3 .8-1.3 1.3-3.9 5-1.3 1.4-1.3 1-1.3 .4-1.3-.2-1.3-.7-1.3-1.2z"/><path fill="none" d="M133.1 598.4l1 8.9 4.2-17.5 1 14.9 4.2 1.8 1-8.1 4.2 18.5 1-18.5 4.2 2.3 1 2.6 4.2-17.5 1.1 16.8 4.1-5 1.1-1.6 4.1 17.1 1.1-19.5 4.1 8.7 1.1-4.3 4.1-15 1.1 16.2 4.1-11.1 1.1 4.9 4.1 13.3 1.1-17.7 4.1 13.8 1.1-10.7 4.1-10.5 1.1 13.2 4.1-15.6 1.1 10.6 4.1 7.7 1.1-13.9 4.1 17.1 1.1-15.8 4.1-4.6 1.1 8.3 4.1-18 1.1 14.6 4.1 1.1 1.1-8.3 4.1 18.1 1.1-19.1 4.1 2.1 1.1 1.9 4.2-17.9 1 16.4 4.2-5.6 1-1.9 4.2 16.6 1-19.9 4.2 8.4 1-4.9 4.2-15.4 1 15.7 4.2-11.6"/></g>
<g transform="translate(-70.1 -30.8)"><path d="M133.1 591.7l1.3-9.7 1.3-6.6 1.3-2.8 1.3 1.5 1.3 5.5 1.3 8.7 3.9 32.5 1.3 8 1.3 4.4 1.3 .3 1.3-3.9 1.3-7.6 3.9-33.5 1.3-9.7 1.3-6.7 1.3-2.9 1.3 1.4 1.3 5.4 1.3 8.7 3.9 32.3 1.3 8 1.3 4.4 1.3 .2 1.3-3.9 1.3-7.6 3.9-33.7 1.3-9.8 1.3-6.8 1.3-3 1.3 1.3 1.3 5.4 1.3 8.6 3.9 32.2 1.3 7.9 1.3 4.4 1.3 .2 1.3-4 1.3-7.6 3.9-33.8 1.3-9.9 1.3-6.9 1.3-3 1.3 1.2 1.3 5.2 1.3 8.5 3.9 32.1 1.3 7.8 1.3 4.4 1.3 .2 1.3-4 1.3-7.7 5.2-43.9 1.3-7 1.3-3.1 1.3 1.1 1.3 5.2 1.3 8.4 3.9 31.9 1.3 7.9 1.3 4.3 1.3 .2 1.3-4 1.3-7.8 5.2-44.1 1.4-7.1 1.3-3.2 1.3 1.1 1.3 5.1 1.3 8.3 3.9 31.7 1.3 7.8 1.3 4.3 1.3 .2 1.3-4 1.3-7.8 3.9-34.2 1.3-10.2 1.3-7.1 1.3-3.3 1.3 1 1.3 5 1.3 8.3-1.6 7.5-1.3-3.6-1.3-2.1-1.3-.2-1.3 1.8-1.3 3.6-1.3 5.1-3.9 16.8-1.3 4-1.3 2.1-1.3 .2-1.3-1.8-1.3-3.4-3.9-14.2-1.3-3.7-1.3-2.1-1.3-.3-1.3 1.8-1.3 3.5-5.2 21.7-1.3 3.9-1.3 2.1-1.3 .1-1.3-1.8-1.3-3.5-3.9-14.3-1.3-3.7-1.3-2.3-1.3-.3-1.3 1.7-1.3 3.5-5.2 21.4-1.3 3.9-1.3 2-1.3 .1-1.3-1.8-1.3-3.5-3.9-14.5-1.3-3.9-1.3-2.3-1.3-.3-1.3 1.6-1.3 3.4-5.2 21.2-1.3 3.8-1.3 2-1.3 .1-1.3-1.9-1.3-3.6-3.9-14.7-1.3-3.8-1.3-2.4-1.3-.4-1.3 1.5-1.3 3.3-5.2 21-1.3 3.8-1.3 2-1.3 0-1.3-2-1.3-3.6-3.9-14.8-1.3-3.9-1.4-2.5-1.3-.5-1.3 1.5-1.3 3.3-5.2 20.7-1.3 3.7-1.3 2-1.3-.1-1.3-2-1.3-3.6-3.9-15-1.3-4-1.3-2.5-1.3-.6-1.3 1.4-1.3 3.2-1.3 4.7z"/><path fill="none" d="M131.5 597.8l4.2-22.4 1 13.7 4.2-.8 1 17.5 4.2 23 1-12.5 4.2 5.7 1-21.9 4.2-21.3 1 6.3 4.2-9.1 1.1 20.9 4.1 20.1 1.1-4.6 4.1 13.3 1.1-24.1 4.1-17.2 1.1-2.1 4.1-16.2 1.1 21.3 4.1 14.6 1.1 3.7 4.1 19.1 1.1-23.1 4.1-10.7 1.1-10.5 4.1-20.9 1.1 18.5 4.1 7 1.1 11.4 4.1 22.3 1.1-19.1 4.1-2.8 1.1-17.6 4.1-22.9 1.1 13.1 4.1-1.5 1.1 17.3 4.1 22.5 1.1-12.8 4.1 5.5 1.1-22.5 4.1-21.6 1.1 5.6 4.2-9.7 1 20.5 4.2 19.5 1-4.8 4.2 13.1 1-24.6 4.2-17.4 1-2.9 4.2-16.7 1 20.8"/></g>
<g transform="translate(-68.5 -30.1)"><path d="M133.1 587l1.3-13.2 1.3-9 1.3-3.8 1.3 2.1 1.3 7.6 1.3 12.1 3.9 44.7 1.3 11 1.3 6.2 1.3 .4 1.3-5.2 1.3-10.4 3.9-45.6 1.3-13.3 1.3-9.1 1.3-3.9 1.3 2 1.3 7.5 1.3 12 3.9 44.6 1.3 10.9 1.3 6.2 1.3 .4 1.3-5.2 1.3-10.4 3.9-45.8 1.3-13.3 1.3-9.3 1.3-3.9 1.3 1.9 1.3 7.4 1.3 11.9 3.9 44.4 1.3 10.9 1.3 6.2 1.3 .4 1.3-5.3 1.3-10.4 3.9-45.9 1.3-13.4 1.3-9.4 1.3-4 1.3 1.8 1.3 7.3 1.3 11.8 3.9 44.3 1.3 10.9 1.3 6.1 1.3 .4 1.3-5.3 1.3-10.4 3.9-46.1 1.3-13.5 1.3-9.4 1.3-4.1 1.3 1.7 1.3 7.2 1.3 11.7 3.9 44.1 1.3 10.9 1.3 6.1 1.3 .4 1.3-5.3 1.3-10.5 5.2-59.8 1.4-9.5 1.3-4.2 1.3 1.6 1.3 7.1 1.3 11.6 3.9 44 1.3 10.8 1.3 6.1 1.3 .4 1.3-5.3 1.3-10.5 3.9-46.4 1.3-13.6 1.3-9.6 1.3-4.3 1.3 1.5 1.3 7 1.3 11.5-1.6 5.1-1.3-8.3-1.3-5-1.3-1-1.3 3.3-1.3 7.2-1.3 10.1-3.9 34.2-1.3 7.8-1.3 4-1.3-.1-1.3-4.3-1.3-7.8-3.9-31.8-1.3-8.3-1.3-5.1-1.3-1-1.3 3.2-1.3 7-5.2 44.2-1.3 7.7-1.3 4-1.3-.2-1.3-4.3-1.3-7.8-3.9-31.9-1.3-8.5-1.3-5.1-1.3-1.2-1.3 3.2-1.3 6.9-5.2 43.9-1.3 7.8-1.3 3.9-1.3-.2-1.3-4.3-1.3-7.9-3.9-32-1.3-8.6-1.3-5.2-1.3-1.2-1.3 3-1.3 6.9-1.3 9.9-3.9 33.8-1.3 7.7-1.3 3.9-1.3-.2-1.3-4.4-1.3-7.9-3.9-32.2-1.3-8.6-1.3-5.3-1.3-1.3-1.3 2.9-1.3 6.8-1.3 9.9-3.9 33.6-1.3 7.6-1.3 4-1.3-.3-1.3-4.4-1.3-7.9-3.9-32.4-1.3-8.7-1.4-5.4-1.3-1.4-1.3 2.9-1.3 6.7-1.3 9.8-3.9 33.4-1.3 7.7-1.3 3.9-1.3-.3-1.3-4.5-1.3-7.9-3.9-32.6-1.3-8.7-1.3-5.5-1.3-1.5-1.3 2.8-1.3 6.7-1.3 9.6z"/><path fill="none" d="M133.1 587l1-12.3 4.2-11.6 1 24.5 4.2 25.6 1 14.9 4.2 17 1-23.8 4.2-21.8 1-21.4 4.2-20.5 1.1 17.7 4.1 18.6 1.1 22.5 4.1 24.4 1.1-15.8 4.1-13.5 1.1-27.7 4.1-26.6 1.1 8.3 4.1 9 1.1 26.8 4.1 28.5 1.1-5.7 4.1-3.4 1.1-30.4 4.1-28.9 1.1-2.5 4.1-1.8 1.1 27.4 4.1 28.7 1.1 4.9 4.1 7.2 1.1-29.1 4.1-27.4 1.1-13 4.1-12.3 1.1 23.9 4.1 25 1.1 14.7 4.1 16.8 1.1-24 4.1-22.1 1.1-22.1 4.2-21.1 1 17 4.2 17.8 1 22.3 4.2 24.1 1-15.9 4.2-13.7 1-28.3 4.2-27.1 1 7.5 4.2 8.2"/></g>
<g transform="translate(-67 -29.5)"><path d="M133.1 585.2l1.3-14.6 1.3-10.1 1.3-4.1 1.3 2.3 1.3 8.4 1.3 13.4 3.9 49.8 1.3 12.2 1.3 6.8 1.3 .6 1.3-5.8 1.3-11.5 3.9-50.6 1.3-14.7 1.3-10.1 1.3-4.2 1.3 2.2 1.3 8.3 1.3 13.3 3.9 49.6 1.3 12.2 1.3 6.8 1.3 .6 1.3-5.9 1.3-11.4 3.9-50.7 1.3-14.8 1.3-10.2 1.3-4.4 1.3 2.2 1.3 8.2 1.3 13.2 3.9 49.4 1.3 12.2 1.3 6.8 1.3 .6 1.3-5.9 1.3-11.5 3.9-50.8 1.3-14.9 1.3-10.3 1.3-4.5 1.3 2.1 1.3 8.1 1.3 13.1 3.9 49.3 1.3 12.1 1.3 6.8 1.3 .6 1.3-5.9 1.3-11.5 3.9-51 1.3-14.9 1.3-10.5 1.3-4.5 1.3 1.9 1.3 8.1 1.3 13 3.9 49.1 1.3 12.1 1.3 6.8 1.3 .6 1.3-5.9 1.3-11.6 5.2-66.1 1.4-10.5 1.3-4.7 1.3 1.9 1.3 7.9 1.3 13 3.9 48.9 1.3 12.1 1.3 6.8 1.3 .5 1.3-5.9 1.3-11.6 3.9-51.3 1.3-15.1 1.3-10.6 1.3-4.7 1.3 1.7 1.3 7.9 1.3 12.9-1.6 1.6-1.3-11.6-1.3-7-1.3-1.5-1.3 4.3-1.3 9.6-1.3 13.7-3.9 46.3-1.3 10.5-1.3 5.4-1.3-.5-1.3-6-1.3-10.9-3.9-43.9-1.3-11.7-1.3-7.1-1.3-1.6-1.3 4.2-1.3 9.5-5.2 59.8-1.3 10.5-1.3 5.3-1.3-.4-1.3-6.1-1.3-10.9-3.9-44.1-1.3-11.7-1.3-7.2-1.3-1.7-1.3 4.1-1.3 9.4-1.3 13.5-3.9 46.1-1.3 10.4-1.3 5.4-1.3-.5-1.3-6.1-1.3-10.9-3.9-44.3-1.3-11.8-1.3-7.3-1.3-1.8-1.3 4-1.3 9.4-1.3 13.4-3.9 45.9-1.3 10.4-1.3 5.3-1.3-.4-1.3-6.1-1.3-11-3.9-44.4-1.3-11.9-1.3-7.4-1.3-1.9-1.3 3.9-1.3 9.3-1.3 13.3-3.9 45.8-1.3 10.4-1.3 5.3-1.3-.5-1.3-6.1-1.3-11-3.9-44.6-1.3-12-1.4-7.5-1.3-1.9-1.3 3.8-1.3 9.1-1.3 13.3-3.9 45.6-1.3 10.4-1.3 5.3-1.3-.5-1.3-6.2-1.3-11-3.9-44.7-1.3-12.1-1.3-7.6-1.3-2-1.3 3.7-1.3 9.1-1.3 13.2z"/><path fill="none" d="M131.5 586.4l4.2-25.9 1 1.9 4.2 18.1 1 32.1 4.2 29.9 1 2 4.2-11.9 1-33.7 4.2-31.6 1-10.3 4.2 6.5 1.1 29.7 4.1 33.2 1.1 13.7 4.1 0 1.1-29.3 4.1-32.8 1.1-21.5 4.1-5.7 1.1 23 4.1 32 1.1 23.4 4.1 12 1.1-21.2 4.1-29.6 1.1-29.7 4.1-17.4 1.1 13.1 4.1 26.5 1.1 29.6 4.1 22.3 1.1-10.2 4.1-22.3 1.1-34.2 4.1-26.5 1.1 1.2 4.1 17.3 1.1 31.6 4.1 29.6 1.1 1.9 4.1-12 1.1-34.1 4.1-32 1.1-11.2 4.2 5.8 1 29.1 4.2 32.8 1 13.5 4.2 0 1-29.6 4.2-33.3 1-22.1 4.2-6.6 1 22.4"/></g>
<g transform="translate(-65.5 -28.8)"><path d="M133.1 586.4l1.3-13.7 1.3-9.4 1.3-3.9 1.3 2.2 1.3 7.9 1.3 12.5 3.9 46.7 1.3 11.4 1.3 6.4 1.3 .5 1.3-5.5 1.3-10.7 3.9-47.5 1.3-13.8 1.3-9.5 1.3-4 1.3 2.1 1.3 7.8 1.3 12.4 3.9 46.5 1.3 11.4 1.3 6.4 1.3 .5 1.3-5.5 1.3-10.8 3.9-47.6 1.3-13.9 1.3-9.6 1.3-4.1 1.3 2 1.3 7.7 1.3 12.4 3.9 46.3 1.3 11.4 1.3 6.4 1.3 .5 1.3-5.5 1.3-10.8 3.9-47.8 1.3-14 1.3-9.7 1.3-4.2 1.3 1.9 1.3 7.6 1.3 12.3 3.9 46.2 1.3 11.4 1.3 6.3 1.3 .5 1.3-5.5 1.3-10.9 3.9-47.9 1.3-14 1.3-9.8 1.3-4.3 1.3 1.8 1.3 7.5 1.3 12.2 3.9 46 1.3 11.4 1.3 6.3 1.3 .5 1.3-5.6 1.3-10.8 5.2-62.2 1.4-9.9 1.3-4.4 1.3 1.7 1.3 7.4 1.3 12.2 3.9 45.8 1.3 11.3 1.3 6.4 1.3 .4 1.3-5.5 1.3-10.9 3.9-48.2 1.3-14.2 1.3-10 1.3-4.5 1.3 1.6 1.3 7.3 1.3 12.1-1.6-2.2-1.3-12.9-1.3-7.9-1.3-1.7-1.3 4.8-1.3 10.6-1.3 15.1-3.9 51.2-1.3 11.6-1.3 5.9-1.3-.5-1.3-6.8-1.3-12.1-3.9-48.9-1.3-13-1.3-7.9-1.3-1.8-1.3 4.6-1.3 10.5-5.2 66.1-1.3 11.6-1.3 5.9-1.3-.5-1.3-6.9-1.3-12.1-3.9-49.1-1.3-13-1.3-8-1.3-2-1.3 4.6-1.3 10.4-1.3 14.9-3.9 51-1.3 11.5-1.3 5.9-1.3-.5-1.3-6.8-1.3-12.2-3.9-49.2-1.3-13.2-1.3-8.1-1.3-2-1.3 4.4-1.3 10.3-1.3 14.9-3.9 50.8-1.3 11.5-1.3 5.9-1.3-.6-1.3-6.8-1.3-12.1-3.9-49.5-1.3-13.2-1.3-8.2-1.3-2.1-1.3 4.3-1.3 10.2-1.3 14.8-3.9 50.7-1.3 11.5-1.3 5.8-1.3-.5-1.3-6.9-1.3-12.2-3.9-49.5-1.3-13.3-1.4-8.4-1.3-2.2-1.3 4.2-1.3 10.2-1.3 14.7-3.9 50.5-1.3 11.5-1.3 5.8-1.3-.6-1.3-6.8-1.3-12.2-3.9-49.7-1.3-13.4-1.3-8.5-1.3-2.3-1.3 4.1-1.3 10.1-1.3 14.6z"/><path fill="none" d="M133.1 586.4l1-26.6 4.2 1.8 1 18.3 4.2 33.9 1 28 4.2 5.2 1-15.1 4.2-32.3 1-32.9 4.2-10.7 1.1 6.9 4.1 30.8 1.1 32 4.1 16.9 1.1-3.1 4.1-27.3 1.1-34.9 4.1-21.6 1.1-5.6 4.1 23.6 1.1 31.5 4.1 26.2 1.1 9.1 4.1-18.5 1.1-32.3 4.1-29.5 1.1-17.5 4.1 13.1 1.1 26.5 4.1 32 1.1 19.9 4.1-7.2 1.1-25.4 4.1-33.4 1.1-27.2 4.1 .9 1.1 17.5 4.1 33.5 1.1 27.7 4.1 5.2 1.1-15.3 4.1-32.6 1.1-33.5 4.2-11.5 1 6.1 4.2 30.3 1 31.6 4.2 16.8 1-3.3 4.2-27.5 1-35.3 4.2-22.3 1-6.5 4.2 23"/></g>
<g transform="translate(-63.9 -28.1)"><path d="M133.1 590.6l1.3-10.6 1.3-7.4 1.3-3 1.3 1.6 1.3 6.1 1.3 9.7 3.9 35.9 1.3 8.9 1.3 4.9 1.3 .3 1.3-4.3 1.3-8.3 3.9-36.9 1.3-10.8 1.3-7.4 1.3-3.1 1.3 1.5 1.3 6 1.3 9.6 3.9 35.8 1.3 8.8 1.3 4.9 1.3 .3 1.3-4.3 1.3-8.4 3.9-37 1.3-10.9 1.3-7.5 1.3-3.2 1.3 1.5 1.3 5.9 1.3 9.5 3.9 35.7 1.3 8.7 1.3 4.9 1.3 .3 1.3-4.3 1.3-8.5 3.9-37.2 1.3-10.9 1.3-7.6 1.3-3.3 1.3 1.4 1.3 5.8 1.3 9.5 3.9 35.5 1.3 8.7 1.3 4.8 1.3 .3 1.3-4.3 1.3-8.5 5.2-48.3 1.3-7.7 1.3-3.4 1.3 1.3 1.3 5.7 1.3 9.4 3.9 35.3 1.3 8.7 1.3 4.8 1.3 .3 1.3-4.4 1.3-8.5 5.2-48.6 1.4-7.7 1.3-3.5 1.3 1.2 1.3 5.7 1.3 9.2 3.9 35.2 1.3 8.7 1.3 4.8 1.3 .2 1.3-4.4 1.3-8.5 3.9-37.7 1.3-11.1 1.3-7.8 1.3-3.6 1.3 1.1 1.3 5.6 1.3 9.2-1.6-5.8-1.3-12-1.3-7.4-1.3-1.6-1.3 4.5-1.3 10-1.3 14.2-3.9 48.2-1.3 10.9-1.3 5.5-1.3-.4-1.3-6.4-1.3-11.3-3.9-45.8-1.3-12.1-1.3-7.5-1.3-1.6-1.3 4.3-1.3 9.9-5.2 62.2-1.3 10.9-1.3 5.5-1.3-.5-1.3-6.3-1.3-11.3-3.9-46-1.3-12.3-1.3-7.5-1.3-1.8-1.3 4.3-1.3 9.8-1.3 14.1-3.9 47.9-1.3 10.8-1.3 5.5-1.3-.4-1.3-6.4-1.3-11.4-3.9-46.1-1.3-12.3-1.3-7.7-1.3-1.8-1.3 4.1-1.3 9.7-1.3 14-3.9 47.8-1.3 10.8-1.3 5.5-1.3-.5-1.3-6.4-1.3-11.3-3.9-46.4-1.3-12.3-1.3-7.8-1.3-1.9-1.3 4-1.3 9.7-1.3 13.8-3.9 47.7-1.3 10.8-1.3 5.5-1.3-.5-1.3-6.4-1.3-11.5-3.9-46.4-1.3-12.5-1.4-7.8-1.3-2.1-1.3 4-1.3 9.5-1.3 13.8-3.9 47.5-1.3 10.8-1.3 5.5-1.3-.6-1.3-6.4-1.3-11.4-3.9-46.7-1.3-12.5-1.3-7.9-1.3-2.2-1.3 3.9-1.3 9.4-1.3 13.8z"/><path fill="none" d="M131.5 585.8l4.2-13.2 1-11.7 4.2 26.1 1 26.1 4.2 18.7 1 14.6 4.2-22 1-25.5 4.2-22.2 1-21.4 4.2 18.4 1.1 19.4 4.1 26 1.1 22.9 4.1-13.2 1.1-17.3 4.1-28.1 1.1-28.4 4.1 8.3 1.1 9.7 4.1 30 1.1 27.7 4.1-2.4 1.1-7 4.1-30.2 1.1-31.6 4.1-3 1.1-1.3 4.1 29.7 1.1 28.7 4.1 8.6 1.1 4.1 4.1-28.1 1.1-30.6 4.1-13.9 1.1-12.5 4.1 25.5 1.1 25.5 4.1 18.5 1.1 14.4 4.1-22.2 1.1-25.7 4.1-22.9 1.1-22 4.2 17.7 1 18.6 4.2 25.8 1 22.6 4.2-13.3 1-17.5 4.2-28.7 1-28.9 4.2 7.5 1 9"/></g>
<g transform="translate(-62.4 -27.4)"><path d="M133.1 597.1l1.3-5.9 1.3-4.1 1.3-1.8 1.3 .8 1.3 3.3 1.3 5.2 3.9 19.5 1.3 4.7 1.3 2.6 1.3 .1 1.3-2.4 1.3-4.7 3.9-20.5 1.3-6 1.3-4.2 1.3-1.8 1.3 .7 1.3 3.2 1.3 5.2 3.9 19.3 1.3 4.7 1.3 2.6 1.3 0 1.3-2.5 1.3-4.7 5.2-26.7 1.3-4.3 1.3-1.8 1.3 .6 1.3 3.1 1.3 5.1 3.9 19.2 1.3 4.6 1.3 2.6 1.3 0 1.3-2.5 1.3-4.8 5.2-27 1.3-4.3 1.3-1.9 1.3 .6 1.3 3 1.3 5 3.9 19 1.3 4.6 1.3 2.5 1.3 0 1.3-2.6 1.3-4.8 5.2-27.2 1.3-4.3 1.3-2.1 1.3 .5 1.3 3 1.3 5 3.9 18.8 1.3 4.5 1.3 2.5 1.3 0 1.3-2.6 1.3-4.9 5.2-27.4 1.4-4.5 1.3-2.1 1.3 .5 1.3 2.9 1.3 4.9 3.9 18.6 1.3 4.5 1.3 2.5 1.3-.1 1.3-2.7 1.3-4.9 3.9-21.3 1.3-6.3 1.3-4.5 1.3-2.2 1.3 .4 1.3 2.8 1.3 4.8-1.6-8.5-1.3-9.2-1.3-5.6-1.3-1.1-1.3 3.6-1.3 7.8-1.3 11.1-3.9 37.7-1.3 8.5-1.3 4.4-1.3-.2-1.3-4.8-1.3-8.7-3.9-35.1-1.3-9.3-1.3-5.7-1.3-1.2-1.3 3.5-1.3 7.8-5.2 48.5-1.3 8.5-1.3 4.4-1.3-.3-1.3-4.8-1.3-8.7-3.9-35.3-1.3-9.4-1.3-5.7-1.3-1.3-1.3 3.4-1.3 7.7-5.2 48.3-1.3 8.5-1.3 4.3-1.3-.2-1.3-4.9-1.3-8.7-3.9-35.5-1.3-9.5-1.3-5.8-1.3-1.4-1.3 3.4-1.3 7.5-1.3 10.9-3.9 37.2-1.3 8.5-1.3 4.3-1.3-.3-1.3-4.9-1.3-8.7-3.9-35.7-1.3-9.5-1.3-5.9-1.3-1.5-1.3 3.3-1.3 7.5-1.3 10.8-3.9 37-1.3 8.4-1.3 4.4-1.3-.4-1.3-4.9-1.3-8.7-3.9-35.9-1.3-9.6-1.4-6-1.3-1.5-1.3 3.1-1.3 7.4-1.3 10.8-3.9 36.9-1.3 8.4-1.3 4.3-1.3-.4-1.3-4.9-1.3-8.8-3.9-36-1.3-9.7-1.3-6.1-1.3-1.6-1.3 3-1.3 7.4-1.3 10.6z"/><path fill="none" d="M133.1 597.1l1-25.2 4.2 14.2 1 .2 4.2 21.6 1 23.2 4.2-9.6 1 2.2 4.2-22.8 1-24.9 4.2 5.9 1.1-8.9 4.1 24.4 1.1 21.1 4.1-.9 1.1 10.5 4.1-24.1 1.1-21.3 4.1-3.3 1.1-16.8 4.1 23.8 1.1 15.9 4.1 7.9 1.1 17.4 4.1-22.1 1.1-15.1 4.1-11.9 1.1-22.7 4.1 20.1 1.1 8.3 4.1 15.7 1.1 21.7 4.1-17.2 1.1-6.9 4.1-18.9 1.1-25.6 4.1 13.5 1.1-.5 4.1 21.3 1.1 22.7 4.1-9.7 1.1 1.9 4.1-23.3 1.1-25.2 4.2 5.1 1-9.5 4.2 23.9 1 20.5 4.2-1 1 10.3 4.2-24.5 1-21.7 4.2-3.9 1-17.5 4.2 23.3"/></g>
<g transform="translate(-60.8 -26.7)"><path d="M133.1 604.8l5.2-.9 9.1-.7 11.7-2.5 10.4-1.4 11.7-3 11.7-2.1 10.4-3.2 11.7-2.6 10.4-3.6 11.7-3.1 10.5-4.1 11.7-3.6 9.1-4 5.2-1.9-1.6-10.1-1.3-4.8-1.3-2.8-1.3-.4-1.3 2.2-1.3 4.5-1.3 6.4-3.9 21.3-1.3 4.9-1.3 2.6-1.3 .1-1.3-2.4-1.3-4.6-3.9-18.6-1.3-4.9-1.3-2.9-1.3-.4-1.3 2.1-1.3 4.4-5.2 27.4-1.3 4.9-1.3 2.6-1.3 0-1.3-2.4-1.3-4.6-3.9-18.8-1.3-5-1.3-2.9-1.3-.6-1.3 2.1-1.3 4.4-5.2 27.1-1.3 4.9-1.3 2.5-1.3 0-1.3-2.5-1.3-4.6-3.9-19-1.3-5-1.3-3-1.3-.6-1.3 1.9-1.3 4.4-5.2 26.9-1.3 4.8-1.3 2.5-1.3 0-1.3-2.6-1.3-4.6-3.9-19.2-1.3-5-1.3-3.2-1.3-.6-1.3 1.9-1.3 4.2-5.2 26.7-1.3 4.8-1.3 2.4-1.3 0-1.3-2.6-1.3-4.7-3.9-19.3-1.3-5.1-1.4-3.2-1.3-.8-1.3 1.8-1.3 4.2-1.3 6-3.9 20.5-1.3 4.7-1.3 2.4-1.3-.1-1.3-2.6-1.3-4.7-3.9-19.5-1.3-5.2-1.3-3.2-1.3-.9-1.3 1.8-1.3 4.1-1.3 5.9z"/><path fill="none" d="M131.5 596.4l4.2 7.9 1-18.8 4.2 18.2 1 3.5 4.2-3.9 1 17.5 4.2-18.3 1-2.3 4.2 1 1-20 4.2 19.1 1.1-3.6 4.1 3 1.1 17.2 4.1-18.1 1.1 4.6 4.1-6.1 1.1-18.5 4.1 17.3 1.1-10.4 4.1 9.5 1.1 14.3 4.1-15.3 1.1 10.6 4.1-12.2 1.1-14.7 4.1 13.1 1.1-15.8 4.1 14.7 1.1 9.3 4.1-10.4 1.1 15 4.1-16.7 1.1-9.2 4.1 7.3 1.1-19.3 4.1 17.8 1.1 2.9 4.1-4.1 1.1 17.1 4.1-18.9 1.1-2.5 4.1 .4 1.1-20.4 4.2 18.6 1-4.3 4.2 2.8 1 16.7 4.2-18.5 1 4.3 4.2-6.6 1-19 4.2 16.8 1-11"/></g>
<g transform="translate(-59.3 -26.1)"><path d="M133.1 612.5l1.3 5.4 1.3 3.7 1.3 1.3 1.3-1.1 1.3-3.5 1.3-5.5 3.9-20 1.3-5 1.3-2.9 1.3-.5 1.3 2 1.3 4.1 3.9 18.7 1.3 5.4 1.3 3.6 1.3 1.3 1.3-1.2 1.3-3.5 1.3-5.5 3.9-20.2 1.3-5.1 1.3-3 1.3-.5 1.3 1.9 1.3 4.1 3.9 18.5 1.3 5.3 1.3 3.6 1.3 1.2 1.3-1.2 1.3-3.6 1.3-5.5 3.9-20.3 1.3-5.2 1.3-3 1.3-.7 1.3 1.8 1.3 4.1 3.9 18.3 1.3 5.3 1.3 3.5 1.3 1.3 1.3-1.3 1.3-3.6 1.3-5.6 3.9-20.5 1.3-5.2 1.3-3.2 1.3-.7 1.3 1.8 1.3 3.9 3.9 18.2 1.3 5.2 1.3 3.5 1.3 1.2 1.3-1.3 1.3-3.7 1.3-5.6 3.9-20.7 1.3-5.2 1.3-3.3 1.3-.7 1.3 1.6 1.3 3.9 3.9 18 1.3 5.2 1.4 3.4 1.3 1.2 1.3-1.3 1.3-3.7 1.3-5.7 3.9-20.9 1.3-5.3 1.3-3.3 1.3-.8 1.3 1.6 1.3 3.8 3.9 17.8 1.3 5.1 1.3 3.5 1.3 1.1 1.3-1.4 1.3-3.7 1.3-5.7-1.6-10.1-5.2 1.9-9.1 4-11.7 3.6-10.4 4.1-11.7 3.1-10.4 3.6-11.7 2.7-10.4 3.1-11.7 2.2-11.7 2.9-10.5 1.4-11.7 2.5-9.1 .8-5.2 .8z"/><path fill="none" d="M133.1 612.5l1-8.9 4.2 18.2 1-18.8 4.2-3.8 1 3.5 4.2-18.3 1 17.4 4.2 1 1-2.3 4.2 19 1.1-19.9 4.1 3 1.1-3.6 4.1-18 1.1 17.1 4.1-6 1.1 4.6 4.1 17.2 1.1-18.5 4.1 9.4 1.1-10.3 4.1-15.2 1.1 14.2 4.1-12 1.1 10.5 4.1 13.1 1.1-14.7 4.1 14.6 1.1-15.8 4.1-10.3 1.1 9.2 4.1-16.5 1.1 14.8 4.1 7.3 1.1-9.2 4.1 17.8 1.1-19.2 4.1-4.1 1.1 2.8 4.1-18.7 1.1 17 4.1 .3 1.1-2.5 4.2 18.5 1-20.3 4.2 2.7 1-4.2 4.2-18.4 1 16.6 4.2-6.6 1 4.3 4.2 16.7 1-18.9 4.2 9.2"/></g>
<g transform="translate(-57.8 -25.4)"><path d="M133.1 619l1.3 10.2 1.3 6.9 1.3 2.7 1.3-2 1.3-6.4 1.3-9.9 3.9-36.7 1.3-9.1 1.3-5.2 1.3-.8 1.3 3.9 1.3 7.8 3.9 35.2 1.3 10.2 1.3 6.9 1.3 2.7 1.3-2 1.3-6.4 1.3-10 3.9-36.8 1.3-9.2 1.3-5.4 1.3-.8 1.3 3.7 1.3 7.8 3.9 35.1 1.3 10.1 1.3 6.9 1.3 2.6 1.3-2 1.3-6.4 1.3-10 3.9-37.1 1.3-9.2 1.3-5.4 1.3-1 1.3 3.7 1.3 7.7 3.9 34.8 1.3 10.2 1.3 6.8 1.3 2.6 1.3-2 1.3-6.5 1.3-10 3.9-37.2 1.3-9.3 1.3-5.6 1.3-1 1.3 3.6 1.3 7.6 3.9 34.7 1.3 10.1 1.3 6.8 1.3 2.5 1.3-2 1.3-6.5 1.3-10 3.9-37.4 1.3-9.4 1.3-5.6 1.3-1.1 1.3 3.5 1.3 7.5 3.9 34.5 1.3 10 1.4 6.8 1.3 2.6 1.3-2.1 1.3-6.5 1.3-10.1 3.9-37.6 1.3-9.4 1.3-5.7 1.3-1.2 1.3 3.4 1.3 7.4 3.9 34.3 1.3 10 1.3 6.8 1.3 2.5 1.3-2.1 1.3-6.5 1.3-10.1-1.6-8.6-1.3 5.7-1.3 3.7-1.3 1.4-1.3-1.1-1.3-3.4-1.3-5.2-3.9-17.8-1.3-3.8-1.3-1.6-1.3 .9-1.3 3.2-1.3 5.4-3.9 20.8-1.3 5.7-1.3 3.7-1.3 1.3-1.3-1.1-1.3-3.5-1.3-5.2-3.9-18-1.3-3.8-1.3-1.7-1.3 .8-1.3 3.2-1.3 5.2-3.9 20.8-1.3 5.6-1.3 3.6-1.3 1.3-1.3-1.2-1.3-3.5-1.3-5.2-3.9-18.2-1.3-3.9-1.3-1.8-1.3 .7-1.3 3.2-1.3 5.2-3.9 20.5-1.3 5.6-1.3 3.6-1.3 1.3-1.3-1.3-1.3-3.5-1.3-5.3-3.9-18.3-1.3-4-1.3-1.9-1.3 .7-1.3 3-1.3 5.2-3.9 20.3-1.3 5.6-1.3 3.6-1.3 1.2-1.3-1.3-1.3-3.6-1.3-5.3-3.9-18.5-1.3-4.1-1.3-1.9-1.3 .6-1.3 3-1.3 5-3.9 20.2-1.3 5.5-1.4 3.5-1.3 1.2-1.3-1.3-1.3-3.6-1.3-5.4-3.9-18.7-1.3-4.1-1.3-2-1.3 .5-1.3 2.9-1.3 5-3.9 20.1-1.3 5.4-1.3 3.5-1.3 1.1-1.3-1.3-1.3-3.7-1.3-5.4z"/><path fill="none" d="M131.5 611.8l4.2 24.3 1-15 4.2-.6 1-22 4.2-23.8 1 9 4.2-3.3 1 21.7 4.2 23.7 1-7 4.2 8.2 1.1-25.1 4.1-21.7 1.1 .2 4.1-11.9 1.1 23 4.1 19.9 1.1 1.8 4.1 15.8 1.1-24.9 4.1-16.7 1.1-8.8 4.1-18.7 1.1 20.9 4.1 13.4 1.1 10.2 4.1 21.3 1.1-21.4 4.1-9.4 1.1-16.7 4.1-23.1 1.1 15.8 4.1 5.1 1.1 17 4.1 23.9 1.1-15.3 4.1-.7 1.1-22.6 4.1-24.2 1.1 8.3 4.1-4 1.1 21.3 4.1 23.2 1.1-7.2 4.2 8 1-25.5 4.2-22.2 1-.4 4.2-12.5 1 22.4 4.2 19.3 1 1.7 4.2 15.5 1-25.2"/></g>
<g transform="translate(-56.2 -24.7)"><path d="M133.1 623.2l1.3 13.3 1.3 9.1 1.3 3.5 1.3-2.5 1.3-8.2 1.3-12.9 3.9-47.5 1.3-11.8 1.3-6.8 1.3-.9 1.3 5 1.3 10.4 3.9 45.9 1.3 13.3 1.3 9.1 1.3 3.5 1.3-2.5 1.3-8.3 1.3-12.9 3.9-47.7 1.3-11.8 1.3-6.9 1.3-1 1.3 4.9 1.3 10.3 3.9 45.7 1.3 13.3 1.3 9 1.3 3.5 1.3-2.5 1.3-8.3 1.3-12.9 3.9-47.9 1.3-11.9 1.3-7 1.3-1.1 1.3 4.9 1.3 10.1 3.9 45.6 1.3 13.3 1.3 8.9 1.3 3.5 1.3-2.5 1.3-8.3 1.3-12.9 3.9-48.1 1.3-12 1.3-7.1 1.3-1.2 1.3 4.8 1.3 10 3.9 45.4 1.3 13.2 1.3 9 1.3 3.5 1.3-2.6 1.3-8.3 1.3-12.9 3.9-48.3 1.3-12.1 1.3-7.2 1.3-1.3 1.3 4.7 1.3 10 3.9 45.2 1.3 13.2 1.4 8.9 1.3 3.5 1.3-2.6 1.3-8.3 1.3-13 3.9-48.4 1.3-12.2 1.3-7.3 1.3-1.4 1.3 4.6 1.3 9.9 3.9 45 1.3 13.2 1.3 8.9 1.3 3.4 1.3-2.5 1.3-8.4 1.3-13-1.6-5.8-1.3 10.1-1.3 6.5-1.3 2.1-1.3-2.5-1.3-6.7-1.3-10-3.9-34.3-1.3-7.5-1.3-3.4-1.3 1.2-1.3 5.7-1.3 9.5-3.9 37.5-1.3 10.1-1.3 6.5-1.3 2.1-1.3-2.6-1.3-6.8-1.3-10-3.9-34.5-1.3-7.5-1.3-3.5-1.3 1.1-1.3 5.6-1.3 9.4-3.9 37.4-1.3 10-1.3 6.5-1.3 2.1-1.3-2.6-1.3-6.8-1.3-10.1-3.9-34.6-1.3-7.7-1.3-3.6-1.3 1.1-1.3 5.5-1.3 9.3-3.9 37.2-1.3 10-1.3 6.5-1.3 2-1.3-2.6-1.3-6.8-1.3-10.1-3.9-34.9-1.3-7.7-1.3-3.6-1.3 .9-1.3 5.4-1.3 9.3-3.9 37-1.3 10-1.3 6.4-1.3 2-1.3-2.6-1.3-6.9-1.3-10.1-3.9-35-1.3-7.8-1.3-3.8-1.3 .9-1.3 5.3-1.3 9.2-3.9 36.8-1.3 10-1.4 6.4-1.3 2-1.3-2.7-1.3-6.9-1.3-10.1-3.9-35.2-1.3-7.9-1.3-3.9-1.3 .8-1.3 5.2-1.3 9.1-3.9 36.7-1.3 10-1.3 6.3-1.3 2-1.3-2.7-1.3-6.9-1.3-10.2z"/><path fill="none" d="M133.1 623.2l1 12.2 4.2 11.2 1-26.8 4.2-26.6 1-19.2 4.2-15.5 1 21.3 4.2 24.3 1 21 4.2 20.6 1.1-19.4 4.1-20.1 1.1-26.7 4.1-23.9 1.1 12.3 4.1 15.9 1.1 26.9 4.1 27.1 1.1-9.5 4.1-10.7 1.1-30.9 4.1-28.9 1.1 1.5 4.1 5.4 1.1 28.8 4.1 30.1 1.1 1.4 4.1 .2 1.1-31 4.1-30 1.1-9.7 4.1-5.8 1.1 26.6 4.1 28.8 1.1 12.1 4.1 11 1.1-27 4.1-27 1.1-19.8 4.1-16.3 1.1 20.6 4.1 23.7 1.1 20.8 4.2 20.4 1-19.6 4.2-20.3 1-27.3 4.2-24.6 1 11.6 4.2 15.2 1 26.6 4.2 26.8 1-9.7 4.2-10.8"/></g>
<g transform="translate(-54.7 -24)"><path d="M133.1 624.5l1.3 14.3 1.3 9.7 1.3 3.8 1.3-2.7 1.3-8.8 1.3-13.7 3.9-50.9 1.3-12.6 1.3-7.3 1.3-.9 1.3 5.4 1.3 11 3.9 49.3 1.3 14.3 1.3 9.7 1.3 3.8 1.3-2.7 1.3-8.8 1.3-13.8 3.9-51.1 1.3-12.7 1.3-7.3 1.3-1.1 1.3 5.4 1.3 10.9 3.9 49.1 1.3 14.3 1.3 9.6 1.3 3.8 1.3-2.7 1.3-8.8 1.3-13.8 3.9-51.3 1.3-12.7 1.3-7.5 1.3-1.1 1.3 5.2 1.3 10.9 3.9 48.9 1.3 14.2 1.3 9.6 1.3 3.8 1.3-2.7 1.3-8.8 1.3-13.9 3.9-51.4 1.3-12.8 1.3-7.6 1.3-1.3 1.3 5.2 1.3 10.8 3.9 48.7 1.3 14.2 1.3 9.6 1.3 3.8 1.3-2.8 1.3-8.8 1.3-13.9 3.9-51.6 1.3-12.9 1.3-7.6 1.3-1.4 1.3 5 1.3 10.7 3.9 48.6 1.3 14.1 1.4 9.6 1.3 3.8 1.3-2.8 1.3-8.8 1.3-13.9 3.9-51.8 1.3-13 1.3-7.7 1.3-1.5 1.3 4.9 1.3 10.6 3.9 48.4 1.3 14.1 1.3 9.6 1.3 3.7 1.3-2.7 1.3-8.9 1.3-13.9-1.6-2.3-1.3 13.1-1.3 8.3-1.3 2.6-1.3-3.5-1.3-8.9-1.3-13.2-3.9-45-1.3-9.9-1.3-4.5-1.3 1.4-1.3 7.2-1.3 12.2-3.9 48.4-1.3 13-1.3 8.3-1.3 2.6-1.3-3.4-1.3-9-1.3-13.2-3.9-45.2-1.3-10-1.3-4.6-1.3 1.3-1.3 7.1-1.3 12.1-3.9 48.3-1.3 12.9-1.3 8.3-1.3 2.6-1.3-3.5-1.3-8.9-1.3-13.3-3.9-45.4-1.3-10-1.3-4.8-1.3 1.2-1.3 7.1-1.3 12-3.9 48.1-1.3 12.9-1.3 8.3-1.3 2.6-1.3-3.5-1.3-9-1.3-13.3-3.9-45.6-1.3-10.1-1.3-4.9-1.3 1.1-1.3 7-1.3 12-3.9 47.9-1.3 12.9-1.3 8.2-1.3 2.6-1.3-3.5-1.3-9.1-1.3-13.2-3.9-45.8-1.3-10.2-1.3-5-1.3 1-1.3 6.9-1.3 11.8-3.9 47.8-1.3 12.8-1.4 8.3-1.3 2.5-1.3-3.5-1.3-9-1.3-13.3-3.9-46-1.3-10.3-1.3-5.1-1.3 .9-1.3 6.8-1.3 11.8-3.9 47.5-1.3 12.9-1.3 8.2-1.3 2.5-1.3-3.5-1.3-9.1-1.3-13.3z"/><path fill="none" d="M131.5 622.5l4.2 26 1-2.6 4.2-18.8 1-34.6 4.2-28.9 1-5.8 4.2 14 1 31.6 4.2 32 1 9.6 4.2-7.6 1.1-31.8 4.1-33.1 1.1-17.6 4.1 1.9 1.1 26.4 4.1 33.6 1.1 20.4 4.1 4.6 1.1-24.8 4.1-32.6 1.1-27.3 4.1-10.5 1.1 17.4 4.1 30.8 1.1 28.1 4.1 16.3 1.1-14.7 4.1-27.7 1.1-33.3 4.1-21.5 1.1 6 4.1 23.6 1.1 31.8 4.1 25.8 1.1-2.7 4.1-19 1.1-35 4.1-29.5 1.1-6.5 4.1 13.2 1.1 31 4.1 31.7 1.1 9.5 4.2-7.7 1-32.1 4.2-33.6 1-18.3 4.2 1 1 25.8 4.2 33.2 1 20.1 4.2 4.6 1-25.1"/></g>
<g transform="translate(-53.1 -23.4)"><path d="M133.1 622.6l1.3 13 1.3 8.8 1.3 3.4 1.3-2.5 1.3-8 1.3-12.4 3.9-46.2 1.3-11.4 1.3-6.6 1.3-.9 1.3 4.9 1.3 10 3.9 44.6 1.3 12.9 1.3 8.8 1.3 3.4 1.3-2.5 1.3-8 1.3-12.5 3.9-46.3 1.3-11.5 1.3-6.7 1.3-1 1.3 4.8 1.3 9.9 3.9 44.4 1.3 12.9 1.3 8.7 1.3 3.4 1.3-2.5 1.3-8 1.3-12.5 3.9-46.5 1.3-11.6 1.3-6.8 1.3-1.1 1.3 4.7 1.3 9.9 3.9 44.2 1.3 12.8 1.3 8.7 1.3 3.4 1.3-2.5 1.3-8 1.3-12.6 3.9-46.7 1.3-11.6 1.3-6.9 1.3-1.2 1.3 4.6 1.3 9.8 3.9 44 1.3 12.8 1.3 8.7 1.3 3.4 1.3-2.5 1.3-8.1 1.3-12.6 3.9-46.8 1.3-11.8 1.3-7 1.3-1.3 1.3 4.6 1.3 9.6 3.9 43.9 1.3 12.7 1.4 8.7 1.3 3.4 1.3-2.6 1.3-8 1.3-12.6 3.9-47.1 1.3-11.8 1.3-7.1 1.3-1.4 1.3 4.5 1.3 9.5 3.9 43.7 1.3 12.7 1.3 8.7 1.3 3.3 1.3-2.5 1.3-8.1 1.3-12.6-1.6 1.5-1.3 13.9-1.3 8.9-1.3 2.7-1.3-3.7-1.3-9.6-1.3-14.1-3.9-48.4-1.3-10.6-1.3-4.9-1.3 1.5-1.3 7.7-1.3 13.1-3.9 51.7-1.3 13.9-1.3 8.9-1.3 2.7-1.3-3.8-1.3-9.6-1.3-14.1-3.9-48.6-1.3-10.7-1.3-5-1.3 1.4-1.3 7.6-1.3 13-3.9 51.5-1.3 13.9-1.3 8.9-1.3 2.7-1.3-3.8-1.3-9.6-1.3-14.2-3.9-48.7-1.3-10.8-1.3-5.1-1.3 1.2-1.3 7.6-1.3 12.8-3.9 51.4-1.3 13.9-1.3 8.8-1.3 2.7-1.3-3.7-1.3-9.7-1.3-14.2-3.9-48.9-1.3-10.9-1.3-5.2-1.3 1.2-1.3 7.4-1.3 12.8-3.9 51.2-1.3 13.8-1.3 8.8-1.3 2.7-1.3-3.7-1.3-9.7-1.3-14.3-3.9-49-1.3-11-1.3-5.3-1.3 1-1.3 7.4-1.3 12.7-3.9 51-1.3 13.8-1.4 8.8-1.3 2.7-1.3-3.8-1.3-9.7-1.3-14.3-3.9-49.2-1.3-11.1-1.3-5.4-1.3 .9-1.3 7.3-1.3 12.6-3.9 50.9-1.3 13.7-1.3 8.8-1.3 2.7-1.3-3.8-1.3-9.7-1.3-14.3z"/><path fill="none" d="M133.1 622.6l1 25.2 4.2-2.5 1-18.9 4.2-32.9 1-30.6 4.2-3.1 1 11.4 4.2 32.8 1 30.7 4.2 9.7 1.1-7.7 4.1-30.7 1.1-34.1 4.1-15 1.1-.8 4.1 28.2 1.1 31.8 4.1 20.5 1.1 4.5 4.1-24.1 1.1-33.3 4.1-24.8 1.1-13 4.1 19.7 1.1 28.5 4.1 28.5 1.1 15.9 4.1-14.3 1.1-28.1 4.1-31.2 1.1-23.6 4.1 8.5 1.1 21.1 4.1 32.7 1.1 24.9 4.1-2.5 1.1-19.2 4.1-33.3 1.1-31.2 4.1-3.9 1.1 10.6 4.1 32.4 1.1 30.3 4.2 9.6 1-7.8 4.2-31 1-34.6 4.2-15.8 1-1.6 4.2 27.6 1 31.4 4.2 20.3 1 4.4 4.2-24.3"/></g>
<g transform="translate(-51.6 -22.7)"><path d="M133.1 618l1.3 9.4 1.3 6.5 1.3 2.4 1.3-1.8 1.3-5.9 1.3-9.3 3.9-34.1 1.3-8.5 1.3-4.9 1.3-.7 1.3 3.6 1.3 7.3 3.9 32.6 1.3 9.5 1.3 6.4 1.3 2.4 1.3-1.9 1.3-5.9 1.3-9.3 3.9-34.3 1.3-8.5 1.3-5 1.3-.8 1.3 3.5 1.3 7.2 3.9 32.5 1.3 9.4 1.3 6.3 1.3 2.5 1.3-1.9 1.3-6 1.3-9.3 3.9-34.5 1.3-8.6 1.3-5.1 1.3-.9 1.3 3.4 1.3 7.2 3.9 32.3 1.3 9.3 1.3 6.4 1.3 2.3 1.3-1.9 1.3-6 1.3-9.3 3.9-34.6 1.3-8.7 1.3-5.2 1.3-1 1.3 3.3 1.3 7.1 3.9 32.1 1.3 9.3 1.3 6.3 1.3 2.4 1.3-1.9 1.3-6.1 1.3-9.3 3.9-34.8 1.3-8.8 1.3-5.3 1.3-1 1.3 3.2 1.3 7 3.9 31.9 1.3 9.3 1.4 6.3 1.3 2.3 1.3-2 1.3-6 1.3-9.4 3.9-35 1.3-8.8 1.3-5.4 1.3-1.1 1.3 3.1 1.3 6.9 3.9 31.8 1.3 9.2 1.3 6.3 1.3 2.3 1.3-2 1.3-6.1 1.3-9.5-1.6 5.1-1.3 12.6-1.3 8.1-1.3 2.5-1.3-3.3-1.3-8.6-1.3-12.8-3.9-43.6-1.3-9.6-1.3-4.4-1.3 1.3-1.3 7.1-1.3 11.9-3.9 47-1.3 12.6-1.3 8.1-1.3 2.5-1.3-3.4-1.3-8.6-1.3-12.8-3.9-43.9-1.3-9.6-1.3-4.5-1.3 1.3-1.3 6.9-1.3 11.8-3.9 46.8-1.3 12.6-1.3 8.1-1.3 2.5-1.3-3.4-1.3-8.7-1.3-12.8-3.9-44-1.3-9.8-1.3-4.6-1.3 1.2-1.3 6.9-1.3 11.7-3.9 46.6-1.3 12.6-1.3 8-1.3 2.5-1.3-3.3-1.3-8.8-1.3-12.8-3.9-44.2-1.3-9.9-1.3-4.7-1.3 1.1-1.3 6.8-1.3 11.6-3.9 46.5-1.3 12.5-1.3 8.1-1.3 2.4-1.3-3.4-1.3-8.7-1.3-12.9-3.9-44.4-1.3-9.9-1.3-4.8-1.3 1-1.3 6.7-1.3 11.5-3.9 46.3-1.3 12.5-1.4 8-1.3 2.5-1.3-3.4-1.3-8.8-1.3-12.9-3.9-44.6-1.3-10-1.3-4.9-1.3 .9-1.3 6.6-1.3 11.4-3.9 46.2-1.3 12.5-1.3 8-1.3 2.4-1.3-3.4-1.3-8.8-1.3-12.9z"/><path fill="none" d="M131.5 622l4.2 11.9 1 10.8 4.2-25.4 1-26.5 4.2-16.1 1-17.6 4.2 22.9 1 21.3 4.2 20.8 1 19.6 4.2-18.6 1.1-19.7 4.1-23.9 1.1-25.3 4.1 14.5 1.1 12.9 4.1 26.8 1.1 25.5 4.1-9.2 1.1-10.4 4.1-28.3 1.1-29.8 4.1 4.1 1.1 2.6 4.1 29.2 1.1 27.8 4.1 1.3 1.1 .3 4.1-29 1.1-30.2 4.1-6.8 1.1-8.4 4.1 27.6 1.1 26.2 4.1 11.7 1.1 10.7 4.1-25.6 1.1-26.9 4.1-16.7 1.1-18.3 4.1 22.2 1.1 20.7 4.1 20.5 1.1 19.4 4.2-18.8 1-19.9 4.2-24.5 1-26 4.2 13.8 1 12.2 4.2 26.5 1 25.2 4.2-9.4 1-10.5"/></g>
<g transform="translate(-50.1 -22)"><path d="M133.1 611.2l1.3 4.4 1.3 3 1.3 1.1 1.3-.9 1.3-3 1.3-4.5 3.9-16.7 1.3-4.2 1.3-2.4 1.3-.5 1.3 1.6 1.3 3.4 3.9 15.4 1.3 4.4 1.3 3 1.3 1 1.3-1 1.3-3 1.3-4.5 3.9-16.9 1.3-4.3 1.3-2.5 1.3-.5 1.3 1.5 1.3 3.4 3.9 15.2 1.3 4.4 1.3 2.9 1.3 1 1.3-1.1 1.3-3 1.3-4.6 3.9-17.1 1.3-4.3 1.3-2.6 1.3-.6 1.3 1.5 1.3 3.3 3.9 15 1.3 4.3 1.3 2.9 1.3 1 1.3-1.1 1.3-3.1 1.3-4.7 3.9-17.2 1.3-4.3 1.3-2.7 1.3-.7 1.3 1.4 1.3 3.2 3.9 14.9 1.3 4.3 1.3 2.8 1.3 .9 1.3-1.1 1.3-3.1 1.3-4.7 3.9-17.4 1.3-4.4 1.3-2.8 1.3-.7 1.3 1.3 1.3 3.2 3.9 14.6 1.3 4.3 1.4 2.8 1.3 .8 1.3-1.1 1.3-3.2 1.3-4.7 3.9-17.6 1.3-4.5 1.3-2.8 1.3-.8 1.3 1.3 1.3 3 3.9 14.5 1.3 4.2 1.3 2.8 1.3 .8 1.3-1.2 1.3-3.2 1.3-4.8-1.6 7.6-1.3 9.4-1.3 6.1-1.3 2-1.3-2.3-1.3-6.2-1.3-9.3-3.9-31.7-1.3-7-1.3-3.1-1.3 1.2-1.3 5.3-1.3 8.8-3.9 35-1.3 9.4-1.3 6.1-1.3 1.9-1.3-2.3-1.3-6.3-1.3-9.3-3.9-31.9-1.3-7-1.3-3.2-1.3 1.1-1.3 5.2-1.3 8.8-3.9 34.8-1.3 9.3-1.3 6.1-1.3 1.9-1.3-2.3-1.3-6.3-1.3-9.4-3.9-32.1-1.3-7-1.3-3.3-1.3 .9-1.3 5.2-1.3 8.7-3.9 34.6-1.3 9.3-1.3 6.1-1.3 1.9-1.3-2.4-1.3-6.3-1.3-9.4-3.9-32.3-1.3-7.1-1.3-3.4-1.3 .9-1.3 5-1.3 8.6-3.9 34.5-1.3 9.3-1.3 6-1.3 1.9-1.3-2.4-1.3-6.4-1.3-9.4-3.9-32.5-1.3-7.2-1.3-3.5-1.3 .8-1.3 5-1.3 8.6-3.9 34.2-1.3 9.3-1.4 6-1.3 1.8-1.3-2.4-1.3-6.4-1.3-9.4-3.9-32.7-1.3-7.3-1.3-3.5-1.3 .7-1.3 4.9-1.3 8.4-3.9 34.1-1.3 9.3-1.3 5.9-1.3 1.8-1.3-2.4-1.3-6.4-1.3-9.5z"/><path fill="none" d="M133.1 611.2l1 22 4.2-14.4 1-.2 4.2-18.7 1-23.8 4.2 11.4 1-6.2 4.2 21.3 1 20.8 4.2-7.1 1.1 8.1 4.1-22.2 1.1-21.3 4.1 3.2 1.1-14.1 4.1 23.1 1.1 16.6 4.1 1.3 1.1 15 4.1-22.7 1.1-16 4.1-5.4 1.1-20.2 4.1 21.8 1.1 9.9 4.1 9.4 1.1 19.8 4.1-20.1 1.1-8.6 4.1-13.3 1.1-23.8 4.1 17.5 1.1 1.8 4.1 16.3 1.1 21.6 4.1-14.7 1.1-.3 4.1-19.3 1.1-24.3 4.1 10.8 1.1-6.9 4.1 21 1.1 20.2 4.2-7.3 1 7.9 4.2-22.7 1-21.7 4.2 2.6 1-14.8 4.2 22.7 1 16 4.2 1.1 1 14.7 4.2-23.1"/></g>
<g transform="translate(-48.5 -21.3)"><path d="M133.1 603.4l1.3-1.3 1.3-.9 1.3-.5 1.3 0 1.3 .5 1.3 .9 3.9 3.3 1.3 .7 1.3 .4 1.3-.2 1.3-.6 1.3-1.1 5.2-5.8 1.3-1 1.3-.5 1.3 0 1.3 .4 1.3 .8 3.9 3.1 1.3 .7 1.3 .3 1.3-.2 1.3-.7 1.3-1.1 5.2-6 1.3-1.1 1.3-.6 1.3-.1 1.3 .4 1.3 .8 3.9 2.9 1.3 .7 1.3 .2 1.3-.2 1.3-.8 1.3-1.1 5.2-6.3 1.3-1.1 1.3-.7 1.3-.1 1.3 .3 1.3 .7 3.9 2.8 1.3 .6 1.3 .2 1.3-.3 1.3-.8 1.3-1.2 5.2-6.5 1.3-1.2 1.3-.7 1.3-.2 1.3 .2 1.3 .7 3.9 2.6 1.3 .5 1.3 .2 1.3-.4 1.3-.8 1.3-1.3 5.2-6.7 1.4-1.2 1.3-.8 1.3-.3 1.3 .2 1.3 .6 3.9 2.5 1.3 .5 1.3 0 1.3-.4 1.3-.9 1.3-1.3 3.9-5.3 2.6-2.9 1.3-.8 1.3-.3 1.3 .1 1.3 .5-1.6 8.8-1.3 4.8-1.3 3.2-1.3 1.2-1.3-.8-1.3-2.8-1.3-4.1-3.9-14.5-1.3-3.1-1.3-1.3-1.3 .8-1.3 2.8-1.3 4.5-3.9 17.6-1.3 4.7-1.3 3.2-1.3 1.2-1.3-.9-1.3-2.8-1.3-4.2-3.9-14.7-1.3-3.2-1.3-1.3-1.3 .7-1.3 2.8-1.3 4.4-3.9 17.4-1.3 4.7-1.3 3.1-1.3 1.2-1.3-1-1.3-2.8-1.3-4.3-3.9-14.8-1.3-3.2-1.3-1.4-1.3 .6-1.3 2.7-1.3 4.4-3.9 17.2-1.3 4.6-1.3 3.1-1.3 1.1-1.3-1-1.3-2.8-1.3-4.4-3.9-15-1.3-3.3-1.3-1.4-1.3 .6-1.3 2.6-1.3 4.3-3.9 17-1.3 4.6-1.3 3-1.3 1.1-1.3-1-1.3-2.9-1.3-4.4-3.9-15.2-1.3-3.3-1.3-1.6-1.3 .5-1.3 2.6-1.3 4.2-3.9 16.9-1.3 4.6-1.4 2.9-1.3 1.1-1.3-1.1-1.3-3-1.3-4.4-3.9-15.4-1.3-3.4-1.3-1.6-1.3 .5-1.3 2.4-1.3 4.2-3.9 16.7-1.3 4.5-1.3 3-1.3 1-1.3-1.1-1.3-3-1.3-4.5z"/><path fill="none" d="M131.5 610.5l4.2-9.3 1 16.9 4.2-16 1-2.8 4.2 6.8 1-19.3 4.2 17.8 1-2.7 4.2-3.1 1 16.9 4.2-18 1.1 3.8 4.1 .1 1.1-18.2 4.1 18.3 1.1-9.2 4.1 3.5 1.1 14.3 4.1-17.5 1.1 9.8 4.1-6.6 1.1-14.7 4.1 16.3 1.1-14.8 4.1 9.7 1.1 9.7 4.1-14.6 1.1 14.2 4.1-12.4 1.1-9.4 4.1 12.1 1.1-18.4 4.1 14.5 1.1 3.5 4.1-9.6 1.1 16.5 4.1-16.5 1.1-3.1 4.1 6.2 1.1-19.7 4.1 17.4 1.1-3.3 4.1-3.4 1.1 16.4 4.2-18.5 1 3.6 4.2-.5 1-18.6 4.2 17.8 1-9.8 4.2 3.2 1 13.8 4.2-17.8 1 9.4"/></g>
<g transform="translate(-47 -20.7)"><path d="M133.1 595.8l1.3-6.8 1.3-4.8 1.3-2 1.3 1 1.3 3.8 1.3 6.1 3.9 22.7 1.3 5.5 1.3 3.1 1.3 .1 1.3-2.8 1.3-5.4 3.9-23.7 1.3-6.9 1.3-4.8 1.3-2.1 1.3 .9 1.3 3.8 1.3 6 3.9 22.5 1.3 5.5 1.3 3 1.3 .1 1.3-2.8 1.3-5.4 3.9-23.9 1.3-7 1.3-4.9 1.3-2.1 1.3 .8 1.3 3.7 1.3 5.9 3.9 22.4 1.3 5.4 1.3 3 1.3 .1 1.3-2.9 1.3-5.5 5.2-31 1.3-5 1.3-2.2 1.3 .7 1.3 3.6 1.3 5.9 3.9 22.2 1.3 5.4 1.3 3 1.3 0 1.3-2.9 1.3-5.5 5.2-31.3 1.3-5 1.3-2.3 1.3 .6 1.3 3.5 1.3 5.8 3.9 22.1 1.3 5.3 1.3 3 1.3 0 1.3-3 1.3-5.5 5.2-31.5 1.4-5.1 1.3-2.4 1.3 .6 1.3 3.4 1.3 5.7 3.9 21.9 1.3 5.3 1.3 2.9 1.3 0 1.3-3 1.3-5.6 3.9-24.5 1.3-7.2 1.3-5.2 1.3-2.5 1.3 .6 1.3 3.3 1.3 5.7-1.6 8.5-1.3-.5-1.3-.1-1.3 .3-1.3 .8-2.6 2.9-3.9 5.3-1.3 1.4-1.3 .9-1.3 .4-1.3-.1-1.3-.5-3.9-2.5-1.3-.5-1.3-.2-1.3 .2-1.3 .8-1.3 1.2-5.2 6.7-1.3 1.3-1.3 .9-1.3 .3-1.3-.1-1.3-.6-3.9-2.6-1.3-.6-1.3-.3-1.3 .2-1.3 .7-1.3 1.2-5.2 6.5-1.3 1.2-1.3 .8-1.3 .3-1.3-.2-1.3-.6-3.9-2.8-1.3-.7-1.3-.3-1.3 .2-1.3 .6-1.3 1.1-5.2 6.3-1.3 1.2-1.3 .7-1.3 .2-1.3-.2-1.3-.7-3.9-2.9-1.3-.8-1.3-.3-1.3 .1-1.3 .6-1.3 1-5.2 6-1.3 1.2-1.3 .6-1.3 .2-1.3-.3-1.3-.7-3.9-3.1-1.3-.8-1.4-.4-1.3 0-1.3 .6-1.3 .9-5.2 5.8-1.3 1.1-1.3 .6-1.3 .2-1.3-.4-1.3-.7-3.9-3.3-1.3-.9-1.3-.5-1.3 0-1.3 .5-1.3 .9-1.3 1.3z"/><path fill="none" d="M133.1 595.8l1 4.7 4.2-17.3 1 18.2 4.2 7.2 1-3.2 4.2 19.1 1-20.6 4.2-3.1 1-2.7 4.2-19.3 1.1 18.2 4.1 0 1.1 3.9 4.1 19.6 1.1-19.4 4.1 3.9 1.1-9.7 4.1-18.7 1.1 15.6 4.1-7.3 1.1 10.4 4.1 17.4 1.1-15.8 4.1 10.5 1.1-15.6 4.1-15.4 1.1 10.6 4.1-13.5 1.1 15.2 4.1 12.9 1.1-10.2 4.1 15.7 1.1-19.6 4.1-10.1 1.1 4 4.1-17.8 1.1 17.8 4.1 6.5 1.1-3.3 4.1 18.7 1.1-21.1 4.1-3.4 1.1-3.3 4.2-19.7 1 17.7 4.2-.7 1 3.7 4.2 19.1 1-19.8 4.2 3.7 1-10.4 4.2-19 1 15 4.2-7.9"/></g>
<g transform="translate(-45.4 -20)"><path d="M133.1 589.7l1.3-11.3 1.3-7.9 1.3-3.2 1.3 1.8 1.3 6.5 1.3 10.3 3.9 38.3 1.3 9.4 1.3 5.3 1.3 .4 1.3-4.6 1.3-8.9 3.9-39.3 1.3-11.4 1.3-7.9 1.3-3.3 1.3 1.7 1.3 6.4 1.3 10.2 3.9 38.2 1.3 9.4 1.3 5.2 1.3 .4 1.3-4.6 1.3-9 3.9-39.4 1.3-11.4 1.3-8 1.3-3.4 1.3 1.5 1.3 6.4 1.3 10.1 3.9 38 1.3 9.4 1.3 5.2 1.3 .3 1.3-4.6 1.3-9 3.9-39.5 1.3-11.6 1.3-8 1.3-3.5 1.3 1.5 1.3 6.2 1.3 10.1 3.9 37.8 1.3 9.3 1.3 5.2 1.3 .3 1.3-4.6 1.3-9 5.2-51.3 1.3-8.2 1.3-3.6 1.3 1.4 1.3 6.2 1.3 10 3.9 37.7 1.3 9.2 1.3 5.2 1.3 .3 1.3-4.6 1.3-9.1 5.2-51.5 1.4-8.3 1.3-3.6 1.3 1.3 1.3 6 1.3 9.9 3.9 37.6 1.3 9.2 1.3 5.1 1.3 .3 1.3-4.6 1.3-9.1 3.9-40 1.3-11.8 1.3-8.3 1.3-3.8 1.3 1.2 1.3 6 1.3 9.8-1.6 6.8-1.3-5.7-1.3-3.3-1.3-.5-1.3 2.4-1.3 5.2-1.3 7.2-3.9 24.5-1.3 5.6-1.3 3-1.3 0-1.3-2.8-1.3-5.4-3.9-21.8-1.3-5.8-1.3-3.4-1.3-.6-1.3 2.4-1.3 5.1-5.2 31.5-1.3 5.6-1.3 2.9-1.3 0-1.3-2.9-1.3-5.4-3.9-22-1.3-5.8-1.3-3.5-1.3-.7-1.3 2.3-1.3 5-5.2 31.3-1.3 5.5-1.3 2.9-1.3 0-1.3-3-1.3-5.4-3.9-22.2-1.3-5.8-1.3-3.6-1.3-.8-1.3 2.2-1.3 5-5.2 31.1-1.3 5.4-1.3 2.9-1.3-.1-1.3-2.9-1.3-5.5-3.9-22.4-1.3-5.9-1.3-3.7-1.3-.8-1.3 2.2-1.3 4.8-1.3 7-3.9 23.9-1.3 5.4-1.3 2.9-1.3-.1-1.3-3.1-1.3-5.5-3.9-22.5-1.3-6-1.4-3.7-1.3-.9-1.3 2-1.3 4.8-1.3 7-3.9 23.7-1.3 5.4-1.3 2.8-1.3-.2-1.3-3-1.3-5.6-3.9-22.7-1.3-6-1.3-3.9-1.3-.9-1.3 2-1.3 4.7-1.3 6.8z"/><path fill="none" d="M131.5 595.1l4.2-24.6 1 12 4.2 3.4 1 22 4.2 25.7 1-9.7 4.2 1.9 1-25.7 4.2-25 1 3.1 4.2-6.2 1.1 24.3 4.1 24.1 1.1-.5 4.1 10.9 1.1-26.5 4.1-21.9 1.1-6.4 4.1-14.9 1.1 23.1 4.1 19.3 1.1 8.6 4.1 18.4 1.1-23.7 4.1-15.8 1.1-15.3 4.1-21.4 1.1 18.6 4.1 11.7 1.1 16.3 4.1 23.5 1.1-18 4.1-7.5 1.1-22.2 4.1-25.1 1.1 11.4 4.1 2.6 1.1 21.7 4.1 25.2 1.1-9.9 4.1 1.7 1.1-26.2 4.1-25.3 1.1 2.3 4.2-6.9 1 23.9 4.2 23.6 1-.8 4.2 10.8 1-26.9 4.2-22.2 1-7.2 4.2-15.5 1 22.6"/></g>
<g transform="translate(-43.9 -19.3)"><path d="M133.1 586l1.3-14.1 1.3-9.6 1.3-4 1.3 2.2 1.3 8.1 1.3 12.9 3.9 47.8 1.3 11.7 1.3 6.5 1.3 .6 1.3-5.6 1.3-11.1 3.9-48.5 1.3-14.2 1.3-9.7 1.3-4.1 1.3 2.1 1.3 8 1.3 12.8 3.9 47.6 1.3 11.7 1.3 6.6 1.3 .5 1.3-5.6 1.3-11.1 3.9-48.7 1.3-14.2 1.3-9.9 1.3-4.1 1.3 2 1.3 7.9 1.3 12.7 3.9 47.4 1.3 11.7 1.3 6.5 1.3 .5 1.3-5.6 1.3-11.1 3.9-48.8 1.3-14.3 1.3-10 1.3-4.2 1.3 1.9 1.3 7.8 1.3 12.6 3.9 47.3 1.3 11.6 1.3 6.6 1.3 .5 1.3-5.7 1.3-11.1 3.9-49 1.3-14.4 1.3-10 1.3-4.4 1.3 1.9 1.3 7.7 1.3 12.5 3.9 47.1 1.3 11.6 1.3 6.6 1.3 .4 1.3-5.6 1.3-11.1 5.2-63.7 1.4-10.1 1.3-4.4 1.3 1.7 1.3 7.6 1.3 12.4 3.9 47 1.3 11.6 1.3 6.5 1.3 .5 1.3-5.7 1.3-11.1 3.9-49.4 1.3-14.5 1.3-10.2 1.3-4.6 1.3 1.7 1.3 7.5 1.3 12.3-1.6 3.9-1.3-9.9-1.3-5.9-1.3-1.2-1.3 3.7-1.3 8.3-1.3 11.8-3.9 40-1.3 9.1-1.3 4.7-1.3-.3-1.3-5.2-1.3-9.2-3.9-37.5-1.3-10-1.3-6-1.3-1.3-1.3 3.7-1.3 8.2-5.2 51.6-1.3 9-1.3 4.6-1.3-.3-1.3-5.1-1.3-9.3-3.9-37.7-1.3-10-1.3-6.1-1.3-1.4-1.3 3.6-1.3 8.1-5.2 51.3-1.3 9-1.3 4.7-1.3-.4-1.3-5.2-1.3-9.3-3.9-37.8-1.3-10.1-1.3-6.2-1.3-1.5-1.3 3.5-1.3 8.1-1.3 11.5-3.9 39.6-1.3 8.9-1.3 4.6-1.3-.3-1.3-5.2-1.3-9.4-3.9-38-1.3-10.1-1.3-6.3-1.3-1.6-1.3 3.4-1.3 8-1.3 11.5-3.9 39.4-1.3 8.9-1.3 4.6-1.3-.4-1.3-5.2-1.3-9.4-3.9-38.2-1.3-10.2-1.4-6.4-1.3-1.7-1.3 3.4-1.3 7.8-1.3 11.5-3.9 39.2-1.3 8.9-1.3 4.6-1.3-.4-1.3-5.3-1.3-9.4-3.9-38.3-1.3-10.3-1.3-6.5-1.3-1.8-1.3 3.3-1.3 7.8-1.3 11.3z"/><path fill="none" d="M133.1 586l1-16.1 4.2-9.4 1 24.7 4.2 28.8 1 18.9 4.2 15.2 1-23 4.2-25.6 1-25.1 4.2-19.5 1.1 16.4 4.1 22.3 1.1 26.1 4.1 24 1.1-13.6 4.1-17.6 1.1-30.7 4.1-27.1 1.1 5.8 4.1 12.7 1.1 29.6 4.1 29.5 1.1-2.5 4.1-7.2 1.1-32.3 4.1-30.8 1.1-5.9 4.1 1.4 1.1 28.9 4.1 31 1.1 8.8 4.1 4.2 1.1-29.7 4.1-30.4 1.1-16.8 4.1-10.1 1.1 24 4.1 28.2 1.1 18.8 4.1 14.9 1.1-23.1 4.1-25.9 1.1-25.7 4.2-20.2 1 15.6 4.2 21.6 1 25.9 4.2 23.7 1-13.7 4.2-17.8 1-31.3 4.2-27.6 1 5 4.2 11.9"/></g>
<g transform="translate(-42.4 -18.6)"><path d="M133.1 585.3l1.3-14.6 1.3-9.9 1.3-4.1 1.3 2.3 1.3 8.4 1.3 13.3 3.9 49.4 1.3 12.1 1.3 6.8 1.3 .6 1.3-5.8 1.3-11.4 3.9-50.3 1.3-14.6 1.3-10 1.3-4.2 1.3 2.2 1.3 8.3 1.3 13.2 3.9 49.3 1.3 12.1 1.3 6.8 1.3 .5 1.3-5.8 1.3-11.4 3.9-50.4 1.3-14.7 1.3-10.2 1.3-4.3 1.3 2.1 1.3 8.2 1.3 13.1 3.9 49.2 1.3 12 1.3 6.8 1.3 .6 1.3-5.9 1.3-11.4 3.9-50.5 1.3-14.8 1.3-10.3 1.3-4.4 1.3 2 1.3 8.1 1.3 13.1 3.9 48.9 1.3 12.1 1.3 6.8 1.3 .5 1.3-5.8 1.3-11.5 3.9-50.7 1.3-14.9 1.3-10.3 1.3-4.5 1.3 1.9 1.3 8 1.3 13 3.9 48.8 1.3 12 1.3 6.7 1.3 .6 1.3-5.9 1.3-11.5 5.2-65.7 1.4-10.5 1.3-4.6 1.3 1.8 1.3 7.9 1.3 12.9 3.9 48.6 1.3 12 1.3 6.8 1.3 .5 1.3-5.9 1.3-11.5 3.9-51 1.3-15 1.3-10.5 1.3-4.7 1.3 1.7 1.3 7.8 1.3 12.8-1.6 .2-1.3-12.4-1.3-7.5-1.3-1.6-1.3 4.5-1.3 10.2-1.3 14.6-3.9 49.3-1.3 11.1-1.3 5.7-1.3-.5-1.3-6.5-1.3-11.6-3.9-46.9-1.3-12.5-1.3-7.6-1.3-1.7-1.3 4.4-1.3 10.2-5.2 63.6-1.3 11.1-1.3 5.7-1.3-.5-1.3-6.5-1.3-11.7-3.9-47.1-1.3-12.5-1.3-7.7-1.3-1.8-1.3 4.3-1.3 10-1.3 14.4-3.9 49-1.3 11.1-1.3 5.7-1.3-.5-1.3-6.5-1.3-11.7-3.9-47.3-1.3-12.6-1.3-7.8-1.3-1.9-1.3 4.3-1.3 9.9-1.3 14.3-3.9 48.9-1.3 11-1.3 5.7-1.3-.5-1.3-6.6-1.3-11.7-3.9-47.4-1.3-12.7-1.3-7.9-1.3-2-1.3 4.2-1.3 9.8-1.3 14.2-3.9 48.7-1.3 11.1-1.3 5.6-1.3-.5-1.3-6.6-1.3-11.7-3.9-47.6-1.3-12.7-1.4-8-1.3-2.2-1.3 4.1-1.3 9.7-1.3 14.2-3.9 48.6-1.3 11-1.3 5.6-1.3-.5-1.3-6.6-1.3-11.7-3.9-47.8-1.3-12.8-1.3-8.1-1.3-2.3-1.3 4-1.3 9.7-1.3 14z"/><path fill="none" d="M131.5 585.3l4.2-24.5 1-.9 4.2 20.8 1 32.6 4.2 28.9 1 5.2 4.2-15 1-33.6 4.2-31.3 1-13.3 4.2 9.6 1.1 29.1 4.1 33.4 1.1 16.7 4.1-3.1 1.1-28.1 4.1-33.7 1.1-24 4.1-3.1 1.1 21.5 4.1 33.3 1.1 25.8 4.1 9.3 1.1-18.9 4.1-31.6 1.1-31.6 4.1-15.2 1.1 10.7 4.1 28.7 1.1 31.2 4.1 20.4 1.1-7.4 4.1-25 1.1-35.1 4.1-25.2 1.1-1.7 4.1 20.1 1.1 32.2 4.1 28.6 1.1 5.1 4.1-15.2 1.1-33.9 4.1-31.8 1.1-14.1 4.2 8.7 1 28.6 4.2 32.9 1 16.6 4.2-3.2 1-28.3 4.2-34.2 1-24.7 4.2-3.8 1 20.8"/></g>
<g transform="translate(-40.8 -17.9)"><path d="M133.1 587.7l1.3-12.7 1.3-8.8 1.3-3.6 1.3 2 1.3 7.3 1.3 11.6 3.9 43.1 1.3 10.6 1.3 5.9 1.3 .5 1.3-5.1 1.3-10 3.9-44 1.3-12.8 1.3-8.8 1.3-3.7 1.3 1.9 1.3 7.2 1.3 11.5 3.9 43 1.3 10.5 1.3 5.9 1.3 .5 1.3-5.1 1.3-10 3.9-44.2 1.3-12.8 1.3-8.9 1.3-3.8 1.3 1.8 1.3 7.1 1.3 11.4 3.9 42.8 1.3 10.5 1.3 5.9 1.3 .4 1.3-5.1 1.3-10 3.9-44.3 1.3-12.9 1.3-9 1.3-3.9 1.3 1.7 1.3 7 1.3 11.4 3.9 42.6 1.3 10.5 1.3 5.8 1.3 .5 1.3-5.2 1.3-10.1 3.9-44.4 1.3-13 1.3-9.1 1.3-4 1.3 1.6 1.3 7 1.3 11.3 3.9 42.4 1.3 10.5 1.3 5.8 1.3 .4 1.3-5.1 1.3-10.1 5.2-57.7 1.4-9.2 1.3-4 1.3 1.5 1.3 6.8 1.3 11.2 3.9 42.3 1.3 10.4 1.3 5.9 1.3 .3 1.3-5.1 1.3-10.1 3.9-44.7 1.3-13.2 1.3-9.3 1.3-4.2 1.3 1.5 1.3 6.7 1.3 11.1-1.6-3.6-1.3-12.8-1.3-7.8-1.3-1.7-1.3 4.7-1.3 10.5-1.3 15.1-3.9 51-1.3 11.5-1.3 5.8-1.3-.5-1.3-6.7-1.3-12-3.9-48.7-1.3-12.9-1.3-7.9-1.3-1.8-1.3 4.6-1.3 10.5-5.2 65.8-1.3 11.4-1.3 5.9-1.3-.5-1.3-6.8-1.3-12-3.9-48.8-1.3-13-1.3-8-1.3-1.9-1.3 4.5-1.3 10.4-1.3 14.8-3.9 50.7-1.3 11.5-1.3 5.8-1.3-.5-1.3-6.8-1.3-12-3.9-49-1.3-13.1-1.3-8.1-1.3-2-1.3 4.4-1.3 10.3-1.3 14.8-3.9 50.5-1.3 11.5-1.3 5.8-1.3-.5-1.3-6.8-1.3-12.1-3.9-49.1-1.3-13.2-1.3-8.2-1.3-2.1-1.3 4.3-1.3 10.2-1.3 14.7-3.9 50.4-1.3 11.4-1.3 5.8-1.3-.5-1.3-6.8-1.3-12.1-3.9-49.3-1.3-13.2-1.4-8.3-1.3-2.2-1.3 4.2-1.3 10.1-1.3 14.6-3.9 50.2-1.3 11.4-1.3 5.8-1.3-.5-1.3-6.9-1.3-12.1-3.9-49.4-1.3-13.3-1.3-8.4-1.3-2.3-1.3 4.1-1.3 10-1.3 14.5z"/><path fill="none" d="M133.1 587.7l1-27.6 4.2 4.5 1 15.4 4.2 32.9 1 28.6 4.2 2.1 1-11.9 4.2-32.1 1-32.7 4.2-7.7 1.1 3.9 4.1 31 1.1 31.5 4.1 13.6 1.1 0 4.1-28.2 1.1-33.6 4.1-18.7 1.1-8.4 4.1 24.9 1.1 29.9 4.1 23.4 1.1 11.7 4.1-20.5 1.1-30 4.1-27.2 1.1-19.6 4.1 15.4 1.1 24 4.1 30 1.1 21.6 4.1-10 1.1-22.4 4.1-32.1 1.1-28.2 4.1 3.7 1.1 14.7 4.1 32.4 1.1 28.4 4.1 1.9 1.1-11.9 4.1-32.6 1.1-33.2 4.2-8.4 1 3 4.2 30.5 1 31.1 4.2 13.5 1-.1 4.2-28.6 1-33.9 4.2-19.5 1-9.1 4.2 24.2"/></g>
<g transform="translate(-39.3 -17.3)"><path d="M133.1 592.8l1.3-8.9 1.3-6.1 1.3-2.6 1.3 1.3 1.3 5.1 1.3 8 3.9 29.7 1.3 7.3 1.3 4.1 1.3 .2 1.3-3.6 1.3-7 3.9-30.7 1.3-9 1.3-6.2 1.3-2.6 1.3 1.3 1.3 4.9 1.3 7.9 3.9 29.6 1.3 7.3 1.3 4 1.3 .2 1.3-3.6 1.3-7 3.9-30.9 1.3-9 1.3-6.3 1.3-2.7 1.3 1.1 1.3 4.9 1.3 7.8 3.9 29.5 1.3 7.2 1.3 4 1.3 .2 1.3-3.7 1.3-7 3.9-31.1 1.3-9.1 1.3-6.3 1.3-2.8 1.3 1 1.3 4.8 1.3 7.8 3.9 29.3 1.3 7.2 1.3 3.9 1.3 .2 1.3-3.7 1.3-7.1 5.2-40.4 1.3-6.4 1.3-2.9 1.3 1 1.3 4.7 1.3 7.7 3.9 29.2 1.3 7.1 1.3 3.9 1.3 .2 1.3-3.7 1.3-7.2 5.2-40.6 1.4-6.5 1.3-3 1.3 1 1.3 4.6 1.3 7.6 3.9 29 1.3 7.1 1.3 3.9 1.3 .1 1.3-3.8 1.3-7.1 3.9-31.5 1.3-9.3 1.3-6.6 1.3-3.1 1.3 .9 1.3 4.5 1.3 7.5-1.6-6.9-1.3-11.1-1.3-6.7-1.3-1.4-1.3 4.1-1.3 9.3-1.3 13.2-3.9 44.7-1.3 10.1-1.3 5.2-1.3-.4-1.3-5.8-1.3-10.5-3.9-42.3-1.3-11.2-1.3-6.8-1.3-1.5-1.3 4.1-1.3 9.1-5.2 57.7-1.3 10.1-1.3 5.1-1.3-.4-1.3-5.8-1.3-10.5-3.9-42.4-1.3-11.3-1.3-6.9-1.3-1.6-1.3 3.9-1.3 9.1-1.3 13.1-3.9 44.4-1.3 10-1.3 5.2-1.3-.4-1.3-5.9-1.3-10.5-3.9-42.6-1.3-11.4-1.3-7-1.3-1.7-1.3 3.9-1.3 9-1.3 12.9-3.9 44.3-1.3 10-1.3 5.2-1.3-.5-1.3-5.9-1.3-10.5-3.9-42.8-1.3-11.4-1.3-7.1-1.3-1.8-1.3 3.8-1.3 8.9-1.3 12.9-3.9 44.1-1.3 10-1.3 5.1-1.3-.5-1.3-5.9-1.3-10.5-3.9-42.9-1.3-11.6-1.4-7.2-1.3-1.9-1.3 3.7-1.3 8.9-1.3 12.8-3.9 43.9-1.3 10-1.3 5.1-1.3-.5-1.3-5.9-1.3-10.6-3.9-43.1-1.3-11.6-1.3-7.3-1.3-2-1.3 3.6-1.3 8.8-1.3 12.7z"/><path fill="none" d="M131.5 587l4.2-9.2 1-13.9 4.2 25.7 1 22.6 4.2 14.4 1 16.3 4.2-22.6 1-21.4 4.2-18.3 1-22.1 4.2 19.5 1.1 15.4 4.1 22.1 1.1 23 4.1-15.1 1.1-13.1 4.1-24.8 1.1-27.5 4.1 10.6 1.1 5.9 4.1 26.9 1.1 26.4 4.1-5.6 1.1-3.2 4.1-27.9 1.1-29.3 4.1 .4 1.1-4.6 4.1 27.9 1.1 26.1 4.1 4.6 1.1 7 4.1-27.2 1.1-27.2 4.1-10 1.1-14.5 4.1 25 1.1 22 4.1 14.3 1.1 16 4.1-22.8 1.1-21.6 4.1-19 1.1-22.7 4.2 18.8 1 14.7 4.2 21.9 1 22.7 4.2-15.4 1-13.3 4.2-25.3 1-28.1 4.2 10 1 5.1"/></g>
<g transform="translate(-37.7 -16.6)"><path d="M133.1 599.8l1.3-3.7 1.3-2.6 1.3-1.1 1.3 .5 1.3 1.9 1.3 3 3.9 11.6 1.3 2.8 1.3 1.5 1.3 0 1.3-1.6 1.3-2.9 5.2-16.4 1.3-2.6 1.3-1.2 1.3 .4 1.3 1.8 1.3 3 3.9 11.5 1.3 2.7 1.3 1.5 1.3-.1 1.3-1.6 1.3-3 5.2-16.6 1.3-2.7 1.3-1.2 1.3 .3 1.3 1.7 1.3 3 3.9 11.2 1.3 2.7 1.3 1.5 1.3-.1 1.3-1.7 1.3-3 5.2-16.9 1.3-2.7 1.3-1.3 1.3 .2 1.3 1.7 1.3 2.9 3.9 11.1 1.3 2.6 1.3 1.4 1.3-.1 1.3-1.7 1.3-3.1 5.2-17.1 1.3-2.8 1.3-1.4 1.3 .2 1.3 1.6 1.3 2.9 3.9 10.9 1.3 2.6 1.3 1.3 1.3-.2 1.3-1.7 1.3-3.1 5.2-17.3 1.4-2.9 1.3-1.5 1.3 .1 1.3 1.6 1.3 2.8 3.9 10.7 1.3 2.6 1.3 1.3 1.3-.3 1.3-1.7 1.3-3.2 3.9-13.5 1.3-4 1.3-3 1.3-1.5 1.3 0 1.3 1.6 1.3 2.7-1.6-9.2-1.3-7.6-1.3-4.5-1.3-.9-1.3 3.1-1.3 6.6-1.3 9.3-3.9 31.5-1.3 7.2-1.3 3.7-1.3-.1-1.3-3.9-1.3-7.1-3.9-29-1.3-7.6-1.3-4.6-1.3-.9-1.3 2.9-1.3 6.6-5.2 40.5-1.3 7.2-1.3 3.7-1.3-.2-1.3-3.9-1.3-7.1-3.9-29.1-1.3-7.8-1.3-4.7-1.3-.9-1.3 2.8-1.3 6.5-5.2 40.3-1.3 7.1-1.3 3.7-1.3-.2-1.3-3.9-1.3-7.2-3.9-29.3-1.3-7.8-1.3-4.7-1.3-1.1-1.3 2.8-1.3 6.3-1.3 9.1-3.9 31.1-1.3 7.1-1.3 3.6-1.3-.2-1.3-4-1.3-7.2-3.9-29.4-1.3-7.9-1.3-4.9-1.3-1.1-1.3 2.7-1.3 6.3-1.3 9-3.9 30.9-1.3 7-1.3 3.7-1.3-.3-1.3-4-1.3-7.2-3.9-29.7-1.3-7.9-1.4-4.9-1.3-1.3-1.3 2.7-1.3 6.2-1.3 8.9-3.9 30.8-1.3 7-1.3 3.6-1.3-.3-1.3-4.1-1.3-7.2-3.9-29.8-1.3-8-1.3-5-1.3-1.4-1.3 2.6-1.3 6.1-1.3 8.9z"/><path fill="none" d="M133.1 599.8l1-22.7 4.2 15.8 1-4 4.2 16.8 1 20.2 4.2-12.2 1 6 4.2-18.8 1-20.9 4.2 9 1.1-11.7 4.1 20.7 1.1 16.9 4.1-5 1.1 12.8 4.1-21.4 1.1-16.5 4.1 1.1 1.1-18 4.1 21.8 1.1 11 4.1 2.9 1.1 17.9 4.1-21.2 1.1-9.9 4.1-7 1.1-21.9 4.1 19.8 1.1 3.5 4.1 10.5 1.1 20.2 4.1-18 1.1-2.2 4.1-14.1 1.1-23.1 4.1 15.2 1.1-4.6 4.1 16.5 1.1 19.7 4.1-12.5 1.1 5.7 4.1-19.3 1.1-21.2 4.2 8.3 1-12.3 4.2 20.3 1 16.3 4.2-5.2 1 12.6 4.2-22 1-16.7 4.2 .4 1-18.5 4.2 21.3"/></g>
<g transform="translate(-36.2 -15.9)"><path d="M133.1 607.5l1.3 2.1 1.3 1.4 1.3 .5 1.3-.6 1.3-1.5 1.3-2.4 3.9-8.5 1.3-2.2 1.3-1.3 1.3-.4 1.3 .7 1.3 1.6 3.9 7.3 1.3 2.1 1.3 1.4 1.3 .4 1.3-.7 1.3-1.5 1.3-2.4 3.9-8.8 1.3-2.2 1.3-1.4 1.3-.4 1.3 .7 1.3 1.5 3.9 7.1 1.3 2.1 1.3 1.3 1.3 .3 1.3-.7 1.3-1.6 1.3-2.4 3.9-8.9 1.3-2.3 1.3-1.5 1.3-.4 1.3 .6 1.3 1.4 3.9 7 1.3 2 1.3 1.2 1.3 .3 1.3-.7 1.3-1.7 1.3-2.5 3.9-9.1 1.3-2.3 1.3-1.5 1.3-.5 1.3 .5 1.3 1.4 3.9 6.8 1.3 1.9 1.3 1.2 1.3 .3 1.3-.8 1.3-1.7 1.3-2.6 3.9-9.2 1.3-2.4 1.3-1.6 1.3-.6 1.3 .5 1.3 1.3 3.9 6.6 1.3 1.9 1.4 1.2 1.3 .2 1.3-.8 1.3-1.8 1.3-2.6 3.9-9.4 1.3-2.5 1.3-1.6 1.3-.6 1.3 .3 1.3 1.3 3.9 6.5 1.3 1.8 1.3 1.1 1.3 .2 1.3-.9 1.3-1.8 1.3-2.7-1.6-10.1-1.3-2.7-1.3-1.5-1.3-.1-1.3 1.6-1.3 2.9-1.3 4-3.9 13.5-1.3 3.2-1.3 1.8-1.3 .2-1.3-1.3-1.3-2.5-3.9-10.8-1.3-2.8-1.3-1.5-1.3-.1-1.3 1.4-1.3 2.9-5.2 17.3-1.3 3.1-1.3 1.7-1.3 .2-1.3-1.3-1.3-2.6-3.9-10.9-1.3-2.8-1.3-1.7-1.3-.1-1.3 1.3-1.3 2.9-5.2 17-1.3 3.1-1.3 1.7-1.3 .1-1.3-1.3-1.3-2.7-3.9-11.1-1.3-2.9-1.3-1.7-1.3-.2-1.3 1.3-1.3 2.8-5.2 16.8-1.3 3-1.3 1.7-1.3 .1-1.3-1.4-1.3-2.7-3.9-11.3-1.3-2.9-1.3-1.8-1.3-.3-1.3 1.2-1.3 2.7-5.2 16.6-1.3 3-1.3 1.6-1.3 .1-1.3-1.5-1.3-2.7-3.9-11.4-1.3-3.1-1.4-1.8-1.3-.4-1.3 1.2-1.3 2.6-5.2 16.4-1.3 3-1.3 1.5-1.3 0-1.3-1.5-1.3-2.8-3.9-11.5-1.3-3.1-1.3-1.9-1.3-.5-1.3 1.2-1.3 2.5-1.3 3.7z"/><path fill="none" d="M131.5 599.1l4.2 11.9 1-18.8 4.2 14.8 1-1.9 4.2-8.8 1 16.7 4.2-16.1 1 3.3 4.2 6.1 1-18 4.2 17.6 1.1-8.5 4.1-2.7 1.1 14.5 4.1-17.8 1.1 9.2 4.1-.6 1.1-14.8 4.1 17.8 1.1-14 4.1 3.9 1.1 10.1 4.1-17.1 1.1 13.7 4.1-7.1 1.1-9.7 4.1 15.6 1.1-17.8 4.1 9.9 1.1 4.1 4.1-14 1.1 16.2 4.1-12.8 1.1-3.4 4.1 11.3 1.1-19.3 4.1 14.5 1.1-2.6 4.1-9 1.1 16.2 4.1-16.6 1.1 3 4.1 5.5 1.1-18.3 4.2 17.1 1-9.1 4.2-2.9 1 13.9 4.2-18.3 1 8.9 4.2-1.1 1-15.1 4.2 17.3 1-14.6"/></g>
<g transform="translate(-34.6 -15.2)"><path d="M133.1 614.7l1.3 7.6 1.3 5.1 1.3 1.9 1.3-1.5 1.3-4.8 1.3-7.4 3.9-27.4 1.3-6.8 1.3-4 1.3-.6 1.3 2.8 1.3 5.8 3.9 26 1.3 7.5 1.3 5.1 1.3 1.9 1.3-1.5 1.3-4.9 1.3-7.4 3.9-27.6 1.3-6.9 1.3-4 1.3-.7 1.3 2.7 1.3 5.7 3.9 25.9 1.3 7.4 1.3 5.1 1.3 1.8 1.3-1.5 1.3-4.9 1.3-7.5 3.9-27.7 1.3-7 1.3-4.1 1.3-.8 1.3 2.7 1.3 5.6 3.9 25.7 1.3 7.4 1.3 5 1.3 1.8 1.3-1.6 1.3-4.8 1.3-7.6 3.9-27.9 1.3-7 1.3-4.2 1.3-.9 1.3 2.6 1.3 5.6 3.9 25.4 1.3 7.4 1.3 5 1.3 1.8 1.3-1.6 1.3-5 1.3-7.5 3.9-28.1 1.3-7.1 1.3-4.3 1.3-.9 1.3 2.4 1.3 5.5 3.9 25.3 1.3 7.4 1.4 4.9 1.3 1.8 1.3-1.7 1.3-4.9 1.3-7.6 3.9-28.3 1.3-7.2 1.3-4.3 1.3-1 1.3 2.4 1.3 5.4 3.9 25.1 1.3 7.3 1.3 4.9 1.3 1.8 1.3-1.7 1.3-5 1.3-7.7-1.6-9.5-1.3 2.7-1.3 1.8-1.3 .9-1.3-.2-1.3-1.1-1.3-1.8-3.9-6.5-1.3-1.2-1.3-.4-1.3 .6-1.3 1.6-1.3 2.5-3.9 9.4-1.3 2.6-1.3 1.8-1.3 .8-1.3-.2-1.3-1.2-1.3-1.8-3.9-6.7-1.3-1.3-1.3-.4-1.3 .5-1.3 1.6-1.3 2.4-3.9 9.2-1.3 2.6-1.3 1.7-1.3 .8-1.3-.3-1.3-1.2-1.3-1.9-3.9-6.8-1.3-1.4-1.3-.5-1.3 .5-1.3 1.5-1.3 2.4-3.9 9-1.3 2.5-1.3 1.7-1.3 .7-1.3-.3-1.3-1.2-1.3-2-3.9-7-1.3-1.4-1.3-.6-1.3 .5-1.3 1.4-1.3 2.3-3.9 8.9-1.3 2.4-1.3 1.7-1.3 .6-1.3-.3-1.3-1.3-1.3-2.1-3.9-7.1-1.3-1.5-1.3-.6-1.3 .3-1.3 1.4-1.3 2.3-3.9 8.7-1.3 2.4-1.4 1.6-1.3 .6-1.3-.4-1.3-1.4-1.3-2.1-3.9-7.3-1.3-1.5-1.3-.7-1.3 .3-1.3 1.3-1.3 2.2-3.9 8.5-1.3 2.4-1.3 1.5-1.3 .6-1.3-.5-1.3-1.4-1.3-2.1z"/><path fill="none" d="M133.1 614.7l1-4.4 4.2 17.5 1-21.5 4.2-9.4 1-1.3 4.2-18.8 1 19.4 4.2 6.3 1 3.1 4.2 20.3 1.1-20.7 4.1-2.3 1.1-8.8 4.1-20.5 1.1 17.1 4.1-1.4 1.1 10 4.1 20.4 1.1-17.3 4.1 5.2 1.1-15.4 4.1-19.3 1.1 12.3 4.1-8.9 1.1 15.5 4.1 17.6 1.1-11.7 4.1 12.1 1.1-20 4.1-15.5 1.1 5.6 4.1-15.1 1.1 18.6 4.1 12.4 1.1-4.6 4.1 17.2 1.1-22 4.1-9.6 1.1-2 4.1-19.3 1.1 18.9 4.1 5.6 1.1 2.9 4.2 19.9 1-21.1 4.2-2.5 1-9.5 4.2-20.9 1 16.6 4.2-2.1 1 9.8 4.2 19.8 1-17.6 4.2 5"/></g>
<g transform="translate(-33.1 -14.6)"><path d="M133.1 620.2l1.3 11.8 1.3 7.9 1.3 3.1 1.3-2.2 1.3-7.3 1.3-11.3 3.9-42 1.3-10.4 1.3-6 1.3-.8 1.3 4.4 1.3 9.1 3.9 40.4 1.3 11.7 1.3 8 1.3 3 1.3-2.2 1.3-7.3 1.3-11.4 3.9-42.2 1.3-10.4 1.3-6.1 1.3-.9 1.3 4.3 1.3 9 3.9 40.2 1.3 11.7 1.3 7.9 1.3 3.1 1.3-2.3 1.3-7.3 1.3-11.4 3.9-42.4 1.3-10.5 1.3-6.2 1.3-1 1.3 4.2 1.3 8.9 3.9 40.1 1.3 11.6 1.3 7.9 1.3 3.1 1.3-2.3 1.3-7.4 1.3-11.4 3.9-42.5 1.3-10.6 1.3-6.3 1.3-1.1 1.3 4.1 1.3 8.8 3.9 39.9 1.3 11.6 1.3 7.9 1.3 3 1.3-2.3 1.3-7.3 1.3-11.5 3.9-42.7 1.3-10.7 1.3-6.4 1.3-1.2 1.3 4.1 1.3 8.7 3.9 39.7 1.3 11.6 1.4 7.8 1.3 3 1.3-2.3 1.3-7.4 1.3-11.5 3.9-42.8 1.3-10.8 1.3-6.5 1.3-1.3 1.3 4 1.3 8.6 3.9 39.6 1.3 11.5 1.3 7.8 1.3 3 1.3-2.4 1.3-7.4 1.3-11.5-1.6-7.4-1.3 7.6-1.3 5-1.3 1.7-1.3-1.8-1.3-4.9-1.3-7.3-3.9-25.1-1.3-5.4-1.3-2.4-1.3 1-1.3 4.3-1.3 7.2-3.9 28.3-1.3 7.6-1.3 5-1.3 1.6-1.3-1.8-1.3-4.9-1.3-7.3-3.9-25.3-1.3-5.5-1.3-2.5-1.3 .9-1.3 4.3-1.3 7.1-3.9 28.1-1.3 7.6-1.3 4.9-1.3 1.6-1.3-1.8-1.3-5-1.3-7.3-3.9-25.5-1.3-5.6-1.3-2.6-1.3 .9-1.3 4.2-1.3 7-3.9 27.9-1.3 7.6-1.3 4.9-1.3 1.6-1.3-1.9-1.3-5-1.3-7.4-3.9-25.7-1.3-5.6-1.3-2.7-1.3 .8-1.3 4.1-1.3 7-3.9 27.7-1.3 7.5-1.3 4.9-1.3 1.6-1.3-1.9-1.3-5-1.3-7.5-3.9-25.8-1.3-5.8-1.3-2.7-1.3 .7-1.3 4-1.3 6.9-3.9 27.6-1.3 7.5-1.4 4.8-1.3 1.5-1.3-1.9-1.3-5.1-1.3-7.5-3.9-26-1.3-5.8-1.3-2.8-1.3 .6-1.3 4-1.3 6.8-3.9 27.4-1.3 7.4-1.3 4.8-1.3 1.5-1.3-1.9-1.3-5.1-1.3-7.6z"/><path fill="none" d="M131.5 614l4.2 25.9 1-12.8 4.2-4.9 1-25.9 4.2-26.5 1 6.3 4.2 .4 1 25.3 4.2 26.8 1-3.4 4.2 4.9 1.1-27.8 4.1-25.8 1.1-3.6 4.1-9.5 1.1 25.2 4.1 24 1.1 6.4 4.1 14 1.1-26.1 4.1-21.4 1.1-13.3 4.1-18 1.1 21.4 4.1 18 1.1 15.1 4.1 21.3 1.1-20.9 4.1-14.3 1.1-21.2 4.1-24.1 1.1 14.6 4.1 9.5 1.1 21.6 4.1 25.5 1.1-13 4.1-5.1 1.1-26.5 4.1-26.9 1.1 5.6 4.1-.4 1.1 25 4.1 26.3 1.1-3.6 4.2 4.7 1-28.2 4.2-26.1 1-4.4 4.2-10.2 1 24.7 4.2 23.5 1 6.1 4.2 13.8 1-26.3"/></g>
<g transform="translate(-31.6 -13.9)"><path d="M133.1 623.2l1.3 14 1.3 9.5 1.3 3.7 1.3-2.6 1.3-8.6 1.3-13.5 3.9-49.9 1.3-12.3 1.3-7.1 1.3-1 1.3 5.3 1.3 10.9 3.9 48.3 1.3 13.9 1.3 9.5 1.3 3.7 1.3-2.6 1.3-8.6 1.3-13.6 3.9-50 1.3-12.5 1.3-7.2 1.3-1 1.3 5.2 1.3 10.7 3.9 48.2 1.3 13.9 1.3 9.5 1.3 3.7 1.3-2.7 1.3-8.6 1.3-13.6 3.9-50.2 1.3-12.5 1.3-7.3 1.3-1.2 1.3 5.1 1.3 10.7 3.9 47.9 1.3 13.9 1.3 9.5 1.3 3.7 1.3-2.7 1.3-8.7 1.3-13.5 3.9-50.4 1.3-12.6 1.3-7.5 1.3-1.2 1.3 5 1.3 10.6 3.9 47.7 1.3 13.9 1.3 9.5 1.3 3.6 1.3-2.6 1.3-8.7 1.3-13.6 3.9-50.6 1.3-12.7 1.3-7.5 1.3-1.4 1.3 5 1.3 10.4 3.9 47.6 1.3 13.9 1.4 9.4 1.3 3.6 1.3-2.6 1.3-8.8 1.3-13.6 3.9-50.7 1.3-12.8 1.3-7.6 1.3-1.5 1.3 4.9 1.3 10.3 3.9 47.4 1.3 13.8 1.3 9.5 1.3 3.6 1.3-2.7 1.3-8.7 1.3-13.7-1.6-4.3-1.3 11.6-1.3 7.4-1.3 2.3-1.3-3-1.3-7.8-1.3-11.5-3.9-39.5-1.3-8.7-1.3-4-1.3 1.3-1.3 6.5-1.3 10.8-3.9 42.8-1.3 11.5-1.3 7.4-1.3 2.3-1.3-2.9-1.3-7.9-1.3-11.6-3.9-39.7-1.3-8.7-1.3-4.1-1.3 1.2-1.3 6.4-1.3 10.7-3.9 42.7-1.3 11.5-1.3 7.3-1.3 2.3-1.3-3-1.3-7.8-1.3-11.6-3.9-39.9-1.3-8.8-1.3-4.2-1.3 1.1-1.3 6.3-1.3 10.6-3.9 42.5-1.3 11.5-1.3 7.3-1.3 2.3-1.3-3-1.3-7.9-1.3-11.7-3.9-40-1.3-8.9-1.3-4.3-1.3 1-1.3 6.2-1.3 10.6-3.9 42.3-1.3 11.4-1.3 7.3-1.3 2.3-1.3-3.1-1.3-7.9-1.3-11.6-3.9-40.3-1.3-9-1.3-4.3-1.3 .9-1.3 6.1-1.3 10.5-3.9 42.1-1.3 11.4-1.4 7.3-1.3 2.2-1.3-3-1.3-8-1.3-11.7-3.9-40.4-1.3-9.1-1.3-4.4-1.3 .8-1.3 6-1.3 10.4-3.9 42-1.3 11.4-1.3 7.2-1.3 2.3-1.3-3.1-1.3-8-1.3-11.7z"/><path fill="none" d="M133.1 623.2l1 16.1 4.2 8.5 1-26.3 4.2-29.7 1-22.7 4.2-13.7 1 20.4 4.2 27.5 1 24.6 4.2 19.1 1.1-17.6 4.1-23.7 1.1-29.8 4.1-23.4 1.1 10.2 4.1 19.5 1.1 29.8 4.1 27 1.1-6.7 4.1-14.5 1.1-33 4.1-29.7 1.1-1.6 4.1 8.9 1.1 30.6 4.1 31.2 1.1 5.1 4.1-3.3 1.1-31.8 4.1-32.1 1.1-13.3 4.1-3 1.1 27.1 4.1 31.2 1.1 15.9 4.1 8.5 1.1-26.6 4.1-30.1 1.1-23.3 4.1-14.5 1.1 19.7 4.1 26.9 1.1 24.4 4.2 18.9 1-17.8 4.2-23.9 1-30.4 4.2-24 1 9.4 4.2 18.8 1 29.4 4.2 26.8 1-6.8 4.2-14.7"/></g>
<g transform="translate(-30 -13.2)"><path d="M133.1 623.1l1.3 14 1.3 9.5 1.3 3.7 1.3-2.6 1.3-8.6 1.3-13.5 3.9-49.9 1.3-12.4 1.3-7.1 1.3-.9 1.3 5.3 1.3 10.8 3.9 48.3 1.3 14 1.3 9.5 1.3 3.7 1.3-2.6 1.3-8.7 1.3-13.5 3.9-50.1 1.3-12.4 1.3-7.2 1.3-1.1 1.3 5.3 1.3 10.7 3.9 48.1 1.3 14 1.3 9.5 1.3 3.7 1.3-2.7 1.3-8.6 1.3-13.6 3.9-50.2 1.3-12.6 1.3-7.3 1.3-1.1 1.3 5.1 1.3 10.7 3.9 47.9 1.3 13.9 1.3 9.5 1.3 3.7 1.3-2.7 1.3-8.7 1.3-13.5 3.9-50.5 1.3-12.6 1.3-7.4 1.3-1.2 1.3 5 1.3 10.6 3.9 47.7 1.3 13.9 1.3 9.4 1.3 3.7 1.3-2.7 1.3-8.6 1.3-13.6 3.9-50.6 1.3-12.7 1.3-7.5 1.3-1.4 1.3 4.9 1.3 10.5 3.9 47.6 1.3 13.8 1.4 9.5 1.3 3.6 1.3-2.7 1.3-8.7 1.3-13.6 3.9-50.8 1.3-12.7 1.3-7.6 1.3-1.5 1.3 4.8 1.3 10.4 3.9 47.4 1.3 13.8 1.3 9.4 1.3 3.7 1.3-2.7 1.3-8.7 1.3-13.7-1.6-.5-1.3 13.6-1.3 8.7-1.3 2.7-1.3-3.6-1.3-9.4-1.3-13.9-3.9-47.3-1.3-10.4-1.3-4.8-1.3 1.4-1.3 7.6-1.3 12.8-3.9 50.8-1.3 13.6-1.3 8.7-1.3 2.7-1.3-3.7-1.3-9.4-1.3-13.9-3.9-47.5-1.3-10.5-1.3-4.9-1.3 1.3-1.3 7.5-1.3 12.7-3.9 50.6-1.3 13.6-1.3 8.7-1.3 2.6-1.3-3.6-1.3-9.5-1.3-13.9-3.9-47.7-1.3-10.6-1.3-5-1.3 1.3-1.3 7.4-1.3 12.6-3.9 50.4-1.3 13.6-1.3 8.6-1.3 2.7-1.3-3.7-1.3-9.4-1.3-14-3.9-47.9-1.3-10.6-1.3-5.2-1.3 1.2-1.3 7.3-1.3 12.5-3.9 50.3-1.3 13.5-1.3 8.6-1.3 2.7-1.3-3.7-1.3-9.5-1.3-13.9-3.9-48.1-1.3-10.8-1.3-5.2-1.3 1.1-1.3 7.2-1.3 12.4-3.9 50.1-1.3 13.5-1.4 8.6-1.3 2.7-1.3-3.7-1.3-9.5-1.3-14-3.9-48.3-1.3-10.9-1.3-5.3-1.3 1-1.3 7.1-1.3 12.3-3.9 49.9-1.3 13.5-1.3 8.6-1.3 2.7-1.3-3.7-1.3-9.6-1.3-14z"/><path fill="none" d="M131.5 622.5l4.2 24.1 1 .5 4.2-21.5 1-34.5 4.2-27.8 1-8.6 4.2 16.7 1 31.2 4.2 31.1 1 12.7 4.2-10.8 1.1-30.6 4.1-33 1.1-20.1 4.1 4.7 1.1 25 4.1 33.8 1.1 22.9 4.1 1.6 1.1-22.7 4.1-33.6 1.1-29.2 4.1-7.9 1.1 15.2 4.1 32 1.1 29.9 4.1 13.7 1.1-11.9 4.1-29.7 1.1-34.3 4.1-19.5 1.1 3.2 4.1 25.8 1.1 32.5 4.1 23.9 1.1 .5 4.1-21.7 1.1-35 4.1-28.3 1.1-9.4 4.1 15.9 1.1 30.6 4.1 30.8 1.1 12.6 4.2-10.9 1-30.9 4.2-33.5 1-20.9 4.2 3.9 1 24.4 4.2 33.4 1 22.7 4.2 1.5 1-22.9"/></g>
<g transform="translate(-28.5 -12.5)"><path d="M133.1 619.9l1.3 11.7 1.3 8 1.3 3.1 1.3-2.2 1.3-7.3 1.3-11.4 3.9-42 1.3-10.4 1.3-6 1.3-.8 1.3 4.4 1.3 9.1 3.9 40.5 1.3 11.7 1.3 7.9 1.3 3.1 1.3-2.3 1.3-7.3 1.3-11.4 3.9-42.1 1.3-10.5 1.3-6.1 1.3-.9 1.3 4.3 1.3 9 3.9 40.3 1.3 11.7 1.3 7.9 1.3 3 1.3-2.2 1.3-7.4 1.3-11.4 3.9-42.3 1.3-10.6 1.3-6.2 1.3-1 1.3 4.2 1.3 8.9 3.9 40.2 1.3 11.6 1.3 7.9 1.3 3 1.3-2.3 1.3-7.3 1.3-11.5 3.9-42.5 1.3-10.6 1.3-6.3 1.3-1.1 1.3 4.1 1.3 8.9 3.9 39.9 1.3 11.6 1.3 7.9 1.3 3 1.3-2.3 1.3-7.4 1.3-11.5 3.9-42.7 1.3-10.7 1.3-6.4 1.3-1.2 1.3 4.1 1.3 8.7 3.9 39.8 1.3 11.5 1.4 7.9 1.3 3 1.3-2.3 1.3-7.4 1.3-11.5 3.9-42.9 1.3-10.8 1.3-6.5 1.3-1.3 1.3 4 1.3 8.7 3.9 39.5 1.3 11.6 1.3 7.8 1.3 2.9 1.3-2.3 1.3-7.4 1.3-11.5-1.6 3.1-1.3 13.7-1.3 8.7-1.3 2.7-1.3-3.6-1.3-9.4-1.3-13.9-3.9-47.4-1.3-10.3-1.3-4.9-1.3 1.5-1.3 7.6-1.3 12.8-3.9 50.7-1.3 13.7-1.3 8.7-1.3 2.6-1.3-3.6-1.3-9.4-1.3-13.9-3.9-47.6-1.3-10.4-1.3-5-1.3 1.4-1.3 7.5-1.3 12.7-3.9 50.6-1.3 13.6-1.3 8.7-1.3 2.6-1.3-3.6-1.3-9.5-1.3-13.9-3.9-47.7-1.3-10.6-1.3-5-1.3 1.2-1.3 7.4-1.3 12.7-3.9 50.4-1.3 13.6-1.3 8.6-1.3 2.7-1.3-3.7-1.3-9.5-1.3-13.9-3.9-47.9-1.3-10.7-1.3-5.1-1.3 1.2-1.3 7.3-1.3 12.5-3.9 50.2-1.3 13.6-1.3 8.6-1.3 2.7-1.3-3.7-1.3-9.5-1.3-13.9-3.9-48.2-1.3-10.7-1.3-5.2-1.3 1-1.3 7.2-1.3 12.5-3.9 50-1.3 13.6-1.4 8.6-1.3 2.6-1.3-3.7-1.3-9.5-1.3-13.9-3.9-48.3-1.3-10.9-1.3-5.3-1.3 .9-1.3 7.2-1.3 12.3-3.9 49.9-1.3 13.5-1.3 8.6-1.3 2.7-1.3-3.8-1.3-9.5-1.3-14z"/><path fill="none" d="M133.1 619.9l1 26 4.2-5.4 1-15.6 4.2-31.7 1-30.5 4.2-.1 1 8.2 4.2 31.9 1 30.3 4.2 6.3 1.1-4.3 4.1-30.6 1.1-33 4.1-11.8 1.1-3.7 4.1 28.5 1.1 30.4 4.1 17.1 1.1 7.3 4.1-25.3 1.1-31 4.1-21.9 1.1-15.2 4.1 21.1 1.1 26.1 4.1 25.7 1.1 17.9 4.1-16.6 1.1-25 4.1-29 1.1-24.8 4.1 10.9 1.1 18.1 4.1 30.7 1.1 25.8 4.1-5.6 1.1-15.7 4.1-32.2 1.1-31.1 4.1-.9 1.1 7.4 4.1 31.5 1.1 30 4.2 6.1 1-4.4 4.2-31 1-33.4 4.2-12.6 1-4.4 4.2 27.8 1 29.9 4.2 17 1 7.2 4.2-25.5"/></g>
<g transform="translate(-27 -11.8)"><path d="M133.1 614.1l1.3 7.6 1.3 5.1 1.3 1.9 1.3-1.5 1.3-4.8 1.3-7.4 3.9-27.5 1.3-6.8 1.3-4 1.3-.6 1.3 2.8 1.3 5.9 3.9 26 1.3 7.5 1.3 5.1 1.3 1.9 1.3-1.5 1.3-4.8 1.3-7.5 3.9-27.6 1.3-6.9 1.3-4.1 1.3-.7 1.3 2.8 1.3 5.7 3.9 25.9 1.3 7.5 1.3 5 1.3 1.9 1.3-1.6 1.3-4.8 1.3-7.6 3.9-27.8 1.3-6.9 1.3-4.2 1.3-.7 1.3 2.6 1.3 5.7 3.9 25.7 1.3 7.4 1.3 5 1.3 1.9 1.3-1.6 1.3-4.9 1.3-7.6 3.9-27.9 1.3-7.1 1.3-4.2 1.3-.8 1.3 2.5 1.3 5.6 3.9 25.5 1.3 7.4 1.3 5 1.3 1.8 1.3-1.6 1.3-4.9 1.3-7.6 3.9-28.2 1.3-7.1 1.3-4.3 1.3-.9 1.3 2.5 1.3 5.5 3.9 25.4 1.3 7.3 1.4 5 1.3 1.7 1.3-1.6 1.3-5 1.3-7.6 3.9-28.3 1.3-7.2 1.3-4.4 1.3-1 1.3 2.4 1.3 5.5 3.9 25.1 1.3 7.3 1.3 5 1.3 1.7 1.3-1.7 1.3-5 1.3-7.7-1.6 6.4-1.3 11.5-1.3 7.4-1.3 2.4-1.3-3-1.3-7.8-1.3-11.6-3.9-39.5-1.3-8.7-1.3-3.9-1.3 1.2-1.3 6.5-1.3 10.8-3.9 42.9-1.3 11.5-1.3 7.4-1.3 2.3-1.3-3-1.3-7.8-1.3-11.6-3.9-39.7-1.3-8.8-1.3-4-1.3 1.2-1.3 6.3-1.3 10.8-3.9 42.7-1.3 11.4-1.3 7.4-1.3 2.3-1.3-3-1.3-7.9-1.3-11.6-3.9-39.9-1.3-8.8-1.3-4.2-1.3 1.1-1.3 6.3-1.3 10.6-3.9 42.6-1.3 11.4-1.3 7.4-1.3 2.2-1.3-3-1.3-7.9-1.3-11.6-3.9-40.1-1.3-8.9-1.3-4.3-1.3 1-1.3 6.2-1.3 10.6-3.9 42.3-1.3 11.5-1.3 7.3-1.3 2.3-1.3-3.1-1.3-7.9-1.3-11.7-3.9-40.3-1.3-9-1.3-4.3-1.3 .9-1.3 6.1-1.3 10.5-3.9 42.2-1.3 11.4-1.4 7.3-1.3 2.2-1.3-3.1-1.3-7.9-1.3-11.7-3.9-40.5-1.3-9.1-1.3-4.4-1.3 .8-1.3 6-1.3 10.4-3.9 42.1-1.3 11.3-1.3 7.3-1.3 2.2-1.3-3.1-1.3-7.9-1.3-11.8z"/><path fill="none" d="M131.5 619.2l4.2 7.6 1 13 4.2-24.8 1-22.4 4.2-11.9 1-18.8 4.2 22.9 1 17.2 4.2 16.3 1 20.3 4.2-19.6 1.1-15.3 4.1-19.8 1.1-25 4.1 16.1 1.1 8.7 4.1 22.9 1.1 24.6 4.1-11.8 1.1-6.2 4.1-25.1 1.1-27.8 4.1 7.1 1.1-1.1 4.1 26.2 1.1 25.5 4.1-2.3 1.1 3.6 4.1-26.9 1.1-27.1 4.1-2.9 1.1-10.9 4.1 26 1.1 22.7 4.1 7.4 1.1 12.8 4.1-25.1 1.1-22.7 4.1-12.6 1.1-19.4 4.1 22.2 1.1 16.6 4.1 16.1 1.1 20 4.2-19.9 1-15.5 4.2-20.4 1-25.6 4.2 15.4 1 8.1 4.2 22.5 1 24.3 4.2-12 1-6.3"/></g>
<g transform="translate(-25.4 -11.2)"><path d="M133.1 606.7l1.3 2.1 1.3 1.4 1.3 .5 1.3-.6 1.3-1.6 1.3-2.3 3.9-8.6 1.3-2.2 1.3-1.3 1.3-.4 1.3 .7 1.3 1.6 3.9 7.4 1.3 2.1 1.3 1.4 1.3 .4 1.3-.7 1.3-1.6 1.3-2.4 3.9-8.7 1.3-2.3 1.3-1.4 1.3-.4 1.3 .7 1.3 1.5 3.9 7.2 1.3 2 1.3 1.4 1.3 .3 1.3-.7 1.3-1.6 1.3-2.5 3.9-8.9 1.3-2.3 1.3-1.5 1.3-.4 1.3 .6 1.3 1.4 3.9 7 1.3 2 1.3 1.3 1.3 .3 1.3-.7 1.3-1.7 1.3-2.5 3.9-9.1 1.3-2.4 1.3-1.5 1.3-.5 1.3 .5 1.3 1.4 3.9 6.8 1.3 2 1.3 1.2 1.3 .3 1.3-.8 1.3-1.7 1.3-2.6 3.9-9.3 1.3-2.4 1.3-1.6 1.3-.6 1.3 .5 1.3 1.3 3.9 6.7 1.3 1.9 1.4 1.2 1.3 .2 1.3-.8 1.3-1.8 1.3-2.6 3.9-9.5 1.3-2.5 1.3-1.6 1.3-.6 1.3 .3 1.3 1.3 3.9 6.5 1.3 1.9 1.3 1.1 1.3 .2 1.3-.9 1.3-1.9 1.3-2.6-1.6 8.4-1.3 7.6-1.3 5-1.3 1.7-1.3-1.7-1.3-4.9-1.3-7.3-3.9-25.2-1.3-5.5-1.3-2.4-1.3 1-1.3 4.4-1.3 7.2-3.9 28.3-1.3 7.6-1.3 5-1.3 1.7-1.3-1.8-1.3-5-1.3-7.3-3.9-25.4-1.3-5.5-1.3-2.5-1.3 1-1.3 4.2-1.3 7.2-3.9 28.1-1.3 7.6-1.3 4.9-1.3 1.7-1.3-1.9-1.3-4.9-1.3-7.4-3.9-25.6-1.3-5.6-1.3-2.5-1.3 .8-1.3 4.2-1.3 7.1-3.9 28-1.3 7.5-1.3 4.9-1.3 1.6-1.3-1.9-1.3-5-1.3-7.4-3.9-25.7-1.3-5.7-1.3-2.6-1.3 .8-1.3 4.1-1.3 6.9-3.9 27.9-1.3 7.5-1.3 4.8-1.3 1.6-1.3-1.9-1.3-5-1.3-7.5-3.9-25.9-1.3-5.7-1.3-2.8-1.3 .7-1.3 4.1-1.3 6.9-3.9 27.6-1.3 7.5-1.4 4.8-1.3 1.6-1.3-2-1.3-5-1.3-7.6-3.9-26-1.3-5.8-1.3-2.8-1.3 .6-1.3 3.9-1.3 6.9-3.9 27.4-1.3 7.5-1.3 4.8-1.3 1.5-1.3-2-1.3-5.1-1.3-7.6z"/><path fill="none" d="M133.1 606.7l1 19.4 4.2-16 1 4.2 4.2-14 1-20.3 4.2 13.7 1-9.6 4.2 16.8 1 16.8 4.2-10.4 1.1 11 4.1-18.6 1.1-16.5 4.1 7 1.1-15.9 4.1 19.9 1.1 11.7 4.1-3.3 1.1 16.1 4.1-20.6 1.1-10.6 4.1-.6 1.1-20.2 4.1 20.3 1.1 4.9 4.1 4.1 1.1 19 4.1-19.8 1.1-3.5 4.1-8.1 1.1-21.9 4.1 18 1.1-2.8 4.1 11 1.1 19 4.1-16.3 1.1 4 4.1-14.6 1.1-20.7 4.1 13.1 1.1-10.3 4.1 16.5 1.1 16.2 4.2-10.6 1 10.7 4.2-19.1 1-16.8 4.2 6.4 1-16.6 4.2 19.6 1 11.1 4.2-3.6 1 15.8 4.2-21"/></g>
<g transform="translate(-23.9 -10.5)"><path d="M133.1 598.7l1.3-3.7 1.3-2.5 1.3-1.1 1.3 .4 1.3 1.9 1.3 3.1 3.9 11.5 1.3 2.8 1.3 1.5 1.3 0 1.3-1.6 1.3-2.9 5.2-16.3 1.3-2.6 1.3-1.2 1.3 .3 1.3 1.9 1.3 3 3.9 11.3 1.3 2.8 1.3 1.4 1.3 0 1.3-1.6 1.3-3 5.2-16.6 1.3-2.6 1.3-1.3 1.3 .3 1.3 1.8 1.3 2.9 3.9 11.2 1.3 2.7 1.3 1.4 1.3-.1 1.3-1.6 1.3-3 5.2-16.8 1.3-2.8 1.3-1.3 1.3 .3 1.3 1.7 1.3 2.8 3.9 11.1 1.3 2.6 1.3 1.4 1.3-.2 1.3-1.7 1.3-3 5.2-17 1.3-2.8 1.3-1.4 1.3 .1 1.3 1.7 1.3 2.8 3.9 10.9 1.3 2.6 1.3 1.3 1.3-.2 1.3-1.8 1.3-3.1 5.2-17.2 1.4-2.8 1.3-1.5 1.3 .1 1.3 1.6 1.3 2.7 3.9 10.7 1.3 2.6 1.3 1.2 1.3-.2 1.3-1.8 1.3-3.1 3.9-13.5 1.3-4 1.3-2.9 1.3-1.5 1.3 0 1.3 1.5 1.3 2.7-1.6 9-1.3 2.7-1.3 1.8-1.3 .9-1.3-.2-1.3-1.1-1.3-1.9-3.9-6.5-1.3-1.2-1.3-.4-1.3 .6-1.3 1.6-1.3 2.5-3.9 9.5-1.3 2.6-1.3 1.8-1.3 .8-1.3-.2-1.3-1.2-1.3-1.9-3.9-6.6-1.3-1.4-1.3-.4-1.3 .5-1.3 1.6-1.3 2.4-3.9 9.3-1.3 2.6-1.3 1.7-1.3 .8-1.3-.3-1.3-1.2-1.3-1.9-3.9-6.9-1.3-1.4-1.3-.5-1.3 .5-1.3 1.5-1.3 2.4-3.9 9.1-1.3 2.5-1.3 1.7-1.3 .7-1.3-.3-1.3-1.2-1.3-2-3.9-7-1.3-1.5-1.3-.6-1.3 .5-1.3 1.4-1.3 2.3-3.9 9-1.3 2.4-1.3 1.7-1.3 .6-1.3-.3-1.3-1.3-1.3-2.1-3.9-7.2-1.3-1.5-1.3-.6-1.3 .3-1.3 1.4-1.3 2.3-3.9 8.8-1.3 2.4-1.4 1.6-1.3 .6-1.3-.4-1.3-1.4-1.3-2.1-3.9-7.3-1.3-1.6-1.3-.7-1.3 .3-1.3 1.3-1.3 2.2-3.9 8.6-1.3 2.4-1.3 1.5-1.3 .6-1.3-.5-1.3-1.4-1.3-2.1z"/><path fill="none" d="M131.5 606l4.2-13.5 1 16.9 4.2-12.6 1 2.9 4.2 11.4 1-18 4.2 15 1-7.9 4.2-8.4 1 14.8 4.2-16.4 1.1 8.9 4.1 5.4 1.1-15 4.1 17.6 1.1-13.6 4.1-2.2 1.1 10.6 4.1-18 1.1 13.6 4.1-1.2 1.1-10.1 4.1 17.6 1.1-17.4 4.1 4.3 1.1 4.7 4.1-17.1 1.1 16.2 4.1-7.7 1.1-3.9 4.1 15.3 1.1-19.2 4.1 10.2 1.1-1.9 4.1-13.8 1.1 16.4 4.1-13.2 1.1 2.6 4.1 10.9 1.1-18.4 4.1 14.6 1.1-8.5 4.1-8.7 1.1 14.3 4.2-16.9 1 8.6 4.2 4.8 1-15.3 4.2 17.1 1-14.1 4.2-2.5 1 10 4.2-18.4 1 13.2"/></g>
<g transform="translate(-22.3 -9.8)"><path d="M133.1 591.5l1.3-8.9 1.3-6.1 1.3-2.6 1.3 1.3 1.3 5.1 1.3 7.9 3.9 29.8 1.3 7.2 1.3 4.1 1.3 .3 1.3-3.6 1.3-7 3.9-30.7 1.3-9 1.3-6.2 1.3-2.6 1.3 1.3 1.3 4.9 1.3 7.9 3.9 29.6 1.3 7.2 1.3 4 1.3 .3 1.3-3.7 1.3-7 3.9-30.8 1.3-9 1.3-6.3 1.3-2.7 1.3 1.1 1.3 4.9 1.3 7.8 3.9 29.4 1.3 7.2 1.3 4 1.3 .2 1.3-3.6 1.3-7.1 3.9-31 1.3-9.1 1.3-6.3 1.3-2.8 1.3 1.1 1.3 4.7 1.3 7.8 3.9 29.2 1.3 7.2 1.3 4 1.3 .1 1.3-3.7 1.3-7 5.2-40.4 1.3-6.4 1.3-2.9 1.3 1 1.3 4.7 1.3 7.7 3.9 29.1 1.3 7.1 1.3 3.9 1.3 .2 1.3-3.7 1.3-7.1 5.2-40.6 1.4-6.5 1.3-2.9 1.3 .9 1.3 4.6 1.3 7.6 3.9 28.9 1.3 7.1 1.3 3.9 1.3 .1 1.3-3.7 1.3-7.2 3.9-31.4 1.3-9.3 1.3-6.6 1.3-3.1 1.3 .9 1.3 4.5 1.3 7.5-1.6 8.1-1.3-2.7-1.3-1.5-1.3 0-1.3 1.5-1.3 2.9-1.3 4.1-3.9 13.4-1.3 3.1-1.3 1.8-1.3 .3-1.3-1.3-1.3-2.6-3.9-10.6-1.3-2.8-1.3-1.6-1.3-.1-1.3 1.5-1.3 2.8-5.2 17.3-1.3 3.1-1.3 1.7-1.3 .2-1.3-1.3-1.3-2.6-3.9-10.9-1.3-2.8-1.3-1.6-1.3-.2-1.3 1.4-1.3 2.8-5.2 17-1.3 3.1-1.3 1.6-1.3 .2-1.3-1.4-1.3-2.6-3.9-11-1.3-2.9-1.3-1.7-1.3-.2-1.3 1.3-1.3 2.7-5.2 16.8-1.3 3-1.3 1.6-1.3 .1-1.3-1.4-1.3-2.6-3.9-11.2-1.3-3-1.3-1.8-1.3-.3-1.3 1.3-1.3 2.7-5.2 16.5-1.3 3-1.3 1.6-1.3 0-1.3-1.4-1.3-2.7-3.9-11.4-1.3-3-1.4-1.8-1.3-.4-1.3 1.2-1.3 2.6-5.2 16.3-1.3 2.9-1.3 1.6-1.3 0-1.3-1.5-1.3-2.8-3.9-11.5-1.3-3.1-1.3-1.9-1.3-.4-1.3 1.1-1.3 2.6-1.3 3.6z"/><path fill="none" d="M133.1 591.5l1 .3 4.2-16.6 1 20.9 4.2 12.4 1 1.9 4.2 19.2 1-22.2 4.2-8.6 1-7.7 4.2-20.6 1.1 19 4.1 4.9 1.1 9.5 4.1 21.5 1.1-19 4.1-.9 1.1-14.9 4.1-21.7 1.1 14.3 4.1-3.2 1.1 15.6 4.1 21 1.1-13.5 4.1 7 1.1-20.1 4.1-20 1.1 7.7 4.1-11 1.1 19.4 4.1 17.6 1.1-6.2 4.1 13.8 1.1-22.8 4.1-15.4 1.1-.3 4.1-17.2 1.1 20.4 4.1 11.8 1.1 1.7 4.1 18.8 1.1-22.5 4.1-8.9 1.1-8.4 4.2-21 1 18.4 4.2 4.2 1 9.2 4.2 21.2 1-19.4 4.2-1.1 1-15.4 4.2-22.2 1 13.7 4.2-3.9"/></g>
<g transform="translate(-20.8 -9.1)"><path d="M133.1 586.1l1.3-12.7 1.3-8.7 1.3-3.6 1.3 2 1.3 7.2 1.3 11.6 3.9 43.1 1.3 10.6 1.3 5.9 1.3 .5 1.3-5.1 1.3-10 3.9-43.9 1.3-12.8 1.3-8.8 1.3-3.7 1.3 1.9 1.3 7.2 1.3 11.5 3.9 42.9 1.3 10.5 1.3 5.9 1.3 .5 1.3-5.1 1.3-10 3.9-44.1 1.3-12.9 1.3-8.9 1.3-3.8 1.3 1.8 1.3 7.1 1.3 11.5 3.9 42.7 1.3 10.5 1.3 5.9 1.3 .4 1.3-5.1 1.3-10 3.9-44.3 1.3-12.9 1.3-9 1.3-3.9 1.3 1.7 1.3 7.1 1.3 11.3 3.9 42.6 1.3 10.5 1.3 5.8 1.3 .4 1.3-5.1 1.3-10 3.9-44.4 1.3-13.1 1.3-9 1.3-4 1.3 1.6 1.3 6.9 1.3 11.3 3.9 42.4 1.3 10.5 1.3 5.8 1.3 .4 1.3-5.1 1.3-10.1 5.2-57.6 1.4-9.2 1.3-4.1 1.3 1.5 1.3 6.9 1.3 11.1 3.9 42.3 1.3 10.4 1.3 5.9 1.3 .3 1.3-5.1 1.3-10.1 3.9-44.7 1.3-13.2 1.3-9.3 1.3-4.1 1.3 1.4 1.3 6.8 1.3 11.1-1.6 5.8-1.3-7.6-1.3-4.5-1.3-.9-1.3 3.1-1.3 6.6-1.3 9.3-3.9 31.4-1.3 7.2-1.3 3.7-1.3-.1-1.3-3.9-1.3-7.1-3.9-28.9-1.3-7.6-1.3-4.6-1.3-.9-1.3 2.9-1.3 6.5-5.2 40.6-1.3 7.1-1.3 3.7-1.3-.1-1.3-4-1.3-7.1-3.9-29.1-1.3-7.7-1.3-4.6-1.3-1-1.3 2.8-1.3 6.5-5.2 40.3-1.3 7.1-1.3 3.7-1.3-.2-1.3-4-1.3-7.1-3.9-29.3-1.3-7.8-1.3-4.7-1.3-1.1-1.3 2.8-1.3 6.3-1.3 9.1-3.9 31-1.3 7.1-1.3 3.6-1.3-.2-1.3-4-1.3-7.2-3.9-29.4-1.3-7.8-1.3-4.8-1.3-1.2-1.3 2.7-1.3 6.3-1.3 9-3.9 30.8-1.3 7.1-1.3 3.6-1.3-.3-1.3-4-1.3-7.2-3.9-29.6-1.3-7.9-1.4-4.9-1.3-1.3-1.3 2.7-1.3 6.2-1.3 8.9-3.9 30.7-1.3 7-1.3 3.6-1.3-.3-1.3-4-1.3-7.3-3.9-29.7-1.3-8-1.3-5-1.3-1.4-1.3 2.6-1.3 6.1-1.3 8.9z"/><path fill="none" d="M131.5 590.8l4.2-26.1 1 9.9 4.2 7.3 1 25.9 4.2 27.8 1-6.7 4.2-2 1-28.8 4.2-27.9 1-.4 4.2-3 1.1 26.9 4.1 27.5 1.1 3.5 4.1 8.3 1.1-28.2 4.1-25.9 1.1-10.7 4.1-13.1 1.1 24.2 4.1 23.4 1.1 13.2 4.1 17.3 1.1-23.8 4.1-20.4 1.1-19.7 4.1-21.3 1.1 18 4.1 16.2 1.1 20.9 4.1 23.9 1.1-16.3 4.1-12.1 1.1-26.2 4.1-26.6 1.1 9.2 4.1 6.6 1.1 25.5 4.1 27.4 1.1-6.9 4.1-2.1 1.1-29.3 4.1-28.3 1.1-1.1 4.2-3.8 1 26.5 4.2 26.9 1 3.4 4.2 8.1 1-28.5 4.2-26.3 1-11.4 4.2-13.8 1 23.7"/></g>
<g transform="translate(-19.3 -8.5)"><path d="M133.1 583.5l1.3-14.6 1.3-10 1.3-4.1 1.3 2.4 1.3 8.3 1.3 13.3 3.9 49.5 1.3 12.1 1.3 6.8 1.3 .6 1.3-5.8 1.3-11.4 3.9-50.3 1.3-14.6 1.3-10.1 1.3-4.2 1.3 2.2 1.3 8.3 1.3 13.3 3.9 49.2 1.3 12.1 1.3 6.8 1.3 .6 1.3-5.8 1.3-11.5 3.9-50.3 1.3-14.7 1.3-10.2 1.3-4.3 1.3 2.1 1.3 8.2 1.3 13.1 3.9 49.1 1.3 12.1 1.3 6.8 1.3 .5 1.3-5.8 1.3-11.4 3.9-50.6 1.3-14.7 1.3-10.3 1.3-4.4 1.3 2 1.3 8.1 1.3 13.1 3.9 48.9 1.3 12.1 1.3 6.7 1.3 .6 1.3-5.9 1.3-11.4 3.9-50.7 1.3-14.9 1.3-10.3 1.3-4.5 1.3 1.9 1.3 8 1.3 12.9 3.9 48.8 1.3 12.1 1.3 6.7 1.3 .5 1.3-5.8 1.3-11.5 5.2-65.8 1.4-10.4 1.3-4.6 1.3 1.8 1.3 7.9 1.3 12.9 3.9 48.6 1.3 12 1.3 6.8 1.3 .5 1.3-5.9 1.3-11.5 3.9-51 1.3-15 1.3-10.5 1.3-4.7 1.3 1.7 1.3 7.8 1.3 12.8-1.6 2.5-1.3-11.1-1.3-6.8-1.3-1.4-1.3 4.2-1.3 9.2-1.3 13.2-3.9 44.7-1.3 10.1-1.3 5.2-1.3-.4-1.3-5.8-1.3-10.5-3.9-42.2-1.3-11.2-1.3-6.9-1.3-1.5-1.3 4.1-1.3 9.2-5.2 57.6-1.3 10.1-1.3 5.1-1.3-.4-1.3-5.8-1.3-10.5-3.9-42.4-1.3-11.2-1.3-7-1.3-1.6-1.3 4-1.3 9.1-1.3 13-3.9 44.4-1.3 10-1.3 5.2-1.3-.4-1.3-5.9-1.3-10.5-3.9-42.6-1.3-11.3-1.3-7.1-1.3-1.7-1.3 3.9-1.3 9-1.3 13-3.9 44.2-1.3 10-1.3 5.2-1.3-.5-1.3-5.9-1.3-10.5-3.9-42.7-1.3-11.4-1.3-7.2-1.3-1.8-1.3 3.8-1.3 8.9-1.3 12.9-3.9 44.1-1.3 10-1.3 5.1-1.3-.5-1.3-5.9-1.3-10.5-3.9-42.9-1.3-11.5-1.4-7.2-1.3-1.9-1.3 3.7-1.3 8.8-1.3 12.8-3.9 43.9-1.3 10-1.3 5.1-1.3-.5-1.3-5.9-1.3-10.6-3.9-43-1.3-11.6-1.3-7.3-1.3-2-1.3 3.6-1.3 8.7-1.3 12.7z"/><path fill="none" d="M133.1 583.5l1-19.5 4.2-6.8 1 24.1 4.2 31.2 1 22.4 4.2 12.9 1-21.6 4.2-28.6 1-28.1 4.2-18.1 1.1 14.7 4.1 25.4 1.1 29 4.1 22.8 1.1-11 4.1-21.2 1.1-32.9 4.1-26.8 1.1 3 4.1 16.1 1.1 31.6 4.1 29.6 1.1 .9 4.1-10.8 1.1-33.4 4.1-31.9 1.1-9.2 4.1 4.6 1.1 29.6 4.1 32.4 1.1 12.5 4.1 1 1.1-29.5 4.1-32.6 1.1-20.2 4.1-7.6 1.1 23.4 4.1 30.7 1.1 22.2 4.1 12.7 1.1-21.7 4.1-28.9 1.1-28.7 4.2-18.8 1 13.9 4.2 24.7 1 28.7 4.2 22.7 1-11.2 4.2-21.4 1-33.4 4.2-27.4 1 2.2 4.2 15.4"/></g>
<g transform="translate(-17.7 -7.8)"><path d="M133.1 583.9l1.3-14 1.3-9.7 1.3-4 1.3 2.3 1.3 8.1 1.3 12.8 3.9 47.8 1.3 11.7 1.3 6.6 1.3 .5 1.3-5.6 1.3-11 3.9-48.6 1.3-14.2 1.3-9.7 1.3-4.1 1.3 2.2 1.3 8 1.3 12.7 3.9 47.7 1.3 11.6 1.3 6.6 1.3 .5 1.3-5.6 1.3-11 3.9-48.8 1.3-14.2 1.3-9.8 1.3-4.2 1.3 2 1.3 7.9 1.3 12.7 3.9 47.5 1.3 11.6 1.3 6.6 1.3 .5 1.3-5.6 1.3-11.1 3.9-48.9 1.3-14.3 1.3-9.9 1.3-4.3 1.3 1.9 1.3 7.8 1.3 12.6 3.9 47.3 1.3 11.7 1.3 6.5 1.3 .5 1.3-5.6 1.3-11.1 3.9-49.1 1.3-14.4 1.3-10 1.3-4.3 1.3 1.8 1.3 7.7 1.3 12.5 3.9 47.2 1.3 11.6 1.3 6.5 1.3 .5 1.3-5.7 1.3-11.1 5.2-63.6 1.4-10.2 1.3-4.4 1.3 1.7 1.3 7.6 1.3 12.5 3.9 46.9 1.3 11.6 1.3 6.5 1.3 .5 1.3-5.7 1.3-11.1 3.9-49.3 1.3-14.6 1.3-10.2 1.3-4.5 1.3 1.6 1.3 7.5 1.3 12.4-1.6-1.3-1.3-12.8-1.3-7.8-1.3-1.7-1.3 4.7-1.3 10.5-1.3 15.1-3.9 50.9-1.3 11.5-1.3 5.9-1.3-.5-1.3-6.8-1.3-12-3.9-48.6-1.3-12.9-1.3-7.9-1.3-1.8-1.3 4.6-1.3 10.5-5.2 65.7-1.3 11.5-1.3 5.9-1.3-.6-1.3-6.7-1.3-12-3.9-48.8-1.3-13-1.3-8-1.3-1.9-1.3 4.5-1.3 10.3-1.3 14.9-3.9 50.7-1.3 11.5-1.3 5.8-1.3-.5-1.3-6.8-1.3-12.1-3.9-48.9-1.3-13.1-1.3-8.1-1.3-2-1.3 4.4-1.3 10.3-1.3 14.8-3.9 50.5-1.3 11.4-1.3 5.9-1.3-.6-1.3-6.8-1.3-12-3.9-49.1-1.3-13.2-1.3-8.2-1.3-2.1-1.3 4.3-1.3 10.2-1.3 14.7-3.9 50.4-1.3 11.4-1.3 5.8-1.3-.5-1.3-6.8-1.3-12.1-3.9-49.3-1.3-13.2-1.4-8.3-1.3-2.2-1.3 4.2-1.3 10-1.3 14.7-3.9 50.2-1.3 11.4-1.3 5.8-1.3-.6-1.3-6.8-1.3-12.1-3.9-49.4-1.3-13.3-1.3-8.4-1.3-2.3-1.3 4.1-1.3 9.9-1.3 14.6z"/><path fill="none" d="M131.5 582.8l4.2-22.6 1-3.7 4.2 22.9 1 32.4 4.2 27.1 1 8.2 4.2-17.7 1-32.5 4.2-30.3 1-15.8 4.2 12.2 1.1 27.8 4.1 32.6 1.1 19.3 4.1-6.2 1.1-26.1 4.1-33.7 1.1-26 4.1-.2 1.1 19.4 4.1 33.5 1.1 27.6 4.1 6.3 1.1-16.2 4.1-32.6 1.1-32.7 4.1-12.6 1.1 8 4.1 30 1.1 32 4.1 17.8 1.1-4.2 4.1-27.1 1.1-35.1 4.1-23.3 1.1-4.5 4.1 22.2 1.1 31.9 4.1 26.9 1.1 8.1 4.1-17.9 1.1-32.8 4.1-30.8 1.1-16.7 4.2 11.4 1 27.2 4.2 32.2 1 19.2 4.2-6.3 1-26.2 4.2-34.2 1-26.7 4.2-1 1 18.6"/></g>
<g transform="translate(-16.2 -7.1)"><path d="M133.1 587.4l1.3-11.4 1.3-7.8 1.3-3.2 1.3 1.7 1.3 6.5 1.3 10.4 3.9 38.3 1.3 9.4 1.3 5.3 1.3 .4 1.3-4.6 1.3-8.9 3.9-39.3 1.3-11.4 1.3-7.9 1.3-3.3 1.3 1.6 1.3 6.5 1.3 10.2 3.9 38.2 1.3 9.4 1.3 5.2 1.3 .4 1.3-4.6 1.3-9 3.9-39.4 1.3-11.5 1.3-8 1.3-3.4 1.3 1.6 1.3 6.3 1.3 10.2 3.9 38 1.3 9.4 1.3 5.2 1.3 .3 1.3-4.6 1.3-8.9 3.9-39.6 1.3-11.6 1.3-8.1 1.3-3.5 1.3 1.5 1.3 6.3 1.3 10 3.9 37.9 1.3 9.3 1.3 5.2 1.3 .4 1.3-4.7 1.3-9 5.2-51.4 1.3-8.1 1.3-3.6 1.3 1.4 1.3 6.1 1.3 10 3.9 37.8 1.3 9.2 1.3 5.2 1.3 .3 1.3-4.6 1.3-9.1 5.2-51.6 1.4-8.2 1.3-3.7 1.3 1.3 1.3 6.1 1.3 9.9 3.9 37.6 1.3 9.2 1.3 5.2 1.3 .3 1.3-4.7 1.3-9.1 3.9-40 1.3-11.8 1.3-8.3 1.3-3.8 1.3 1.2 1.3 6 1.3 9.8-1.6-4.9-1.3-12.4-1.3-7.5-1.3-1.6-1.3 4.5-1.3 10.2-1.3 14.6-3.9 49.3-1.3 11.2-1.3 5.6-1.3-.4-1.3-6.5-1.3-11.6-3.9-47-1.3-12.4-1.3-7.7-1.3-1.7-1.3 4.5-1.3 10.1-5.2 63.6-1.3 11.1-1.3 5.7-1.3-.5-1.3-6.5-1.3-11.6-3.9-47.1-1.3-12.6-1.3-7.7-1.3-1.8-1.3 4.3-1.3 10.1-1.3 14.4-3.9 49-1.3 11.1-1.3 5.6-1.3-.5-1.3-6.5-1.3-11.6-3.9-47.3-1.3-12.6-1.3-7.9-1.3-1.9-1.3 4.3-1.3 9.9-1.3 14.3-3.9 48.9-1.3 11.1-1.3 5.6-1.3-.5-1.3-6.5-1.3-11.7-3.9-47.5-1.3-12.7-1.3-7.9-1.3-2-1.3 4.2-1.3 9.8-1.3 14.2-3.9 48.8-1.3 11-1.3 5.7-1.3-.6-1.3-6.5-1.3-11.7-3.9-47.6-1.3-12.8-1.4-8-1.3-2.1-1.3 4-1.3 9.8-1.3 14.1-3.9 48.6-1.3 11-1.3 5.6-1.3-.5-1.3-6.6-1.3-11.7-3.9-47.8-1.3-12.8-1.3-8.1-1.3-2.2-1.3 3.9-1.3 9.7-1.3 14z"/><path fill="none" d="M133.1 587.4l1-27.9 4.2 7.2 1 12 4.2 31 1 28.5 4.2-1.2 1-8.3 4.2-31 1-31.7 4.2-4.4 1.1 .7 4.1 30.3 1.1 30.1 4.1 10 1.1 3.1 4.1-28.4 1.1-31.4 4.1-15.4 1.1-10.8 4.1 25.5 1.1 27.4 4.1 20 1.1 13.9 4.1-21.9 1.1-26.9 4.1-24.3 1.1-21 4.1 17.2 1.1 20.8 4.1 27.1 1.1 22.7 4.1-12.5 1.1-18.8 4.1-29.9 1.1-28.5 4.1 6.5 1.1 11.3 4.1 30.5 1.1 28.2 4.1-1.4 1.1-8.4 4.1-31.4 1.1-32.2 4.2-5.2 1 0 4.2 29.7 1 29.7 4.2 9.9 1 3 4.2-28.8 1-31.7 4.2-16.1 1-11.6 4.2 24.8"/></g>
<g transform="translate(-14.6 -6.4)"><path d="M133.1 593.3l1.3-6.9 1.3-4.7 1.3-2 1.3 .9 1.3 3.8 1.3 6.1 3.9 22.8 1.3 5.5 1.3 3.1 1.3 .1 1.3-2.8 1.3-5.4 3.9-23.7 1.3-7 1.3-4.8 1.3-2.1 1.3 1 1.3 3.7 1.3 6 3.9 22.6 1.3 5.5 1.3 3 1.3 .1 1.3-2.8 1.3-5.5 3.9-23.9 1.3-7 1.3-4.8 1.3-2.2 1.3 .8 1.3 3.7 1.3 6 3.9 22.4 1.3 5.4 1.3 3 1.3 .1 1.3-2.9 1.3-5.5 5.2-31.1 1.3-5 1.3-2.2 1.3 .8 1.3 3.5 1.3 5.9 3.9 22.3 1.3 5.4 1.3 3 1.3 0 1.3-2.9 1.3-5.5 5.2-31.4 1.3-5 1.3-2.3 1.3 .6 1.3 3.6 1.3 5.8 3.9 22.1 1.3 5.3 1.3 3 1.3 0 1.3-3 1.3-5.6 5.2-31.5 1.4-5.1 1.3-2.4 1.3 .6 1.3 3.4 1.3 5.8 3.9 21.9 1.3 5.3 1.3 2.9 1.3 0 1.3-3 1.3-5.6 3.9-24.5 1.3-7.3 1.3-5.2 1.3-2.4 1.3 .5 1.3 3.3 1.3 5.7-1.6-7.9-1.3-9.8-1.3-6-1.3-1.2-1.3 3.8-1.3 8.3-1.3 11.8-3.9 40-1.3 9.1-1.3 4.7-1.3-.3-1.3-5.2-1.3-9.2-3.9-37.6-1.3-9.9-1.3-6.1-1.3-1.3-1.3 3.7-1.3 8.3-5.2 51.6-1.3 9-1.3 4.7-1.3-.4-1.3-5.1-1.3-9.3-3.9-37.7-1.3-10-1.3-6.2-1.3-1.4-1.3 3.6-1.3 8.2-5.2 51.3-1.3 9.1-1.3 4.6-1.3-.3-1.3-5.2-1.3-9.3-3.9-37.9-1.3-10.1-1.3-6.3-1.3-1.4-1.3 3.5-1.3 8-1.3 11.6-3.9 39.6-1.3 9-1.3 4.6-1.3-.4-1.3-5.2-1.3-9.3-3.9-38.1-1.3-10.2-1.3-6.3-1.3-1.5-1.3 3.4-1.3 7.9-1.3 11.6-3.9 39.4-1.3 8.9-1.3 4.6-1.3-.4-1.3-5.2-1.3-9.4-3.9-38.2-1.3-10.2-1.4-6.4-1.3-1.7-1.3 3.3-1.3 7.9-1.3 11.4-3.9 39.3-1.3 8.9-1.3 4.6-1.3-.4-1.3-5.3-1.3-9.4-3.9-38.3-1.3-10.3-1.3-6.5-1.3-1.8-1.3 3.2-1.3 7.8-1.3 11.4z"/><path fill="none" d="M131.5 586.7l4.2-5 1-15.6 4.2 24.4 1 18.5 4.2 9.8 1 17.5 4.2-22.5 1-16.8 4.2-13.9 1-22.2 4.2 20 1.1 11 4.1 17.6 1.1 22.5 4.1-16.7 1.1-8.6 4.1-20.8 1.1-25.9 4.1 12.7 1.1 1.9 4.1 23 1.1 24.4 4.1-8.7 1.1 .7 4.1-24.9 1.1-26.3 4.1 3.8 1.1-7.6 4.1 25.2 1.1 22.8 4.1 .5 1.1 9.7 4.1-25.6 1.1-23.2 4.1-5.7 1.1-16.3 4.1 24 1.1 17.8 4.1 9.6 1.1 17.3 4.1-22.9 1.1-17 4.1-14.5 1.1-22.9 4.2 19.4 1 10.3 4.2 17.4 1 22.2 4.2-17 1-8.8 4.2-21.3 1-26.5 4.2 12.1 1 1.1"/></g>
<g transform="translate(-13.1 -5.8)"><path d="M133.1 600.6l1.3-1.3 1.3-1 1.3-.4 1.3 0 1.3 .5 1.3 .9 3.9 3.3 1.3 .8 1.3 .3 1.3-.1 1.3-.7 1.3-1 5.2-5.9 1.3-1 1.3-.5 1.3-.1 1.3 .5 1.3 .8 3.9 3.2 1.3 .7 1.3 .3 1.3-.2 1.3-.7 1.3-1.1 5.2-6.1 1.3-1.1 1.3-.6 1.3-.1 1.3 .4 1.3 .7 3.9 3.1 1.3 .6 1.3 .3 1.3-.3 1.3-.7 1.3-1.2 5.2-6.3 1.3-1.1 1.3-.7 1.3-.1 1.3 .3 1.3 .7 3.9 2.8 1.3 .6 1.3 .2 1.3-.3 1.3-.8 1.3-1.2 5.2-6.5 1.3-1.2 1.3-.7 1.3-.2 1.3 .2 1.3 .7 3.9 2.6 1.3 .6 1.3 .1 1.3-.3 1.3-.9 1.3-1.3 5.2-6.7 1.4-1.2 1.3-.8 1.3-.3 1.3 .2 1.3 .6 3.9 2.5 1.3 .5 1.3 .1 1.3-.4 1.3-.9 1.3-1.3 3.9-5.4 2.6-2.9 1.3-.9 1.3-.3 1.3 .2 1.3 .5-1.6-9.7-1.3-5.6-1.3-3.4-1.3-.5-1.3 2.4-1.3 5.2-1.3 7.3-3.9 24.5-1.3 5.6-1.3 3-1.3 0-1.3-2.8-1.3-5.4-3.9-21.9-1.3-5.8-1.3-3.4-1.3-.6-1.3 2.4-1.3 5.1-5.2 31.6-1.3 5.5-1.3 3-1.3 0-1.3-2.9-1.3-5.4-3.9-22.1-1.3-5.8-1.3-3.5-1.3-.7-1.3 2.3-1.3 5-5.2 31.4-1.3 5.5-1.3 2.9-1.3 0-1.3-3-1.3-5.4-3.9-22.2-1.3-5.9-1.3-3.6-1.3-.8-1.3 2.3-1.3 4.9-5.2 31.1-1.3 5.5-1.3 2.9-1.3-.1-1.3-3-1.3-5.4-3.9-22.4-1.3-6-1.3-3.7-1.3-.8-1.3 2.2-1.3 4.9-1.3 7-3.9 23.9-1.3 5.4-1.3 2.9-1.3-.2-1.3-3-1.3-5.5-3.9-22.6-1.3-6-1.4-3.7-1.3-.9-1.3 2-1.3 4.9-1.3 6.9-3.9 23.7-1.3 5.5-1.3 2.8-1.3-.2-1.3-3.1-1.3-5.5-3.9-22.7-1.3-6.1-1.3-3.8-1.3-1-1.3 2-1.3 4.7-1.3 6.9z"/><path fill="none" d="M133.1 600.6l1-19.6 4.2 16.9 1-8 4.2 11.6 1 16.6 4.2-14.5 1 9.5 4.2-14.2 1-16.4 4.2 12 1.1-14.3 4.1 16.5 1.1 12.1 4.1-8.9 1.1 14.7 4.1-18.2 1.1-11.1 4.1 5.4 1.1-18.7 4.1 19.1 1.1 5.8 4.1-2.1 1.1 17.8 4.1-19.7 1.1-4.5 4.1-1.8 1.1-20.7 4.1 19.1 1.1-1.5 4.1 5 1.1 18.3 4.1-18.6 1.1 2.7 4.1-8.9 1.1-20 4.1 16.4 1.1-8.7 4.1 11.4 1.1 16.1 4.1-14.9 1.1 9.3 4.1-14.9 1.1-16.7 4.2 11.4 1-14.9 4.2 16.2 1 11.5 4.2-9.2 1 14.4 4.2-18.7 1-11.4 4.2 4.8 1-19.2 4.2 18.7"/></g>
<g transform="translate(-11.5 -5.1)"><path d="M133.1 608.1l1.3 4.5 1.3 3 1.3 1.1 1.3-1 1.3-2.9 1.3-4.6 3.9-16.6 1.3-4.2 1.3-2.4 1.3-.5 1.3 1.6 1.3 3.4 3.9 15.3 1.3 4.5 1.3 2.9 1.3 1.1 1.3-1.1 1.3-2.9 1.3-4.6 3.9-16.8 1.3-4.2 1.3-2.6 1.3-.5 1.3 1.5 1.3 3.4 3.9 15.1 1.3 4.4 1.3 2.9 1.3 1 1.3-1.1 1.3-3 1.3-4.6 3.9-17 1.3-4.3 1.3-2.6 1.3-.5 1.3 1.4 1.3 3.3 3.9 15 1.3 4.3 1.3 2.8 1.3 1 1.3-1.1 1.3-3.1 1.3-4.6 3.9-17.2 1.3-4.3 1.3-2.7 1.3-.6 1.3 1.3 1.3 3.2 3.9 14.8 1.3 4.3 1.3 2.8 1.3 1 1.3-1.2 1.3-3.1 1.3-4.7 3.9-17.3 1.3-4.4 1.3-2.8 1.3-.7 1.3 1.3 1.3 3.2 3.9 14.6 1.3 4.2 1.4 2.8 1.3 .9 1.3-1.2 1.3-3.2 1.3-4.7 3.9-17.5 1.3-4.5 1.3-2.8 1.3-.8 1.3 1.3 1.3 3 3.9 14.5 1.3 4.2 1.3 2.7 1.3 .8 1.3-1.2 1.3-3.2 1.3-4.8-1.6-9.9-1.3-.5-1.3-.2-1.3 .4-1.3 .8-2.6 2.9-3.9 5.4-1.3 1.3-1.3 .9-1.3 .4-1.3-.1-1.3-.5-3.9-2.5-1.3-.6-1.3-.2-1.3 .3-1.3 .8-1.3 1.2-5.2 6.8-1.3 1.3-1.3 .8-1.3 .4-1.3-.2-1.3-.5-3.9-2.7-1.3-.7-1.3-.2-1.3 .2-1.3 .7-1.3 1.2-5.2 6.5-1.3 1.3-1.3 .8-1.3 .3-1.3-.2-1.3-.7-3.9-2.8-1.3-.7-1.3-.3-1.3 .1-1.3 .7-1.3 1.1-5.2 6.3-1.3 1.2-1.3 .8-1.3 .2-1.3-.2-1.3-.7-3.9-3-1.3-.8-1.3-.4-1.3 .1-1.3 .6-1.3 1.1-5.2 6.1-1.3 1.1-1.3 .7-1.3 .2-1.3-.3-1.3-.7-3.9-3.2-1.3-.8-1.4-.5-1.3 .1-1.3 .5-1.3 1-5.2 5.9-1.3 1.1-1.3 .6-1.3 .2-1.3-.4-1.3-.8-3.9-3.3-1.3-.9-1.3-.5-1.3 0-1.3 .5-1.3 .9-1.3 1.3z"/><path fill="none" d="M131.5 599.9l4.2 15.7 1-18.4 4.2 11 1-7.3 4.2-13.5 1 15.5 4.2-13.4 1 8.7 4.2 11.1 1-15.5 4.2 15.5 1.1-13.2 4.1-8.2 1.1 11.3 4.1-17.1 1.1 13.6 4.1 4.9 1.1-10.6 4.1 17.8 1.1-17.3 4.1-1.8 1.1 5.5 4.1-18.4 1.1 16.4 4.1-1.9 1.1-4.4 4.1 17.7 1.1-19.3 4.1 4.8 1.1-1.3 4.1-17.2 1.1 17 4.1-8.5 1.1 2.2 4.1 15.1 1.1-18.7 4.1 10.7 1.1-8 4.1-13.7 1.1 14.9 4.1-13.9 1.1 8.4 4.1 10.4 1.1-15.8 4.2 15.1 1-13.8 4.2-8.4 1 10.7 4.2-17.5 1 13.2 4.2 4.3 1-10.9 4.2 17.4 1-17.9"/></g>
<g transform="translate(-10 -4.4)"><path d="M133.1 614.7l1.3 9.4 1.3 6.4 1.3 2.5 1.3-1.8 1.3-6 1.3-9.2 3.9-34 1.3-8.5 1.3-4.9 1.3-.7 1.3 3.5 1.3 7.3 3.9 32.6 1.3 9.5 1.3 6.4 1.3 2.4 1.3-1.9 1.3-5.9 1.3-9.3 3.9-34.2 1.3-8.5 1.3-5 1.3-.8 1.3 3.4 1.3 7.3 3.9 32.4 1.3 9.4 1.3 6.3 1.3 2.4 1.3-1.9 1.3-5.9 1.3-9.3 3.9-34.4 1.3-8.6 1.3-5.1 1.3-.9 1.3 3.4 1.3 7.1 3.9 32.3 1.3 9.3 1.3 6.3 1.3 2.4 1.3-1.9 1.3-6 1.3-9.3 3.9-34.6 1.3-8.7 1.3-5.1 1.3-1 1.3 3.3 1.3 7.1 3.9 32 1.3 9.3 1.3 6.3 1.3 2.4 1.3-1.9 1.3-6.1 1.3-9.3 3.9-34.8 1.3-8.8 1.3-5.2 1.3-1 1.3 3.2 1.3 6.9 3.9 31.9 1.3 9.3 1.4 6.3 1.3 2.3 1.3-2 1.3-6 1.3-9.4 3.9-35 1.3-8.8 1.3-5.3 1.3-1.1 1.3 3.1 1.3 6.9 3.9 31.7 1.3 9.2 1.3 6.3 1.3 2.3 1.3-2 1.3-6.1 1.3-9.4-1.6-8.7-1.3 4.8-1.3 3.1-1.3 1.3-1.3-.9-1.3-2.7-1.3-4.2-3.9-14.4-1.3-3.1-1.3-1.3-1.3 .8-1.3 2.8-1.3 4.5-3.9 17.5-1.3 4.8-1.3 3.1-1.3 1.2-1.3-.9-1.3-2.8-1.3-4.2-3.9-14.6-1.3-3.1-1.3-1.4-1.3 .8-1.3 2.7-1.3 4.4-3.9 17.3-1.3 4.7-1.3 3.1-1.3 1.2-1.3-.9-1.3-2.9-1.3-4.2-3.9-14.8-1.3-3.2-1.3-1.4-1.3 .6-1.3 2.7-1.3 4.4-3.9 17.1-1.3 4.7-1.3 3-1.3 1.1-1.3-.9-1.3-2.9-1.3-4.3-3.9-15-1.3-3.3-1.3-1.4-1.3 .6-1.3 2.6-1.3 4.2-3.9 17-1.3 4.6-1.3 3.1-1.3 1-1.3-1-1.3-2.9-1.3-4.4-3.9-15.1-1.3-3.3-1.3-1.6-1.3 .6-1.3 2.5-1.3 4.2-3.9 16.8-1.3 4.6-1.4 3-1.3 1-1.3-1.1-1.3-2.9-1.3-4.4-3.9-15.4-1.3-3.3-1.3-1.6-1.3 .4-1.3 2.5-1.3 4.1-3.9 16.7-1.3 4.5-1.3 2.9-1.3 1-1.3-1.1-1.3-3-1.3-4.5z"/><path fill="none" d="M133.1 614.7l1 .2 4.2 16.3 1-23.6 4.2-14.8 1-6 4.2-18.9 1 20.9 4.2 11.4 1 8.4 4.2 21 1.1-21 4.1-7.4 1.1-14 4.1-22.4 1.1 16.7 4.1 3.1 1.1 15.3 4.1 22.9 1.1-15.6 4.1 .9 1.1-20.1 4.1-22.9 1.1 10 4.1-5.5 1.1 20 4.1 21.6 1.1-8.3 4.1 9.1 1.1-23.6 4.1-20.3 1.1 1.8 4.1-13.3 1.1 21.8 4.1 17.3 1.1 .1 4.1 16 1.1-24.1 4.1-14.9 1.1-6.8 4.1-19.4 1.1 20.4 4.1 10.6 1.1 8.2 4.2 20.7 1-21.3 4.2-7.7 1-14.6 4.2-22.9 1 16.1 4.2 2.5 1 15 4.2 22.5 1-16 4.2 .8"/></g>
<g transform="translate(-8.5 -3.7)"><path d="M133.1 619.1l1.3 12.9 1.3 8.8 1.3 3.4 1.3-2.4 1.3-8 1.3-12.5 3.9-46.1 1.3-11.4 1.3-6.6 1.3-.9 1.3 4.9 1.3 10 3.9 44.6 1.3 12.9 1.3 8.7 1.3 3.4 1.3-2.4 1.3-8 1.3-12.5 3.9-46.3 1.3-11.5 1.3-6.7 1.3-1 1.3 4.8 1.3 9.9 3.9 44.4 1.3 12.8 1.3 8.8 1.3 3.4 1.3-2.5 1.3-8 1.3-12.6 3.9-46.4 1.3-11.6 1.3-6.8 1.3-1.1 1.3 4.7 1.3 9.8 3.9 44.2 1.3 12.9 1.3 8.7 1.3 3.4 1.3-2.5 1.3-8.1 1.3-12.5 3.9-46.7 1.3-11.6 1.3-6.9 1.3-1.2 1.3 4.6 1.3 9.8 3.9 44 1.3 12.8 1.3 8.7 1.3 3.3 1.3-2.5 1.3-8 1.3-12.6 3.9-46.8 1.3-11.8 1.3-7 1.3-1.2 1.3 4.5 1.3 9.6 3.9 43.8 1.3 12.8 1.4 8.7 1.3 3.3 1.3-2.5 1.3-8.1 1.3-12.6 3.9-47 1.3-11.8 1.3-7.1 1.3-1.4 1.3 4.5 1.3 9.5 3.9 43.7 1.3 12.7 1.3 8.7 1.3 3.3 1.3-2.5 1.3-8.1 1.3-12.7-1.6-6.1-1.3 9.4-1.3 6.1-1.3 2-1.3-2.3-1.3-6.3-1.3-9.2-3.9-31.7-1.3-6.9-1.3-3.1-1.3 1.1-1.3 5.3-1.3 8.9-3.9 34.9-1.3 9.4-1.3 6.1-1.3 1.9-1.3-2.3-1.3-6.3-1.3-9.2-3.9-31.9-1.3-7-1.3-3.2-1.3 1-1.3 5.3-1.3 8.7-3.9 34.8-1.3 9.3-1.3 6.1-1.3 1.9-1.3-2.3-1.3-6.3-1.3-9.4-3.9-32-1.3-7.1-1.3-3.3-1.3 1-1.3 5.1-1.3 8.7-3.9 34.6-1.3 9.3-1.3 6-1.3 2-1.3-2.4-1.3-6.3-1.3-9.4-3.9-32.2-1.3-7.2-1.3-3.4-1.3 .9-1.3 5.1-1.3 8.6-3.9 34.4-1.3 9.3-1.3 6-1.3 1.9-1.3-2.5-1.3-6.3-1.3-9.4-3.9-32.4-1.3-7.2-1.3-3.5-1.3 .8-1.3 5-1.3 8.5-3.9 34.3-1.3 9.2-1.4 6-1.3 1.8-1.3-2.4-1.3-6.4-1.3-9.4-3.9-32.6-1.3-7.3-1.3-3.6-1.3 .7-1.3 4.9-1.3 8.5-3.9 34.1-1.3 9.2-1.3 5.9-1.3 1.8-1.3-2.4-1.3-6.4-1.3-9.5z"/><path fill="none" d="M131.5 614l4.2 26.8 1-10.3 4.2-9.2 1-29.1 4.2-28.4 1 3.4 4.2 4 1 28.3 4.2 29.2 1 .2 4.2 1.5 1.1-29.9 4.1-28.9 1.1-7.5 4.1-6.9 1.1 26.7 4.1 27.6 1.1 10.6 4.1 11.9 1.1-26.6 4.1-25.5 1.1-17.5 4.1-16.9 1.1 21.5 4.1 22.1 1.1 19.5 4.1 20.6 1.1-19.9 4.1-18.6 1.1-25.3 4.1-24.5 1.1 13 4.1 13.6 1.1 25.5 4.1 26.6 1.1-10.5 4.1-9.3 1.1-29.7 4.1-28.9 1.1 2.7 4.1 3.2 1.1 27.9 4.1 28.7 1.1 .1 4.2 1.3 1-30.2 4.2-29.4 1-8.2 4.2-7.6 1 26.2 4.2 27 1 10.5 4.2 11.7 1-26.9"/></g>
<g transform="translate(-6.9 -3)"><path d="M133.1 620.7l1.3 14.3 1.3 9.7 1.3 3.8 1.3-2.7 1.3-8.8 1.3-13.7 3.9-50.9 1.3-12.6 1.3-7.2 1.3-1 1.3 5.4 1.3 11.1 3.9 49.3 1.3 14.2 1.3 9.7 1.3 3.8 1.3-2.7 1.3-8.8 1.3-13.8 3.9-51 1.3-12.7 1.3-7.4 1.3-1 1.3 5.3 1.3 11 3.9 49.1 1.3 14.2 1.3 9.7 1.3 3.7 1.3-2.7 1.3-8.8 1.3-13.8 3.9-51.2 1.3-12.8 1.3-7.4 1.3-1.2 1.3 5.2 1.3 10.9 3.9 48.9 1.3 14.2 1.3 9.7 1.3 3.7 1.3-2.7 1.3-8.8 1.3-13.8 3.9-51.4 1.3-12.9 1.3-7.5 1.3-1.3 1.3 5.1 1.3 10.8 3.9 48.7 1.3 14.2 1.3 9.6 1.3 3.8 1.3-2.7 1.3-8.9 1.3-13.8 3.9-51.6 1.3-13 1.3-7.6 1.3-1.4 1.3 5.1 1.3 10.7 3.9 48.5 1.3 14.1 1.4 9.7 1.3 3.7 1.3-2.7 1.3-8.9 1.3-13.9 3.9-51.7 1.3-13.1 1.3-7.7 1.3-1.5 1.3 5 1.3 10.6 3.9 48.3 1.3 14.1 1.3 9.6 1.3 3.8 1.3-2.8 1.3-8.9 1.3-13.9-1.6-2.7-1.3 12.7-1.3 8.1-1.3 2.5-1.3-3.3-1.3-8.7-1.3-12.7-3.9-43.7-1.3-9.5-1.3-4.4-1.3 1.4-1.3 7-1.3 11.9-3.9 46.9-1.3 12.7-1.3 8-1.3 2.5-1.3-3.3-1.3-8.7-1.3-12.7-3.9-43.9-1.3-9.6-1.3-4.5-1.3 1.3-1.3 6.9-1.3 11.8-3.9 46.8-1.3 12.6-1.3 8-1.3 2.5-1.3-3.3-1.3-8.7-1.3-12.8-3.9-44-1.3-9.8-1.3-4.6-1.3 1.2-1.3 6.9-1.3 11.7-3.9 46.6-1.3 12.6-1.3 8-1.3 2.5-1.3-3.4-1.3-8.7-1.3-12.8-3.9-44.2-1.3-9.9-1.3-4.7-1.3 1.1-1.3 6.8-1.3 11.6-3.9 46.5-1.3 12.5-1.3 8-1.3 2.5-1.3-3.4-1.3-8.7-1.3-12.9-3.9-44.4-1.3-9.9-1.3-4.8-1.3 1-1.3 6.7-1.3 11.5-3.9 46.3-1.3 12.5-1.4 8-1.3 2.4-1.3-3.4-1.3-8.7-1.3-12.9-3.9-44.6-1.3-10-1.3-4.9-1.3 .9-1.3 6.6-1.3 11.4-3.9 46.2-1.3 12.4-1.3 8-1.3 2.5-1.3-3.5-1.3-8.7-1.3-13z"/><path fill="none" d="M133.1 620.7l1 19.4 4.2 5.7 1-25.1 4.2-32 1-25.6 4.2-11.5 1 18.9 4.2 30 1 27.5 4.2 17.1 1.1-15.4 4.1-26.8 1.1-32 4.1-22.2 1.1 7.8 4.1 22.6 1.1 31.7 4.1 26.2 1.1-3.7 4.1-17.9 1.1-34.2 4.1-29.8 1.1-4.6 4.1 12.1 1.1 31.5 4.1 31.6 1.1 8.5 4.1-6.6 1.1-31.9 4.1-33.3 1.1-16.5 4.1-.1 1.1 26.8 4.1 32.7 1.1 19.3 4.1 5.6 1.1-25.4 4.1-32.4 1.1-26.2 4.1-12.3 1.1 18.2 4.1 29.4 1.1 27.2 4.2 17 1-15.5 4.2-27.1 1-32.5 4.2-22.9 1 7 4.2 21.8 1 31.4 4.2 25.9 1-3.7 4.2-18.1"/></g>
<g transform="translate(-5.4 -2.4)"><path d="M133.1 619.2l1.3 13.3 1.3 9.1 1.3 3.5 1.3-2.5 1.3-8.2 1.3-12.9 3.9-47.6 1.3-11.7 1.3-6.8 1.3-.9 1.3 5 1.3 10.3 3.9 46 1.3 13.4 1.3 9 1.3 3.5 1.3-2.5 1.3-8.3 1.3-12.9 3.9-47.7 1.3-11.9 1.3-6.8 1.3-1.1 1.3 5 1.3 10.2 3.9 45.8 1.3 13.3 1.3 9 1.3 3.5 1.3-2.5 1.3-8.3 1.3-12.9 3.9-47.9 1.3-11.9 1.3-7 1.3-1.1 1.3 4.8 1.3 10.2 3.9 45.6 1.3 13.3 1.3 9 1.3 3.4 1.3-2.5 1.3-8.3 1.3-12.9 3.9-48.1 1.3-12 1.3-7.1 1.3-1.2 1.3 4.7 1.3 10.1 3.9 45.4 1.3 13.2 1.3 9 1.3 3.5 1.3-2.6 1.3-8.3 1.3-12.9 3.9-48.3 1.3-12.1 1.3-7.2 1.3-1.3 1.3 4.7 1.3 9.9 3.9 45.3 1.3 13.2 1.4 8.9 1.3 3.5 1.3-2.6 1.3-8.3 1.3-13 3.9-48.4 1.3-12.2 1.3-7.3 1.3-1.4 1.3 4.6 1.3 9.9 3.9 45 1.3 13.2 1.3 8.9 1.3 3.5 1.3-2.6 1.3-8.4 1.3-13-1.6 1.2-1.3 13.9-1.3 8.8-1.3 2.8-1.3-3.7-1.3-9.6-1.3-14.2-3.9-48.3-1.3-10.6-1.3-4.9-1.3 1.4-1.3 7.8-1.3 13-3.9 51.7-1.3 13.9-1.3 8.9-1.3 2.7-1.3-3.7-1.3-9.6-1.3-14.2-3.9-48.5-1.3-10.7-1.3-5-1.3 1.3-1.3 7.7-1.3 12.9-3.9 51.6-1.3 13.8-1.3 8.9-1.3 2.7-1.3-3.7-1.3-9.7-1.3-14.2-3.9-48.7-1.3-10.8-1.3-5.1-1.3 1.3-1.3 7.5-1.3 12.9-3.9 51.4-1.3 13.8-1.3 8.9-1.3 2.7-1.3-3.8-1.3-9.6-1.3-14.3-3.9-48.9-1.3-10.8-1.3-5.3-1.3 1.2-1.3 7.4-1.3 12.8-3.9 51.2-1.3 13.8-1.3 8.9-1.3 2.7-1.3-3.8-1.3-9.7-1.3-14.2-3.9-49.1-1.3-11-1.3-5.3-1.3 1.1-1.3 7.3-1.3 12.7-3.9 51-1.3 13.8-1.4 8.8-1.3 2.7-1.3-3.8-1.3-9.6-1.3-14.3-3.9-49.3-1.3-11.1-1.3-5.4-1.3 1-1.3 7.2-1.3 12.6-3.9 50.9-1.3 13.8-1.3 8.8-1.3 2.6-1.3-3.8-1.3-9.7-1.3-14.3z"/><path fill="none" d="M131.5 620l4.2 21.6 1 3.6 4.2-23.7 1-33.5 4.2-25.8 1-11.3 4.2 18.9 1 30 4.2 29.4 1 15.2 4.2-13.5 1.1-28.7 4.1-31.9 1.1-22.2 4.1 7.4 1.1 22.9 4.1 33.1 1.1 24.8 4.1-1.5 1.1-20.1 4.1-33.6 1.1-30.4 4.1-5 1.1 12.5 4.1 32.4 1.1 30.8 4.1 10.6 1.1-8.8 4.1-30.8 1.1-34.4 4.1-16.9 1.1 .3 4.1 27.2 1.1 32.3 4.1 21.4 1.1 3.5 4.1-23.8 1.1-33.9 4.1-26.5 1.1-12 4.1 18.1 1.1 29.4 4.1 29.1 1.1 15.1 4.2-13.6 1-28.9 4.2-32.5 1-23 4.2 6.7 1 22.2 4.2 32.7 1 24.6 4.2-1.6 1-20.2"/></g>
<g transform="translate(-3.9 -1.7)"><path d="M133.1 614.7l1.3 10.3 1.3 6.9 1.3 2.7 1.3-2 1.3-6.4 1.3-9.9 3.9-36.7 1.3-9.1 1.3-5.3 1.3-.8 1.3 3.9 1.3 7.9 3.9 35.2 1.3 10.2 1.3 6.9 1.3 2.6 1.3-2 1.3-6.3 1.3-10 3.9-36.9 1.3-9.2 1.3-5.3 1.3-.9 1.3 3.8 1.3 7.8 3.9 35 1.3 10.2 1.3 6.9 1.3 2.6 1.3-2 1.3-6.5 1.3-10 3.9-37 1.3-9.3 1.3-5.4 1.3-1 1.3 3.7 1.3 7.7 3.9 34.9 1.3 10.1 1.3 6.9 1.3 2.6 1.3-2.1 1.3-6.4 1.3-10 3.9-37.3 1.3-9.3 1.3-5.5 1.3-1.1 1.3 3.6 1.3 7.7 3.9 34.7 1.3 10 1.3 6.9 1.3 2.5 1.3-2 1.3-6.5 1.3-10.1 3.9-37.4 1.3-9.4 1.3-5.6 1.3-1.1 1.3 3.5 1.3 7.5 3.9 34.6 1.3 10 1.4 6.8 1.3 2.5 1.3-2 1.3-6.5 1.3-10.1 3.9-37.6 1.3-9.5 1.3-5.7 1.3-1.2 1.3 3.4 1.3 7.5 3.9 34.3 1.3 10 1.3 6.8 1.3 2.5 1.3-2.1 1.3-6.5 1.3-10.2-1.6 4.7-1.3 13.1-1.3 8.3-1.3 2.6-1.3-3.5-1.3-8.9-1.3-13.2-3.9-45-1.3-9.9-1.3-4.6-1.3 1.4-1.3 7.3-1.3 12.2-3.9 48.4-1.3 13-1.3 8.4-1.3 2.5-1.3-3.4-1.3-9-1.3-13.2-3.9-45.2-1.3-10-1.3-4.7-1.3 1.3-1.3 7.2-1.3 12.1-3.9 48.3-1.3 13-1.3 8.3-1.3 2.5-1.3-3.5-1.3-8.9-1.3-13.3-3.9-45.4-1.3-10-1.3-4.8-1.3 1.2-1.3 7.1-1.3 12-3.9 48.1-1.3 12.9-1.3 8.3-1.3 2.6-1.3-3.5-1.3-9-1.3-13.3-3.9-45.6-1.3-10.1-1.3-4.9-1.3 1.1-1.3 7-1.3 11.9-3.9 48-1.3 12.9-1.3 8.2-1.3 2.6-1.3-3.5-1.3-9-1.3-13.3-3.9-45.8-1.3-10.3-1.3-4.9-1.3 1-1.3 6.9-1.3 11.8-3.9 47.8-1.3 12.9-1.4 8.2-1.3 2.5-1.3-3.5-1.3-9-1.3-13.3-3.9-46-1.3-10.3-1.3-5.1-1.3 .9-1.3 6.8-1.3 11.8-3.9 47.5-1.3 12.9-1.3 8.2-1.3 2.5-1.3-3.5-1.3-9-1.3-13.4z"/><path fill="none" d="M133.1 614.7l1 26.2 4.2-8.3 1-11.8 4.2-29.5 1-29.8 4.2 2.9 1 4.8 4.2 30.1 1 29.2 4.2 2.6 1.1-.8 4.1-29.7 1.1-31 4.1-8.2 1.1-6.6 4.1 28.1 1.1 28 4.1 13.3 1.1 9.9 4.1-25.8 1.1-27.9 4.1-18.4 1.1-17 4.1 22 1.1 23 4.1 22 1.1 19.4 4.1-18.4 1.1-21.3 4.1-26 1.1-25.3 4.1 13 1.1 14.5 4.1 27.9 1.1 25.8 4.1-8.4 1.1-11.9 4.1-30.1 1.1-30.3 4.1 2.2 1.1 4 4.1 29.7 1.1 28.7 4.2 2.5 1-1 4.2-30.1 1-31.3 4.2-9 1-7.3 4.2 27.5 1 27.4 4.2 13.2 1 9.8 4.2-26.1"/></g>
<g transform="translate(-2.3 -1)"><path d="M133.1 608l1.3 5.4 1.3 3.7 1.3 1.4 1.3-1.2 1.3-3.5 1.3-5.4 3.9-20.1 1.3-5 1.3-3 1.3-.5 1.3 2 1.3 4.2 3.9 18.7 1.3 5.4 1.3 3.6 1.3 1.4 1.3-1.2 1.3-3.6 1.3-5.5 3.9-20.2 1.3-5.1 1.3-3 1.3-.6 1.3 1.9 1.3 4.1 3.9 18.6 1.3 5.3 1.3 3.6 1.3 1.3 1.3-1.2 1.3-3.6 1.3-5.5 3.9-20.5 1.3-5.1 1.3-3.1 1.3-.6 1.3 1.8 1.3 4 3.9 18.4 1.3 5.3 1.3 3.6 1.3 1.2 1.3-1.2 1.3-3.7 1.3-5.6 3.9-20.6 1.3-5.2 1.3-3.1 1.3-.7 1.3 1.7 1.3 4 3.9 18.2 1.3 5.3 1.3 3.5 1.3 1.2 1.3-1.3 1.3-3.7 1.3-5.6 3.9-20.8 1.3-5.3 1.3-3.2 1.3-.8 1.3 1.7 1.3 3.9 3.9 18 1.3 5.2 1.4 3.5 1.3 1.2 1.3-1.4 1.3-3.7 1.3-5.6 3.9-21 1.3-5.3 1.3-3.3 1.3-.9 1.3 1.6 1.3 3.9 3.9 17.8 1.3 5.2 1.3 3.4 1.3 1.1 1.3-1.3 1.3-3.8 1.3-5.7-1.6 7.5-1.3 10.1-1.3 6.5-1.3 2.1-1.3-2.5-1.3-6.8-1.3-10-3.9-34.3-1.3-7.5-1.3-3.4-1.3 1.2-1.3 5.7-1.3 9.5-3.9 37.6-1.3 10.1-1.3 6.5-1.3 2.1-1.3-2.6-1.3-6.8-1.3-10-3.9-34.5-1.3-7.6-1.3-3.5-1.3 1.1-1.3 5.6-1.3 9.4-3.9 37.5-1.3 10-1.3 6.5-1.3 2.1-1.3-2.6-1.3-6.8-1.3-10.1-3.9-34.7-1.3-7.7-1.3-3.5-1.3 1-1.3 5.5-1.3 9.3-3.9 37.3-1.3 10-1.3 6.5-1.3 2-1.3-2.6-1.3-6.8-1.3-10.2-3.9-34.8-1.3-7.8-1.3-3.6-1.3 .9-1.3 5.4-1.3 9.3-3.9 37.1-1.3 10-1.3 6.4-1.3 2-1.3-2.6-1.3-6.9-1.3-10.1-3.9-35.1-1.3-7.8-1.3-3.8-1.3 .9-1.3 5.3-1.3 9.2-3.9 36.9-1.3 10-1.4 6.4-1.3 2-1.3-2.7-1.3-6.9-1.3-10.2-3.9-35.2-1.3-7.9-1.3-3.8-1.3 .7-1.3 5.3-1.3 9.1-3.9 36.7-1.3 9.9-1.3 6.4-1.3 2-1.3-2.7-1.3-6.9-1.3-10.3z"/><path fill="none" d="M131.5 614l4.2 3.1 1 14.8 4.2-23.5 1-17.8 4.2-7.3 1-19.5 4.2 22.2 1 12.6 4.2 11.5 1 20.4 4.2-20.2 1.1-10.4 4.1-15.3 1.1-23.9 4.1 17.1 1.1 4.4 4.1 18.3 1.1 23 4.1-14 1.1-1.8 4.1-21.2 1.1-25.2 4.1 9.8 1.1-4.7 4.1 22.6 1.1 22.4 4.1-6 1.1 6.9 4.1-24.2 1.1-23.1 4.1 1 1.1-13.3 4.1 23.9 1.1 18.5 4.1 2.9 1.1 14.5 4.1-23.9 1.1-18 4.1-8.1 1.1-20.1 4.1 21.7 1.1 12 4.1 11.2 1.1 20.1 4.2-20.5 1-10.6 4.2-16 1-24.4 4.2 16.5 1 3.7 4.2 18 1 22.6 4.2-14.2 1-2"/></g>
<g transform="translate(-.8 -.3)"><path d="M133.1 600.1l5.2-.9 10.4-1 10.4-2.2 10.4-1.5 11.7-2.8 11.7-2.3 10.4-3 11.7-2.8 10.4-3.5 11.7-3.2 10.5-4 11.7-3.7 9.1-3.9 5.2-1.9-1.6 8.9-1.3 5.7-1.3 3.8-1.3 1.4-1.3-1.2-1.3-3.4-1.3-5.2-3.9-17.8-1.3-3.8-1.3-1.6-1.3 .8-1.3 3.3-1.3 5.4-3.9 20.9-1.3 5.6-1.3 3.8-1.3 1.3-1.3-1.2-1.3-3.4-1.3-5.3-3.9-18-1.3-3.9-1.3-1.7-1.3 .8-1.3 3.3-1.3 5.2-3.9 20.8-1.3 5.6-1.3 3.7-1.3 1.3-1.3-1.2-1.3-3.5-1.3-5.3-3.9-18.2-1.3-3.9-1.3-1.8-1.3 .7-1.3 3.2-1.3 5.2-3.9 20.6-1.3 5.5-1.3 3.7-1.3 1.2-1.3-1.2-1.3-3.6-1.3-5.3-3.9-18.3-1.3-4.1-1.3-1.8-1.3 .6-1.3 3.1-1.3 5.2-3.9 20.4-1.3 5.5-1.3 3.6-1.3 1.2-1.3-1.3-1.3-3.5-1.3-5.4-3.9-18.5-1.3-4.1-1.3-1.9-1.3 .5-1.3 3-1.3 5.1-3.9 20.3-1.3 5.4-1.4 3.6-1.3 1.2-1.3-1.3-1.3-3.7-1.3-5.4-3.9-18.7-1.3-4.1-1.3-2-1.3 .5-1.3 2.9-1.3 5-3.9 20.1-1.3 5.4-1.3 3.6-1.3 1.1-1.3-1.4-1.3-3.6-1.3-5.5z"/><path fill="none" d="M133.1 600.1l1 16.3 4.2-17.2 1 8.5 4.2-8.9 1-16.2 4.2 15.6 1-12.9 4.2 11.8 1 12.3 4.2-13.4 1.1 13.6 4.1-14.3 1.1-11.4 4.1 10.6 1.1-17.3 4.1 16.1 1.1 6.5 4.1-7.8 1.1 16.8 4.1-17.9 1.1-5.1 4.1 4.2 1.1-19.6 4.1 18.3 1.1-.4 4.1-1.2 1.1 17.6 4.1-19 1.1 1.7 4.1-2.8 1.1-19.3 4.1 17.9 1.1-7.3 4.1 5.5 1.1 15.9 4.1-17.6 1.1 8.2 4.1-9.5 1.1-16.5 4.1 15 1.1-13.5 4.1 11.5 1.1 11.8 4.2-13.8 1 13.3 4.2-14.9 1-11.6 4.2 10 1-17.9 4.2 15.8 1 5.8 4.2-8.1 1 16.5 4.2-18.4"/></g>
</g>
<path d="M24.5 609.9L24.5 509.3M24.5 609.9L132.3 657.3M132.3 657.3L272.8 620.6M24.5 585.9h-2M24.5 562h-2M24.5 538h-2M24.5 514.1h-2M132.3 657.3l-1.6 1.2M105.3 645.4l-1.6 1.2M78.3 633.5l-1.6 1.2M51.2 621.7l-1.6 1.2M132.3 657.3l1.4 1.4M167.5 648.1l1.4 1.4M202.7 638.9l1.4 1.4M237.9 629.7l1.4 1.4" fill="none" stroke="#606060" stroke-width=".6"/>
<text x="18.5" y="588.6" font-size="7.3" text-anchor="end" fill="#262626">0.5</text>
<text x="18.5" y="564.6" font-size="7.3" text-anchor="end" fill="#262626">1</text>
<text x="18.5" y="540.7" font-size="7.3" text-anchor="end" fill="#262626">1.5</text>
<text x="18.5" y="516.7" font-size="7.3" text-anchor="end" fill="#262626">2</text>
<text x="125.9" y="667.2" font-size="7.3" text-anchor="end" fill="#262626">-20</text>
<text x="98.9" y="655.3" font-size="7.3" text-anchor="end" fill="#262626">-10</text>
<text x="71.9" y="643.5" font-size="7.3" text-anchor="end" fill="#262626">0</text>
<text x="44.8" y="631.6" font-size="7.3" text-anchor="end" fill="#262626">10</text>
<text x="138.6" y="667.8" font-size="7.3" text-anchor="start" fill="#262626">-20</text>
<text x="173.8" y="658.6" font-size="7.3" text-anchor="start" fill="#262626">-10</text>
<text x="209" y="649.4" font-size="7.3" text-anchor="start" fill="#262626">0</text>
<text x="244.2" y="640.2" font-size="7.3" text-anchor="start" fill="#262626">10</text>
<defs>
<linearGradient id="gR" gradientUnits="userSpaceOnUse" x1="127.30" y1="1105.80" x2="103.54" y2="1012.55"><stop offset="0%" stop-color="#6452ba"/><stop offset="6.2%" stop-color="#6a5edd"/><stop offset="12.5%" stop-color="#6c6ff2"/><stop offset="18.8%" stop-color="#6a81fd"/><stop offset="25%" stop-color="#5d94fd"/><stop offset="31.2%" stop-color="#56a5f4"/><stop offset="37.5%" stop-color="#4eb5e9"/><stop offset="43.8%" stop-color="#3ec2dd"/><stop offset="50%" stop-color="#3ecbc9"/><stop offset="56.2%" stop-color="#5bd1b2"/><stop offset="62.5%" stop-color="#79d694"/><stop offset="68.8%" stop-color="#a5d572"/><stop offset="75%" stop-color="#cfce55"/><stop offset="81.2%" stop-color="#f1c85c"/><stop offset="87.5%" stop-color="#fed25e"/><stop offset="93.8%" stop-color="#f8e653"/><stop offset="100%" stop-color="#f9f946"/></linearGradient>
<linearGradient id="gRs" gradientUnits="userSpaceOnUse" x1="127.30" y1="1105.80" x2="103.54" y2="1012.55"><stop offset="0%" stop-color="#4731ad"/><stop offset="6.2%" stop-color="#4e40d6"/><stop offset="12.5%" stop-color="#5155f0"/><stop offset="18.8%" stop-color="#4f69fc"/><stop offset="25%" stop-color="#3f80fd"/><stop offset="31.2%" stop-color="#3795f1"/><stop offset="37.5%" stop-color="#2da7e5"/><stop offset="43.8%" stop-color="#1ab6d6"/><stop offset="50%" stop-color="#1ac1be"/><stop offset="56.2%" stop-color="#3cc9a3"/><stop offset="62.5%" stop-color="#60cf80"/><stop offset="68.8%" stop-color="#94cd57"/><stop offset="75%" stop-color="#c6c536"/><stop offset="81.2%" stop-color="#eebe3e"/><stop offset="87.5%" stop-color="#feca3f"/><stop offset="93.8%" stop-color="#f6e133"/><stop offset="100%" stop-color="#f8f824"/></linearGradient>
</defs>
<path d="M22.3 1060.5L22.3 961.2M127.3 1105.8L22.3 1060.5M90.6 1043.1L90.6 943.8M195.6 1088.4L90.6 1043.1M158.9 1025.7L158.9 926.4M263.9 1071L158.9 1025.7M263.9 1071L263.9 971.7M127.3 1105.8L263.9 1071M211.4 1048.3L211.4 949M74.8 1083.2L211.4 1048.3M158.9 1025.7L158.9 926.4M22.3 1060.5L158.9 1025.7M22.3 1060.5L158.9 1025.7M158.9 1025.7L263.9 1071M22.3 1035.7L158.9 1000.9M158.9 1000.9L263.9 1046.2M22.3 1010.9L158.9 976.1M158.9 976.1L263.9 1021.4M22.3 986L158.9 951.2M158.9 951.2L263.9 996.5M22.3 961.2L158.9 926.4M158.9 926.4L263.9 971.7M22.3 961.2L158.9 926.4M158.9 926.4L263.9 971.7M158.9 1025.7L158.9 926.4M263.9 1071L263.9 971.7M22.3 1060.5L158.9 1025.7M158.9 1025.7L263.9 1071" fill="none" stroke="#ececec" stroke-width=".6"/>
<use href="#cR" transform="matrix(0.6766 -0.1724 0.6591 0.2844 -823.30 851.90)"/>
<g fill="url(#gR)" stroke="url(#gRs)" stroke-width="0.4" stroke-linejoin="round">
<g transform="translate(-104.1 -44.9)"><path d="M128.2 1039.9l1.7-2.5 3.4-15.5 1.7-2.6 1.7 4.6 3.4 19.3 1.7 4.4 1.7-2.8 3.5-16.1 1.7-3 1.7 4.3 3.4 18.7 1.7 4.1 1.7-3.1 3.4-16.7 1.7-3.3 1.7 3.9 3.4 18.1 1.8 3.9 1.7-3.5 3.4-17.3 1.7-3.6 1.7 3.6 3.4 17.5 1.7 3.5 1.7-3.8 3.4-17.9 1.7-3.9 1.8 3.3 3.4 16.9 1.7 3.2 1.7-4.1 3.4-18.6 1.7-4.2 1.7 3 3.4 16.2 1.7 3 1.7-4.4 3.5-19.2 1.7-4.6 1.7 2.8 3.4 15.5 1.7 2.6 1.7-4.7 3.4-19.8 1.7-4.8 1.7 2.4 3.4 15 1.8 2.3 1.7-5.1 3.4-20.4 1.7-5.1 1.7 2.1 3.4 14.3 1.7 2 1.7-5.3 3.4-21.1 1.7-5.4 1.8 1.7 3.4 13.8 1.7 1.6-1.8 3.5-1.7-1.7-3.4-13.7-1.7-1.8-1.7 5.4-3.4 21.1-1.7 5.3-1.7-2-3.5-14.3-1.7-2.1-1.7 5.1-3.4 20.5-1.7 5-1.7-2.3-3.4-15-1.7-2.4-1.7 4.8-3.4 19.9-1.8 4.7-1.7-2.6-3.4-15.6-1.7-2.7-1.7 4.5-3.4 19.2-1.7 4.4-1.7-2.9-3.4-16.3-1.7-3-1.8 4.2-3.4 18.6-1.7 4.1-1.7-3.2-3.4-16.9-1.7-3.3-1.7 3.9-3.4 18-1.7 3.7-1.7-3.5-3.5-17.5-1.7-3.6-1.7 3.6-3.4 17.3-1.7 3.5-1.7-3.9-3.4-18-1.7-4-1.7 3.3-3.4 16.7-1.8 3.2-1.7-4.2-3.4-18.7-1.7-4.3-1.7 3-3.4 16.1-1.7 2.9-1.7-4.5-3.4-19.3-1.7-4.6-1.8 2.6-3.4 15.5-1.7 2.6z"/><path fill="none" d="M126.4 1043.4l5.2-13.7 1.7-7 5.1 10.8 1.7 17.6 5.1-14.3 1.7-7.7 5.2 10.3 1.6 16.9 5.2-15 1.7-8.2 5.1 9.6 1.7 16.3 5.2-15.5 1.6-8.9 5.2 9 1.7 15.6 5.1-16.1 1.7-9.5 5.2 8.4 1.6 15 5.2-16.8 1.7-10.1 5.1 7.8 1.7 14.4 5.1-17.4 1.7-10.7 5.2 7.1 1.6 13.8 5.2-18.1 1.7-11.3 5.1 6.5 1.7 13.2 5.2-18.7 1.6-11.9 5.2 5.9 1.7 12.5 5.1-19.2 1.7-12.6 5.2 5.2 1.6 12"/></g>
<g transform="translate(-102.4 -44.2)"><path d="M128.2 1029.5l1.7-2.5 3.4-15.5 1.7-2.7 1.7 4.6 3.4 19.3 1.7 4.5 1.7-2.9 3.5-16.1 1.7-2.9 1.7 4.2 3.4 18.7 1.7 4.2 1.7-3.2 3.4-16.7 1.7-3.3 1.7 4 3.4 18.1 1.8 3.8 1.7-3.4 3.4-17.4 1.7-3.6 1.7 3.7 3.4 17.4 1.7 3.6 1.7-3.8 3.4-18 1.7-3.9 1.8 3.4 3.4 16.8 1.7 3.2 1.7-4.1 3.4-18.5 1.7-4.2 1.7 3 3.4 16.2 1.7 2.9 1.7-4.4 3.5-19.2 1.7-4.5 1.7 2.7 3.4 15.6 1.7 2.6 1.7-4.7 3.4-19.8 1.7-4.9 1.7 2.4 3.4 15 1.8 2.3 1.7-5 3.4-20.4 1.7-5.2 1.7 2.1 3.4 14.4 1.7 1.9 1.7-5.3 3.4-21 1.7-5.5 1.8 1.8 3.4 13.7 1.7 1.7-1.8 9.7-1.7-1.7-3.4-13.7-1.7-1.8-1.7 5.4-3.4 21.1-1.7 5.3-1.7-1.9-3.5-14.4-1.7-2.1-1.7 5.1-3.4 20.5-1.7 5-1.7-2.3-3.4-15-1.7-2.4-1.7 4.9-3.4 19.8-1.8 4.7-1.7-2.6-3.4-15.6-1.7-2.7-1.7 4.5-3.4 19.2-1.7 4.4-1.7-2.9-3.4-16.2-1.7-3.1-1.8 4.3-3.4 18.5-1.7 4.1-1.7-3.2-3.4-16.8-1.7-3.4-1.7 3.9-3.4 18-1.7 3.8-1.7-3.6-3.5-17.4-1.7-3.7-1.7 3.6-3.4 17.3-1.7 3.5-1.7-3.8-3.4-18.1-1.7-4-1.7 3.3-3.4 16.7-1.8 3.2-1.7-4.2-3.4-18.7-1.7-4.2-1.7 2.9-3.4 16.1-1.7 2.9-1.7-4.5-3.4-19.3-1.7-4.6-1.8 2.7-3.4 15.4-1.7 2.6z"/><path fill="none" d="M128.2 1029.5l1.6-.6 5.2-20.1 1.7 24 5.1 4.4 1.7-1.2 5.2-20.7 1.6 23.3 5.2 3.8 1.7-1.8 5.1-21.4 1.7 22.8 5.2 3.1 1.6-2.4 5.2-22 1.6 22.1 5.2 2.6 1.7-3.1 5.1-22.6 1.7 21.5 5.2 1.9 1.6-3.6 5.2-23.2 1.7 20.8 5.1 1.3 1.7-4.3 5.2-23.8 1.6 20.2 5.2 .7 1.7-4.9 5.1-24.5 1.7 19.6 5.2 .1 1.6-5.5 5.2-25.1 1.7 19 5.1-.6 1.7-6.1 5.1-25.7 1.7 18.4 5.2-1.2"/></g>
<g transform="translate(-100.6 -43.4)"><path d="M128.2 1025.2l1.7-2.6 3.4-15.4 1.7-2.7 1.7 4.6 3.4 19.3 1.7 4.5 1.7-2.9 3.5-16.1 1.7-2.9 1.7 4.2 3.4 18.7 1.7 4.2 1.7-3.2 3.4-16.7 1.7-3.3 1.7 4 3.4 18.1 1.8 3.8 1.7-3.5 3.4-17.3 1.7-3.6 1.7 3.7 3.4 17.4 1.7 3.6 1.7-3.8 3.4-18 1.7-3.9 1.8 3.4 3.4 16.8 1.7 3.2 1.7-4.1 3.4-18.6 1.7-4.2 1.7 3.1 3.4 16.2 1.7 2.9 1.7-4.4 3.5-19.2 1.7-4.5 1.7 2.7 3.4 15.6 1.7 2.6 1.7-4.7 3.4-19.8 1.7-4.9 1.7 2.4 3.4 15 1.8 2.3 1.7-5 3.4-20.5 1.7-5.1 1.7 2.1 3.4 14.4 1.7 1.9 1.7-5.3 3.4-21.1 1.7-5.4 1.8 1.8 3.4 13.7 1.7 1.7-1.8 3.5-1.7-1.6-3.4-13.8-1.7-1.7-1.7 5.4-3.4 21.1-1.7 5.3-1.7-2-3.5-14.3-1.7-2.1-1.7 5.1-3.4 20.4-1.7 5.1-1.7-2.3-3.4-15-1.7-2.4-1.7 4.8-3.4 19.8-1.8 4.7-1.7-2.6-3.4-15.6-1.7-2.7-1.7 4.6-3.4 19.2-1.7 4.4-1.7-3-3.4-16.2-1.7-3-1.8 4.2-3.4 18.6-1.7 4.1-1.7-3.2-3.4-16.9-1.7-3.3-1.7 3.9-3.4 17.9-1.7 3.8-1.7-3.5-3.5-17.5-1.7-3.6-1.7 3.6-3.4 17.3-1.7 3.5-1.7-3.9-3.4-18.1-1.7-3.9-1.7 3.3-3.4 16.7-1.8 3.1-1.7-4.1-3.4-18.7-1.7-4.3-1.7 3-3.4 16.1-1.7 2.8-1.7-4.4-3.4-19.4-1.7-4.5-1.8 2.6-3.4 15.5-1.7 2.5z"/><path fill="none" d="M126.4 1028.7l5.2-13.8 1.7-6.8 5.1 10.7 1.7 17.6 5.1-14.4 1.7-7.5 5.2 10.1 1.6 17 5.2-15 1.7-8.1 5.1 9.5 1.7 16.4 5.2-15.7 1.6-8.7 5.2 8.8 1.7 15.8 5.1-16.3 1.7-9.3 5.2 8.2 1.6 15.2 5.2-16.9 1.7-10 5.1 7.6 1.7 14.6 5.1-17.6 1.7-10.6 5.2 7 1.6 13.9 5.2-18.1 1.7-11.2 5.1 6.3 1.7 13.4 5.2-18.8 1.6-11.8 5.2 5.7 1.7 12.7 5.1-19.4 1.7-12.4 5.2 5.1 1.6 12"/></g>
<g transform="translate(-98.9 -42.7)"><path d="M128.2 1033.2l1.7-2.5 3.4-15.5 1.7-2.6 1.7 4.5 3.4 19.3 1.7 4.5 1.7-2.8 3.5-16.1 1.7-3 1.7 4.3 3.4 18.7 1.7 4.1 1.7-3.1 3.4-16.8 1.7-3.2 1.7 3.9 3.4 18.1 1.8 3.8 1.7-3.4 3.4-17.4 1.7-3.5 1.7 3.6 3.4 17.5 1.7 3.5 1.7-3.8 3.4-17.9 1.7-3.9 1.8 3.3 3.4 16.8 1.7 3.3 1.7-4.1 3.4-18.6 1.7-4.2 1.7 3 3.4 16.2 1.7 2.9 1.7-4.4 3.5-19.2 1.7-4.5 1.7 2.7 3.4 15.6 1.7 2.6 1.7-4.7 3.4-19.8 1.7-4.8 1.7 2.4 3.4 15 1.8 2.2 1.7-5 3.4-20.4 1.7-5.2 1.7 2.1 3.4 14.4 1.7 2 1.7-5.4 3.4-21 1.7-5.5 1.8 1.8 3.4 13.8 1.7 1.6-1.8-8.8-1.7-1.6-3.4-13.8-1.7-1.8-1.7 5.5-3.4 21.1-1.7 5.3-1.7-2-3.5-14.4-1.7-2-1.7 5.1-3.4 20.4-1.7 5.1-1.7-2.3-3.4-15-1.7-2.4-1.7 4.8-3.4 19.8-1.8 4.7-1.7-2.6-3.4-15.6-1.7-2.7-1.7 4.5-3.4 19.2-1.7 4.4-1.7-2.9-3.4-16.2-1.7-3-1.8 4.2-3.4 18.6-1.7 4.1-1.7-3.3-3.4-16.8-1.7-3.3-1.7 3.9-3.4 17.9-1.7 3.8-1.7-3.5-3.5-17.5-1.7-3.6-1.7 3.6-3.4 17.3-1.7 3.5-1.7-3.9-3.4-18.1-1.7-3.9-1.7 3.3-3.4 16.7-1.8 3.1-1.7-4.1-3.4-18.7-1.7-4.3-1.7 3-3.4 16.1-1.7 2.8-1.7-4.4-3.4-19.4-1.7-4.5-1.8 2.6-3.4 15.5-1.7 2.5z"/><path fill="none" d="M128.2 1033.2l1.6-19 5.2-1.6 1.7 5.4 5.1 22.9 1.7-19.7 5.2-2.2 1.6 4.8 5.2 22.3 1.7-20.3 5.1-2.8 1.7 4.2 5.2 21.6 1.6-20.9 5.2-3.4 1.6 3.6 5.2 21 1.7-21.5 5.1-4.1 1.7 2.9 5.2 20.5 1.6-22.2 5.2-4.7 1.7 2.3 5.1 19.8 1.7-22.7 5.2-5.4 1.6 1.8 5.2 19.1 1.7-23.4 5.1-5.9 1.7 1.1 5.2 18.5 1.6-24 5.2-6.6 1.7 .5 5.1 18 1.7-24.7 5.1-7.2 1.7-.1 5.2 17.3"/></g>
<g transform="translate(-97.1 -41.9)"><path d="M128.2 1047.4l1.7-2.5 3.4-15.5 1.7-2.7 1.7 4.6 3.4 19.3 1.7 4.5 1.7-2.9 3.5-16.1 1.7-2.9 1.7 4.2 3.4 18.7 1.7 4.2 1.7-3.2 3.4-16.7 1.7-3.3 1.7 4 3.4 18.1 1.8 3.8 1.7-3.5 3.4-17.3 1.7-3.6 1.7 3.7 3.4 17.4 1.7 3.6 1.7-3.8 3.4-18 1.7-3.9 1.8 3.4 3.4 16.8 1.7 3.2 1.7-4.1 3.4-18.5 1.7-4.3 1.7 3.1 3.4 16.2 1.7 2.9 1.7-4.4 3.5-19.2 1.7-4.5 1.7 2.7 3.4 15.6 1.7 2.6 1.7-4.7 3.4-19.8 1.7-4.9 1.7 2.4 3.4 15 1.8 2.3 1.7-5 3.4-20.5 1.7-5.1 1.7 2.1 3.4 14.4 1.7 1.9 1.7-5.3 3.4-21.1 1.7-5.4 1.8 1.8 3.4 13.7 1.7 1.7-1.8-14.9-1.7-1.7-3.4-13.7-1.7-1.8-1.7 5.4-3.4 21.1-1.7 5.3-1.7-2-3.5-14.3-1.7-2.1-1.7 5.1-3.4 20.5-1.7 5-1.7-2.3-3.4-15-1.7-2.4-1.7 4.8-3.4 19.9-1.8 4.7-1.7-2.6-3.4-15.6-1.7-2.7-1.7 4.5-3.4 19.2-1.7 4.4-1.7-2.9-3.4-16.3-1.7-3-1.8 4.2-3.4 18.6-1.7 4.1-1.7-3.2-3.4-16.9-1.7-3.3-1.7 3.9-3.4 18-1.7 3.7-1.7-3.5-3.5-17.5-1.7-3.6-1.7 3.6-3.4 17.3-1.7 3.5-1.7-3.8-3.4-18.1-1.7-4-1.7 3.3-3.4 16.7-1.8 3.2-1.7-4.2-3.4-18.7-1.7-4.3-1.7 3-3.4 16.1-1.7 2.9-1.7-4.5-3.4-19.3-1.7-4.6-1.8 2.7-3.4 15.4-1.7 2.6z"/><path fill="none" d="M126.4 1032.5l5.2 4.6 1.7-25.3 5.1 29.2 1.7-.8 5.1 4 1.7-26 5.2 28.6 1.6-1.4 5.2 3.4 1.7-26.6 5.1 28 1.7-2.1 5.2 2.8 1.6-27.2 5.2 27.3 1.7-2.7 5.1 2.2 1.7-27.8 5.2 26.7 1.6-3.3 5.2 1.6 1.7-28.5 5.1 26.1 1.7-3.9 5.1 .9 1.7-29 5.2 25.4 1.6-4.5 5.2 .3 1.7-29.7 5.1 24.9 1.7-5.2 5.2-.3 1.6-30.3 5.2 24.2 1.7-5.8 5.1-.9 1.7-30.9 5.2 23.6 1.6-6.4"/></g>
<g transform="translate(-95.4 -41.1)"><path d="M128.2 1055.3l1.7-2.6 3.4-15.4 1.7-2.7 1.7 4.6 3.4 19.3 1.7 4.5 1.7-2.9 3.5-16.1 1.7-2.9 1.7 4.2 3.4 18.7 1.7 4.2 1.7-3.2 3.4-16.7 1.7-3.3 1.7 4 3.4 18.1 1.8 3.8 1.7-3.5 3.4-17.3 1.7-3.6 1.7 3.7 3.4 17.4 1.7 3.6 1.7-3.8 3.4-18 1.7-3.9 1.8 3.4 3.4 16.8 1.7 3.2 1.7-4.1 3.4-18.6 1.7-4.2 1.7 3.1 3.4 16.2 1.7 2.9 1.7-4.4 3.5-19.2 1.7-4.5 1.7 2.7 3.4 15.6 1.7 2.6 1.7-4.7 3.4-19.8 1.7-4.9 1.7 2.4 3.4 15 1.8 2.3 1.7-5 3.4-20.5 1.7-5.1 1.7 2.1 3.4 14.4 1.7 1.9 1.7-5.3 3.4-21.1 1.7-5.4 1.8 1.8 3.4 13.7 1.7 1.7-1.8-8.7-1.7-1.6-3.4-13.8-1.7-1.8-1.7 5.5-3.4 21.1-1.7 5.3-1.7-2-3.5-14.3-1.7-2.1-1.7 5.1-3.4 20.4-1.7 5.1-1.7-2.3-3.4-15-1.7-2.4-1.7 4.8-3.4 19.8-1.8 4.7-1.7-2.6-3.4-15.6-1.7-2.7-1.7 4.5-3.4 19.2-1.7 4.4-1.7-2.9-3.4-16.2-1.7-3-1.8 4.2-3.4 18.6-1.7 4.1-1.7-3.3-3.4-16.8-1.7-3.3-1.7 3.9-3.4 17.9-1.7 3.8-1.7-3.5-3.5-17.5-1.7-3.6-1.7 3.6-3.4 17.3-1.7 3.5-1.7-3.9-3.4-18.1-1.7-3.9-1.7 3.3-3.4 16.7-1.8 3.1-1.7-4.1-3.4-18.7-1.7-4.3-1.7 3-3.4 16.1-1.7 2.8-1.7-4.4-3.4-19.4-1.7-4.5-1.8 2.6-3.4 15.5-1.7 2.5z"/><path fill="none" d="M128.2 1055.3l1.6-18.9 5.2-1.8 1.7 5.6 5.1 22.8 1.7-19.6 5.2-2.3 1.6 5 5.2 22.1 1.7-20.2 5.1-3 1.7 4.4 5.2 21.5 1.6-20.8 5.2-3.6 1.6 3.8 5.2 20.9 1.7-21.4 5.1-4.3 1.7 3.1 5.2 20.3 1.6-22 5.2-4.9 1.7 2.5 5.1 19.7 1.7-22.6 5.2-5.5 1.6 1.9 5.2 19 1.7-23.3 5.1-6.1 1.7 1.3 5.2 18.4 1.6-23.9 5.2-6.7 1.7 .6 5.1 17.8 1.7-24.5 5.1-7.3 1.7 0 5.2 17.2"/></g>
<g transform="translate(-93.6 -40.4)"><path d="M128.2 1050.7l1.7-2.5 3.4-15.5 1.7-2.7 1.7 4.6 3.4 19.3 1.7 4.5 1.7-2.9 3.5-16.1 1.7-2.9 1.7 4.2 3.4 18.7 1.7 4.2 1.7-3.2 3.4-16.7 1.7-3.3 1.7 4 3.4 18.1 1.8 3.8 1.7-3.4 3.4-17.4 1.7-3.6 1.7 3.7 3.4 17.4 1.7 3.6 1.7-3.8 3.4-18 1.7-3.9 1.8 3.4 3.4 16.8 1.7 3.2 1.7-4.1 3.4-18.5 1.7-4.2 1.7 3 3.4 16.2 1.7 2.9 1.7-4.4 3.5-19.2 1.7-4.5 1.7 2.7 3.4 15.6 1.7 2.6 1.7-4.7 3.4-19.8 1.7-4.9 1.7 2.5 3.4 14.9 1.8 2.3 1.7-5 3.4-20.4 1.7-5.2 1.7 2.1 3.4 14.4 1.7 2 1.7-5.4 3.4-21 1.7-5.5 1.8 1.8 3.4 13.7 1.7 1.7-1.8 3.8-1.7-1.6-3.4-13.8-1.7-1.8-1.7 5.5-3.4 21.1-1.7 5.3-1.7-2-3.5-14.4-1.7-2-1.7 5.1-3.4 20.4-1.7 5.1-1.7-2.3-3.4-15-1.7-2.4-1.7 4.8-3.4 19.8-1.8 4.7-1.7-2.6-3.4-15.6-1.7-2.7-1.7 4.5-3.4 19.2-1.7 4.4-1.7-2.9-3.4-16.2-1.7-3-1.8 4.2-3.4 18.6-1.7 4.1-1.7-3.3-3.4-16.8-1.7-3.3-1.7 3.9-3.4 17.9-1.7 3.8-1.7-3.5-3.5-17.5-1.7-3.6-1.7 3.6-3.4 17.3-1.7 3.5-1.7-3.9-3.4-18.1-1.7-3.9-1.7 3.3-3.4 16.7-1.8 3.1-1.7-4.1-3.4-18.7-1.7-4.3-1.7 3-3.4 16.1-1.7 2.8-1.7-4.4-3.4-19.4-1.7-4.5-1.8 2.6-3.4 15.5-1.7 2.5z"/><path fill="none" d="M126.4 1054.5l5.2-14.1 1.7-6.5 5.1 10.4 1.7 17.9 5.1-14.7 1.7-7.2 5.2 9.8 1.6 17.3 5.2-15.3 1.7-7.8 5.1 9.2 1.7 16.7 5.2-16 1.6-8.4 5.2 8.5 1.7 16.1 5.1-16.6 1.7-9 5.2 7.9 1.6 15.5 5.2-17.2 1.7-9.7 5.1 7.3 1.7 14.8 5.1-17.8 1.7-10.3 5.2 6.7 1.6 14.2 5.2-18.4 1.7-10.9 5.1 6.1 1.7 13.6 5.2-19.1 1.6-11.5 5.2 5.4 1.7 13 5.1-19.7 1.7-12.2 5.2 4.9 1.6 12.3"/></g>
<g transform="translate(-91.9 -39.6)"><path d="M128.2 1039.8l1.7-2.5 3.4-15.5 1.7-2.6 1.7 4.5 3.4 19.4 1.7 4.4 1.7-2.8 3.5-16.1 1.7-3 1.7 4.3 3.4 18.7 1.7 4.1 1.7-3.1 3.4-16.7 1.7-3.3 1.7 3.9 3.4 18.1 1.8 3.9 1.7-3.5 3.4-17.3 1.7-3.6 1.7 3.6 3.4 17.5 1.7 3.5 1.7-3.8 3.4-17.9 1.7-3.9 1.8 3.3 3.4 16.9 1.7 3.2 1.7-4.1 3.4-18.6 1.7-4.2 1.7 3 3.4 16.2 1.7 2.9 1.7-4.4 3.5-19.2 1.7-4.5 1.7 2.7 3.4 15.6 1.7 2.6 1.7-4.7 3.4-19.8 1.7-4.8 1.7 2.4 3.4 15 1.8 2.3 1.7-5.1 3.4-20.4 1.7-5.1 1.7 2.1 3.4 14.3 1.7 2 1.7-5.3 3.4-21.1 1.7-5.4 1.8 1.7 3.4 13.8 1.7 1.6-1.8 10.1-1.7-1.6-3.4-13.8-1.7-1.7-1.7 5.4-3.4 21.1-1.7 5.3-1.7-2-3.5-14.3-1.7-2.1-1.7 5.1-3.4 20.4-1.7 5.1-1.7-2.3-3.4-15-1.7-2.4-1.7 4.8-3.4 19.8-1.8 4.8-1.7-2.6-3.4-15.6-1.7-2.8-1.7 4.6-3.4 19.2-1.7 4.4-1.7-3-3.4-16.2-1.7-3-1.8 4.2-3.4 18.6-1.7 4.1-1.7-3.2-3.4-16.9-1.7-3.3-1.7 3.9-3.4 17.9-1.7 3.8-1.7-3.5-3.5-17.5-1.7-3.6-1.7 3.6-3.4 17.3-1.7 3.5-1.7-3.9-3.4-18-1.7-4-1.7 3.3-3.4 16.7-1.8 3.1-1.7-4.1-3.4-18.7-1.7-4.3-1.7 3-3.4 16.1-1.7 2.8-1.7-4.4-3.4-19.3-1.7-4.6-1.8 2.6-3.4 15.5-1.7 2.5z"/><path fill="none" d="M128.2 1039.8l1.6-.1 5.2-20.5 1.7 24.3 5.1 4 1.7-.7 5.2-21.2 1.6 23.8 5.2 3.3 1.7-1.4 5.1-21.7 1.7 23.1 5.2 2.8 1.6-2 5.2-22.4 1.6 22.5 5.2 2.1 1.7-2.6 5.1-23 1.7 21.9 5.2 1.5 1.6-3.3 5.2-23.6 1.7 21.3 5.1 .8 1.7-3.8 5.2-24.3 1.6 20.7 5.2 .2 1.7-4.4 5.1-24.9 1.7 20 5.2-.3 1.6-5.2 5.2-25.4 1.7 19.4 5.1-1 1.7-5.7 5.1-26.1 1.7 18.7 5.2-1.6"/></g>
<g transform="translate(-90.1 -38.9)"><path d="M128.2 1035.1l1.7-2.5 3.4-15.5 1.7-2.7 1.7 4.6 3.4 19.3 1.7 4.5 1.7-2.8 3.5-16.1 1.7-3 1.7 4.3 3.4 18.7 1.7 4.1 1.7-3.1 3.4-16.8 1.7-3.2 1.7 3.9 3.4 18.1 1.8 3.8 1.7-3.4 3.4-17.4 1.7-3.6 1.7 3.7 3.4 17.5 1.7 3.5 1.7-3.8 3.4-18 1.7-3.8 1.8 3.3 3.4 16.8 1.7 3.2 1.7-4 3.4-18.6 1.7-4.2 1.7 3 3.4 16.2 1.7 2.9 1.7-4.4 3.5-19.2 1.7-4.5 1.7 2.7 3.4 15.6 1.7 2.6 1.7-4.7 3.4-19.8 1.7-4.8 1.7 2.4 3.4 14.9 1.8 2.3 1.7-5 3.4-20.4 1.7-5.2 1.7 2.1 3.4 14.4 1.7 2 1.7-5.4 3.4-21 1.7-5.5 1.8 1.8 3.4 13.7 1.7 1.7-1.8 4-1.7-1.7-3.4-13.7-1.7-1.8-1.7 5.4-3.4 21.1-1.7 5.3-1.7-1.9-3.5-14.4-1.7-2.1-1.7 5.1-3.4 20.5-1.7 5-1.7-2.3-3.4-15-1.7-2.4-1.7 4.9-3.4 19.8-1.8 4.7-1.7-2.6-3.4-15.6-1.7-2.7-1.7 4.5-3.4 19.2-1.7 4.4-1.7-2.9-3.4-16.2-1.7-3.1-1.8 4.2-3.4 18.6-1.7 4.1-1.7-3.2-3.4-16.8-1.7-3.4-1.7 3.9-3.4 18-1.7 3.8-1.7-3.6-3.5-17.4-1.7-3.7-1.7 3.6-3.4 17.3-1.7 3.5-1.7-3.8-3.4-18.1-1.7-4-1.7 3.3-3.4 16.7-1.8 3.2-1.7-4.2-3.4-18.7-1.7-4.2-1.7 2.9-3.4 16.1-1.7 2.9-1.7-4.5-3.4-19.3-1.7-4.6-1.8 2.7-3.4 15.4-1.7 2.6z"/><path fill="none" d="M126.4 1039.1l5.2-14.2 1.7-6.5 5.1 10.3 1.7 18.1 5.1-14.9 1.7-7 5.2 9.6 1.6 17.5 5.2-15.5 1.7-7.7 5.1 9.1 1.7 16.8 5.2-16.1 1.6-8.3 5.2 8.4 1.7 16.3 5.1-16.8 1.7-8.9 5.2 7.8 1.6 15.6 5.2-17.3 1.7-9.6 5.1 7.2 1.7 15 5.1-18 1.7-10.1 5.2 6.5 1.6 14.4 5.2-18.6 1.7-10.8 5.1 6 1.7 13.7 5.2-19.2 1.6-11.4 5.2 5.3 1.7 13.1 5.1-19.8 1.7-12 5.2 4.7 1.6 12.5"/></g>
<g transform="translate(-88.4 -38.1)"><path d="M128.2 1042.7l1.7-2.5 3.4-15.5 1.7-2.6 1.7 4.5 3.4 19.4 1.7 4.4 1.7-2.8 3.5-16.1 1.7-3 1.7 4.3 3.4 18.7 1.7 4.1 1.7-3.1 3.4-16.7 1.7-3.3 1.7 3.9 3.4 18.1 1.8 3.9 1.7-3.5 3.4-17.3 1.7-3.6 1.7 3.6 3.4 17.5 1.7 3.5 1.7-3.8 3.4-17.9 1.7-3.9 1.8 3.3 3.4 16.8 1.7 3.3 1.7-4.1 3.4-18.6 1.7-4.2 1.7 3 3.4 16.2 1.7 2.9 1.7-4.4 3.5-19.2 1.7-4.5 1.7 2.7 3.4 15.6 1.7 2.6 1.7-4.7 3.4-19.8 1.7-4.8 1.7 2.4 3.4 15 1.8 2.3 1.7-5.1 3.4-20.4 1.7-5.1 1.7 2.1 3.4 14.3 1.7 2 1.7-5.3 3.4-21.1 1.7-5.5 1.8 1.8 3.4 13.8 1.7 1.6-1.8-8.3-1.7-1.7-3.4-13.7-1.7-1.8-1.7 5.4-3.4 21.1-1.7 5.3-1.7-2-3.5-14.3-1.7-2.1-1.7 5.1-3.4 20.5-1.7 5-1.7-2.3-3.4-15-1.7-2.4-1.7 4.8-3.4 19.9-1.8 4.7-1.7-2.6-3.4-15.6-1.7-2.7-1.7 4.5-3.4 19.2-1.7 4.4-1.7-2.9-3.4-16.3-1.7-3-1.8 4.2-3.4 18.6-1.7 4.1-1.7-3.2-3.4-16.9-1.7-3.3-1.7 3.9-3.4 18-1.7 3.7-1.7-3.5-3.5-17.5-1.7-3.6-1.7 3.6-3.4 17.3-1.7 3.5-1.7-3.9-3.4-18-1.7-4-1.7 3.3-3.4 16.7-1.8 3.2-1.7-4.2-3.4-18.7-1.7-4.3-1.7 3-3.4 16.1-1.7 2.9-1.7-4.5-3.4-19.3-1.7-4.6-1.8 2.6-3.4 15.5-1.7 2.6z"/><path fill="none" d="M128.2 1042.7l1.6-18.6 5.2-2 1.7 5.8 5.1 22.5 1.7-19.2 5.2-2.7 1.6 5.3 5.2 21.8 1.7-19.8 5.1-3.3 1.7 4.6 5.2 21.3 1.6-20.5 5.2-3.9 1.6 4 5.2 20.6 1.7-21.1 5.1-4.5 1.7 3.4 5.2 20 1.6-21.8 5.2-5.1 1.7 2.8 5.1 19.3 1.7-22.3 5.2-5.8 1.6 2.2 5.2 18.7 1.7-22.9 5.1-6.4 1.7 1.5 5.2 18.2 1.6-23.6 5.2-7 1.7 .9 5.1 17.5 1.7-24.2 5.1-7.7 1.7 .3 5.2 16.9"/></g>
<g transform="translate(-86.6 -37.4)"><path d="M128.2 1056.5l1.7-2.5 3.4-15.5 1.7-2.7 1.7 4.6 3.4 19.3 1.7 4.5 1.7-2.9 3.5-16.1 1.7-2.9 1.7 4.2 3.4 18.7 1.7 4.2 1.7-3.2 3.4-16.7 1.7-3.3 1.7 4 3.4 18.1 1.8 3.8 1.7-3.5 3.4-17.3 1.7-3.6 1.7 3.7 3.4 17.4 1.7 3.6 1.7-3.8 3.4-18 1.7-3.9 1.8 3.4 3.4 16.8 1.7 3.2 1.7-4.1 3.4-18.5 1.7-4.3 1.7 3.1 3.4 16.2 1.7 2.9 1.7-4.4 3.5-19.2 1.7-4.5 1.7 2.7 3.4 15.6 1.7 2.6 1.7-4.7 3.4-19.8 1.7-4.9 1.7 2.4 3.4 15 1.8 2.3 1.7-5 3.4-20.4 1.7-5.2 1.7 2.1 3.4 14.4 1.7 1.9 1.7-5.3 3.4-21 1.7-5.5 1.8 1.8 3.4 13.7 1.7 1.7-1.8-14.5-1.7-1.7-3.4-13.7-1.7-1.8-1.7 5.4-3.4 21.1-1.7 5.3-1.7-1.9-3.5-14.4-1.7-2.1-1.7 5.1-3.4 20.5-1.7 5-1.7-2.3-3.4-15-1.7-2.4-1.7 4.9-3.4 19.8-1.8 4.7-1.7-2.6-3.4-15.6-1.7-2.7-1.7 4.5-3.4 19.2-1.7 4.4-1.7-2.9-3.4-16.2-1.7-3.1-1.8 4.2-3.4 18.6-1.7 4.1-1.7-3.2-3.4-16.8-1.7-3.4-1.7 3.9-3.4 18-1.7 3.8-1.7-3.6-3.5-17.4-1.7-3.7-1.7 3.6-3.4 17.3-1.7 3.5-1.7-3.8-3.4-18.1-1.7-4-1.7 3.3-3.4 16.7-1.8 3.2-1.7-4.2-3.4-18.7-1.7-4.2-1.7 2.9-3.4 16.1-1.7 2.9-1.7-4.5-3.4-19.3-1.7-4.6-1.8 2.7-3.4 15.4-1.7 2.6z"/><path fill="none" d="M126.4 1042l5.2 4.2 1.7-24.9 5.1 28.8 1.7-.4 5.1 3.6 1.7-25.5 5.2 28.1 1.6-1 5.2 3 1.7-26.2 5.1 27.6 1.7-1.7 5.2 2.4 1.6-26.8 5.2 26.9 1.7-2.2 5.1 1.7 1.7-27.4 5.2 26.3 1.6-2.9 5.2 1.2 1.7-28.1 5.1 25.7 1.7-3.5 5.1 .5 1.7-28.6 5.2 25 1.6-4.1 5.2-.1 1.7-29.3 5.1 24.5 1.7-4.8 5.2-.7 1.6-29.9 5.2 23.8 1.7-5.4 5.1-1.3 1.7-30.5 5.2 23.2 1.6-6"/></g>
<g transform="translate(-84.9 -36.6)"><path d="M128.2 1064l1.7-2.6 3.4-15.4 1.7-2.7 1.7 4.6 3.4 19.3 1.7 4.5 1.7-2.9 3.5-16.1 1.7-2.9 1.7 4.2 3.4 18.7 1.7 4.2 1.7-3.2 3.4-16.7 1.7-3.3 1.7 4 3.4 18.1 1.8 3.8 1.7-3.5 3.4-17.3 1.7-3.6 1.7 3.7 3.4 17.4 1.7 3.5 1.7-3.7 3.4-18 1.7-3.9 1.8 3.3 3.4 16.9 1.7 3.2 1.7-4.1 3.4-18.6 1.7-4.2 1.7 3.1 3.4 16.2 1.7 2.9 1.7-4.4 3.5-19.2 1.7-4.5 1.7 2.7 3.4 15.6 1.7 2.6 1.7-4.7 3.4-19.8 1.7-4.9 1.7 2.4 3.4 15 1.8 2.3 1.7-5 3.4-20.5 1.7-5.1 1.7 2.1 3.4 14.3 1.7 2 1.7-5.3 3.4-21.1 1.7-5.4 1.8 1.8 3.4 13.7 1.7 1.7-1.8-8.3-1.7-1.6-3.4-13.8-1.7-1.8-1.7 5.5-3.4 21.1-1.7 5.3-1.7-2-3.5-14.3-1.7-2.1-1.7 5.1-3.4 20.4-1.7 5.1-1.7-2.3-3.4-15-1.7-2.4-1.7 4.8-3.4 19.8-1.8 4.7-1.7-2.6-3.4-15.6-1.7-2.7-1.7 4.5-3.4 19.2-1.7 4.4-1.7-2.9-3.4-16.2-1.7-3-1.8 4.2-3.4 18.6-1.7 4.1-1.7-3.3-3.4-16.8-1.7-3.3-1.7 3.9-3.4 17.9-1.7 3.8-1.7-3.5-3.5-17.5-1.7-3.6-1.7 3.6-3.4 17.3-1.7 3.5-1.7-3.9-3.4-18.1-1.7-3.9-1.7 3.3-3.4 16.7-1.8 3.1-1.7-4.1-3.4-18.7-1.7-4.3-1.7 3-3.4 16.1-1.7 2.8-1.7-4.4-3.4-19.4-1.7-4.5-1.8 2.6-3.4 15.5-1.7 2.5z"/><path fill="none" d="M128.2 1064l1.6-18.5 5.2-2.2 1.7 6 5.1 22.4 1.7-19.1 5.2-2.8 1.6 5.4 5.2 21.7 1.7-19.8 5.1-3.4 1.7 4.8 5.2 21.1 1.6-20.4 5.2-4 1.6 4.2 5.2 20.4 1.7-20.9 5.1-4.7 1.7 3.5 5.2 19.9 1.6-21.6 5.2-5.3 1.7 2.9 5.1 19.3 1.7-22.2 5.2-5.9 1.6 2.3 5.2 18.6 1.7-22.9 5.1-6.5 1.7 1.7 5.2 18 1.6-23.5 5.2-7.1 1.7 1.1 5.1 17.3 1.7-24.1 5.1-7.7 1.7 .4 5.2 16.8"/></g>
<g transform="translate(-83.1 -35.9)"><path d="M128.2 1059l1.7-2.6 3.4-15.4 1.7-2.7 1.7 4.6 3.4 19.3 1.7 4.5 1.7-2.9 3.5-16.1 1.7-2.9 1.7 4.2 3.4 18.7 1.7 4.2 1.7-3.2 3.4-16.7 1.7-3.3 1.7 4 3.4 18.1 1.8 3.8 1.7-3.5 3.4-17.3 1.7-3.6 1.7 3.7 3.4 17.4 1.7 3.5 1.7-3.7 3.4-18 1.7-3.9 1.8 3.3 3.4 16.9 1.7 3.2 1.7-4.1 3.4-18.6 1.7-4.2 1.7 3.1 3.4 16.2 1.7 2.9 1.7-4.4 3.5-19.2 1.7-4.5 1.7 2.7 3.4 15.6 1.7 2.6 1.7-4.7 3.4-19.8 1.7-4.9 1.7 2.4 3.4 15 1.8 2.3 1.7-5 3.4-20.5 1.7-5.1 1.7 2.1 3.4 14.3 1.7 2 1.7-5.3 3.4-21.1 1.7-5.4 1.8 1.8 3.4 13.7 1.7 1.7-1.8 4.2-1.7-1.6-3.4-13.8-1.7-1.8-1.7 5.5-3.4 21-1.7 5.4-1.7-2-3.5-14.4-1.7-2.1-1.7 5.2-3.4 20.4-1.7 5-1.7-2.2-3.4-15-1.7-2.4-1.7 4.8-3.4 19.8-1.8 4.7-1.7-2.6-3.4-15.6-1.7-2.7-1.7 4.5-3.4 19.2-1.7 4.4-1.7-2.9-3.4-16.2-1.7-3-1.8 4.2-3.4 18.6-1.7 4.1-1.7-3.3-3.4-16.8-1.7-3.3-1.7 3.9-3.4 17.9-1.7 3.8-1.7-3.5-3.5-17.5-1.7-3.6-1.7 3.5-3.4 17.4-1.7 3.4-1.7-3.8-3.4-18.1-1.7-3.9-1.7 3.2-3.4 16.8-1.8 3.1-1.7-4.1-3.4-18.7-1.7-4.3-1.7 3-3.4 16.1-1.7 2.8-1.7-4.4-3.4-19.4-1.7-4.5-1.8 2.6-3.4 15.5-1.7 2.5z"/><path fill="none" d="M126.4 1063.2l5.2-14.5 1.7-6.1 5.1 10 1.7 18.3 5.1-15.1 1.7-6.8 5.2 9.4 1.6 17.7 5.2-15.7 1.7-7.4 5.1 8.7 1.7 17.1 5.2-16.3 1.6-8 5.2 8.1 1.7 16.5 5.1-17 1.7-8.6 5.2 7.5 1.6 15.9 5.2-17.7 1.7-9.2 5.1 6.9 1.7 15.2 5.1-18.2 1.7-9.9 5.2 6.3 1.6 14.6 5.2-18.8 1.7-10.5 5.1 5.6 1.7 14 5.2-19.4 1.6-11.2 5.2 5.1 1.7 13.4 5.1-20.1 1.7-11.8 5.2 4.5 1.6 12.7"/></g>
<g transform="translate(-81.4 -35.1)"><path d="M128.2 1047.7l1.7-2.5 3.4-15.5 1.7-2.7 1.7 4.6 3.4 19.3 1.7 4.5 1.7-2.9 3.5-16.1 1.7-2.9 1.7 4.2 3.4 18.7 1.7 4.2 1.7-3.2 3.4-16.7 1.7-3.3 1.7 4 3.4 18.1 1.8 3.8 1.7-3.4 3.4-17.4 1.7-3.6 1.7 3.7 3.4 17.4 1.7 3.6 1.7-3.8 3.4-18 1.7-3.9 1.8 3.4 3.4 16.8 1.7 3.2 1.7-4.1 3.4-18.5 1.7-4.2 1.7 3 3.4 16.2 1.7 2.9 1.7-4.4 3.5-19.2 1.7-4.5 1.7 2.7 3.4 15.6 1.7 2.6 1.7-4.7 3.4-19.8 1.7-4.9 1.7 2.5 3.4 14.9 1.8 2.3 1.7-5 3.4-20.4 1.7-5.2 1.7 2.1 3.4 14.4 1.7 2 1.7-5.4 3.4-21 1.7-5.5 1.8 1.8 3.4 13.7 1.7 1.7-1.8 10.5-1.7-1.6-3.4-13.8-1.7-1.8-1.7 5.5-3.4 21-1.7 5.4-1.7-2-3.5-14.4-1.7-2.1-1.7 5.2-3.4 20.4-1.7 5-1.7-2.2-3.4-15-1.7-2.4-1.7 4.8-3.4 19.8-1.8 4.7-1.7-2.6-3.4-15.6-1.7-2.7-1.7 4.5-3.4 19.2-1.7 4.4-1.7-2.9-3.4-16.2-1.7-3-1.8 4.2-3.4 18.6-1.7 4.1-1.7-3.3-3.4-16.8-1.7-3.3-1.7 3.9-3.4 17.9-1.7 3.8-1.7-3.5-3.5-17.5-1.7-3.6-1.7 3.5-3.4 17.4-1.7 3.4-1.7-3.8-3.4-18.1-1.7-3.9-1.7 3.2-3.4 16.8-1.8 3.1-1.7-4.1-3.4-18.7-1.7-4.3-1.7 3-3.4 16.1-1.7 2.8-1.7-4.4-3.4-19.4-1.7-4.5-1.8 2.6-3.4 15.5-1.7 2.5z"/><path fill="none" d="M128.2 1047.7l1.6 .3 5.2-21 1.7 24.8 5.1 3.6 1.7-.4 5.2-21.5 1.6 24.1 5.2 3 1.7-1 5.1-22.2 1.7 23.6 5.2 2.3 1.6-1.6 5.2-22.8 1.6 22.9 5.2 1.8 1.7-2.2 5.1-23.5 1.7 22.3 5.2 1.1 1.6-2.8 5.2-24 1.7 21.6 5.1 .5 1.7-3.5 5.2-24.6 1.6 21 5.2-.1 1.7-4.1 5.1-25.3 1.7 20.5 5.2-.8 1.6-4.7 5.2-25.9 1.7 19.8 5.1-1.3 1.7-5.4 5.1-26.5 1.7 19.2 5.2-2"/></g>
<g transform="translate(-79.6 -34.4)"><path d="M128.2 1042.6l1.7-2.6 3.4-15.5 1.7-2.6 1.7 4.6 3.4 19.3 1.7 4.5 1.7-2.9 3.5-16.1 1.7-3 1.7 4.3 3.4 18.7 1.7 4.2 1.7-3.2 3.4-16.7 1.7-3.3 1.7 4 3.4 18 1.8 3.9 1.7-3.5 3.4-17.3 1.7-3.6 1.7 3.6 3.4 17.5 1.7 3.5 1.7-3.7 3.4-18 1.7-3.9 1.8 3.3 3.4 16.9 1.7 3.2 1.7-4.1 3.4-18.6 1.7-4.2 1.7 3 3.4 16.3 1.7 2.9 1.7-4.4 3.5-19.2 1.7-4.5 1.7 2.7 3.4 15.6 1.7 2.6 1.7-4.7 3.4-19.9 1.7-4.8 1.7 2.4 3.4 15 1.8 2.3 1.7-5 3.4-20.5 1.7-5.1 1.7 2.1 3.4 14.3 1.7 2 1.7-5.3 3.4-21.1 1.7-5.4 1.8 1.8 3.4 13.7 1.7 1.7-1.8 4.3-1.7-1.6-3.4-13.8-1.7-1.7-1.7 5.4-3.4 21.1-1.7 5.3-1.7-2-3.5-14.3-1.7-2.1-1.7 5.1-3.4 20.4-1.7 5.1-1.7-2.3-3.4-15-1.7-2.4-1.7 4.8-3.4 19.8-1.8 4.8-1.7-2.6-3.4-15.6-1.7-2.8-1.7 4.6-3.4 19.2-1.7 4.4-1.7-3-3.4-16.2-1.7-3-1.8 4.2-3.4 18.6-1.7 4.1-1.7-3.2-3.4-16.9-1.7-3.3-1.7 3.9-3.4 17.9-1.7 3.8-1.7-3.5-3.5-17.5-1.7-3.6-1.7 3.6-3.4 17.3-1.7 3.5-1.7-3.9-3.4-18-1.7-4-1.7 3.3-3.4 16.7-1.8 3.1-1.7-4.1-3.4-18.7-1.7-4.3-1.7 3-3.4 16.1-1.7 2.8-1.7-4.4-3.4-19.3-1.7-4.6-1.8 2.6-3.4 15.5-1.7 2.5z"/><path fill="none" d="M126.4 1046.9l5.2-14.6 1.7-6 5.1 9.9 1.7 18.4 5.1-15.2 1.7-6.7 5.2 9.3 1.6 17.8 5.2-15.8 1.7-7.3 5.1 8.6 1.7 17.3 5.2-16.5 1.6-7.9 5.2 8 1.7 16.6 5.1-17.1 1.7-8.5 5.2 7.4 1.6 16 5.2-17.8 1.7-9.1 5.1 6.8 1.7 15.4 5.1-18.4 1.7-9.8 5.2 6.2 1.6 14.8 5.2-19 1.7-10.4 5.1 5.5 1.7 14.2 5.2-19.6 1.6-11 5.2 4.9 1.7 13.5 5.1-20.2 1.7-11.6 5.2 4.2 1.6 12.9"/></g>
<g transform="translate(-77.9 -33.6)"><path d="M128.2 1049.8l1.7-2.6 3.4-15.4 1.7-2.7 1.7 4.6 3.4 19.3 1.7 4.5 1.7-2.9 3.5-16.1 1.7-2.9 1.7 4.2 3.4 18.7 1.7 4.2 1.7-3.2 3.4-16.7 1.7-3.3 1.7 4 3.4 18.1 1.8 3.8 1.7-3.5 3.4-17.3 1.7-3.6 1.7 3.6 3.4 17.5 1.7 3.5 1.7-3.7 3.4-18 1.7-3.9 1.8 3.3 3.4 16.9 1.7 3.2 1.7-4.1 3.4-18.6 1.7-4.2 1.7 3.1 3.4 16.2 1.7 2.9 1.7-4.4 3.5-19.2 1.7-4.5 1.7 2.7 3.4 15.6 1.7 2.6 1.7-4.7 3.4-19.9 1.7-4.8 1.7 2.4 3.4 15 1.8 2.3 1.7-5 3.4-20.5 1.7-5.1 1.7 2.1 3.4 14.3 1.7 2 1.7-5.3 3.4-21.1 1.7-5.4 1.8 1.8 3.4 13.7 1.7 1.7-1.8-8-1.7-1.7-3.4-13.7-1.7-1.8-1.7 5.5-3.4 21-1.7 5.4-1.7-2-3.5-14.4-1.7-2.1-1.7 5.2-3.4 20.4-1.7 5-1.7-2.3-3.4-14.9-1.7-2.4-1.7 4.8-3.4 19.8-1.8 4.7-1.7-2.6-3.4-15.6-1.7-2.7-1.7 4.5-3.4 19.2-1.7 4.4-1.7-2.9-3.4-16.2-1.7-3-1.8 4.2-3.4 18.5-1.7 4.1-1.7-3.2-3.4-16.8-1.7-3.4-1.7 3.9-3.4 18-1.7 3.8-1.7-3.6-3.5-17.4-1.7-3.7-1.7 3.6-3.4 17.4-1.7 3.4-1.7-3.8-3.4-18.1-1.7-3.9-1.7 3.2-3.4 16.7-1.8 3.2-1.7-4.1-3.4-18.7-1.7-4.3-1.7 3-3.4 16.1-1.7 2.8-1.7-4.5-3.4-19.3-1.7-4.6-1.8 2.7-3.4 15.5-1.7 2.5z"/><path fill="none" d="M128.2 1049.8l1.6-18.2 5.2-2.5 1.7 6.3 5.1 22.1 1.7-18.9 5.2-3 1.6 5.6 5.2 21.5 1.7-19.5 5.1-3.7 1.7 5.1 5.2 20.8 1.6-20.1 5.2-4.3 1.6 4.4 5.2 20.2 1.7-20.7 5.1-4.9 1.7 3.8 5.2 19.6 1.6-21.3 5.2-5.6 1.7 3.2 5.1 19 1.7-22 5.2-6.1 1.6 2.5 5.2 18.4 1.7-22.6 5.1-6.8 1.7 2 5.2 17.7 1.6-23.2 5.2-7.4 1.7 1.3 5.1 17.1 1.7-23.8 5.1-8 1.7 .7 5.2 16.5"/></g>
<g transform="translate(-76.1 -32.8)"><path d="M128.2 1063.1l1.7-2.5 3.4-15.5 1.7-2.7 1.7 4.6 3.4 19.3 1.7 4.5 1.7-2.8 3.5-16.1 1.7-3 1.7 4.3 3.4 18.7 1.7 4.1 1.7-3.1 3.4-16.8 1.7-3.2 1.7 3.9 3.4 18.1 1.8 3.8 1.7-3.4 3.4-17.4 1.7-3.6 1.7 3.7 3.4 17.5 1.7 3.5 1.7-3.8 3.4-18 1.7-3.9 1.8 3.4 3.4 16.8 1.7 3.2 1.7-4 3.4-18.6 1.7-4.2 1.7 3 3.4 16.2 1.7 2.9 1.7-4.4 3.5-19.2 1.7-4.5 1.7 2.7 3.4 15.6 1.7 2.6 1.7-4.7 3.4-19.8 1.7-4.8 1.7 2.4 3.4 14.9 1.8 2.3 1.7-5 3.4-20.4 1.7-5.2 1.7 2.1 3.4 14.4 1.7 2 1.7-5.4 3.4-21 1.7-5.5 1.8 1.8 3.4 13.7 1.7 1.7-1.8-14.1-1.7-1.7-3.4-13.7-1.7-1.8-1.7 5.5-3.4 21-1.7 5.4-1.7-2-3.5-14.4-1.7-2.1-1.7 5.2-3.4 20.4-1.7 5-1.7-2.3-3.4-14.9-1.7-2.4-1.7 4.8-3.4 19.8-1.8 4.7-1.7-2.6-3.4-15.6-1.7-2.7-1.7 4.5-3.4 19.2-1.7 4.4-1.7-2.9-3.4-16.2-1.7-3-1.8 4.2-3.4 18.6-1.7 4-1.7-3.2-3.4-16.8-1.7-3.3-1.7 3.8-3.4 18-1.7 3.8-1.7-3.5-3.5-17.5-1.7-3.7-1.7 3.6-3.4 17.4-1.7 3.4-1.7-3.8-3.4-18.1-1.7-3.9-1.7 3.2-3.4 16.8-1.8 3.1-1.7-4.1-3.4-18.7-1.7-4.3-1.7 3-3.4 16.1-1.7 2.8-1.7-4.5-3.4-19.3-1.7-4.6-1.8 2.7-3.4 15.5-1.7 2.5z"/><path fill="none" d="M126.4 1049l5.2 3.9 1.7-24.6 5.1 28.4 1.7 0 5.1 3.2 1.7-25.1 5.2 27.7 1.6-.6 5.2 2.6 1.7-25.7 5.1 27.1 1.7-1.3 5.2 2 1.6-26.4 5.2 26.5 1.7-1.8 5.1 1.3 1.7-26.9 5.2 25.8 1.6-2.5 5.2 .8 1.7-27.6 5.1 25.2 1.7-3.1 5.1 .1 1.7-28.2 5.2 24.6 1.6-3.7 5.2-.5 1.7-28.8 5.1 24 1.7-4.4 5.2-1.1 1.6-29.5 5.2 23.4 1.7-4.9 5.1-1.8 1.7-30.1 5.2 22.8 1.6-5.6"/></g>
<g transform="translate(-74.4 -32.1)"><path d="M128.2 1070.2l1.7-2.6 3.4-15.4 1.7-2.7 1.7 4.6 3.4 19.3 1.7 4.5 1.7-2.9 3.5-16.1 1.7-2.9 1.7 4.2 3.4 18.7 1.7 4.2 1.7-3.2 3.4-16.7 1.7-3.3 1.7 4 3.4 18.1 1.8 3.8 1.7-3.5 3.4-17.3 1.7-3.6 1.7 3.7 3.4 17.4 1.7 3.6 1.7-3.8 3.4-18 1.7-3.9 1.8 3.4 3.4 16.8 1.7 3.2 1.7-4.1 3.4-18.6 1.7-4.2 1.7 3.1 3.4 16.2 1.7 2.9 1.7-4.4 3.5-19.2 1.7-4.5 1.7 2.7 3.4 15.6 1.7 2.6 1.7-4.7 3.4-19.8 1.7-4.9 1.7 2.4 3.4 15 1.8 2.3 1.7-5 3.4-20.5 1.7-5.1 1.7 2.1 3.4 14.4 1.7 1.9 1.7-5.3 3.4-21.1 1.7-5.4 1.8 1.8 3.4 13.7 1.7 1.7-1.8-7.8-1.7-1.7-3.4-13.7-1.7-1.8-1.7 5.4-3.4 21.1-1.7 5.3-1.7-2-3.5-14.3-1.7-2.1-1.7 5.1-3.4 20.5-1.7 5-1.7-2.3-3.4-15-1.7-2.4-1.7 4.8-3.4 19.9-1.8 4.7-1.7-2.6-3.4-15.6-1.7-2.7-1.7 4.5-3.4 19.2-1.7 4.4-1.7-2.9-3.4-16.3-1.7-3-1.8 4.2-3.4 18.6-1.7 4.1-1.7-3.2-3.4-16.9-1.7-3.3-1.7 3.9-3.4 17.9-1.7 3.8-1.7-3.5-3.5-17.5-1.7-3.6-1.7 3.6-3.4 17.3-1.7 3.5-1.7-3.9-3.4-18-1.7-4-1.7 3.3-3.4 16.7-1.8 3.2-1.7-4.2-3.4-18.7-1.7-4.3-1.7 3-3.4 16.1-1.7 2.8-1.7-4.4-3.4-19.3-1.7-4.6-1.8 2.6-3.4 15.5-1.7 2.6z"/><path fill="none" d="M128.2 1070.2l1.6-18.1 5.2-2.6 1.7 6.4 5.1 22 1.7-18.7 5.2-3.2 1.6 5.8 5.2 21.3 1.7-19.3 5.1-3.9 1.7 5.2 5.2 20.7 1.6-19.9 5.2-4.5 1.6 4.6 5.2 20.1 1.7-20.6 5.1-5.1 1.7 4 5.2 19.4 1.6-21.2 5.2-5.7 1.7 3.4 5.1 18.8 1.7-21.8 5.2-6.3 1.6 2.7 5.2 18.2 1.7-22.4 5.1-7 1.7 2.1 5.2 17.6 1.6-23 5.2-7.6 1.7 1.5 5.1 16.9 1.7-23.6 5.1-8.2 1.7 .8 5.2 16.4"/></g>
<g transform="translate(-72.6 -31.3)"><path d="M128.2 1064.8l1.7-2.6 3.4-15.4 1.7-2.7 1.7 4.6 3.4 19.3 1.7 4.5 1.7-2.9 3.5-16.1 1.7-3 1.7 4.3 3.4 18.7 1.7 4.2 1.7-3.2 3.4-16.7 1.7-3.3 1.7 4 3.4 18.1 1.8 3.8 1.7-3.5 3.4-17.3 1.7-3.6 1.7 3.6 3.4 17.5 1.7 3.5 1.7-3.7 3.4-18 1.7-3.9 1.8 3.3 3.4 16.9 1.7 3.2 1.7-4.1 3.4-18.6 1.7-4.2 1.7 3 3.4 16.3 1.7 2.9 1.7-4.4 3.5-19.2 1.7-4.5 1.7 2.7 3.4 15.6 1.7 2.6 1.7-4.7 3.4-19.9 1.7-4.8 1.7 2.4 3.4 15 1.8 2.3 1.7-5 3.4-20.5 1.7-5.1 1.7 2.1 3.4 14.3 1.7 2 1.7-5.3 3.4-21.1 1.7-5.4 1.8 1.8 3.4 13.7 1.7 1.7-1.8 4.6-1.7-1.6-3.4-13.8-1.7-1.8-1.7 5.5-3.4 21-1.7 5.4-1.7-2-3.5-14.4-1.7-2.1-1.7 5.2-3.4 20.4-1.7 5-1.7-2.2-3.4-15-1.7-2.4-1.7 4.8-3.4 19.8-1.8 4.7-1.7-2.6-3.4-15.6-1.7-2.7-1.7 4.5-3.4 19.2-1.7 4.4-1.7-2.9-3.4-16.2-1.7-3-1.8 4.2-3.4 18.6-1.7 4.1-1.7-3.3-3.4-16.8-1.7-3.3-1.7 3.9-3.4 17.9-1.7 3.8-1.7-3.5-3.5-17.5-1.7-3.6-1.7 3.5-3.4 17.4-1.7 3.5-1.7-3.9-3.4-18.1-1.7-3.9-1.7 3.3-3.4 16.7-1.8 3.1-1.7-4.1-3.4-18.7-1.7-4.3-1.7 3-3.4 16.1-1.7 2.8-1.7-4.4-3.4-19.4-1.7-4.5-1.8 2.6-3.4 15.5-1.7 2.5z"/><path fill="none" d="M126.4 1069.4l5.2-14.9 1.7-5.7 5.1 9.6 1.7 18.7 5.1-15.5 1.7-6.4 5.2 9 1.6 18.1 5.2-16.1 1.7-7 5.1 8.3 1.7 17.6 5.2-16.8 1.6-7.6 5.2 7.7 1.7 16.9 5.1-17.4 1.7-8.2 5.2 7.1 1.6 16.3 5.2-18.1 1.7-8.8 5.1 6.5 1.7 15.6 5.1-18.6 1.7-9.5 5.2 5.9 1.6 15 5.2-19.2 1.7-10.1 5.1 5.2 1.7 14.4 5.2-19.8 1.6-10.8 5.2 4.7 1.7 13.8 5.1-20.5 1.7-11.4 5.2 4.1 1.6 13.1"/></g>
<g transform="translate(-70.9 -30.6)"><path d="M128.2 1053.1l1.7-2.6 3.4-15.4 1.7-2.7 1.7 4.6 3.4 19.3 1.7 4.5 1.7-2.9 3.5-16.1 1.7-2.9 1.7 4.2 3.4 18.7 1.7 4.2 1.7-3.2 3.4-16.7 1.7-3.3 1.7 4 3.4 18.1 1.8 3.8 1.7-3.5 3.4-17.3 1.7-3.6 1.7 3.7 3.4 17.4 1.7 3.5 1.7-3.7 3.4-18 1.7-3.9 1.8 3.4 3.4 16.8 1.7 3.2 1.7-4.1 3.4-18.6 1.7-4.2 1.7 3.1 3.4 16.2 1.7 2.9 1.7-4.4 3.5-19.2 1.7-4.5 1.7 2.7 3.4 15.6 1.7 2.6 1.7-4.7 3.4-19.8 1.7-4.9 1.7 2.4 3.4 15 1.8 2.3 1.7-5 3.4-20.5 1.7-5.1 1.7 2.1 3.4 14.4 1.7 1.9 1.7-5.3 3.4-21.1 1.7-5.4 1.8 1.8 3.4 13.7 1.7 1.7-1.8 10.9-1.7-1.7-3.4-13.7-1.7-1.8-1.7 5.5-3.4 21-1.7 5.4-1.7-2-3.5-14.4-1.7-2.1-1.7 5.2-3.4 20.4-1.7 5-1.7-2.3-3.4-14.9-1.7-2.4-1.7 4.8-3.4 19.8-1.8 4.7-1.7-2.6-3.4-15.6-1.7-2.7-1.7 4.5-3.4 19.2-1.7 4.4-1.7-2.9-3.4-16.2-1.7-3-1.8 4.2-3.4 18.6-1.7 4-1.7-3.2-3.4-16.8-1.7-3.4-1.7 3.9-3.4 18-1.7 3.8-1.7-3.5-3.5-17.5-1.7-3.7-1.7 3.6-3.4 17.4-1.7 3.4-1.7-3.8-3.4-18.1-1.7-3.9-1.7 3.2-3.4 16.8-1.8 3.1-1.7-4.1-3.4-18.7-1.7-4.3-1.7 3-3.4 16.1-1.7 2.8-1.7-4.5-3.4-19.3-1.7-4.6-1.8 2.7-3.4 15.5-1.7 2.5z"/><path fill="none" d="M128.2 1053.1l1.6 .7 5.2-21.4 1.7 25.2 5.1 3.2 1.7 0 5.2-21.9 1.6 24.5 5.2 2.6 1.7-.6 5.1-22.6 1.7 24 5.2 1.9 1.6-1.2 5.2-23.2 1.6 23.3 5.2 1.3 1.7-1.8 5.1-23.8 1.7 22.7 5.2 .7 1.6-2.4 5.2-24.5 1.7 22.1 5.1 .1 1.7-3.1 5.2-25 1.6 21.4 5.2-.5 1.7-3.7 5.1-25.7 1.7 20.9 5.2-1.2 1.6-4.3 5.2-26.3 1.7 20.2 5.1-1.8 1.7-4.9 5.1-26.9 1.7 19.6 5.2-2.4"/></g>
<g transform="translate(-69.1 -29.8)"><path d="M128.2 1047.5l1.7-2.5 3.4-15.5 1.7-2.6 1.7 4.5 3.4 19.4 1.7 4.4 1.7-2.8 3.5-16.1 1.7-3 1.7 4.3 3.4 18.7 1.7 4.1 1.7-3.1 3.4-16.7 1.7-3.3 1.7 3.9 3.4 18.1 1.8 3.9 1.7-3.5 3.4-17.4 1.7-3.5 1.7 3.6 3.4 17.5 1.7 3.5 1.7-3.8 3.4-17.9 1.7-3.9 1.8 3.3 3.4 16.8 1.7 3.3 1.7-4.1 3.4-18.6 1.7-4.2 1.7 3 3.4 16.2 1.7 2.9 1.7-4.4 3.5-19.2 1.7-4.5 1.7 2.7 3.4 15.6 1.7 2.6 1.7-4.7 3.4-19.8 1.7-4.8 1.7 2.4 3.4 15 1.8 2.2 1.7-5 3.4-20.4 1.7-5.2 1.7 2.1 3.4 14.4 1.7 2 1.7-5.4 3.4-21 1.7-5.5 1.8 1.8 3.4 13.8 1.7 1.6-1.8 4.8-1.7-1.6-3.4-13.8-1.7-1.8-1.7 5.5-3.4 21-1.7 5.4-1.7-2-3.5-14.4-1.7-2.1-1.7 5.2-3.4 20.4-1.7 5-1.7-2.2-3.4-15-1.7-2.4-1.7 4.8-3.4 19.8-1.8 4.7-1.7-2.6-3.4-15.6-1.7-2.7-1.7 4.5-3.4 19.2-1.7 4.4-1.7-2.9-3.4-16.2-1.7-3-1.8 4.2-3.4 18.6-1.7 4.1-1.7-3.3-3.4-16.8-1.7-3.3-1.7 3.9-3.4 17.9-1.7 3.8-1.7-3.5-3.5-17.5-1.7-3.6-1.7 3.5-3.4 17.4-1.7 3.5-1.7-3.9-3.4-18.1-1.7-3.9-1.7 3.2-3.4 16.8-1.8 3.1-1.7-4.1-3.4-18.7-1.7-4.3-1.7 3-3.4 16.1-1.7 2.8-1.7-4.4-3.4-19.4-1.7-4.5-1.8 2.6-3.4 15.5-1.7 2.5z"/><path fill="none" d="M126.4 1052.3l5.2-15 1.7-5.6 5.1 9.4 1.7 18.9 5.1-15.7 1.7-6.2 5.2 8.8 1.6 18.3 5.2-16.3 1.7-6.8 5.1 8.2 1.7 17.7 5.2-17 1.6-7.4 5.2 7.6 1.7 17 5.1-17.5 1.7-8.1 5.2 6.9 1.6 16.5 5.2-18.2 1.7-8.7 5.1 6.3 1.7 15.8 5.1-18.7 1.7-9.4 5.2 5.8 1.6 15.1 5.2-19.4 1.7-9.9 5.1 5.1 1.7 14.5 5.2-20 1.6-10.6 5.2 4.5 1.7 14 5.1-20.7 1.7-11.2 5.2 3.9 1.6 13.3"/></g>
<g transform="translate(-67.4 -29.1)"><path d="M128.2 1054.3l1.7-2.5 3.4-15.5 1.7-2.6 1.7 4.5 3.4 19.4 1.7 4.4 1.7-2.8 3.5-16.1 1.7-3 1.7 4.3 3.4 18.7 1.7 4.1 1.7-3.1 3.4-16.8 1.7-3.2 1.7 3.9 3.4 18.1 1.8 3.8 1.7-3.4 3.4-17.4 1.7-3.5 1.7 3.6 3.4 17.5 1.7 3.5 1.7-3.8 3.4-17.9 1.7-3.9 1.8 3.3 3.4 16.8 1.7 3.3 1.7-4.1 3.4-18.6 1.7-4.2 1.7 3 3.4 16.2 1.7 2.9 1.7-4.4 3.5-19.2 1.7-4.5 1.7 2.7 3.4 15.6 1.7 2.6 1.7-4.7 3.4-19.8 1.7-4.8 1.7 2.4 3.4 15 1.8 2.2 1.7-5 3.4-20.4 1.7-5.2 1.7 2.1 3.4 14.4 1.7 2 1.7-5.4 3.4-21 1.7-5.5 1.8 1.8 3.4 13.8 1.7 1.6-1.8-7.5-1.7-1.7-3.4-13.7-1.7-1.8-1.7 5.4-3.4 21.1-1.7 5.3-1.7-2-3.5-14.3-1.7-2.1-1.7 5.1-3.4 20.5-1.7 5-1.7-2.3-3.4-15-1.7-2.4-1.7 4.8-3.4 19.9-1.8 4.7-1.7-2.6-3.4-15.6-1.7-2.7-1.7 4.5-3.4 19.2-1.7 4.4-1.7-2.9-3.4-16.2-1.7-3.1-1.8 4.2-3.4 18.6-1.7 4.1-1.7-3.2-3.4-16.9-1.7-3.3-1.7 3.9-3.4 18-1.7 3.7-1.7-3.5-3.5-17.4-1.7-3.7-1.7 3.6-3.4 17.3-1.7 3.5-1.7-3.8-3.4-18.1-1.7-4-1.7 3.3-3.4 16.7-1.8 3.2-1.7-4.2-3.4-18.7-1.7-4.2-1.7 2.9-3.4 16.1-1.7 2.9-1.7-4.5-3.4-19.3-1.7-4.6-1.8 2.7-3.4 15.4-1.7 2.6z"/><path fill="none" d="M128.2 1054.3l1.6-17.8 5.2-2.8 1.7 6.7 5.1 21.6 1.7-18.4 5.2-3.5 1.6 6.1 5.2 21 1.7-19 5.1-4.1 1.7 5.4 5.2 20.4 1.6-19.6 5.2-4.7 1.6 4.8 5.2 19.8 1.7-20.3 5.1-5.3 1.7 4.2 5.2 19.2 1.6-21 5.2-5.9 1.7 3.6 5.1 18.5 1.7-21.5 5.2-6.6 1.6 3 5.2 17.9 1.7-22.1 5.1-7.2 1.7 2.3 5.2 17.3 1.6-22.7 5.2-7.9 1.7 1.8 5.1 16.7 1.7-23.4 5.1-8.5 1.7 1.2 5.2 16"/></g>
<g transform="translate(-65.6 -28.3)"><path d="M128.2 1067.3l1.7-2.6 3.4-15.5 1.7-2.6 1.7 4.6 3.4 19.3 1.7 4.4 1.7-2.8 3.5-16.1 1.7-3 1.7 4.3 3.4 18.7 1.7 4.2 1.7-3.2 3.4-16.7 1.7-3.3 1.7 4 3.4 18 1.8 3.9 1.7-3.5 3.4-17.3 1.7-3.6 1.7 3.6 3.4 17.5 1.7 3.5 1.7-3.8 3.4-17.9 1.7-3.9 1.8 3.3 3.4 16.9 1.7 3.2 1.7-4.1 3.4-18.6 1.7-4.2 1.7 3 3.4 16.3 1.7 2.9 1.7-4.4 3.5-19.2 1.7-4.6 1.7 2.8 3.4 15.6 1.7 2.6 1.7-4.8 3.4-19.8 1.7-4.8 1.7 2.4 3.4 15 1.8 2.3 1.7-5.1 3.4-20.4 1.7-5.1 1.7 2.1 3.4 14.3 1.7 2 1.7-5.3 3.4-21.1 1.7-5.4 1.8 1.7 3.4 13.8 1.7 1.7-1.8-13.7-1.7-1.7-3.4-13.7-1.7-1.8-1.7 5.4-3.4 21.1-1.7 5.3-1.7-2-3.5-14.3-1.7-2.1-1.7 5.1-3.4 20.5-1.7 5-1.7-2.3-3.4-15-1.7-2.4-1.7 4.8-3.4 19.9-1.8 4.7-1.7-2.6-3.4-15.6-1.7-2.7-1.7 4.5-3.4 19.2-1.7 4.4-1.7-2.9-3.4-16.3-1.7-3-1.8 4.2-3.4 18.6-1.7 4.1-1.7-3.2-3.4-16.9-1.7-3.3-1.7 3.9-3.4 18-1.7 3.7-1.7-3.5-3.5-17.5-1.7-3.6-1.7 3.6-3.4 17.3-1.7 3.5-1.7-3.8-3.4-18.1-1.7-4-1.7 3.3-3.4 16.7-1.8 3.2-1.7-4.2-3.4-18.7-1.7-4.3-1.7 3-3.4 16.1-1.7 2.9-1.7-4.5-3.4-19.3-1.7-4.6-1.8 2.7-3.4 15.4-1.7 2.6z"/><path fill="none" d="M126.4 1053.6l5.2 3.4 1.7-24.1 5.1 27.9 1.7 .5 5.1 2.8 1.7-24.8 5.2 27.4 1.6-.2 5.2 2.2 1.7-25.4 5.1 26.7 1.7-.8 5.2 1.6 1.6-26 5.2 26.1 1.7-1.5 5.1 1 1.7-26.6 5.2 25.5 1.6-2.1 5.2 .3 1.7-27.2 5.1 24.9 1.7-2.7 5.1-.3 1.7-27.8 5.2 24.2 1.6-3.3 5.2-.9 1.7-28.5 5.1 23.6 1.7-3.9 5.2-1.6 1.6-29 5.2 23 1.7-4.6 5.1-2.1 1.7-29.7 5.2 22.3 1.6-5.1"/></g>
<g transform="translate(-63.9 -27.6)"><path d="M128.2 1073.9l1.7-2.5 3.4-15.5 1.7-2.7 1.7 4.6 3.4 19.3 1.7 4.5 1.7-2.9 3.5-16 1.7-3 1.7 4.3 3.4 18.7 1.7 4.1 1.7-3.2 3.4-16.7 1.7-3.2 1.7 3.9 3.4 18.1 1.8 3.8 1.7-3.4 3.4-17.4 1.7-3.6 1.7 3.7 3.4 17.4 1.7 3.6 1.7-3.8 3.4-18 1.7-3.9 1.8 3.4 3.4 16.8 1.7 3.2 1.7-4.1 3.4-18.5 1.7-4.2 1.7 3 3.4 16.2 1.7 2.9 1.7-4.4 3.5-19.2 1.7-4.5 1.7 2.7 3.4 15.6 1.7 2.6 1.7-4.7 3.4-19.8 1.7-4.8 1.7 2.4 3.4 14.9 1.8 2.3 1.7-5 3.4-20.4 1.7-5.2 1.7 2.1 3.4 14.4 1.7 2 1.7-5.4 3.4-21 1.7-5.5 1.8 1.8 3.4 13.7 1.7 1.7-1.8-7.4-1.7-1.7-3.4-13.7-1.7-1.8-1.7 5.5-3.4 21-1.7 5.3-1.7-1.9-3.5-14.4-1.7-2.1-1.7 5.2-3.4 20.4-1.7 5-1.7-2.3-3.4-15-1.7-2.4-1.7 4.9-3.4 19.8-1.8 4.7-1.7-2.6-3.4-15.6-1.7-2.7-1.7 4.5-3.4 19.2-1.7 4.4-1.7-2.9-3.4-16.2-1.7-3-1.8 4.2-3.4 18.5-1.7 4.1-1.7-3.2-3.4-16.8-1.7-3.4-1.7 3.9-3.4 18-1.7 3.8-1.7-3.6-3.5-17.4-1.7-3.7-1.7 3.6-3.4 17.4-1.7 3.4-1.7-3.8-3.4-18.1-1.7-4-1.7 3.3-3.4 16.7-1.8 3.2-1.7-4.2-3.4-18.7-1.7-4.2-1.7 2.9-3.4 16.1-1.7 2.9-1.7-4.5-3.4-19.3-1.7-4.6-1.8 2.7-3.4 15.5-1.7 2.5z"/><path fill="none" d="M128.2 1073.9l1.6-17.7 5.2-3 1.7 6.9 5.1 21.5 1.7-18.3 5.2-3.6 1.6 6.2 5.2 20.9 1.7-18.9 5.1-4.2 1.7 5.6 5.2 20.2 1.6-19.5 5.2-4.9 1.6 5 5.2 19.7 1.7-20.2 5.1-5.5 1.7 4.4 5.2 19 1.6-20.7 5.2-6.1 1.7 3.7 5.1 18.4 1.7-21.4 5.2-6.7 1.6 3.1 5.2 17.8 1.7-22 5.1-7.3 1.7 2.5 5.2 17.1 1.6-22.6 5.2-8 1.7 1.9 5.1 16.6 1.7-23.3 5.1-8.6 1.7 1.3 5.2 15.9"/></g>
<g transform="translate(-62.1 -26.8)"><path d="M128.2 1068.1l1.7-2.6 3.4-15.4 1.7-2.7 1.7 4.6 3.4 19.3 1.7 4.5 1.7-2.9 3.5-16.1 1.7-2.9 1.7 4.2 3.4 18.7 1.7 4.2 1.7-3.2 3.4-16.7 1.7-3.3 1.7 4 3.4 18.1 1.8 3.8 1.7-3.5 3.4-17.3 1.7-3.6 1.7 3.7 3.4 17.4 1.7 3.5 1.7-3.7 3.4-18 1.7-3.9 1.8 3.4 3.4 16.8 1.7 3.2 1.7-4.1 3.4-18.6 1.7-4.2 1.7 3.1 3.4 16.2 1.7 2.9 1.7-4.4 3.5-19.2 1.7-4.5 1.7 2.7 3.4 15.6 1.7 2.6 1.7-4.7 3.4-19.8 1.7-4.9 1.7 2.4 3.4 15 1.8 2.3 1.7-5 3.4-20.5 1.7-5.1 1.7 2.1 3.4 14.4 1.7 1.9 1.7-5.3 3.4-21.1 1.7-5.4 1.8 1.8 3.4 13.7 1.7 1.7-1.8 5.1-1.7-1.7-3.4-13.8-1.7-1.7-1.7 5.4-3.4 21.1-1.7 5.3-1.7-2-3.5-14.3-1.7-2.1-1.7 5.1-3.4 20.4-1.7 5.1-1.7-2.3-3.4-15-1.7-2.4-1.7 4.8-3.4 19.8-1.8 4.8-1.7-2.6-3.4-15.6-1.7-2.8-1.7 4.6-3.4 19.2-1.7 4.4-1.7-2.9-3.4-16.3-1.7-3-1.8 4.2-3.4 18.6-1.7 4.1-1.7-3.2-3.4-16.9-1.7-3.3-1.7 3.9-3.4 17.9-1.7 3.8-1.7-3.5-3.5-17.5-1.7-3.6-1.7 3.6-3.4 17.3-1.7 3.5-1.7-3.9-3.4-18-1.7-4-1.7 3.3-3.4 16.7-1.8 3.1-1.7-4.1-3.4-18.7-1.7-4.3-1.7 3-3.4 16.1-1.7 2.8-1.7-4.4-3.4-19.3-1.7-4.6-1.8 2.6-3.4 15.5-1.7 2.5z"/><path fill="none" d="M126.4 1073.1l5.2-15.3 1.7-5.3 5.1 9.2 1.7 19.1 5.1-15.9 1.7-6 5.2 8.6 1.6 18.5 5.2-16.5 1.7-6.6 5.1 7.9 1.7 18 5.2-17.2 1.6-7.2 5.2 7.3 1.7 17.3 5.1-17.8 1.7-7.8 5.2 6.7 1.6 16.7 5.2-18.5 1.7-8.4 5.1 6.1 1.7 16.1 5.1-19.1 1.7-9.1 5.2 5.5 1.6 15.5 5.2-19.7 1.7-9.7 5.1 4.8 1.7 14.9 5.2-20.3 1.6-10.3 5.2 4.2 1.7 14.2 5.1-20.9 1.7-10.9 5.2 3.6 1.6 13.6"/></g>
<g transform="translate(-60.4 -26)"><path d="M128.2 1056l1.7-2.6 3.4-15.4 1.7-2.7 1.7 4.6 3.4 19.3 1.7 4.5 1.7-2.9 3.5-16.1 1.7-2.9 1.7 4.2 3.4 18.7 1.7 4.2 1.7-3.2 3.4-16.7 1.7-3.3 1.7 4 3.4 18.1 1.8 3.8 1.7-3.5 3.4-17.3 1.7-3.6 1.7 3.7 3.4 17.4 1.7 3.5 1.7-3.7 3.4-18 1.7-3.9 1.8 3.3 3.4 16.9 1.7 3.2 1.7-4.1 3.4-18.6 1.7-4.2 1.7 3.1 3.4 16.2 1.7 2.9 1.7-4.4 3.5-19.2 1.7-4.5 1.7 2.7 3.4 15.6 1.7 2.6 1.7-4.7 3.4-19.8 1.7-4.9 1.7 2.4 3.4 15 1.8 2.3 1.7-5 3.4-20.5 1.7-5.1 1.7 2.1 3.4 14.3 1.7 2 1.7-5.3 3.4-21.1 1.7-5.4 1.8 1.8 3.4 13.7 1.7 1.7-1.8 11.3-1.7-1.6-3.4-13.8-1.7-1.8-1.7 5.5-3.4 21-1.7 5.4-1.7-2-3.5-14.4-1.7-2.1-1.7 5.2-3.4 20.4-1.7 5-1.7-2.2-3.4-15-1.7-2.4-1.7 4.8-3.4 19.8-1.8 4.7-1.7-2.6-3.4-15.6-1.7-2.7-1.7 4.5-3.4 19.2-1.7 4.4-1.7-2.9-3.4-16.2-1.7-3-1.8 4.2-3.4 18.6-1.7 4.1-1.7-3.3-3.4-16.8-1.7-3.3-1.7 3.9-3.4 17.9-1.7 3.8-1.7-3.5-3.5-17.5-1.7-3.6-1.7 3.5-3.4 17.4-1.7 3.4-1.7-3.8-3.4-18.1-1.7-3.9-1.7 3.2-3.4 16.8-1.8 3.1-1.7-4.1-3.4-18.7-1.7-4.3-1.7 3-3.4 16.1-1.7 2.8-1.7-4.4-3.4-19.4-1.7-4.5-1.8 2.6-3.4 15.5-1.7 2.5z"/><path fill="none" d="M128.2 1056l1.6 1.1 5.2-21.8 1.7 25.6 5.1 2.8 1.7 .4 5.2-22.3 1.6 24.9 5.2 2.2 1.7-.2 5.1-23 1.7 24.4 5.2 1.5 1.6-.8 5.2-23.6 1.6 23.8 5.2 .8 1.7-1.3 5.1-24.3 1.7 23.1 5.2 .3 1.6-2 5.2-24.9 1.7 22.5 5.1-.3 1.7-2.6 5.2-25.5 1.6 21.9 5.2-1 1.7-3.3 5.1-26.1 1.7 21.3 5.2-1.6 1.6-3.9 5.2-26.7 1.7 20.6 5.1-2.2 1.7-4.5 5.1-27.3 1.7 20 5.2-2.8"/></g>
<g transform="translate(-58.6 -25.3)"><path d="M128.2 1050l1.7-2.5 3.4-15.5 1.7-2.7 1.7 4.6 3.4 19.3 1.7 4.5 1.7-2.8 3.5-16.1 1.7-3 1.7 4.3 3.4 18.7 1.7 4.1 1.7-3.1 3.4-16.8 1.7-3.2 1.7 3.9 3.4 18.1 1.8 3.8 1.7-3.4 3.4-17.4 1.7-3.6 1.7 3.7 3.4 17.5 1.7 3.5 1.7-3.8 3.4-18 1.7-3.9 1.8 3.4 3.4 16.8 1.7 3.2 1.7-4 3.4-18.6 1.7-4.2 1.7 3 3.4 16.2 1.7 2.9 1.7-4.4 3.5-19.2 1.7-4.5 1.7 2.7 3.4 15.6 1.7 2.6 1.7-4.7 3.4-19.8 1.7-4.8 1.7 2.4 3.4 14.9 1.8 2.3 1.7-5 3.4-20.4 1.7-5.2 1.7 2.1 3.4 14.4 1.7 2 1.7-5.4 3.4-21 1.7-5.5 1.8 1.8 3.4 13.7 1.7 1.7-1.8 5.2-1.7-1.6-3.4-13.8-1.7-1.8-1.7 5.5-3.4 21-1.7 5.4-1.7-2-3.5-14.4-1.7-2.1-1.7 5.2-3.4 20.4-1.7 5-1.7-2.2-3.4-15-1.7-2.4-1.7 4.8-3.4 19.8-1.8 4.7-1.7-2.6-3.4-15.6-1.7-2.7-1.7 4.5-3.4 19.2-1.7 4.4-1.7-2.9-3.4-16.2-1.7-3-1.8 4.2-3.4 18.6-1.7 4.1-1.7-3.3-3.4-16.8-1.7-3.3-1.7 3.9-3.4 17.9-1.7 3.8-1.7-3.5-3.5-17.5-1.7-3.6-1.7 3.5-3.4 17.4-1.7 3.4-1.7-3.8-3.4-18.1-1.7-3.9-1.7 3.2-3.4 16.8-1.8 3.1-1.7-4.1-3.4-18.7-1.7-4.3-1.7 3-3.4 16.1-1.7 2.8-1.7-4.4-3.4-19.4-1.7-4.5-1.8 2.6-3.4 15.5-1.7 2.5z"/><path fill="none" d="M126.4 1055.2l5.2-15.4 1.7-5.2 5.1 9 1.7 19.3 5.1-16.1 1.7-5.8 5.2 8.4 1.6 18.7 5.2-16.7 1.7-6.4 5.1 7.8 1.7 18 5.2-17.3 1.6-7 5.2 7.1 1.7 17.5 5.1-18 1.7-7.6 5.2 6.5 1.6 16.9 5.2-18.6 1.7-8.3 5.1 5.9 1.7 16.2 5.1-19.2 1.7-8.9 5.2 5.3 1.6 15.6 5.2-19.8 1.7-9.5 5.1 4.7 1.7 14.9 5.2-20.4 1.6-10.2 5.2 4.1 1.7 14.4 5.1-21.1 1.7-10.8 5.2 3.5 1.6 13.7"/></g>
<g transform="translate(-56.9 -24.5)"><path d="M128.2 1056.4l1.7-2.5 3.4-15.5 1.7-2.7 1.7 4.6 3.4 19.3 1.7 4.5 1.7-2.9 3.5-16.1 1.7-2.9 1.7 4.2 3.4 18.7 1.7 4.2 1.7-3.2 3.4-16.7 1.7-3.3 1.7 4 3.4 18.1 1.8 3.8 1.7-3.5 3.4-17.3 1.7-3.6 1.7 3.7 3.4 17.4 1.7 3.6 1.7-3.8 3.4-18 1.7-3.9 1.8 3.4 3.4 16.8 1.7 3.2 1.7-4.1 3.4-18.5 1.7-4.3 1.7 3.1 3.4 16.2 1.7 2.9 1.7-4.4 3.5-19.2 1.7-4.5 1.7 2.7 3.4 15.6 1.7 2.6 1.7-4.7 3.4-19.8 1.7-4.9 1.7 2.4 3.4 15 1.8 2.3 1.7-5 3.4-20.5 1.7-5.1 1.7 2.1 3.4 14.4 1.7 1.9 1.7-5.3 3.4-21.1 1.7-5.4 1.8 1.8 3.4 13.7 1.7 1.7-1.8-7.1-1.7-1.7-3.4-13.7-1.7-1.8-1.7 5.4-3.4 21.1-1.7 5.3-1.7-2-3.5-14.3-1.7-2.1-1.7 5.1-3.4 20.5-1.7 5-1.7-2.3-3.4-15-1.7-2.4-1.7 4.8-3.4 19.9-1.8 4.7-1.7-2.6-3.4-15.6-1.7-2.8-1.7 4.6-3.4 19.2-1.7 4.4-1.7-2.9-3.4-16.3-1.7-3-1.8 4.2-3.4 18.6-1.7 4.1-1.7-3.2-3.4-16.9-1.7-3.3-1.7 3.9-3.4 17.9-1.7 3.8-1.7-3.5-3.5-17.5-1.7-3.6-1.7 3.6-3.4 17.3-1.7 3.5-1.7-3.9-3.4-18-1.7-4-1.7 3.3-3.4 16.7-1.8 3.2-1.7-4.2-3.4-18.7-1.7-4.3-1.7 3-3.4 16.1-1.7 2.8-1.7-4.4-3.4-19.3-1.7-4.6-1.8 2.6-3.4 15.5-1.7 2.6z"/><path fill="none" d="M128.2 1056.4l1.6-17.4 5.2-3.3 1.7 7.1 5.1 21.3 1.7-18 5.2-3.9 1.6 6.5 5.2 20.6 1.7-18.6 5.1-4.6 1.7 5.9 5.2 20 1.6-19.2 5.2-5.2 1.6 5.3 5.2 19.4 1.7-19.9 5.1-5.8 1.7 4.7 5.2 18.7 1.6-20.5 5.2-6.4 1.7 4.1 5.1 18.1 1.7-21.1 5.2-7 1.6 3.4 5.2 17.5 1.7-21.7 5.1-7.7 1.7 2.8 5.2 16.9 1.6-22.3 5.2-8.3 1.7 2.2 5.1 16.2 1.7-22.9 5.1-8.9 1.7 1.5 5.2 15.7"/></g>
<g transform="translate(-55.1 -23.8)"><path d="M128.2 1068.9l1.7-2.5 3.4-15.5 1.7-2.7 1.7 4.6 3.4 19.3 1.7 4.5 1.7-2.9 3.5-16 1.7-3 1.7 4.3 3.4 18.7 1.7 4.1 1.7-3.2 3.4-16.7 1.7-3.2 1.7 3.9 3.4 18.1 1.8 3.8 1.7-3.4 3.4-17.4 1.7-3.6 1.7 3.7 3.4 17.4 1.7 3.6 1.7-3.8 3.4-18 1.7-3.9 1.8 3.4 3.4 16.8 1.7 3.2 1.7-4.1 3.4-18.5 1.7-4.2 1.7 3 3.4 16.2 1.7 2.9 1.7-4.4 3.5-19.2 1.7-4.5 1.7 2.7 3.4 15.6 1.7 2.6 1.7-4.7 3.4-19.8 1.7-4.8 1.7 2.4 3.4 14.9 1.8 2.3 1.7-5 3.4-20.4 1.7-5.2 1.7 2.1 3.4 14.4 1.7 2 1.7-5.4 3.4-21 1.7-5.5 1.8 1.8 3.4 13.7 1.7 1.7-1.8-13.3-1.7-1.6-3.4-13.8-1.7-1.8-1.7 5.5-3.4 21.1-1.7 5.3-1.7-2-3.5-14.3-1.7-2.1-1.7 5.1-3.4 20.4-1.7 5.1-1.7-2.3-3.4-15-1.7-2.4-1.7 4.8-3.4 19.8-1.8 4.7-1.7-2.6-3.4-15.6-1.7-2.7-1.7 4.5-3.4 19.2-1.7 4.4-1.7-2.9-3.4-16.2-1.7-3-1.8 4.2-3.4 18.6-1.7 4.1-1.7-3.3-3.4-16.8-1.7-3.3-1.7 3.9-3.4 17.9-1.7 3.8-1.7-3.5-3.5-17.5-1.7-3.6-1.7 3.6-3.4 17.3-1.7 3.5-1.7-3.9-3.4-18.1-1.7-3.9-1.7 3.3-3.4 16.7-1.8 3.1-1.7-4.1-3.4-18.7-1.7-4.3-1.7 3-3.4 16.1-1.7 2.8-1.7-4.4-3.4-19.4-1.7-4.5-1.8 2.6-3.4 15.5-1.7 2.5z"/><path fill="none" d="M126.4 1055.6l5.2 3 1.7-23.6 5.1 27.5 1.7 .8 5.1 2.4 1.7-24.3 5.2 26.9 1.6 .2 5.2 1.8 1.7-24.9 5.1 26.3 1.7-.4 5.2 1.1 1.6-25.5 5.2 25.6 1.7-1 5.1 .5 1.7-26.1 5.2 25 1.6-1.6 5.2-.1 1.7-26.8 5.1 24.4 1.7-2.3 5.1-.7 1.7-27.4 5.2 23.8 1.6-2.9 5.2-1.3 1.7-28 5.1 23.2 1.7-3.5 5.2-2 1.6-28.6 5.2 22.5 1.7-4.1 5.1-2.6 1.7-29.3 5.2 22 1.6-4.8"/></g>
<g transform="translate(-53.4 -23)"><path d="M128.2 1075.1l1.7-2.5 3.4-15.5 1.7-2.6 1.7 4.6 3.4 19.3 1.7 4.4 1.7-2.8 3.5-16.1 1.7-3 1.7 4.3 3.4 18.7 1.7 4.1 1.7-3.1 3.4-16.7 1.7-3.3 1.7 4 3.4 18 1.8 3.9 1.7-3.5 3.4-17.3 1.7-3.6 1.7 3.6 3.4 17.5 1.7 3.5 1.7-3.8 3.4-17.9 1.7-3.9 1.8 3.3 3.4 16.9 1.7 3.2 1.7-4.1 3.4-18.6 1.7-4.2 1.7 3 3.4 16.2 1.7 3 1.7-4.4 3.5-19.2 1.7-4.6 1.7 2.8 3.4 15.6 1.7 2.6 1.7-4.8 3.4-19.8 1.7-4.8 1.7 2.4 3.4 15 1.8 2.3 1.7-5.1 3.4-20.4 1.7-5.1 1.7 2.1 3.4 14.3 1.7 2 1.7-5.3 3.4-21.1 1.7-5.4 1.8 1.7 3.4 13.8 1.7 1.6-1.8-6.9-1.7-1.7-3.4-13.8-1.7-1.7-1.7 5.4-3.4 21.1-1.7 5.3-1.7-2-3.5-14.3-1.7-2.1-1.7 5.1-3.4 20.4-1.7 5.1-1.7-2.3-3.4-15-1.7-2.4-1.7 4.8-3.4 19.8-1.8 4.8-1.7-2.6-3.4-15.6-1.7-2.8-1.7 4.6-3.4 19.2-1.7 4.4-1.7-2.9-3.4-16.3-1.7-3-1.8 4.2-3.4 18.6-1.7 4.1-1.7-3.2-3.4-16.9-1.7-3.3-1.7 3.9-3.4 17.9-1.7 3.8-1.7-3.5-3.5-17.5-1.7-3.6-1.7 3.6-3.4 17.3-1.7 3.5-1.7-3.9-3.4-18-1.7-4-1.7 3.3-3.4 16.7-1.8 3.2-1.7-4.2-3.4-18.7-1.7-4.3-1.7 3-3.4 16.1-1.7 2.8-1.7-4.4-3.4-19.3-1.7-4.6-1.8 2.6-3.4 15.5-1.7 2.6z"/><path fill="none" d="M128.2 1075.1l1.6-17.2 5.2-3.4 1.7 7.2 5.1 21.1 1.7-17.8 5.2-4.1 1.6 6.7 5.2 20.4 1.7-18.4 5.1-4.7 1.7 6 5.2 19.9 1.6-19.1 5.2-5.3 1.6 5.4 5.2 19.2 1.7-19.7 5.1-5.9 1.7 4.8 5.2 18.6 1.6-20.4 5.2-6.5 1.7 4.2 5.1 18 1.7-21 5.2-7.2 1.6 3.6 5.2 17.4 1.7-21.6 5.1-7.8 1.7 2.9 5.2 16.8 1.6-22.3 5.2-8.3 1.7 2.3 5.1 16.1 1.7-22.8 5.1-9 1.7 1.6 5.2 15.5"/></g>
<g transform="translate(-51.6 -22.3)"><path d="M128.2 1068.9l1.7-2.5 3.4-15.5 1.7-2.7 1.7 4.6 3.4 19.3 1.7 4.5 1.7-2.9 3.5-16 1.7-3 1.7 4.3 3.4 18.7 1.7 4.1 1.7-3.2 3.4-16.7 1.7-3.2 1.7 3.9 3.4 18.1 1.8 3.8 1.7-3.4 3.4-17.4 1.7-3.6 1.7 3.7 3.4 17.4 1.7 3.6 1.7-3.8 3.4-18 1.7-3.9 1.8 3.4 3.4 16.8 1.7 3.2 1.7-4.1 3.4-18.5 1.7-4.2 1.7 3 3.4 16.2 1.7 2.9 1.7-4.4 3.5-19.2 1.7-4.5 1.7 2.7 3.4 15.6 1.7 2.6 1.7-4.7 3.4-19.8 1.7-4.8 1.7 2.4 3.4 14.9 1.8 2.3 1.7-5 3.4-20.4 1.7-5.2 1.7 2.1 3.4 14.4 1.7 2 1.7-5.4 3.4-21 1.7-5.5 1.8 1.8 3.4 13.7 1.7 1.7-1.8 5.5-1.7-1.7-3.4-13.7-1.7-1.8-1.7 5.4-3.4 21.1-1.7 5.3-1.7-1.9-3.5-14.4-1.7-2.1-1.7 5.1-3.4 20.5-1.7 5-1.7-2.3-3.4-15-1.7-2.4-1.7 4.9-3.4 19.8-1.8 4.7-1.7-2.6-3.4-15.6-1.7-2.7-1.7 4.5-3.4 19.2-1.7 4.4-1.7-2.9-3.4-16.2-1.7-3.1-1.8 4.3-3.4 18.5-1.7 4.1-1.7-3.2-3.4-16.8-1.7-3.4-1.7 3.9-3.4 18-1.7 3.8-1.7-3.6-3.5-17.4-1.7-3.7-1.7 3.6-3.4 17.3-1.7 3.5-1.7-3.8-3.4-18.1-1.7-4-1.7 3.3-3.4 16.7-1.8 3.2-1.7-4.2-3.4-18.7-1.7-4.2-1.7 2.9-3.4 16.1-1.7 2.9-1.7-4.5-3.4-19.3-1.7-4.6-1.8 2.7-3.4 15.5-1.7 2.5z"/><path fill="none" d="M126.4 1074.4l5.2-15.8 1.7-4.9 5.1 8.8 1.7 19.6 5.1-16.4 1.7-5.5 5.2 8.1 1.6 19 5.2-17 1.7-6.2 5.1 7.6 1.7 18.3 5.2-17.6 1.6-6.8 5.2 6.9 1.7 17.8 5.1-18.3 1.7-7.4 5.2 6.3 1.6 17.1 5.2-18.8 1.7-8.1 5.1 5.7 1.7 16.5 5.1-19.5 1.7-8.6 5.2 5 1.6 15.9 5.2-20.1 1.7-9.3 5.1 4.5 1.7 15.2 5.2-20.7 1.6-9.9 5.2 3.8 1.7 14.6 5.1-21.3 1.7-10.5 5.2 3.2 1.6 14"/></g>
<g transform="translate(-49.9 -21.5)"><path d="M128.2 1056.4l1.7-2.5 3.4-15.5 1.7-2.7 1.7 4.6 3.4 19.3 1.7 4.5 1.7-2.9 3.5-16.1 1.7-2.9 1.7 4.2 3.4 18.7 1.7 4.2 1.7-3.2 3.4-16.7 1.7-3.3 1.7 4 3.4 18.1 1.8 3.8 1.7-3.5 3.4-17.3 1.7-3.6 1.7 3.7 3.4 17.4 1.7 3.6 1.7-3.8 3.4-18 1.7-3.9 1.8 3.4 3.4 16.8 1.7 3.2 1.7-4.1 3.4-18.5 1.7-4.3 1.7 3.1 3.4 16.2 1.7 2.9 1.7-4.4 3.5-19.2 1.7-4.5 1.7 2.7 3.4 15.6 1.7 2.6 1.7-4.7 3.4-19.8 1.7-4.9 1.7 2.4 3.4 15 1.8 2.3 1.7-5 3.4-20.5 1.7-5.1 1.7 2.1 3.4 14.4 1.7 1.9 1.7-5.3 3.4-21.1 1.7-5.4 1.8 1.8 3.4 13.7 1.7 1.7-1.8 11.8-1.7-1.7-3.4-13.8-1.7-1.7-1.7 5.4-3.4 21.1-1.7 5.3-1.7-2-3.5-14.3-1.7-2.1-1.7 5.1-3.4 20.4-1.7 5.1-1.7-2.3-3.4-15-1.7-2.4-1.7 4.8-3.4 19.8-1.8 4.8-1.7-2.6-3.4-15.6-1.7-2.8-1.7 4.6-3.4 19.2-1.7 4.4-1.7-2.9-3.4-16.3-1.7-3-1.8 4.2-3.4 18.6-1.7 4.1-1.7-3.2-3.4-16.9-1.7-3.3-1.7 3.9-3.4 17.9-1.7 3.8-1.7-3.5-3.5-17.5-1.7-3.6-1.7 3.6-3.4 17.3-1.7 3.5-1.7-3.9-3.4-18-1.7-4-1.7 3.3-3.4 16.7-1.8 3.2-1.7-4.2-3.4-18.7-1.7-4.3-1.7 3-3.4 16.1-1.7 2.8-1.7-4.4-3.4-19.3-1.7-4.6-1.8 2.6-3.4 15.5-1.7 2.6z"/><path fill="none" d="M128.2 1056.4l1.6 1.5 5.2-22.2 1.7 26 5.1 2.4 1.7 .9 5.2-22.8 1.6 25.4 5.2 1.7 1.7 .3 5.1-23.5 1.7 24.8 5.2 1.1 1.6-.3 5.2-24.1 1.6 24.2 5.2 .5 1.7-1 5.1-24.7 1.7 23.6 5.2-.2 1.6-1.6 5.2-25.3 1.7 23 5.1-.8 1.7-2.2 5.2-25.9 1.6 22.3 5.2-1.4 1.7-2.8 5.1-26.6 1.7 21.7 5.2-2 1.6-3.5 5.2-27.1 1.7 21.1 5.1-2.7 1.7-4 5.1-27.8 1.7 20.4 5.2-3.2"/></g>
<g transform="translate(-48.1 -20.8)"><path d="M128.2 1050l1.7-2.5 3.4-15.5 1.7-2.7 1.7 4.6 3.4 19.3 1.7 4.5 1.7-2.8 3.5-16.1 1.7-3 1.7 4.3 3.4 18.7 1.7 4.1 1.7-3.1 3.4-16.8 1.7-3.2 1.7 3.9 3.4 18.1 1.8 3.8 1.7-3.4 3.4-17.4 1.7-3.6 1.7 3.7 3.4 17.5 1.7 3.5 1.7-3.8 3.4-18 1.7-3.9 1.8 3.4 3.4 16.8 1.7 3.2 1.7-4 3.4-18.6 1.7-4.2 1.7 3 3.4 16.2 1.7 2.9 1.7-4.4 3.5-19.2 1.7-4.5 1.7 2.7 3.4 15.6 1.7 2.6 1.7-4.7 3.4-19.8 1.7-4.8 1.7 2.4 3.4 14.9 1.8 2.3 1.7-5 3.4-20.4 1.7-5.2 1.7 2.1 3.4 14.4 1.7 2 1.7-5.4 3.4-21 1.7-5.5 1.8 1.8 3.4 13.7 1.7 1.7-1.8 5.6-1.7-1.6-3.4-13.8-1.7-1.8-1.7 5.5-3.4 21.1-1.7 5.3-1.7-2-3.5-14.3-1.7-2.1-1.7 5.1-3.4 20.4-1.7 5.1-1.7-2.3-3.4-15-1.7-2.4-1.7 4.8-3.4 19.8-1.8 4.7-1.7-2.6-3.4-15.6-1.7-2.7-1.7 4.5-3.4 19.2-1.7 4.4-1.7-2.9-3.4-16.2-1.7-3-1.8 4.2-3.4 18.6-1.7 4.1-1.7-3.3-3.4-16.8-1.7-3.3-1.7 3.9-3.4 17.9-1.7 3.8-1.7-3.5-3.5-17.5-1.7-3.6-1.7 3.6-3.4 17.3-1.7 3.5-1.7-3.9-3.4-18.1-1.7-3.9-1.7 3.3-3.4 16.7-1.8 3.1-1.7-4.1-3.4-18.7-1.7-4.3-1.7 3-3.4 16.1-1.7 2.8-1.7-4.4-3.4-19.4-1.7-4.5-1.8 2.6-3.4 15.5-1.7 2.5z"/><path fill="none" d="M126.4 1055.6l5.2-15.8 1.7-4.8 5.1 8.6 1.7 19.7 5.1-16.5 1.7-5.4 5.2 8 1.6 19.1 5.2-17.1 1.7-6 5.1 7.4 1.7 18.5 5.2-17.8 1.6-6.6 5.2 6.7 1.7 17.9 5.1-18.4 1.7-7.2 5.2 6.1 1.6 17.3 5.2-19 1.7-7.9 5.1 5.5 1.7 16.6 5.1-19.6 1.7-8.5 5.2 4.9 1.6 16 5.2-20.2 1.7-9.1 5.1 4.3 1.7 15.4 5.2-20.9 1.6-9.7 5.2 3.6 1.7 14.8 5.1-21.5 1.7-10.4 5.2 3.1 1.6 14.1"/></g>
<g transform="translate(-46.4 -20)"><path d="M128.2 1056l1.7-2.6 3.4-15.4 1.7-2.7 1.7 4.6 3.4 19.3 1.7 4.5 1.7-2.9 3.5-16.1 1.7-2.9 1.7 4.2 3.4 18.7 1.7 4.2 1.7-3.2 3.4-16.7 1.7-3.3 1.7 4 3.4 18.1 1.8 3.8 1.7-3.5 3.4-17.3 1.7-3.6 1.7 3.7 3.4 17.4 1.7 3.5 1.7-3.7 3.4-18 1.7-3.9 1.8 3.3 3.4 16.9 1.7 3.2 1.7-4.1 3.4-18.6 1.7-4.2 1.7 3.1 3.4 16.2 1.7 2.9 1.7-4.4 3.5-19.2 1.7-4.5 1.7 2.7 3.4 15.6 1.7 2.6 1.7-4.7 3.4-19.8 1.7-4.9 1.7 2.4 3.4 15 1.8 2.3 1.7-5 3.4-20.5 1.7-5.1 1.7 2.1 3.4 14.3 1.7 2 1.7-5.3 3.4-21.1 1.7-5.4 1.8 1.8 3.4 13.7 1.7 1.7-1.8-6.7-1.7-1.7-3.4-13.7-1.7-1.8-1.7 5.4-3.4 21.1-1.7 5.3-1.7-2-3.5-14.3-1.7-2.1-1.7 5.1-3.4 20.5-1.7 5-1.7-2.3-3.4-15-1.7-2.4-1.7 4.8-3.4 19.9-1.8 4.7-1.7-2.6-3.4-15.6-1.7-2.8-1.7 4.6-3.4 19.2-1.7 4.4-1.7-2.9-3.4-16.3-1.7-3-1.8 4.2-3.4 18.6-1.7 4.1-1.7-3.2-3.4-16.9-1.7-3.3-1.7 3.9-3.4 17.9-1.7 3.8-1.7-3.5-3.5-17.5-1.7-3.6-1.7 3.6-3.4 17.3-1.7 3.5-1.7-3.9-3.4-18-1.7-4-1.7 3.3-3.4 16.7-1.8 3.2-1.7-4.2-3.4-18.7-1.7-4.3-1.7 3-3.4 16.1-1.7 2.8-1.7-4.4-3.4-19.3-1.7-4.6-1.8 2.6-3.4 15.5-1.7 2.6z"/><path fill="none" d="M128.2 1056l1.6-17 5.2-3.7 1.7 7.5 5.1 20.9 1.7-17.6 5.2-4.3 1.6 6.9 5.2 20.2 1.7-18.2 5.1-5 1.7 6.3 5.2 19.6 1.6-18.8 5.2-5.6 1.6 5.7 5.2 18.9 1.7-19.4 5.1-6.2 1.7 5.1 5.2 18.3 1.6-20.1 5.2-6.8 1.7 4.5 5.1 17.7 1.7-20.7 5.2-7.4 1.6 3.8 5.2 17.1 1.7-21.3 5.1-8.1 1.7 3.2 5.2 16.5 1.6-21.9 5.2-8.7 1.7 2.6 5.1 15.8 1.7-22.5 5.1-9.3 1.7 1.9 5.2 15.3"/></g>
<g transform="translate(-44.6 -19.3)"><path d="M128.2 1068.1l1.7-2.6 3.4-15.4 1.7-2.7 1.7 4.6 3.4 19.3 1.7 4.5 1.7-2.9 3.5-16.1 1.7-2.9 1.7 4.2 3.4 18.7 1.7 4.2 1.7-3.2 3.4-16.7 1.7-3.3 1.7 4 3.4 18.1 1.8 3.8 1.7-3.5 3.4-17.3 1.7-3.6 1.7 3.7 3.4 17.4 1.7 3.5 1.7-3.7 3.4-18 1.7-3.9 1.8 3.4 3.4 16.8 1.7 3.2 1.7-4.1 3.4-18.6 1.7-4.2 1.7 3.1 3.4 16.2 1.7 2.9 1.7-4.4 3.5-19.2 1.7-4.5 1.7 2.7 3.4 15.6 1.7 2.6 1.7-4.7 3.4-19.8 1.7-4.9 1.7 2.4 3.4 15 1.8 2.3 1.7-5 3.4-20.5 1.7-5.1 1.7 2.1 3.4 14.4 1.7 1.9 1.7-5.3 3.4-21.1 1.7-5.4 1.8 1.8 3.4 13.7 1.7 1.7-1.8-12.9-1.7-1.6-3.4-13.8-1.7-1.8-1.7 5.5-3.4 21-1.7 5.4-1.7-2-3.5-14.4-1.7-2.1-1.7 5.2-3.4 20.4-1.7 5-1.7-2.2-3.4-15-1.7-2.4-1.7 4.8-3.4 19.8-1.8 4.7-1.7-2.6-3.4-15.6-1.7-2.7-1.7 4.5-3.4 19.2-1.7 4.4-1.7-2.9-3.4-16.2-1.7-3-1.8 4.2-3.4 18.6-1.7 4.1-1.7-3.3-3.4-16.8-1.7-3.3-1.7 3.9-3.4 17.9-1.7 3.8-1.7-3.5-3.5-17.5-1.7-3.6-1.7 3.5-3.4 17.4-1.7 3.4-1.7-3.8-3.4-18.1-1.7-3.9-1.7 3.2-3.4 16.8-1.8 3.1-1.7-4.1-3.4-18.7-1.7-4.3-1.7 3-3.4 16.1-1.7 2.8-1.7-4.4-3.4-19.4-1.7-4.5-1.8 2.6-3.4 15.5-1.7 2.5z"/><path fill="none" d="M126.4 1055.2l5.2 2.6 1.7-23.2 5.1 27.1 1.7 1.2 5.1 2 1.7-23.9 5.2 26.5 1.6 .6 5.2 1.4 1.7-24.5 5.1 25.8 1.7 0 5.2 .8 1.6-25.1 5.2 25.2 1.7-.6 5.1 .1 1.7-25.7 5.2 24.6 1.6-1.2 5.2-.6 1.7-26.3 5.1 24 1.7-1.9 5.1-1.1 1.7-27 5.2 23.4 1.6-2.5 5.2-1.7 1.7-27.6 5.1 22.7 1.7-3.1 5.2-2.3 1.6-28.3 5.2 22.2 1.7-3.7 5.1-3 1.7-28.9 5.2 21.6 1.6-4.4"/></g>
<g transform="translate(-42.9 -18.5)"><path d="M128.2 1073.9l1.7-2.5 3.4-15.5 1.7-2.7 1.7 4.6 3.4 19.3 1.7 4.5 1.7-2.9 3.5-16 1.7-3 1.7 4.3 3.4 18.7 1.7 4.1 1.7-3.2 3.4-16.7 1.7-3.2 1.7 3.9 3.4 18.1 1.8 3.8 1.7-3.4 3.4-17.4 1.7-3.6 1.7 3.7 3.4 17.4 1.7 3.6 1.7-3.8 3.4-18 1.7-3.9 1.8 3.4 3.4 16.8 1.7 3.2 1.7-4.1 3.4-18.5 1.7-4.2 1.7 3 3.4 16.2 1.7 2.9 1.7-4.4 3.5-19.2 1.7-4.5 1.7 2.7 3.4 15.6 1.7 2.6 1.7-4.7 3.4-19.8 1.7-4.8 1.7 2.4 3.4 14.9 1.8 2.3 1.7-5 3.4-20.4 1.7-5.2 1.7 2.1 3.4 14.4 1.7 2 1.7-5.4 3.4-21 1.7-5.5 1.8 1.8 3.4 13.7 1.7 1.7-1.8-6.6-1.7-1.6-3.4-13.8-1.7-1.8-1.7 5.5-3.4 21-1.7 5.4-1.7-2-3.5-14.4-1.7-2.1-1.7 5.2-3.4 20.4-1.7 5-1.7-2.2-3.4-15-1.7-2.4-1.7 4.8-3.4 19.8-1.8 4.7-1.7-2.6-3.4-15.6-1.7-2.7-1.7 4.5-3.4 19.2-1.7 4.4-1.7-2.9-3.4-16.2-1.7-3-1.8 4.2-3.4 18.6-1.7 4.1-1.7-3.3-3.4-16.8-1.7-3.3-1.7 3.9-3.4 17.9-1.7 3.8-1.7-3.5-3.5-17.5-1.7-3.6-1.7 3.5-3.4 17.4-1.7 3.4-1.7-3.8-3.4-18.1-1.7-3.9-1.7 3.2-3.4 16.8-1.8 3.1-1.7-4.1-3.4-18.7-1.7-4.3-1.7 3-3.4 16.1-1.7 2.8-1.7-4.4-3.4-19.4-1.7-4.5-1.8 2.6-3.4 15.5-1.7 2.5z"/><path fill="none" d="M128.2 1073.9l1.6-16.8 5.2-3.9 1.7 7.7 5.1 20.7 1.7-17.5 5.2-4.4 1.6 7 5.2 20.1 1.7-18.1 5.1-5 1.7 6.4 5.2 19.4 1.6-18.7 5.2-5.7 1.6 5.9 5.2 18.8 1.7-19.3 5.1-6.4 1.7 5.2 5.2 18.2 1.6-19.9 5.2-6.9 1.7 4.5 5.1 17.6 1.7-20.5 5.2-7.6 1.6 4 5.2 16.9 1.7-21.2 5.1-8.1 1.7 3.3 5.2 16.3 1.6-21.8 5.2-8.8 1.7 2.7 5.1 15.8 1.7-22.5 5.1-9.4 1.7 2.1 5.2 15.1"/></g>
<g transform="translate(-41.1 -17.7)"><path d="M128.2 1067.3l1.7-2.6 3.4-15.5 1.7-2.6 1.7 4.6 3.4 19.3 1.7 4.4 1.7-2.8 3.5-16.1 1.7-3 1.7 4.3 3.4 18.7 1.7 4.2 1.7-3.2 3.4-16.7 1.7-3.3 1.7 4 3.4 18 1.8 3.9 1.7-3.5 3.4-17.3 1.7-3.6 1.7 3.6 3.4 17.5 1.7 3.5 1.7-3.8 3.4-17.9 1.7-3.9 1.8 3.3 3.4 16.9 1.7 3.2 1.7-4.1 3.4-18.6 1.7-4.2 1.7 3 3.4 16.3 1.7 2.9 1.7-4.4 3.5-19.2 1.7-4.6 1.7 2.8 3.4 15.6 1.7 2.6 1.7-4.8 3.4-19.8 1.7-4.8 1.7 2.4 3.4 15 1.8 2.3 1.7-5.1 3.4-20.4 1.7-5.1 1.7 2.1 3.4 14.3 1.7 2 1.7-5.3 3.4-21.1 1.7-5.4 1.8 1.7 3.4 13.8 1.7 1.7-1.8 5.9-1.7-1.7-3.4-13.8-1.7-1.7-1.7 5.4-3.4 21.1-1.7 5.3-1.7-2-3.5-14.3-1.7-2.1-1.7 5.1-3.4 20.4-1.7 5.1-1.7-2.3-3.4-15-1.7-2.4-1.7 4.8-3.4 19.8-1.8 4.8-1.7-2.6-3.4-15.6-1.7-2.8-1.7 4.6-3.4 19.2-1.7 4.4-1.7-2.9-3.4-16.3-1.7-3-1.8 4.2-3.4 18.6-1.7 4.1-1.7-3.2-3.4-16.9-1.7-3.3-1.7 3.9-3.4 17.9-1.7 3.8-1.7-3.5-3.5-17.5-1.7-3.6-1.7 3.6-3.4 17.3-1.7 3.5-1.7-3.9-3.4-18-1.7-4-1.7 3.3-3.4 16.7-1.8 3.2-1.7-4.2-3.4-18.7-1.7-4.3-1.7 3-3.4 16.1-1.7 2.8-1.7-4.4-3.4-19.3-1.7-4.6-1.8 2.6-3.4 15.5-1.7 2.6z"/><path fill="none" d="M126.4 1073.2l5.2-16.2 1.7-4.5 5.1 8.3 1.7 20 5.1-16.7 1.7-5.2 5.2 7.8 1.6 19.4 5.2-17.4 1.7-5.8 5.1 7.1 1.7 18.8 5.2-18 1.6-6.4 5.2 6.5 1.7 18.1 5.1-18.6 1.7-7 5.2 5.9 1.6 17.5 5.2-19.3 1.7-7.6 5.1 5.3 1.7 16.9 5.1-19.9 1.7-8.3 5.2 4.7 1.6 16.3 5.2-20.5 1.7-8.9 5.1 4 1.7 15.7 5.2-21.2 1.6-9.4 5.2 3.4 1.7 15 5.1-21.7 1.7-10.1 5.2 2.7 1.6 14.5"/></g>
<g transform="translate(-39.4 -17)"><path d="M128.2 1054.3l1.7-2.5 3.4-15.5 1.7-2.6 1.7 4.5 3.4 19.4 1.7 4.4 1.7-2.8 3.5-16.1 1.7-3 1.7 4.3 3.4 18.7 1.7 4.1 1.7-3.1 3.4-16.8 1.7-3.2 1.7 3.9 3.4 18.1 1.8 3.8 1.7-3.4 3.4-17.4 1.7-3.5 1.7 3.6 3.4 17.5 1.7 3.5 1.7-3.8 3.4-17.9 1.7-3.9 1.8 3.3 3.4 16.8 1.7 3.3 1.7-4.1 3.4-18.6 1.7-4.2 1.7 3 3.4 16.2 1.7 2.9 1.7-4.4 3.5-19.2 1.7-4.5 1.7 2.7 3.4 15.6 1.7 2.6 1.7-4.7 3.4-19.8 1.7-4.8 1.7 2.4 3.4 15 1.8 2.2 1.7-5 3.4-20.4 1.7-5.2 1.7 2.1 3.4 14.4 1.7 2 1.7-5.4 3.4-21 1.7-5.5 1.8 1.8 3.4 13.8 1.7 1.6-1.8 12.2-1.7-1.7-3.4-13.7-1.7-1.8-1.7 5.5-3.4 21-1.7 5.3-1.7-1.9-3.5-14.4-1.7-2.1-1.7 5.2-3.4 20.4-1.7 5-1.7-2.3-3.4-15-1.7-2.4-1.7 4.9-3.4 19.8-1.8 4.7-1.7-2.6-3.4-15.6-1.7-2.7-1.7 4.5-3.4 19.2-1.7 4.4-1.7-2.9-3.4-16.2-1.7-3-1.8 4.2-3.4 18.5-1.7 4.1-1.7-3.2-3.4-16.8-1.7-3.4-1.7 3.9-3.4 18-1.7 3.8-1.7-3.6-3.5-17.4-1.7-3.7-1.7 3.6-3.4 17.4-1.7 3.4-1.7-3.8-3.4-18.1-1.7-4-1.7 3.3-3.4 16.7-1.8 3.2-1.7-4.2-3.4-18.7-1.7-4.2-1.7 2.9-3.4 16.1-1.7 2.9-1.7-4.5-3.4-19.3-1.7-4.6-1.8 2.7-3.4 15.5-1.7 2.5z"/><path fill="none" d="M128.2 1054.3l1.6 1.9 5.2-22.5 1.7 26.4 5.1 1.9 1.7 1.3 5.2-23.2 1.6 25.8 5.2 1.3 1.7 .7 5.1-23.8 1.7 25.2 5.2 .6 1.6 .1 5.2-24.4 1.6 24.5 5.2 .1 1.7-.6 5.1-25 1.7 23.9 5.2-.5 1.6-1.2 5.2-25.7 1.7 23.3 5.1-1.2 1.7-1.8 5.2-26.3 1.6 22.7 5.2-1.8 1.7-2.4 5.1-26.9 1.7 22.1 5.2-2.5 1.6-3 5.2-27.6 1.7 21.5 5.1-3 1.7-3.7 5.1-28.2 1.7 20.9 5.2-3.7"/></g>
<g transform="translate(-37.6 -16.2)"><path d="M128.2 1047.5l1.7-2.5 3.4-15.5 1.7-2.6 1.7 4.5 3.4 19.4 1.7 4.4 1.7-2.8 3.5-16.1 1.7-3 1.7 4.3 3.4 18.7 1.7 4.1 1.7-3.1 3.4-16.7 1.7-3.3 1.7 3.9 3.4 18.1 1.8 3.9 1.7-3.5 3.4-17.4 1.7-3.5 1.7 3.6 3.4 17.5 1.7 3.5 1.7-3.8 3.4-17.9 1.7-3.9 1.8 3.3 3.4 16.8 1.7 3.3 1.7-4.1 3.4-18.6 1.7-4.2 1.7 3 3.4 16.2 1.7 2.9 1.7-4.4 3.5-19.2 1.7-4.5 1.7 2.7 3.4 15.6 1.7 2.6 1.7-4.7 3.4-19.8 1.7-4.8 1.7 2.4 3.4 15 1.8 2.2 1.7-5 3.4-20.4 1.7-5.2 1.7 2.1 3.4 14.4 1.7 2 1.7-5.4 3.4-21 1.7-5.5 1.8 1.8 3.4 13.8 1.7 1.6-1.8 6.1-1.7-1.7-3.4-13.7-1.7-1.8-1.7 5.4-3.4 21.1-1.7 5.3-1.7-2-3.5-14.3-1.7-2.1-1.7 5.1-3.4 20.5-1.7 5-1.7-2.3-3.4-15-1.7-2.4-1.7 4.8-3.4 19.9-1.8 4.7-1.7-2.6-3.4-15.6-1.7-2.7-1.7 4.5-3.4 19.2-1.7 4.4-1.7-2.9-3.4-16.3-1.7-3-1.8 4.2-3.4 18.6-1.7 4.1-1.7-3.2-3.4-16.9-1.7-3.3-1.7 3.9-3.4 18-1.7 3.7-1.7-3.5-3.5-17.5-1.7-3.6-1.7 3.6-3.4 17.3-1.7 3.5-1.7-3.8-3.4-18.1-1.7-4-1.7 3.3-3.4 16.7-1.8 3.2-1.7-4.2-3.4-18.7-1.7-4.3-1.7 3-3.4 16.1-1.7 2.9-1.7-4.5-3.4-19.3-1.7-4.6-1.8 2.7-3.4 15.4-1.7 2.6z"/><path fill="none" d="M126.4 1053.6l5.2-16.3 1.7-4.4 5.1 8.2 1.7 20.2 5.1-17 1.7-5 5.2 7.6 1.6 19.6 5.2-17.6 1.7-5.6 5.1 7 1.7 18.9 5.2-18.2 1.6-6.2 5.2 6.4 1.7 18.2 5.1-18.7 1.7-6.9 5.2 5.7 1.6 17.7 5.2-19.4 1.7-7.5 5.1 5.1 1.7 17.1 5.1-20 1.7-8.1 5.2 4.5 1.6 16.4 5.2-20.7 1.7-8.7 5.1 3.9 1.7 15.8 5.2-21.3 1.6-9.3 5.2 3.2 1.7 15.2 5.1-21.9 1.7-9.9 5.2 2.6 1.6 14.6"/></g>
<g transform="translate(-35.9 -15.5)"><path d="M128.2 1053.1l1.7-2.6 3.4-15.4 1.7-2.7 1.7 4.6 3.4 19.3 1.7 4.5 1.7-2.9 3.5-16.1 1.7-2.9 1.7 4.2 3.4 18.7 1.7 4.2 1.7-3.2 3.4-16.7 1.7-3.3 1.7 4 3.4 18.1 1.8 3.8 1.7-3.5 3.4-17.3 1.7-3.6 1.7 3.7 3.4 17.4 1.7 3.5 1.7-3.7 3.4-18 1.7-3.9 1.8 3.4 3.4 16.8 1.7 3.2 1.7-4.1 3.4-18.6 1.7-4.2 1.7 3.1 3.4 16.2 1.7 2.9 1.7-4.4 3.5-19.2 1.7-4.5 1.7 2.7 3.4 15.6 1.7 2.6 1.7-4.7 3.4-19.8 1.7-4.9 1.7 2.4 3.4 15 1.8 2.3 1.7-5 3.4-20.5 1.7-5.1 1.7 2.1 3.4 14.4 1.7 1.9 1.7-5.3 3.4-21.1 1.7-5.4 1.8 1.8 3.4 13.7 1.7 1.7-1.8-6.3-1.7-1.7-3.4-13.7-1.7-1.8-1.7 5.4-3.4 21.1-1.7 5.3-1.7-2-3.5-14.3-1.7-2.1-1.7 5.1-3.4 20.5-1.7 5-1.7-2.3-3.4-15-1.7-2.4-1.7 4.8-3.4 19.9-1.8 4.7-1.7-2.6-3.4-15.6-1.7-2.7-1.7 4.5-3.4 19.2-1.7 4.4-1.7-2.9-3.4-16.2-1.7-3.1-1.8 4.2-3.4 18.6-1.7 4.1-1.7-3.2-3.4-16.9-1.7-3.3-1.7 3.9-3.4 18-1.7 3.7-1.7-3.5-3.5-17.4-1.7-3.7-1.7 3.6-3.4 17.3-1.7 3.5-1.7-3.8-3.4-18.1-1.7-4-1.7 3.3-3.4 16.7-1.8 3.2-1.7-4.2-3.4-18.7-1.7-4.2-1.7 2.9-3.4 16.1-1.7 2.9-1.7-4.5-3.4-19.3-1.7-4.6-1.8 2.7-3.4 15.4-1.7 2.6z"/><path fill="none" d="M128.2 1053.1l1.6-16.6 5.2-4.1 1.7 8 5.1 20.4 1.7-17.2 5.2-4.7 1.6 7.3 5.2 19.8 1.7-17.8 5.1-5.4 1.7 6.7 5.2 19.2 1.6-18.4 5.2-6 1.6 6.1 5.2 18.5 1.7-19 5.1-6.6 1.7 5.5 5.2 17.9 1.6-19.7 5.2-7.2 1.7 4.9 5.1 17.3 1.7-20.3 5.2-7.8 1.6 4.2 5.2 16.7 1.7-20.9 5.1-8.5 1.7 3.6 5.2 16.1 1.6-21.5 5.2-9.1 1.7 3 5.1 15.4 1.7-22.1 5.1-9.7 1.7 2.4 5.2 14.8"/></g>
<g transform="translate(-34.1 -14.7)"><path d="M128.2 1064.8l1.7-2.6 3.4-15.4 1.7-2.7 1.7 4.6 3.4 19.3 1.7 4.5 1.7-2.9 3.5-16.1 1.7-3 1.7 4.3 3.4 18.7 1.7 4.2 1.7-3.2 3.4-16.7 1.7-3.3 1.7 4 3.4 18.1 1.8 3.8 1.7-3.5 3.4-17.3 1.7-3.6 1.7 3.6 3.4 17.5 1.7 3.5 1.7-3.7 3.4-18 1.7-3.9 1.8 3.3 3.4 16.9 1.7 3.2 1.7-4.1 3.4-18.6 1.7-4.2 1.7 3 3.4 16.3 1.7 2.9 1.7-4.4 3.5-19.2 1.7-4.5 1.7 2.7 3.4 15.6 1.7 2.6 1.7-4.7 3.4-19.9 1.7-4.8 1.7 2.4 3.4 15 1.8 2.3 1.7-5 3.4-20.5 1.7-5.1 1.7 2.1 3.4 14.3 1.7 2 1.7-5.3 3.4-21.1 1.7-5.4 1.8 1.8 3.4 13.7 1.7 1.7-1.8-12.5-1.7-1.6-3.4-13.8-1.7-1.8-1.7 5.5-3.4 21-1.7 5.4-1.7-2-3.5-14.4-1.7-2.1-1.7 5.2-3.4 20.4-1.7 5-1.7-2.2-3.4-15-1.7-2.4-1.7 4.8-3.4 19.8-1.8 4.7-1.7-2.6-3.4-15.6-1.7-2.7-1.7 4.5-3.4 19.2-1.7 4.4-1.7-2.9-3.4-16.2-1.7-3-1.8 4.2-3.4 18.6-1.7 4.1-1.7-3.3-3.4-16.8-1.7-3.3-1.7 3.9-3.4 17.9-1.7 3.8-1.7-3.5-3.5-17.5-1.7-3.6-1.7 3.5-3.4 17.4-1.7 3.5-1.7-3.9-3.4-18.1-1.7-3.9-1.7 3.2-3.4 16.8-1.8 3.1-1.7-4.1-3.4-18.7-1.7-4.3-1.7 3-3.4 16.1-1.7 2.8-1.7-4.4-3.4-19.4-1.7-4.5-1.8 2.6-3.4 15.5-1.7 2.5z"/><path fill="none" d="M126.4 1052.3l5.2 2.2 1.7-22.8 5.1 26.7 1.7 1.6 5.1 1.6 1.7-23.5 5.2 26.1 1.6 1 5.2 1 1.7-24.1 5.1 25.4 1.7 .5 5.2 .3 1.6-24.7 5.2 24.8 1.7-.2 5.1-.3 1.7-25.3 5.2 24.2 1.6-.8 5.2-1 1.7-25.9 5.1 23.6 1.7-1.5 5.1-1.5 1.7-26.6 5.2 23 1.6-2.1 5.2-2.1 1.7-27.2 5.1 22.3 1.7-2.7 5.2-2.7 1.6-27.9 5.2 21.8 1.7-3.3 5.1-3.4 1.7-28.5 5.2 21.2 1.6-4"/></g>
<g transform="translate(-32.4 -14)"><path d="M128.2 1070.2l1.7-2.6 3.4-15.4 1.7-2.7 1.7 4.6 3.4 19.3 1.7 4.5 1.7-2.9 3.5-16.1 1.7-2.9 1.7 4.2 3.4 18.7 1.7 4.2 1.7-3.2 3.4-16.7 1.7-3.3 1.7 4 3.4 18.1 1.8 3.8 1.7-3.5 3.4-17.3 1.7-3.6 1.7 3.7 3.4 17.4 1.7 3.6 1.7-3.8 3.4-18 1.7-3.9 1.8 3.4 3.4 16.8 1.7 3.2 1.7-4.1 3.4-18.6 1.7-4.2 1.7 3.1 3.4 16.2 1.7 2.9 1.7-4.4 3.5-19.2 1.7-4.5 1.7 2.7 3.4 15.6 1.7 2.6 1.7-4.7 3.4-19.8 1.7-4.9 1.7 2.4 3.4 15 1.8 2.3 1.7-5 3.4-20.5 1.7-5.1 1.7 2.1 3.4 14.4 1.7 1.9 1.7-5.3 3.4-21.1 1.7-5.4 1.8 1.8 3.4 13.7 1.7 1.7-1.8-6.2-1.7-1.7-3.4-13.7-1.7-1.8-1.7 5.5-3.4 21-1.7 5.4-1.7-2-3.5-14.4-1.7-2.1-1.7 5.2-3.4 20.4-1.7 5-1.7-2.3-3.4-14.9-1.7-2.4-1.7 4.8-3.4 19.8-1.8 4.7-1.7-2.6-3.4-15.6-1.7-2.7-1.7 4.5-3.4 19.2-1.7 4.4-1.7-2.9-3.4-16.2-1.7-3-1.8 4.2-3.4 18.6-1.7 4-1.7-3.2-3.4-16.8-1.7-3.4-1.7 3.9-3.4 18-1.7 3.8-1.7-3.5-3.5-17.5-1.7-3.7-1.7 3.6-3.4 17.4-1.7 3.4-1.7-3.8-3.4-18.1-1.7-3.9-1.7 3.2-3.4 16.8-1.8 3.1-1.7-4.1-3.4-18.7-1.7-4.3-1.7 3-3.4 16.1-1.7 2.8-1.7-4.5-3.4-19.3-1.7-4.6-1.8 2.7-3.4 15.5-1.7 2.5z"/><path fill="none" d="M128.2 1070.2l1.6-16.4 5.2-4.3 1.7 8.1 5.1 20.3 1.7-17.1 5.2-4.8 1.6 7.4 5.2 19.7 1.7-17.7 5.1-5.5 1.7 6.9 5.2 19 1.6-18.3 5.2-6.1 1.6 6.2 5.2 18.5 1.7-19 5.1-6.7 1.7 5.6 5.2 17.8 1.6-19.5 5.2-7.4 1.7 5 5.1 17.2 1.7-20.2 5.2-7.9 1.6 4.3 5.2 16.6 1.7-20.8 5.1-8.6 1.7 3.8 5.2 15.9 1.6-21.4 5.2-9.2 1.7 3.1 5.1 15.3 1.7-22 5.1-9.8 1.7 2.5 5.2 14.7"/></g>
<g transform="translate(-30.6 -13.2)"><path d="M128.2 1063.1l1.7-2.5 3.4-15.5 1.7-2.7 1.7 4.6 3.4 19.3 1.7 4.5 1.7-2.8 3.5-16.1 1.7-3 1.7 4.3 3.4 18.7 1.7 4.1 1.7-3.1 3.4-16.8 1.7-3.2 1.7 3.9 3.4 18.1 1.8 3.8 1.7-3.4 3.4-17.4 1.7-3.6 1.7 3.7 3.4 17.5 1.7 3.5 1.7-3.8 3.4-18 1.7-3.9 1.8 3.4 3.4 16.8 1.7 3.2 1.7-4 3.4-18.6 1.7-4.2 1.7 3 3.4 16.2 1.7 2.9 1.7-4.4 3.5-19.2 1.7-4.5 1.7 2.7 3.4 15.6 1.7 2.6 1.7-4.7 3.4-19.8 1.7-4.8 1.7 2.4 3.4 14.9 1.8 2.3 1.7-5 3.4-20.4 1.7-5.2 1.7 2.1 3.4 14.4 1.7 2 1.7-5.4 3.4-21 1.7-5.5 1.8 1.8 3.4 13.7 1.7 1.7-1.8 6.3-1.7-1.6-3.4-13.8-1.7-1.8-1.7 5.5-3.4 21-1.7 5.4-1.7-2-3.5-14.4-1.7-2.1-1.7 5.2-3.4 20.4-1.7 5-1.7-2.2-3.4-15-1.7-2.4-1.7 4.8-3.4 19.8-1.8 4.7-1.7-2.6-3.4-15.6-1.7-2.7-1.7 4.5-3.4 19.2-1.7 4.4-1.7-2.9-3.4-16.2-1.7-3-1.8 4.2-3.4 18.6-1.7 4.1-1.7-3.3-3.4-16.8-1.7-3.3-1.7 3.9-3.4 17.9-1.7 3.8-1.7-3.5-3.5-17.5-1.7-3.6-1.7 3.5-3.4 17.4-1.7 3.5-1.7-3.9-3.4-18.1-1.7-3.9-1.7 3.3-3.4 16.7-1.8 3.1-1.7-4.1-3.4-18.7-1.7-4.3-1.7 3-3.4 16.1-1.7 2.8-1.7-4.4-3.4-19.4-1.7-4.5-1.8 2.6-3.4 15.5-1.7 2.5z"/><path fill="none" d="M126.4 1069.4l5.2-16.5 1.7-4.1 5.1 7.9 1.7 20.4 5.1-17.2 1.7-4.7 5.2 7.3 1.6 19.8 5.2-17.8 1.7-5.3 5.1 6.7 1.7 19.2 5.2-18.5 1.6-5.9 5.2 6 1.7 18.6 5.1-19.1 1.7-6.5 5.2 5.4 1.6 18 5.2-19.7 1.7-7.2 5.1 4.8 1.7 17.3 5.1-20.3 1.7-7.8 5.2 4.2 1.6 16.7 5.2-20.9 1.7-8.4 5.1 3.6 1.7 16 5.2-21.5 1.6-9.1 5.2 3 1.7 15.5 5.1-22.2 1.7-9.7 5.2 2.4 1.6 14.8"/></g>
<g transform="translate(-28.9 -12.5)"><path d="M128.2 1049.8l1.7-2.6 3.4-15.4 1.7-2.7 1.7 4.6 3.4 19.3 1.7 4.5 1.7-2.9 3.5-16.1 1.7-2.9 1.7 4.2 3.4 18.7 1.7 4.2 1.7-3.2 3.4-16.7 1.7-3.3 1.7 4 3.4 18.1 1.8 3.8 1.7-3.5 3.4-17.3 1.7-3.6 1.7 3.6 3.4 17.5 1.7 3.5 1.7-3.7 3.4-18 1.7-3.9 1.8 3.3 3.4 16.9 1.7 3.2 1.7-4.1 3.4-18.6 1.7-4.2 1.7 3.1 3.4 16.2 1.7 2.9 1.7-4.4 3.5-19.2 1.7-4.5 1.7 2.7 3.4 15.6 1.7 2.6 1.7-4.7 3.4-19.9 1.7-4.8 1.7 2.4 3.4 15 1.8 2.3 1.7-5 3.4-20.5 1.7-5.1 1.7 2.1 3.4 14.3 1.7 2 1.7-5.3 3.4-21.1 1.7-5.4 1.8 1.8 3.4 13.7 1.7 1.7-1.8 12.6-1.7-1.7-3.4-13.7-1.7-1.8-1.7 5.4-3.4 21.1-1.7 5.3-1.7-2-3.5-14.3-1.7-2.1-1.7 5.1-3.4 20.5-1.7 5-1.7-2.3-3.4-15-1.7-2.4-1.7 4.8-3.4 19.9-1.8 4.7-1.7-2.6-3.4-15.6-1.7-2.7-1.7 4.5-3.4 19.2-1.7 4.4-1.7-2.9-3.4-16.3-1.7-3-1.8 4.2-3.4 18.6-1.7 4.1-1.7-3.2-3.4-16.9-1.7-3.3-1.7 3.9-3.4 17.9-1.7 3.8-1.7-3.5-3.5-17.5-1.7-3.6-1.7 3.6-3.4 17.3-1.7 3.5-1.7-3.9-3.4-18-1.7-4-1.7 3.3-3.4 16.7-1.8 3.2-1.7-4.2-3.4-18.7-1.7-4.3-1.7 3-3.4 16.1-1.7 2.8-1.7-4.4-3.4-19.3-1.7-4.6-1.8 2.6-3.4 15.5-1.7 2.6z"/><path fill="none" d="M128.2 1049.8l1.6 2.3 5.2-23 1.7 26.8 5.1 1.6 1.7 1.7 5.2-23.6 1.6 26.2 5.2 .9 1.7 1.1 5.1-24.3 1.7 25.6 5.2 .3 1.6 .5 5.2-24.9 1.6 25 5.2-.4 1.7-.1 5.1-25.5 1.7 24.4 5.2-1 1.6-.8 5.2-26.1 1.7 23.8 5.1-1.6 1.7-1.4 5.2-26.7 1.6 23.1 5.2-2.2 1.7-2 5.1-27.4 1.7 22.5 5.2-2.8 1.6-2.6 5.2-28 1.7 21.9 5.1-3.5 1.7-3.2 5.1-28.6 1.7 21.2 5.2-4"/></g>
<g transform="translate(-27.1 -11.7)"><path d="M128.2 1042.6l1.7-2.6 3.4-15.5 1.7-2.6 1.7 4.6 3.4 19.3 1.7 4.5 1.7-2.9 3.5-16.1 1.7-3 1.7 4.3 3.4 18.7 1.7 4.2 1.7-3.2 3.4-16.7 1.7-3.3 1.7 4 3.4 18 1.8 3.9 1.7-3.5 3.4-17.3 1.7-3.6 1.7 3.6 3.4 17.5 1.7 3.5 1.7-3.7 3.4-18 1.7-3.9 1.8 3.3 3.4 16.9 1.7 3.2 1.7-4.1 3.4-18.6 1.7-4.2 1.7 3 3.4 16.3 1.7 2.9 1.7-4.4 3.5-19.2 1.7-4.5 1.7 2.7 3.4 15.6 1.7 2.6 1.7-4.7 3.4-19.9 1.7-4.8 1.7 2.4 3.4 15 1.8 2.3 1.7-5 3.4-20.5 1.7-5.1 1.7 2.1 3.4 14.3 1.7 2 1.7-5.3 3.4-21.1 1.7-5.4 1.8 1.8 3.4 13.7 1.7 1.7-1.8 6.4-1.7-1.7-3.4-13.7-1.7-1.8-1.7 5.5-3.4 21-1.7 5.4-1.7-2-3.5-14.4-1.7-2.1-1.7 5.2-3.4 20.4-1.7 5-1.7-2.3-3.4-14.9-1.7-2.4-1.7 4.8-3.4 19.8-1.8 4.7-1.7-2.6-3.4-15.6-1.7-2.7-1.7 4.5-3.4 19.2-1.7 4.4-1.7-2.9-3.4-16.2-1.7-3-1.8 4.2-3.4 18.6-1.7 4-1.7-3.2-3.4-16.8-1.7-3.3-1.7 3.8-3.4 18-1.7 3.8-1.7-3.5-3.5-17.5-1.7-3.7-1.7 3.6-3.4 17.4-1.7 3.4-1.7-3.8-3.4-18.1-1.7-3.9-1.7 3.2-3.4 16.8-1.8 3.1-1.7-4.1-3.4-18.7-1.7-4.3-1.7 3-3.4 16.1-1.7 2.8-1.7-4.5-3.4-19.3-1.7-4.6-1.8 2.7-3.4 15.5-1.7 2.5z"/><path fill="none" d="M126.4 1049l5.2-16.7 1.7-4 5.1 7.9 1.7 20.5 5.1-17.3 1.7-4.6 5.2 7.2 1.6 19.9 5.2-17.9 1.7-5.2 5.1 6.5 1.7 19.3 5.2-18.5 1.6-5.9 5.2 6 1.7 18.7 5.1-19.2 1.7-6.4 5.2 5.3 1.6 18 5.2-19.8 1.7-7 5.1 4.7 1.7 17.4 5.1-20.4 1.7-7.7 5.2 4.1 1.6 16.8 5.2-21 1.7-8.3 5.1 3.4 1.7 16.2 5.2-21.6 1.6-9 5.2 2.9 1.7 15.6 5.1-22.3 1.7-9.6 5.2 2.2 1.6 15"/></g>
<g transform="translate(-25.4 -10.9)"><path d="M128.2 1047.7l1.7-2.5 3.4-15.5 1.7-2.7 1.7 4.6 3.4 19.3 1.7 4.5 1.7-2.9 3.5-16.1 1.7-2.9 1.7 4.2 3.4 18.7 1.7 4.2 1.7-3.2 3.4-16.7 1.7-3.3 1.7 4 3.4 18.1 1.8 3.8 1.7-3.4 3.4-17.4 1.7-3.6 1.7 3.7 3.4 17.4 1.7 3.6 1.7-3.8 3.4-18 1.7-3.9 1.8 3.4 3.4 16.8 1.7 3.2 1.7-4.1 3.4-18.5 1.7-4.2 1.7 3 3.4 16.2 1.7 2.9 1.7-4.4 3.5-19.2 1.7-4.5 1.7 2.7 3.4 15.6 1.7 2.6 1.7-4.7 3.4-19.8 1.7-4.9 1.7 2.5 3.4 14.9 1.8 2.3 1.7-5 3.4-20.4 1.7-5.2 1.7 2.1 3.4 14.4 1.7 2 1.7-5.4 3.4-21 1.7-5.5 1.8 1.8 3.4 13.7 1.7 1.7-1.8-5.9-1.7-1.7-3.4-13.7-1.7-1.8-1.7 5.5-3.4 21-1.7 5.4-1.7-2-3.5-14.4-1.7-2.1-1.7 5.2-3.4 20.4-1.7 5-1.7-2.3-3.4-14.9-1.7-2.4-1.7 4.8-3.4 19.8-1.8 4.7-1.7-2.6-3.4-15.6-1.7-2.7-1.7 4.5-3.4 19.2-1.7 4.4-1.7-2.9-3.4-16.2-1.7-3-1.8 4.2-3.4 18.5-1.7 4.1-1.7-3.2-3.4-16.8-1.7-3.4-1.7 3.9-3.4 18-1.7 3.8-1.7-3.6-3.5-17.4-1.7-3.7-1.7 3.6-3.4 17.4-1.7 3.4-1.7-3.8-3.4-18.1-1.7-3.9-1.7 3.2-3.4 16.7-1.8 3.2-1.7-4.1-3.4-18.7-1.7-4.3-1.7 3-3.4 16.1-1.7 2.8-1.7-4.5-3.4-19.3-1.7-4.6-1.8 2.7-3.4 15.5-1.7 2.5z"/><path fill="none" d="M128.2 1047.7l1.6-16.1 5.2-4.6 1.7 8.4 5.1 20 1.7-16.8 5.2-5.1 1.6 7.7 5.2 19.4 1.7-17.4 5.1-5.8 1.7 7.2 5.2 18.7 1.6-18 5.2-6.4 1.6 6.5 5.2 18.2 1.7-18.7 5.1-7 1.7 5.9 5.2 17.5 1.6-19.2 5.2-7.6 1.7 5.2 5.1 16.9 1.7-19.9 5.2-8.2 1.6 4.6 5.2 16.3 1.7-20.5 5.1-8.9 1.7 4.1 5.2 15.6 1.6-21.1 5.2-9.5 1.7 3.4 5.1 15.1 1.7-21.8 5.1-10.1 1.7 2.8 5.2 14.4"/></g>
<g transform="translate(-23.6 -10.2)"><path d="M128.2 1059l1.7-2.6 3.4-15.4 1.7-2.7 1.7 4.6 3.4 19.3 1.7 4.5 1.7-2.9 3.5-16.1 1.7-2.9 1.7 4.2 3.4 18.7 1.7 4.2 1.7-3.2 3.4-16.7 1.7-3.3 1.7 4 3.4 18.1 1.8 3.8 1.7-3.5 3.4-17.3 1.7-3.6 1.7 3.7 3.4 17.4 1.7 3.5 1.7-3.7 3.4-18 1.7-3.9 1.8 3.3 3.4 16.9 1.7 3.2 1.7-4.1 3.4-18.6 1.7-4.2 1.7 3.1 3.4 16.2 1.7 2.9 1.7-4.4 3.5-19.2 1.7-4.5 1.7 2.7 3.4 15.6 1.7 2.6 1.7-4.7 3.4-19.8 1.7-4.9 1.7 2.4 3.4 15 1.8 2.3 1.7-5 3.4-20.5 1.7-5.1 1.7 2.1 3.4 14.3 1.7 2 1.7-5.3 3.4-21.1 1.7-5.4 1.8 1.8 3.4 13.7 1.7 1.7-1.8-12.1-1.7-1.6-3.4-13.8-1.7-1.7-1.7 5.4-3.4 21.1-1.7 5.3-1.7-2-3.5-14.3-1.7-2.1-1.7 5.1-3.4 20.4-1.7 5.1-1.7-2.3-3.4-15-1.7-2.4-1.7 4.8-3.4 19.8-1.8 4.8-1.7-2.6-3.4-15.6-1.7-2.8-1.7 4.6-3.4 19.2-1.7 4.4-1.7-3-3.4-16.2-1.7-3-1.8 4.2-3.4 18.6-1.7 4.1-1.7-3.2-3.4-16.9-1.7-3.3-1.7 3.9-3.4 17.9-1.7 3.8-1.7-3.5-3.5-17.5-1.7-3.6-1.7 3.6-3.4 17.3-1.7 3.5-1.7-3.9-3.4-18-1.7-4-1.7 3.3-3.4 16.7-1.8 3.1-1.7-4.1-3.4-18.7-1.7-4.3-1.7 3-3.4 16.1-1.7 2.8-1.7-4.4-3.4-19.3-1.7-4.6-1.8 2.6-3.4 15.5-1.7 2.5z"/><path fill="none" d="M126.4 1046.9l5.2 1.8 1.7-22.4 5.1 26.3 1.7 2 5.1 1.2 1.7-23.1 5.2 25.7 1.6 1.4 5.2 .6 1.7-23.7 5.1 25 1.7 .9 5.2-.1 1.6-24.3 5.2 24.4 1.7 .2 5.1-.7 1.7-24.9 5.2 23.8 1.6-.4 5.2-1.4 1.7-25.5 5.1 23.2 1.7-1 5.1-2 1.7-26.2 5.2 22.6 1.6-1.6 5.2-2.6 1.7-26.8 5.1 21.9 1.7-2.2 5.2-3.2 1.6-27.4 5.2 21.3 1.7-2.9 5.1-3.8 1.7-28 5.2 20.7 1.6-3.6"/></g>
<g transform="translate(-21.9 -9.4)"><path d="M128.2 1064l1.7-2.6 3.4-15.4 1.7-2.7 1.7 4.6 3.4 19.3 1.7 4.5 1.7-2.9 3.5-16.1 1.7-2.9 1.7 4.2 3.4 18.7 1.7 4.2 1.7-3.2 3.4-16.7 1.7-3.3 1.7 4 3.4 18.1 1.8 3.8 1.7-3.5 3.4-17.3 1.7-3.6 1.7 3.7 3.4 17.4 1.7 3.5 1.7-3.7 3.4-18 1.7-3.9 1.8 3.3 3.4 16.9 1.7 3.2 1.7-4.1 3.4-18.6 1.7-4.2 1.7 3.1 3.4 16.2 1.7 2.9 1.7-4.4 3.5-19.2 1.7-4.5 1.7 2.7 3.4 15.6 1.7 2.6 1.7-4.7 3.4-19.8 1.7-4.9 1.7 2.4 3.4 15 1.8 2.3 1.7-5 3.4-20.5 1.7-5.1 1.7 2.1 3.4 14.3 1.7 2 1.7-5.3 3.4-21.1 1.7-5.4 1.8 1.8 3.4 13.7 1.7 1.7-1.8-5.8-1.7-1.6-3.4-13.8-1.7-1.8-1.7 5.5-3.4 21-1.7 5.4-1.7-2-3.5-14.4-1.7-2.1-1.7 5.2-3.4 20.4-1.7 5-1.7-2.2-3.4-15-1.7-2.4-1.7 4.8-3.4 19.8-1.8 4.7-1.7-2.6-3.4-15.6-1.7-2.7-1.7 4.5-3.4 19.2-1.7 4.4-1.7-2.9-3.4-16.2-1.7-3-1.8 4.2-3.4 18.6-1.7 4.1-1.7-3.3-3.4-16.8-1.7-3.3-1.7 3.9-3.4 17.9-1.7 3.8-1.7-3.5-3.5-17.5-1.7-3.6-1.7 3.5-3.4 17.4-1.7 3.4-1.7-3.8-3.4-18.1-1.7-3.9-1.7 3.2-3.4 16.8-1.8 3.1-1.7-4.1-3.4-18.7-1.7-4.3-1.7 3-3.4 16.1-1.7 2.8-1.7-4.4-3.4-19.4-1.7-4.5-1.8 2.6-3.4 15.5-1.7 2.5z"/><path fill="none" d="M128.2 1064l1.6-16 5.2-4.7 1.7 8.5 5.1 19.9 1.7-16.7 5.2-5.2 1.6 7.8 5.2 19.3 1.7-17.3 5.1-5.9 1.7 7.3 5.2 18.6 1.6-17.9 5.2-6.5 1.6 6.6 5.2 18 1.7-18.4 5.1-7.2 1.7 6 5.2 17.4 1.6-19.1 5.2-7.8 1.7 5.4 5.1 16.8 1.7-19.8 5.2-8.3 1.6 4.7 5.2 16.2 1.7-20.4 5.1-9 1.7 4.2 5.2 15.5 1.6-21 5.2-9.6 1.7 3.5 5.1 14.9 1.7-21.6 5.1-10.2 1.7 2.9 5.2 14.3"/></g>
<g transform="translate(-20.1 -8.7)"><path d="M128.2 1056.5l1.7-2.5 3.4-15.5 1.7-2.7 1.7 4.6 3.4 19.3 1.7 4.5 1.7-2.9 3.5-16.1 1.7-2.9 1.7 4.2 3.4 18.7 1.7 4.2 1.7-3.2 3.4-16.7 1.7-3.3 1.7 4 3.4 18.1 1.8 3.8 1.7-3.5 3.4-17.3 1.7-3.6 1.7 3.7 3.4 17.4 1.7 3.6 1.7-3.8 3.4-18 1.7-3.9 1.8 3.4 3.4 16.8 1.7 3.2 1.7-4.1 3.4-18.5 1.7-4.3 1.7 3.1 3.4 16.2 1.7 2.9 1.7-4.4 3.5-19.2 1.7-4.5 1.7 2.7 3.4 15.6 1.7 2.6 1.7-4.7 3.4-19.8 1.7-4.9 1.7 2.4 3.4 15 1.8 2.3 1.7-5 3.4-20.4 1.7-5.2 1.7 2.1 3.4 14.4 1.7 1.9 1.7-5.3 3.4-21 1.7-5.5 1.8 1.8 3.4 13.7 1.7 1.7-1.8 6.7-1.7-1.6-3.4-13.8-1.7-1.8-1.7 5.5-3.4 21-1.7 5.4-1.7-2-3.5-14.4-1.7-2.1-1.7 5.2-3.4 20.4-1.7 5-1.7-2.2-3.4-15-1.7-2.4-1.7 4.8-3.4 19.8-1.8 4.7-1.7-2.6-3.4-15.6-1.7-2.7-1.7 4.5-3.4 19.2-1.7 4.4-1.7-2.9-3.4-16.2-1.7-3-1.8 4.2-3.4 18.6-1.7 4.1-1.7-3.3-3.4-16.8-1.7-3.3-1.7 3.9-3.4 17.9-1.7 3.8-1.7-3.5-3.5-17.5-1.7-3.6-1.7 3.5-3.4 17.4-1.7 3.4-1.7-3.8-3.4-18.1-1.7-3.9-1.7 3.2-3.4 16.8-1.8 3.1-1.7-4.1-3.4-18.7-1.7-4.3-1.7 3-3.4 16.1-1.7 2.8-1.7-4.4-3.4-19.4-1.7-4.5-1.8 2.6-3.4 15.5-1.7 2.5z"/><path fill="none" d="M126.4 1063.2l5.2-17 1.7-3.6 5.1 7.5 1.7 20.8 5.1-17.6 1.7-4.3 5.2 6.9 1.6 20.2 5.2-18.2 1.7-4.9 5.1 6.3 1.7 19.5 5.2-18.8 1.6-5.5 5.2 5.6 1.7 19 5.1-19.5 1.7-6.1 5.2 5 1.6 18.4 5.2-20.1 1.7-6.8 5.1 4.4 1.7 17.7 5.1-20.7 1.7-7.4 5.2 3.8 1.6 17.1 5.2-21.3 1.7-8 5.1 3.2 1.7 16.4 5.2-21.9 1.6-8.7 5.2 2.6 1.7 15.9 5.1-22.6 1.7-9.3 5.2 2 1.6 15.2"/></g>
<g transform="translate(-18.4 -7.9)"><path d="M128.2 1042.7l1.7-2.5 3.4-15.5 1.7-2.6 1.7 4.5 3.4 19.4 1.7 4.4 1.7-2.8 3.5-16.1 1.7-3 1.7 4.3 3.4 18.7 1.7 4.1 1.7-3.1 3.4-16.7 1.7-3.3 1.7 3.9 3.4 18.1 1.8 3.9 1.7-3.5 3.4-17.3 1.7-3.6 1.7 3.6 3.4 17.5 1.7 3.5 1.7-3.8 3.4-17.9 1.7-3.9 1.8 3.3 3.4 16.8 1.7 3.3 1.7-4.1 3.4-18.6 1.7-4.2 1.7 3 3.4 16.2 1.7 2.9 1.7-4.4 3.5-19.2 1.7-4.5 1.7 2.7 3.4 15.6 1.7 2.6 1.7-4.7 3.4-19.8 1.7-4.8 1.7 2.4 3.4 15 1.8 2.3 1.7-5.1 3.4-20.4 1.7-5.1 1.7 2.1 3.4 14.3 1.7 2 1.7-5.3 3.4-21.1 1.7-5.5 1.8 1.8 3.4 13.8 1.7 1.6-1.8 13-1.7-1.6-3.4-13.8-1.7-1.8-1.7 5.5-3.4 21.1-1.7 5.3-1.7-2-3.5-14.3-1.7-2.1-1.7 5.1-3.4 20.4-1.7 5.1-1.7-2.3-3.4-15-1.7-2.4-1.7 4.8-3.4 19.8-1.8 4.7-1.7-2.6-3.4-15.6-1.7-2.7-1.7 4.5-3.4 19.2-1.7 4.4-1.7-2.9-3.4-16.2-1.7-3-1.8 4.2-3.4 18.6-1.7 4.1-1.7-3.3-3.4-16.8-1.7-3.3-1.7 3.9-3.4 17.9-1.7 3.8-1.7-3.5-3.5-17.5-1.7-3.6-1.7 3.6-3.4 17.3-1.7 3.5-1.7-3.9-3.4-18.1-1.7-3.9-1.7 3.3-3.4 16.7-1.8 3.1-1.7-4.1-3.4-18.7-1.7-4.3-1.7 3-3.4 16.1-1.7 2.8-1.7-4.4-3.4-19.4-1.7-4.5-1.8 2.6-3.4 15.5-1.7 2.5z"/><path fill="none" d="M128.2 1042.7l1.6 2.8 5.2-23.4 1.7 27.2 5.1 1.1 1.7 2.2 5.2-24.1 1.6 26.7 5.2 .4 1.7 1.5 5.1-24.6 1.7 26 5.2-.1 1.6 .8 5.2-25.2 1.6 25.4 5.2-.8 1.7 .3 5.1-25.9 1.7 24.7 5.2-1.3 1.6-.4 5.2-26.5 1.7 24.1 5.1-2 1.7-.9 5.2-27.2 1.6 23.6 5.2-2.7 1.7-1.6 5.1-27.7 1.7 22.9 5.2-3.2 1.6-2.3 5.2-28.3 1.7 22.3 5.1-3.9 1.7-2.9 5.1-29 1.7 21.7 5.2-4.5"/></g>
<g transform="translate(-16.6 -7.2)"><path d="M128.2 1035.1l1.7-2.5 3.4-15.5 1.7-2.7 1.7 4.6 3.4 19.3 1.7 4.5 1.7-2.8 3.5-16.1 1.7-3 1.7 4.3 3.4 18.7 1.7 4.1 1.7-3.1 3.4-16.8 1.7-3.2 1.7 3.9 3.4 18.1 1.8 3.8 1.7-3.4 3.4-17.4 1.7-3.6 1.7 3.7 3.4 17.5 1.7 3.5 1.7-3.8 3.4-18 1.7-3.8 1.8 3.3 3.4 16.8 1.7 3.2 1.7-4 3.4-18.6 1.7-4.2 1.7 3 3.4 16.2 1.7 2.9 1.7-4.4 3.5-19.2 1.7-4.5 1.7 2.7 3.4 15.6 1.7 2.6 1.7-4.7 3.4-19.8 1.7-4.8 1.7 2.4 3.4 14.9 1.8 2.3 1.7-5 3.4-20.4 1.7-5.2 1.7 2.1 3.4 14.4 1.7 2 1.7-5.4 3.4-21 1.7-5.5 1.8 1.8 3.4 13.7 1.7 1.7-1.8 6.9-1.7-1.7-3.4-13.7-1.7-1.8-1.7 5.4-3.4 21.1-1.7 5.3-1.7-1.9-3.5-14.4-1.7-2.1-1.7 5.1-3.4 20.5-1.7 5-1.7-2.3-3.4-15-1.7-2.4-1.7 4.9-3.4 19.8-1.8 4.7-1.7-2.6-3.4-15.6-1.7-2.7-1.7 4.5-3.4 19.2-1.7 4.4-1.7-2.9-3.4-16.2-1.7-3.1-1.8 4.2-3.4 18.6-1.7 4.1-1.7-3.2-3.4-16.8-1.7-3.4-1.7 3.9-3.4 18-1.7 3.8-1.7-3.6-3.5-17.4-1.7-3.7-1.7 3.6-3.4 17.3-1.7 3.5-1.7-3.8-3.4-18.1-1.7-4-1.7 3.3-3.4 16.7-1.8 3.2-1.7-4.2-3.4-18.7-1.7-4.2-1.7 2.9-3.4 16.1-1.7 2.9-1.7-4.5-3.4-19.3-1.7-4.6-1.8 2.7-3.4 15.4-1.7 2.6z"/><path fill="none" d="M126.4 1042l5.2-17.1 1.7-3.6 5.1 7.4 1.7 21 5.1-17.8 1.7-4.1 5.2 6.7 1.6 20.4 5.2-18.4 1.7-4.8 5.1 6.2 1.7 19.7 5.2-19 1.6-5.4 5.2 5.5 1.7 19.2 5.1-19.7 1.7-6 5.2 4.9 1.6 18.5 5.2-20.2 1.7-6.7 5.1 4.3 1.7 17.9 5.1-20.9 1.7-7.2 5.2 3.6 1.6 17.3 5.2-21.5 1.7-7.9 5.1 3.1 1.7 16.6 5.2-22.1 1.6-8.5 5.2 2.4 1.7 16 5.1-22.7 1.7-9.1 5.2 1.8 1.6 15.4"/></g>
<g transform="translate(-14.9 -6.4)"><path d="M128.2 1039.8l1.7-2.5 3.4-15.5 1.7-2.6 1.7 4.5 3.4 19.4 1.7 4.4 1.7-2.8 3.5-16.1 1.7-3 1.7 4.3 3.4 18.7 1.7 4.1 1.7-3.1 3.4-16.7 1.7-3.3 1.7 3.9 3.4 18.1 1.8 3.9 1.7-3.5 3.4-17.3 1.7-3.6 1.7 3.6 3.4 17.5 1.7 3.5 1.7-3.8 3.4-17.9 1.7-3.9 1.8 3.3 3.4 16.9 1.7 3.2 1.7-4.1 3.4-18.6 1.7-4.2 1.7 3 3.4 16.2 1.7 2.9 1.7-4.4 3.5-19.2 1.7-4.5 1.7 2.7 3.4 15.6 1.7 2.6 1.7-4.7 3.4-19.8 1.7-4.8 1.7 2.4 3.4 15 1.8 2.3 1.7-5.1 3.4-20.4 1.7-5.1 1.7 2.1 3.4 14.3 1.7 2 1.7-5.3 3.4-21.1 1.7-5.4 1.8 1.7 3.4 13.8 1.7 1.6-1.8-5.4-1.7-1.7-3.4-13.7-1.7-1.8-1.7 5.4-3.4 21.1-1.7 5.3-1.7-2-3.5-14.3-1.7-2.1-1.7 5.1-3.4 20.5-1.7 5-1.7-2.3-3.4-15-1.7-2.4-1.7 4.8-3.4 19.9-1.8 4.7-1.7-2.6-3.4-15.6-1.7-2.7-1.7 4.5-3.4 19.2-1.7 4.4-1.7-2.9-3.4-16.3-1.7-3-1.8 4.2-3.4 18.6-1.7 4.1-1.7-3.2-3.4-16.9-1.7-3.3-1.7 3.9-3.4 18-1.7 3.7-1.7-3.5-3.5-17.5-1.7-3.6-1.7 3.6-3.4 17.3-1.7 3.5-1.7-3.9-3.4-18-1.7-4-1.7 3.3-3.4 16.7-1.8 3.2-1.7-4.2-3.4-18.7-1.7-4.3-1.7 3-3.4 16.1-1.7 2.9-1.7-4.5-3.4-19.3-1.7-4.6-1.8 2.6-3.4 15.5-1.7 2.6z"/><path fill="none" d="M128.2 1039.8l1.6-15.7 5.2-4.9 1.7 8.7 5.1 19.6 1.7-16.3 5.2-5.6 1.6 8.2 5.2 18.9 1.7-16.9 5.1-6.2 1.7 7.5 5.2 18.4 1.6-17.6 5.2-6.8 1.6 6.9 5.2 17.7 1.7-18.2 5.1-7.4 1.7 6.3 5.2 17.1 1.6-18.9 5.2-8 1.7 5.7 5.1 16.4 1.7-19.4 5.2-8.7 1.6 5.1 5.2 15.8 1.7-20 5.1-9.3 1.7 4.4 5.2 15.3 1.6-20.7 5.2-9.9 1.7 3.8 5.1 14.6 1.7-21.3 5.1-10.5 1.7 3.1 5.2 14"/></g>
<g transform="translate(-13.1 -5.7)"><path d="M128.2 1050.7l1.7-2.5 3.4-15.5 1.7-2.7 1.7 4.6 3.4 19.3 1.7 4.5 1.7-2.9 3.5-16.1 1.7-2.9 1.7 4.2 3.4 18.7 1.7 4.2 1.7-3.2 3.4-16.7 1.7-3.3 1.7 4 3.4 18.1 1.8 3.8 1.7-3.4 3.4-17.4 1.7-3.6 1.7 3.7 3.4 17.4 1.7 3.6 1.7-3.8 3.4-18 1.7-3.9 1.8 3.4 3.4 16.8 1.7 3.2 1.7-4.1 3.4-18.5 1.7-4.2 1.7 3 3.4 16.2 1.7 2.9 1.7-4.4 3.5-19.2 1.7-4.5 1.7 2.7 3.4 15.6 1.7 2.6 1.7-4.7 3.4-19.8 1.7-4.9 1.7 2.5 3.4 14.9 1.8 2.3 1.7-5 3.4-20.4 1.7-5.2 1.7 2.1 3.4 14.4 1.7 2 1.7-5.4 3.4-21 1.7-5.5 1.8 1.8 3.4 13.7 1.7 1.7-1.8-11.6-1.7-1.7-3.4-13.7-1.7-1.8-1.7 5.4-3.4 21.1-1.7 5.3-1.7-1.9-3.5-14.4-1.7-2.1-1.7 5.1-3.4 20.5-1.7 5-1.7-2.3-3.4-15-1.7-2.4-1.7 4.9-3.4 19.8-1.8 4.7-1.7-2.6-3.4-15.6-1.7-2.7-1.7 4.5-3.4 19.2-1.7 4.4-1.7-2.9-3.4-16.2-1.7-3.1-1.8 4.2-3.4 18.6-1.7 4.1-1.7-3.2-3.4-16.8-1.7-3.4-1.7 3.9-3.4 18-1.7 3.8-1.7-3.6-3.5-17.4-1.7-3.7-1.7 3.6-3.4 17.3-1.7 3.5-1.7-3.8-3.4-18.1-1.7-4-1.7 3.3-3.4 16.7-1.8 3.2-1.7-4.2-3.4-18.7-1.7-4.2-1.7 2.9-3.4 16.1-1.7 2.9-1.7-4.5-3.4-19.3-1.7-4.6-1.8 2.7-3.4 15.4-1.7 2.6z"/><path fill="none" d="M126.4 1039.1l5.2 1.3 1.7-22 5.1 25.9 1.7 2.5 5.1 .7 1.7-22.6 5.2 25.2 1.6 1.9 5.2 .1 1.7-23.3 5.1 24.7 1.7 1.2 5.2-.5 1.6-23.9 5.2 24 1.7 .7 5.1-1.2 1.7-24.5 5.2 23.4 1.6 0 5.2-1.7 1.7-25.2 5.1 22.8 1.7-.6 5.1-2.4 1.7-25.7 5.2 22.1 1.6-1.2 5.2-3 1.7-26.4 5.1 21.6 1.7-1.9 5.2-3.6 1.6-27 5.2 20.9 1.7-2.5 5.1-4.2 1.7-27.6 5.2 20.3 1.6-3.1"/></g>
<g transform="translate(-11.4 -4.9)"><path d="M128.2 1055.3l1.7-2.6 3.4-15.4 1.7-2.7 1.7 4.6 3.4 19.3 1.7 4.5 1.7-2.9 3.5-16.1 1.7-2.9 1.7 4.2 3.4 18.7 1.7 4.2 1.7-3.2 3.4-16.7 1.7-3.3 1.7 4 3.4 18.1 1.8 3.8 1.7-3.5 3.4-17.3 1.7-3.6 1.7 3.7 3.4 17.4 1.7 3.6 1.7-3.8 3.4-18 1.7-3.9 1.8 3.4 3.4 16.8 1.7 3.2 1.7-4.1 3.4-18.6 1.7-4.2 1.7 3.1 3.4 16.2 1.7 2.9 1.7-4.4 3.5-19.2 1.7-4.5 1.7 2.7 3.4 15.6 1.7 2.6 1.7-4.7 3.4-19.8 1.7-4.9 1.7 2.4 3.4 15 1.8 2.3 1.7-5 3.4-20.5 1.7-5.1 1.7 2.1 3.4 14.4 1.7 1.9 1.7-5.3 3.4-21.1 1.7-5.4 1.8 1.8 3.4 13.7 1.7 1.7-1.8-5.4-1.7-1.6-3.4-13.8-1.7-1.7-1.7 5.4-3.4 21.1-1.7 5.3-1.7-2-3.5-14.3-1.7-2.1-1.7 5.1-3.4 20.4-1.7 5.1-1.7-2.3-3.4-15-1.7-2.4-1.7 4.8-3.4 19.8-1.8 4.8-1.7-2.6-3.4-15.6-1.7-2.8-1.7 4.6-3.4 19.2-1.7 4.4-1.7-3-3.4-16.2-1.7-3-1.8 4.2-3.4 18.6-1.7 4.1-1.7-3.2-3.4-16.9-1.7-3.3-1.7 3.9-3.4 17.9-1.7 3.8-1.7-3.5-3.5-17.5-1.7-3.6-1.7 3.6-3.4 17.3-1.7 3.5-1.7-3.9-3.4-18-1.7-4-1.7 3.3-3.4 16.7-1.8 3.1-1.7-4.1-3.4-18.7-1.7-4.3-1.7 3-3.4 16.1-1.7 2.8-1.7-4.4-3.4-19.3-1.7-4.6-1.8 2.6-3.4 15.5-1.7 2.5z"/><path fill="none" d="M128.2 1055.3l1.6-15.6 5.2-5.1 1.7 8.9 5.1 19.5 1.7-16.2 5.2-5.7 1.6 8.3 5.2 18.8 1.7-16.9 5.1-6.3 1.7 7.7 5.2 18.2 1.6-17.4 5.2-7 1.6 7.1 5.2 17.6 1.7-18.1 5.1-7.6 1.7 6.5 5.2 16.9 1.6-18.7 5.2-8.2 1.7 5.9 5.1 16.3 1.7-19.3 5.2-8.8 1.6 5.2 5.2 15.7 1.7-19.9 5.1-9.5 1.7 4.6 5.2 15.1 1.6-20.6 5.2-10 1.7 4 5.1 14.4 1.7-21.1 5.1-10.7 1.7 3.3 5.2 13.9"/></g>
<g transform="translate(-9.6 -4.2)"><path d="M128.2 1047.4l1.7-2.5 3.4-15.5 1.7-2.7 1.7 4.6 3.4 19.3 1.7 4.5 1.7-2.9 3.5-16.1 1.7-2.9 1.7 4.2 3.4 18.7 1.7 4.2 1.7-3.2 3.4-16.7 1.7-3.3 1.7 4 3.4 18.1 1.8 3.8 1.7-3.5 3.4-17.3 1.7-3.6 1.7 3.7 3.4 17.4 1.7 3.6 1.7-3.8 3.4-18 1.7-3.9 1.8 3.4 3.4 16.8 1.7 3.2 1.7-4.1 3.4-18.5 1.7-4.3 1.7 3.1 3.4 16.2 1.7 2.9 1.7-4.4 3.5-19.2 1.7-4.5 1.7 2.7 3.4 15.6 1.7 2.6 1.7-4.7 3.4-19.8 1.7-4.9 1.7 2.4 3.4 15 1.8 2.3 1.7-5 3.4-20.5 1.7-5.1 1.7 2.1 3.4 14.4 1.7 1.9 1.7-5.3 3.4-21.1 1.7-5.4 1.8 1.8 3.4 13.7 1.7 1.7-1.8 7.1-1.7-1.6-3.4-13.8-1.7-1.8-1.7 5.5-3.4 21.1-1.7 5.3-1.7-2-3.5-14.4-1.7-2-1.7 5.1-3.4 20.4-1.7 5.1-1.7-2.3-3.4-15-1.7-2.4-1.7 4.8-3.4 19.8-1.8 4.7-1.7-2.6-3.4-15.6-1.7-2.7-1.7 4.5-3.4 19.2-1.7 4.4-1.7-2.9-3.4-16.2-1.7-3-1.8 4.2-3.4 18.6-1.7 4.1-1.7-3.3-3.4-16.8-1.7-3.3-1.7 3.9-3.4 17.9-1.7 3.8-1.7-3.5-3.5-17.5-1.7-3.6-1.7 3.6-3.4 17.3-1.7 3.5-1.7-3.9-3.4-18.1-1.7-3.9-1.7 3.3-3.4 16.7-1.8 3.1-1.7-4.1-3.4-18.7-1.7-4.3-1.7 3-3.4 16.1-1.7 2.8-1.7-4.4-3.4-19.4-1.7-4.5-1.8 2.6-3.4 15.5-1.7 2.5z"/><path fill="none" d="M126.4 1054.5l5.2-17.4 1.7-3.2 5.1 7.1 1.7 21.2 5.1-18 1.7-3.9 5.2 6.5 1.6 20.6 5.2-18.6 1.7-4.5 5.1 5.9 1.7 20 5.2-19.3 1.6-5.1 5.2 5.2 1.7 19.4 5.1-19.9 1.7-5.7 5.2 4.6 1.6 18.8 5.2-20.5 1.7-6.4 5.1 4 1.7 18.1 5.1-21.1 1.7-7 5.2 3.4 1.6 17.5 5.2-21.7 1.7-7.6 5.1 2.8 1.7 16.9 5.2-22.4 1.6-8.2 5.2 2.1 1.7 16.3 5.1-23 1.7-8.9 5.2 1.6 1.6 15.6"/></g>
<g transform="translate(-7.9 -3.4)"><path d="M128.2 1033.2l1.7-2.5 3.4-15.5 1.7-2.6 1.7 4.5 3.4 19.3 1.7 4.5 1.7-2.8 3.5-16.1 1.7-3 1.7 4.3 3.4 18.7 1.7 4.1 1.7-3.1 3.4-16.8 1.7-3.2 1.7 3.9 3.4 18.1 1.8 3.8 1.7-3.4 3.4-17.4 1.7-3.5 1.7 3.6 3.4 17.5 1.7 3.5 1.7-3.8 3.4-17.9 1.7-3.9 1.8 3.3 3.4 16.8 1.7 3.3 1.7-4.1 3.4-18.6 1.7-4.2 1.7 3 3.4 16.2 1.7 2.9 1.7-4.4 3.5-19.2 1.7-4.5 1.7 2.7 3.4 15.6 1.7 2.6 1.7-4.7 3.4-19.8 1.7-4.8 1.7 2.4 3.4 15 1.8 2.2 1.7-5 3.4-20.4 1.7-5.2 1.7 2.1 3.4 14.4 1.7 2 1.7-5.4 3.4-21 1.7-5.5 1.8 1.8 3.4 13.8 1.7 1.6-1.8 13.4-1.7-1.6-3.4-13.8-1.7-1.8-1.7 5.5-3.4 21.1-1.7 5.3-1.7-2-3.5-14.3-1.7-2.1-1.7 5.1-3.4 20.4-1.7 5.1-1.7-2.3-3.4-15-1.7-2.4-1.7 4.8-3.4 19.8-1.8 4.7-1.7-2.6-3.4-15.6-1.7-2.7-1.7 4.5-3.4 19.2-1.7 4.4-1.7-2.9-3.4-16.2-1.7-3-1.8 4.2-3.4 18.6-1.7 4.1-1.7-3.3-3.4-16.8-1.7-3.3-1.7 3.9-3.4 17.9-1.7 3.8-1.7-3.5-3.5-17.5-1.7-3.6-1.7 3.6-3.4 17.3-1.7 3.5-1.7-3.9-3.4-18.1-1.7-3.9-1.7 3.3-3.4 16.7-1.8 3.1-1.7-4.1-3.4-18.7-1.7-4.3-1.7 3-3.4 16.1-1.7 2.8-1.7-4.4-3.4-19.4-1.7-4.5-1.8 2.6-3.4 15.5-1.7 2.5z"/><path fill="none" d="M128.2 1033.2l1.6 3.2 5.2-23.8 1.7 27.6 5.1 .7 1.7 2.5 5.2-24.4 1.6 27.1 5.2 0 1.7 1.9 5.1-25 1.7 26.4 5.2-.6 1.6 1.3 5.2-25.6 1.6 25.8 5.2-1.2 1.7 .7 5.1-26.3 1.7 25.1 5.2-1.7 1.6 0 5.2-26.9 1.7 24.5 5.1-2.4 1.7-.5 5.2-27.6 1.6 24 5.2-3.1 1.7-1.2 5.1-28.1 1.7 23.3 5.2-3.7 1.6-1.8 5.2-28.8 1.7 22.7 5.1-4.2 1.7-2.5 5.1-29.4 1.7 22.1 5.2-4.9"/></g>
<g transform="translate(-6.1 -2.6)"><path d="M128.2 1025.2l1.7-2.6 3.4-15.4 1.7-2.7 1.7 4.6 3.4 19.3 1.7 4.5 1.7-2.9 3.5-16.1 1.7-2.9 1.7 4.2 3.4 18.7 1.7 4.2 1.7-3.2 3.4-16.7 1.7-3.3 1.7 4 3.4 18.1 1.8 3.8 1.7-3.5 3.4-17.3 1.7-3.6 1.7 3.7 3.4 17.4 1.7 3.6 1.7-3.8 3.4-18 1.7-3.9 1.8 3.4 3.4 16.8 1.7 3.2 1.7-4.1 3.4-18.6 1.7-4.2 1.7 3.1 3.4 16.2 1.7 2.9 1.7-4.4 3.5-19.2 1.7-4.5 1.7 2.7 3.4 15.6 1.7 2.6 1.7-4.7 3.4-19.8 1.7-4.9 1.7 2.4 3.4 15 1.8 2.3 1.7-5 3.4-20.5 1.7-5.1 1.7 2.1 3.4 14.4 1.7 1.9 1.7-5.3 3.4-21.1 1.7-5.4 1.8 1.8 3.4 13.7 1.7 1.7-1.8 7.3-1.7-1.7-3.4-13.7-1.7-1.8-1.7 5.4-3.4 21.1-1.7 5.3-1.7-2-3.5-14.3-1.7-2.1-1.7 5.1-3.4 20.5-1.7 5-1.7-2.3-3.4-15-1.7-2.4-1.7 4.8-3.4 19.9-1.8 4.7-1.7-2.6-3.4-15.6-1.7-2.7-1.7 4.5-3.4 19.2-1.7 4.4-1.7-2.9-3.4-16.3-1.7-3-1.8 4.2-3.4 18.6-1.7 4.1-1.7-3.2-3.4-16.9-1.7-3.3-1.7 3.9-3.4 18-1.7 3.7-1.7-3.5-3.5-17.5-1.7-3.6-1.7 3.6-3.4 17.3-1.7 3.5-1.7-3.8-3.4-18.1-1.7-4-1.7 3.3-3.4 16.7-1.8 3.2-1.7-4.2-3.4-18.7-1.7-4.3-1.7 3-3.4 16.1-1.7 2.9-1.7-4.5-3.4-19.3-1.7-4.6-1.8 2.7-3.4 15.4-1.7 2.6z"/><path fill="none" d="M126.4 1032.5l5.2-17.6 1.7-3.1 5.1 7 1.7 21.4 5.1-18.2 1.7-3.8 5.2 6.4 1.6 20.8 5.2-18.8 1.7-4.4 5.1 5.8 1.7 20.1 5.2-19.4 1.6-5 5.2 5.1 1.7 19.5 5.1-20 1.7-5.6 5.2 4.5 1.6 18.9 5.2-20.6 1.7-6.3 5.1 3.9 1.7 18.3 5.1-21.3 1.7-6.8 5.2 3.2 1.6 17.7 5.2-21.9 1.7-7.5 5.1 2.6 1.7 17.1 5.2-22.5 1.6-8.1 5.2 2 1.7 16.4 5.1-23.1 1.7-8.7 5.2 1.4 1.6 15.8"/></g>
<g transform="translate(-4.4 -1.9)"><path d="M128.2 1029.5l1.7-2.5 3.4-15.5 1.7-2.7 1.7 4.6 3.4 19.3 1.7 4.5 1.7-2.9 3.5-16.1 1.7-2.9 1.7 4.2 3.4 18.7 1.7 4.2 1.7-3.2 3.4-16.7 1.7-3.3 1.7 4 3.4 18.1 1.8 3.8 1.7-3.4 3.4-17.4 1.7-3.6 1.7 3.7 3.4 17.4 1.7 3.6 1.7-3.8 3.4-18 1.7-3.9 1.8 3.4 3.4 16.8 1.7 3.2 1.7-4.1 3.4-18.5 1.7-4.2 1.7 3 3.4 16.2 1.7 2.9 1.7-4.4 3.5-19.2 1.7-4.5 1.7 2.7 3.4 15.6 1.7 2.6 1.7-4.7 3.4-19.8 1.7-4.9 1.7 2.4 3.4 15 1.8 2.3 1.7-5 3.4-20.4 1.7-5.2 1.7 2.1 3.4 14.4 1.7 1.9 1.7-5.3 3.4-21 1.7-5.5 1.8 1.8 3.4 13.7 1.7 1.7-1.8-5.1-1.7-1.6-3.4-13.8-1.7-1.8-1.7 5.5-3.4 21.1-1.7 5.3-1.7-2-3.5-14.4-1.7-2-1.7 5.1-3.4 20.4-1.7 5.1-1.7-2.3-3.4-15-1.7-2.4-1.7 4.8-3.4 19.8-1.8 4.7-1.7-2.6-3.4-15.6-1.7-2.7-1.7 4.5-3.4 19.2-1.7 4.4-1.7-2.9-3.4-16.2-1.7-3-1.8 4.2-3.4 18.6-1.7 4.1-1.7-3.3-3.4-16.8-1.7-3.3-1.7 3.9-3.4 17.9-1.7 3.8-1.7-3.5-3.5-17.5-1.7-3.6-1.7 3.6-3.4 17.3-1.7 3.5-1.7-3.9-3.4-18.1-1.7-3.9-1.7 3.3-3.4 16.7-1.8 3.1-1.7-4.1-3.4-18.7-1.7-4.3-1.7 3-3.4 16.1-1.7 2.8-1.7-4.4-3.4-19.4-1.7-4.5-1.8 2.6-3.4 15.5-1.7 2.5z"/><path fill="none" d="M128.2 1029.5l1.6-15.3 5.2-5.4 1.7 9.2 5.1 19.2 1.7-16 5.2-5.9 1.6 8.5 5.2 18.6 1.7-16.6 5.1-6.6 1.7 8 5.2 17.9 1.6-17.2 5.2-7.2 1.6 7.4 5.2 17.3 1.7-17.8 5.1-7.9 1.7 6.7 5.2 16.7 1.6-18.4 5.2-8.4 1.7 6 5.1 16.1 1.7-19 5.2-9.1 1.6 5.5 5.2 15.4 1.7-19.7 5.1-9.7 1.7 4.9 5.2 14.8 1.6-20.3 5.2-10.3 1.7 4.2 5.1 14.2 1.7-20.9 5.1-10.9 1.7 3.6 5.2 13.6"/></g>
<g transform="translate(-2.6 -1.1)"><path d="M128.2 1039.9l1.7-2.5 3.4-15.5 1.7-2.6 1.7 4.6 3.4 19.3 1.7 4.4 1.7-2.8 3.5-16.1 1.7-3 1.7 4.3 3.4 18.7 1.7 4.1 1.7-3.1 3.4-16.7 1.7-3.3 1.7 3.9 3.4 18.1 1.8 3.9 1.7-3.5 3.4-17.3 1.7-3.6 1.7 3.6 3.4 17.5 1.7 3.5 1.7-3.8 3.4-17.9 1.7-3.9 1.8 3.3 3.4 16.9 1.7 3.2 1.7-4.1 3.4-18.6 1.7-4.2 1.7 3 3.4 16.2 1.7 3 1.7-4.4 3.5-19.2 1.7-4.6 1.7 2.8 3.4 15.5 1.7 2.6 1.7-4.7 3.4-19.8 1.7-4.8 1.7 2.4 3.4 15 1.8 2.3 1.7-5.1 3.4-20.4 1.7-5.1 1.7 2.1 3.4 14.3 1.7 2 1.7-5.3 3.4-21.1 1.7-5.4 1.8 1.7 3.4 13.8 1.7 1.6-1.8-11.2-1.7-1.6-3.4-13.8-1.7-1.7-1.7 5.4-3.4 21.1-1.7 5.3-1.7-2-3.5-14.3-1.7-2.1-1.7 5.1-3.4 20.4-1.7 5.1-1.7-2.3-3.4-15-1.7-2.4-1.7 4.8-3.4 19.8-1.8 4.7-1.7-2.6-3.4-15.6-1.7-2.7-1.7 4.6-3.4 19.2-1.7 4.4-1.7-3-3.4-16.2-1.7-3-1.8 4.2-3.4 18.6-1.7 4.1-1.7-3.2-3.4-16.9-1.7-3.3-1.7 3.9-3.4 17.9-1.7 3.8-1.7-3.5-3.5-17.5-1.7-3.6-1.7 3.6-3.4 17.3-1.7 3.5-1.7-3.9-3.4-18.1-1.7-3.9-1.7 3.3-3.4 16.7-1.8 3.1-1.7-4.1-3.4-18.7-1.7-4.3-1.7 3-3.4 16.1-1.7 2.8-1.7-4.4-3.4-19.4-1.7-4.5-1.8 2.6-3.4 15.5-1.7 2.5z"/><path fill="none" d="M126.4 1028.7l5.2 1 1.7-21.6 5.1 25.4 1.7 2.9 5.1 .4 1.7-22.3 5.2 24.9 1.6 2.2 5.2-.3 1.7-22.8 5.1 24.2 1.7 1.7 5.2-.9 1.6-23.5 5.2 23.6 1.7 1 5.1-1.5 1.7-24.1 5.2 23 1.6 .4 5.2-2.2 1.7-24.7 5.1 22.4 1.7-.2 5.1-2.8 1.7-25.4 5.2 21.8 1.6-.9 5.2-3.4 1.7-25.9 5.1 21.1 1.7-1.4 5.2-4.1 1.6-26.5 5.2 20.5 1.7-2.1 5.1-4.6 1.7-27.2 5.2 19.8 1.6-2.7"/></g>
<g transform="translate(-.9 -.4)"><path d="M128.2 1044.1l1.7-2.5 3.4-15.5 1.7-2.7 1.7 4.6 3.4 19.3 1.7 4.5 1.7-2.8 3.5-16.1 1.7-3 1.7 4.3 3.4 18.7 1.7 4.1 1.7-3.1 3.4-16.8 1.7-3.2 1.7 3.9 3.4 18.1 1.8 3.8 1.7-3.4 3.4-17.4 1.7-3.6 1.7 3.7 3.4 17.5 1.7 3.5 1.7-3.8 3.4-18 1.7-3.8 1.8 3.3 3.4 16.8 1.7 3.2 1.7-4 3.4-18.6 1.7-4.2 1.7 3 3.4 16.2 1.7 2.9 1.7-4.4 3.5-19.2 1.7-4.5 1.7 2.7 3.4 15.6 1.7 2.6 1.7-4.7 3.4-19.8 1.7-4.8 1.7 2.4 3.4 14.9 1.8 2.3 1.7-5 3.4-20.4 1.7-5.2 1.7 2.1 3.4 14.4 1.7 2 1.7-5.4 3.4-21 1.7-5.5 1.8 1.8 3.4 13.7 1.7 1.7-1.8-4.9-1.7-1.7-3.4-13.7-1.7-1.8-1.7 5.4-3.4 21.1-1.7 5.3-1.7-1.9-3.5-14.4-1.7-2.1-1.7 5.1-3.4 20.5-1.7 5-1.7-2.3-3.4-15-1.7-2.4-1.7 4.9-3.4 19.8-1.8 4.7-1.7-2.6-3.4-15.6-1.7-2.7-1.7 4.5-3.4 19.2-1.7 4.4-1.7-2.9-3.4-16.2-1.7-3.1-1.8 4.3-3.4 18.5-1.7 4.1-1.7-3.2-3.4-16.8-1.7-3.4-1.7 3.9-3.4 18-1.7 3.8-1.7-3.6-3.5-17.4-1.7-3.7-1.7 3.6-3.4 17.3-1.7 3.5-1.7-3.8-3.4-18.1-1.7-4-1.7 3.3-3.4 16.7-1.8 3.2-1.7-4.2-3.4-18.7-1.7-4.2-1.7 2.9-3.4 16.1-1.7 2.9-1.7-4.5-3.4-19.3-1.7-4.6-1.8 2.7-3.4 15.4-1.7 2.6z"/><path fill="none" d="M128.2 1044.1l1.6-15.2 5.2-5.5 1.7 9.4 5.1 19 1.7-15.8 5.2-6.1 1.6 8.7 5.2 18.4 1.7-16.4 5.1-6.7 1.7 8.1 5.2 17.7 1.6-17 5.2-7.4 1.6 7.5 5.2 17.2 1.7-17.7 5.1-7.9 1.7 6.8 5.2 16.5 1.6-18.2 5.2-8.6 1.7 6.2 5.1 15.9 1.7-18.9 5.2-9.2 1.6 5.6 5.2 15.3 1.7-19.5 5.1-9.8 1.7 4.9 5.2 14.7 1.6-20.1 5.2-10.5 1.7 4.4 5.1 14.1 1.7-20.8 5.1-11.1 1.7 3.8 5.2 13.4"/></g>
</g>
<path d="M22.3 1060.5L22.3 961.2M22.3 1060.5L127.3 1105.8M127.3 1105.8L263.9 1071M22.3 1060.5h-2M22.3 1035.7h-2M22.3 1010.9h-2M22.3 986h-2M22.3 961.2h-2M127.3 1105.8l-1.6 1.2M74.8 1083.2l-1.6 1.2M22.3 1060.5l-1.6 1.2M127.3 1105.8l1.4 1.4M195.6 1088.4l1.4 1.4M263.9 1071l1.4 1.4" fill="none" stroke="#606060" stroke-width=".6"/>
<text x="16.3" y="1063.1" font-size="7.3" text-anchor="end" fill="#262626">0</text>
<text x="16.3" y="1038.3" font-size="7.3" text-anchor="end" fill="#262626">20</text>
<text x="16.3" y="1013.5" font-size="7.3" text-anchor="end" fill="#262626">40</text>
<text x="16.3" y="988.7" font-size="7.3" text-anchor="end" fill="#262626">60</text>
<text x="16.3" y="963.8" font-size="7.3" text-anchor="end" fill="#262626">80</text>
<text x="120.9" y="1115.7" font-size="7.3" text-anchor="end" fill="#262626">-5</text>
<text x="68.4" y="1093.1" font-size="7.3" text-anchor="end" fill="#262626">0</text>
<text x="15.9" y="1070.4" font-size="7.3" text-anchor="end" fill="#262626">5</text>
<text x="133.6" y="1116.3" font-size="7.3" text-anchor="start" fill="#262626">-5</text>
<text x="201.9" y="1098.9" font-size="7.3" text-anchor="start" fill="#262626">0</text>
<text x="270.2" y="1081.5" font-size="7.3" text-anchor="start" fill="#262626">5</text>
</svg></body></html>
